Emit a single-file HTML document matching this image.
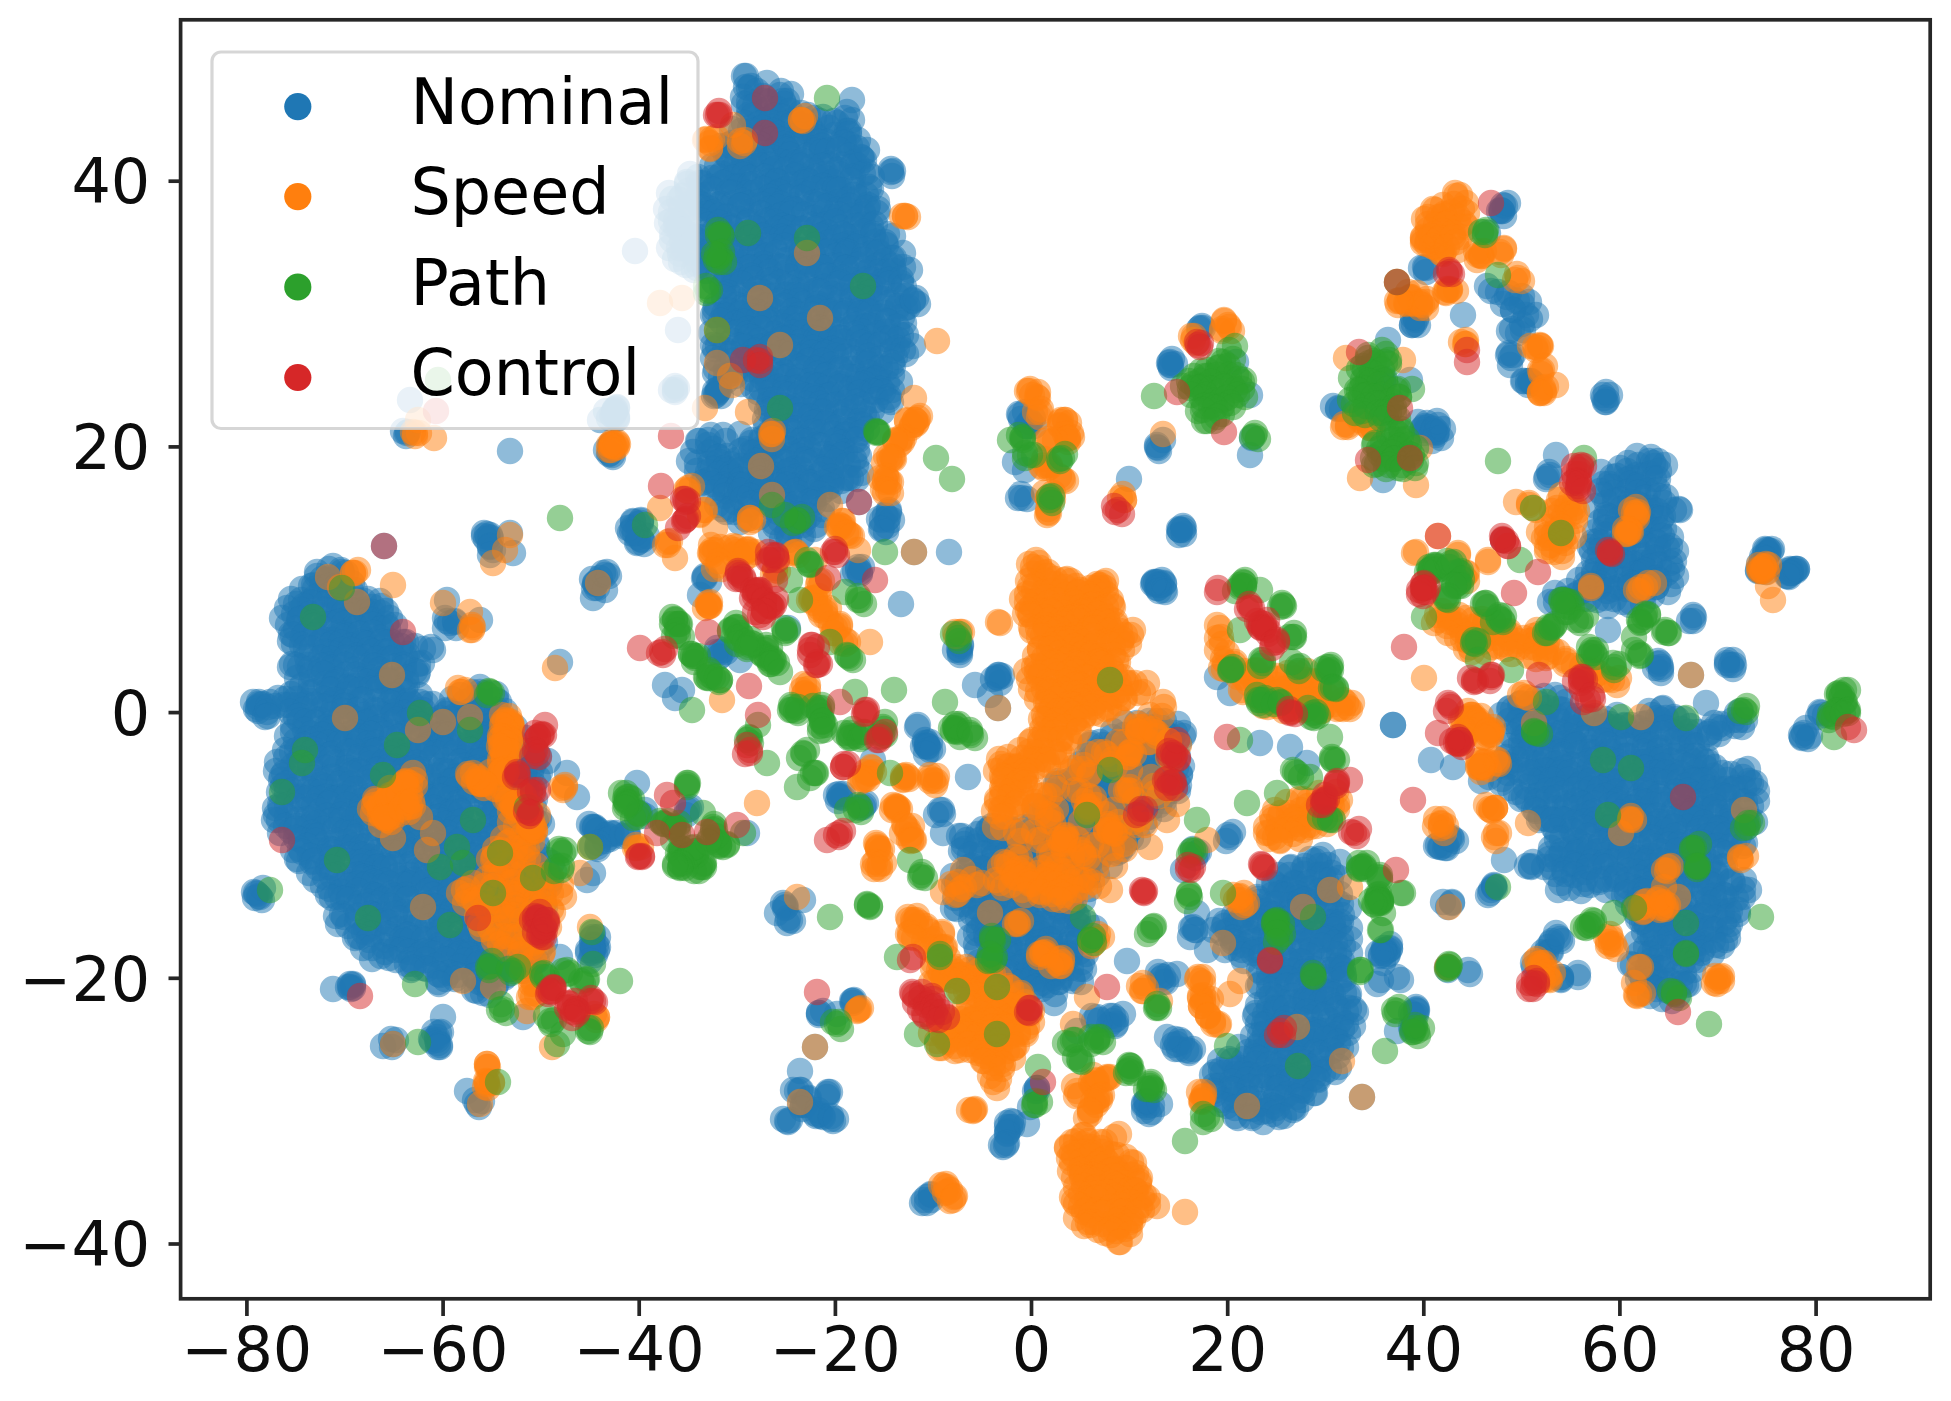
<!DOCTYPE html>
<html><head><meta charset="utf-8"><title>t-SNE scatter</title>
<style>
html,body{margin:0;padding:0;background:#fff;}
body{width:1951px;height:1401px;overflow:hidden;}
svg{display:block;font-family:"DejaVu Sans","Liberation Sans",sans-serif;font-size:62px;}
</style></head><body>
<svg width="1951" height="1401" viewBox="0 0 1951 1401">
<rect width="1951" height="1401" fill="#fff"/>
<clipPath id="cp"><rect x="180" y="20" width="1750" height="1278"/></clipPath>
<g clip-path="url(#cp)" fill-opacity="0.5">
<g fill="#1f77b4">
<circle cx="317" cy="572" r="13.2"/>
<circle cx="329" cy="569" r="13.2"/>
<circle cx="333" cy="566" r="13.2"/>
<circle cx="341" cy="570" r="13.2"/>
<circle cx="317" cy="576" r="13.2"/>
<circle cx="322" cy="579" r="13.2"/>
<circle cx="330" cy="578" r="13.2"/>
<circle cx="342" cy="572" r="13.2"/>
<circle cx="346" cy="573" r="13.2"/>
<circle cx="311" cy="586" r="13.2"/>
<circle cx="314" cy="585" r="13.2"/>
<circle cx="327" cy="580" r="13.2"/>
<circle cx="338" cy="587" r="13.2"/>
<circle cx="341" cy="587" r="13.2"/>
<circle cx="352" cy="583" r="13.2"/>
<circle cx="302" cy="589" r="13.2"/>
<circle cx="315" cy="589" r="13.2"/>
<circle cx="322" cy="588" r="13.2"/>
<circle cx="329" cy="586" r="13.2"/>
<circle cx="337" cy="586" r="13.2"/>
<circle cx="351" cy="591" r="13.2"/>
<circle cx="355" cy="590" r="13.2"/>
<circle cx="291" cy="599" r="13.2"/>
<circle cx="301" cy="600" r="13.2"/>
<circle cx="310" cy="602" r="13.2"/>
<circle cx="316" cy="597" r="13.2"/>
<circle cx="330" cy="595" r="13.2"/>
<circle cx="337" cy="600" r="13.2"/>
<circle cx="340" cy="601" r="13.2"/>
<circle cx="357" cy="600" r="13.2"/>
<circle cx="364" cy="601" r="13.2"/>
<circle cx="368" cy="599" r="13.2"/>
<circle cx="380" cy="601" r="13.2"/>
<circle cx="287" cy="608" r="13.2"/>
<circle cx="296" cy="604" r="13.2"/>
<circle cx="304" cy="606" r="13.2"/>
<circle cx="312" cy="603" r="13.2"/>
<circle cx="325" cy="604" r="13.2"/>
<circle cx="335" cy="610" r="13.2"/>
<circle cx="335" cy="606" r="13.2"/>
<circle cx="351" cy="610" r="13.2"/>
<circle cx="357" cy="604" r="13.2"/>
<circle cx="364" cy="610" r="13.2"/>
<circle cx="373" cy="607" r="13.2"/>
<circle cx="381" cy="606" r="13.2"/>
<circle cx="282" cy="618" r="13.2"/>
<circle cx="294" cy="614" r="13.2"/>
<circle cx="301" cy="610" r="13.2"/>
<circle cx="310" cy="614" r="13.2"/>
<circle cx="319" cy="615" r="13.2"/>
<circle cx="324" cy="610" r="13.2"/>
<circle cx="339" cy="611" r="13.2"/>
<circle cx="344" cy="613" r="13.2"/>
<circle cx="351" cy="616" r="13.2"/>
<circle cx="366" cy="612" r="13.2"/>
<circle cx="372" cy="612" r="13.2"/>
<circle cx="381" cy="613" r="13.2"/>
<circle cx="386" cy="611" r="13.2"/>
<circle cx="288" cy="625" r="13.2"/>
<circle cx="299" cy="620" r="13.2"/>
<circle cx="300" cy="619" r="13.2"/>
<circle cx="313" cy="623" r="13.2"/>
<circle cx="325" cy="624" r="13.2"/>
<circle cx="332" cy="624" r="13.2"/>
<circle cx="339" cy="622" r="13.2"/>
<circle cx="344" cy="624" r="13.2"/>
<circle cx="355" cy="626" r="13.2"/>
<circle cx="368" cy="620" r="13.2"/>
<circle cx="372" cy="620" r="13.2"/>
<circle cx="386" cy="624" r="13.2"/>
<circle cx="390" cy="618" r="13.2"/>
<circle cx="291" cy="634" r="13.2"/>
<circle cx="296" cy="629" r="13.2"/>
<circle cx="305" cy="634" r="13.2"/>
<circle cx="314" cy="626" r="13.2"/>
<circle cx="322" cy="629" r="13.2"/>
<circle cx="339" cy="633" r="13.2"/>
<circle cx="346" cy="634" r="13.2"/>
<circle cx="357" cy="628" r="13.2"/>
<circle cx="359" cy="634" r="13.2"/>
<circle cx="373" cy="625" r="13.2"/>
<circle cx="381" cy="629" r="13.2"/>
<circle cx="388" cy="628" r="13.2"/>
<circle cx="395" cy="625" r="13.2"/>
<circle cx="290" cy="641" r="13.2"/>
<circle cx="293" cy="635" r="13.2"/>
<circle cx="303" cy="637" r="13.2"/>
<circle cx="316" cy="635" r="13.2"/>
<circle cx="324" cy="640" r="13.2"/>
<circle cx="333" cy="640" r="13.2"/>
<circle cx="340" cy="636" r="13.2"/>
<circle cx="347" cy="636" r="13.2"/>
<circle cx="360" cy="634" r="13.2"/>
<circle cx="364" cy="640" r="13.2"/>
<circle cx="373" cy="633" r="13.2"/>
<circle cx="380" cy="638" r="13.2"/>
<circle cx="392" cy="642" r="13.2"/>
<circle cx="406" cy="642" r="13.2"/>
<circle cx="294" cy="644" r="13.2"/>
<circle cx="302" cy="645" r="13.2"/>
<circle cx="306" cy="648" r="13.2"/>
<circle cx="321" cy="642" r="13.2"/>
<circle cx="327" cy="646" r="13.2"/>
<circle cx="332" cy="644" r="13.2"/>
<circle cx="341" cy="643" r="13.2"/>
<circle cx="351" cy="646" r="13.2"/>
<circle cx="363" cy="643" r="13.2"/>
<circle cx="367" cy="644" r="13.2"/>
<circle cx="382" cy="642" r="13.2"/>
<circle cx="387" cy="643" r="13.2"/>
<circle cx="401" cy="646" r="13.2"/>
<circle cx="403" cy="642" r="13.2"/>
<circle cx="415" cy="646" r="13.2"/>
<circle cx="431" cy="647" r="13.2"/>
<circle cx="307" cy="657" r="13.2"/>
<circle cx="312" cy="649" r="13.2"/>
<circle cx="325" cy="652" r="13.2"/>
<circle cx="334" cy="654" r="13.2"/>
<circle cx="342" cy="650" r="13.2"/>
<circle cx="351" cy="650" r="13.2"/>
<circle cx="357" cy="656" r="13.2"/>
<circle cx="369" cy="650" r="13.2"/>
<circle cx="373" cy="652" r="13.2"/>
<circle cx="385" cy="652" r="13.2"/>
<circle cx="390" cy="651" r="13.2"/>
<circle cx="405" cy="657" r="13.2"/>
<circle cx="407" cy="654" r="13.2"/>
<circle cx="423" cy="649" r="13.2"/>
<circle cx="433" cy="650" r="13.2"/>
<circle cx="292" cy="664" r="13.2"/>
<circle cx="296" cy="665" r="13.2"/>
<circle cx="308" cy="665" r="13.2"/>
<circle cx="321" cy="658" r="13.2"/>
<circle cx="329" cy="665" r="13.2"/>
<circle cx="331" cy="659" r="13.2"/>
<circle cx="346" cy="658" r="13.2"/>
<circle cx="357" cy="659" r="13.2"/>
<circle cx="365" cy="658" r="13.2"/>
<circle cx="371" cy="665" r="13.2"/>
<circle cx="377" cy="659" r="13.2"/>
<circle cx="389" cy="659" r="13.2"/>
<circle cx="394" cy="658" r="13.2"/>
<circle cx="404" cy="665" r="13.2"/>
<circle cx="418" cy="664" r="13.2"/>
<circle cx="422" cy="663" r="13.2"/>
<circle cx="290" cy="667" r="13.2"/>
<circle cx="300" cy="667" r="13.2"/>
<circle cx="310" cy="669" r="13.2"/>
<circle cx="322" cy="666" r="13.2"/>
<circle cx="332" cy="668" r="13.2"/>
<circle cx="336" cy="673" r="13.2"/>
<circle cx="346" cy="665" r="13.2"/>
<circle cx="354" cy="670" r="13.2"/>
<circle cx="370" cy="671" r="13.2"/>
<circle cx="375" cy="666" r="13.2"/>
<circle cx="380" cy="670" r="13.2"/>
<circle cx="394" cy="667" r="13.2"/>
<circle cx="404" cy="668" r="13.2"/>
<circle cx="415" cy="671" r="13.2"/>
<circle cx="418" cy="672" r="13.2"/>
<circle cx="297" cy="678" r="13.2"/>
<circle cx="312" cy="674" r="13.2"/>
<circle cx="320" cy="672" r="13.2"/>
<circle cx="324" cy="674" r="13.2"/>
<circle cx="337" cy="680" r="13.2"/>
<circle cx="346" cy="675" r="13.2"/>
<circle cx="356" cy="675" r="13.2"/>
<circle cx="360" cy="680" r="13.2"/>
<circle cx="372" cy="678" r="13.2"/>
<circle cx="381" cy="681" r="13.2"/>
<circle cx="389" cy="679" r="13.2"/>
<circle cx="400" cy="680" r="13.2"/>
<circle cx="406" cy="678" r="13.2"/>
<circle cx="417" cy="675" r="13.2"/>
<circle cx="302" cy="686" r="13.2"/>
<circle cx="311" cy="683" r="13.2"/>
<circle cx="326" cy="684" r="13.2"/>
<circle cx="334" cy="685" r="13.2"/>
<circle cx="335" cy="683" r="13.2"/>
<circle cx="348" cy="687" r="13.2"/>
<circle cx="356" cy="686" r="13.2"/>
<circle cx="367" cy="682" r="13.2"/>
<circle cx="379" cy="680" r="13.2"/>
<circle cx="387" cy="681" r="13.2"/>
<circle cx="389" cy="681" r="13.2"/>
<circle cx="405" cy="688" r="13.2"/>
<circle cx="407" cy="684" r="13.2"/>
<circle cx="480" cy="687" r="13.2"/>
<circle cx="291" cy="694" r="13.2"/>
<circle cx="296" cy="691" r="13.2"/>
<circle cx="310" cy="693" r="13.2"/>
<circle cx="314" cy="692" r="13.2"/>
<circle cx="329" cy="690" r="13.2"/>
<circle cx="332" cy="690" r="13.2"/>
<circle cx="346" cy="695" r="13.2"/>
<circle cx="350" cy="689" r="13.2"/>
<circle cx="360" cy="690" r="13.2"/>
<circle cx="371" cy="689" r="13.2"/>
<circle cx="378" cy="689" r="13.2"/>
<circle cx="393" cy="694" r="13.2"/>
<circle cx="394" cy="696" r="13.2"/>
<circle cx="403" cy="691" r="13.2"/>
<circle cx="420" cy="695" r="13.2"/>
<circle cx="460" cy="695" r="13.2"/>
<circle cx="472" cy="692" r="13.2"/>
<circle cx="480" cy="692" r="13.2"/>
<circle cx="485" cy="693" r="13.2"/>
<circle cx="496" cy="694" r="13.2"/>
<circle cx="270" cy="702" r="13.2"/>
<circle cx="278" cy="698" r="13.2"/>
<circle cx="285" cy="699" r="13.2"/>
<circle cx="296" cy="699" r="13.2"/>
<circle cx="305" cy="704" r="13.2"/>
<circle cx="310" cy="701" r="13.2"/>
<circle cx="324" cy="699" r="13.2"/>
<circle cx="330" cy="704" r="13.2"/>
<circle cx="335" cy="700" r="13.2"/>
<circle cx="345" cy="702" r="13.2"/>
<circle cx="361" cy="700" r="13.2"/>
<circle cx="363" cy="700" r="13.2"/>
<circle cx="376" cy="702" r="13.2"/>
<circle cx="385" cy="701" r="13.2"/>
<circle cx="396" cy="700" r="13.2"/>
<circle cx="402" cy="704" r="13.2"/>
<circle cx="409" cy="701" r="13.2"/>
<circle cx="420" cy="702" r="13.2"/>
<circle cx="426" cy="704" r="13.2"/>
<circle cx="452" cy="699" r="13.2"/>
<circle cx="465" cy="702" r="13.2"/>
<circle cx="473" cy="698" r="13.2"/>
<circle cx="481" cy="702" r="13.2"/>
<circle cx="496" cy="700" r="13.2"/>
<circle cx="499" cy="702" r="13.2"/>
<circle cx="263" cy="704" r="13.2"/>
<circle cx="275" cy="706" r="13.2"/>
<circle cx="284" cy="705" r="13.2"/>
<circle cx="289" cy="705" r="13.2"/>
<circle cx="298" cy="705" r="13.2"/>
<circle cx="304" cy="710" r="13.2"/>
<circle cx="315" cy="705" r="13.2"/>
<circle cx="324" cy="707" r="13.2"/>
<circle cx="334" cy="709" r="13.2"/>
<circle cx="345" cy="706" r="13.2"/>
<circle cx="357" cy="711" r="13.2"/>
<circle cx="358" cy="710" r="13.2"/>
<circle cx="375" cy="710" r="13.2"/>
<circle cx="377" cy="711" r="13.2"/>
<circle cx="390" cy="703" r="13.2"/>
<circle cx="394" cy="712" r="13.2"/>
<circle cx="408" cy="705" r="13.2"/>
<circle cx="412" cy="704" r="13.2"/>
<circle cx="423" cy="710" r="13.2"/>
<circle cx="433" cy="704" r="13.2"/>
<circle cx="447" cy="710" r="13.2"/>
<circle cx="449" cy="711" r="13.2"/>
<circle cx="462" cy="710" r="13.2"/>
<circle cx="472" cy="711" r="13.2"/>
<circle cx="482" cy="711" r="13.2"/>
<circle cx="485" cy="709" r="13.2"/>
<circle cx="497" cy="710" r="13.2"/>
<circle cx="505" cy="711" r="13.2"/>
<circle cx="290" cy="712" r="13.2"/>
<circle cx="296" cy="717" r="13.2"/>
<circle cx="299" cy="716" r="13.2"/>
<circle cx="314" cy="719" r="13.2"/>
<circle cx="320" cy="720" r="13.2"/>
<circle cx="331" cy="715" r="13.2"/>
<circle cx="343" cy="711" r="13.2"/>
<circle cx="350" cy="716" r="13.2"/>
<circle cx="356" cy="719" r="13.2"/>
<circle cx="365" cy="715" r="13.2"/>
<circle cx="376" cy="718" r="13.2"/>
<circle cx="382" cy="715" r="13.2"/>
<circle cx="393" cy="716" r="13.2"/>
<circle cx="405" cy="713" r="13.2"/>
<circle cx="414" cy="714" r="13.2"/>
<circle cx="421" cy="713" r="13.2"/>
<circle cx="430" cy="720" r="13.2"/>
<circle cx="440" cy="718" r="13.2"/>
<circle cx="446" cy="714" r="13.2"/>
<circle cx="455" cy="716" r="13.2"/>
<circle cx="467" cy="718" r="13.2"/>
<circle cx="470" cy="717" r="13.2"/>
<circle cx="487" cy="716" r="13.2"/>
<circle cx="488" cy="714" r="13.2"/>
<circle cx="497" cy="713" r="13.2"/>
<circle cx="293" cy="726" r="13.2"/>
<circle cx="300" cy="721" r="13.2"/>
<circle cx="306" cy="722" r="13.2"/>
<circle cx="315" cy="723" r="13.2"/>
<circle cx="327" cy="727" r="13.2"/>
<circle cx="331" cy="724" r="13.2"/>
<circle cx="340" cy="720" r="13.2"/>
<circle cx="356" cy="724" r="13.2"/>
<circle cx="366" cy="723" r="13.2"/>
<circle cx="367" cy="722" r="13.2"/>
<circle cx="381" cy="727" r="13.2"/>
<circle cx="393" cy="723" r="13.2"/>
<circle cx="397" cy="720" r="13.2"/>
<circle cx="408" cy="721" r="13.2"/>
<circle cx="413" cy="719" r="13.2"/>
<circle cx="421" cy="725" r="13.2"/>
<circle cx="431" cy="727" r="13.2"/>
<circle cx="439" cy="726" r="13.2"/>
<circle cx="449" cy="719" r="13.2"/>
<circle cx="463" cy="721" r="13.2"/>
<circle cx="472" cy="720" r="13.2"/>
<circle cx="475" cy="726" r="13.2"/>
<circle cx="490" cy="726" r="13.2"/>
<circle cx="499" cy="719" r="13.2"/>
<circle cx="507" cy="725" r="13.2"/>
<circle cx="515" cy="727" r="13.2"/>
<circle cx="293" cy="732" r="13.2"/>
<circle cx="305" cy="730" r="13.2"/>
<circle cx="311" cy="734" r="13.2"/>
<circle cx="326" cy="733" r="13.2"/>
<circle cx="331" cy="729" r="13.2"/>
<circle cx="336" cy="735" r="13.2"/>
<circle cx="350" cy="734" r="13.2"/>
<circle cx="356" cy="732" r="13.2"/>
<circle cx="371" cy="734" r="13.2"/>
<circle cx="376" cy="729" r="13.2"/>
<circle cx="384" cy="734" r="13.2"/>
<circle cx="392" cy="733" r="13.2"/>
<circle cx="403" cy="734" r="13.2"/>
<circle cx="414" cy="729" r="13.2"/>
<circle cx="416" cy="729" r="13.2"/>
<circle cx="429" cy="732" r="13.2"/>
<circle cx="441" cy="734" r="13.2"/>
<circle cx="443" cy="734" r="13.2"/>
<circle cx="459" cy="734" r="13.2"/>
<circle cx="466" cy="729" r="13.2"/>
<circle cx="478" cy="734" r="13.2"/>
<circle cx="485" cy="735" r="13.2"/>
<circle cx="491" cy="727" r="13.2"/>
<circle cx="502" cy="734" r="13.2"/>
<circle cx="508" cy="733" r="13.2"/>
<circle cx="287" cy="736" r="13.2"/>
<circle cx="296" cy="741" r="13.2"/>
<circle cx="307" cy="739" r="13.2"/>
<circle cx="316" cy="739" r="13.2"/>
<circle cx="323" cy="735" r="13.2"/>
<circle cx="339" cy="738" r="13.2"/>
<circle cx="340" cy="740" r="13.2"/>
<circle cx="356" cy="736" r="13.2"/>
<circle cx="363" cy="737" r="13.2"/>
<circle cx="371" cy="734" r="13.2"/>
<circle cx="376" cy="743" r="13.2"/>
<circle cx="392" cy="739" r="13.2"/>
<circle cx="399" cy="737" r="13.2"/>
<circle cx="410" cy="738" r="13.2"/>
<circle cx="420" cy="741" r="13.2"/>
<circle cx="428" cy="743" r="13.2"/>
<circle cx="432" cy="735" r="13.2"/>
<circle cx="440" cy="736" r="13.2"/>
<circle cx="448" cy="735" r="13.2"/>
<circle cx="462" cy="742" r="13.2"/>
<circle cx="470" cy="743" r="13.2"/>
<circle cx="483" cy="735" r="13.2"/>
<circle cx="489" cy="738" r="13.2"/>
<circle cx="494" cy="743" r="13.2"/>
<circle cx="504" cy="739" r="13.2"/>
<circle cx="516" cy="743" r="13.2"/>
<circle cx="526" cy="738" r="13.2"/>
<circle cx="297" cy="750" r="13.2"/>
<circle cx="305" cy="745" r="13.2"/>
<circle cx="313" cy="749" r="13.2"/>
<circle cx="318" cy="745" r="13.2"/>
<circle cx="328" cy="743" r="13.2"/>
<circle cx="339" cy="744" r="13.2"/>
<circle cx="346" cy="743" r="13.2"/>
<circle cx="359" cy="742" r="13.2"/>
<circle cx="368" cy="744" r="13.2"/>
<circle cx="371" cy="750" r="13.2"/>
<circle cx="382" cy="750" r="13.2"/>
<circle cx="397" cy="750" r="13.2"/>
<circle cx="399" cy="746" r="13.2"/>
<circle cx="408" cy="750" r="13.2"/>
<circle cx="424" cy="748" r="13.2"/>
<circle cx="429" cy="745" r="13.2"/>
<circle cx="441" cy="746" r="13.2"/>
<circle cx="449" cy="743" r="13.2"/>
<circle cx="454" cy="743" r="13.2"/>
<circle cx="467" cy="747" r="13.2"/>
<circle cx="471" cy="750" r="13.2"/>
<circle cx="481" cy="746" r="13.2"/>
<circle cx="489" cy="744" r="13.2"/>
<circle cx="505" cy="745" r="13.2"/>
<circle cx="508" cy="746" r="13.2"/>
<circle cx="518" cy="750" r="13.2"/>
<circle cx="525" cy="751" r="13.2"/>
<circle cx="534" cy="750" r="13.2"/>
<circle cx="285" cy="750" r="13.2"/>
<circle cx="292" cy="752" r="13.2"/>
<circle cx="303" cy="750" r="13.2"/>
<circle cx="311" cy="753" r="13.2"/>
<circle cx="314" cy="750" r="13.2"/>
<circle cx="329" cy="755" r="13.2"/>
<circle cx="332" cy="754" r="13.2"/>
<circle cx="348" cy="752" r="13.2"/>
<circle cx="354" cy="751" r="13.2"/>
<circle cx="359" cy="757" r="13.2"/>
<circle cx="373" cy="752" r="13.2"/>
<circle cx="376" cy="751" r="13.2"/>
<circle cx="390" cy="754" r="13.2"/>
<circle cx="396" cy="752" r="13.2"/>
<circle cx="408" cy="756" r="13.2"/>
<circle cx="419" cy="755" r="13.2"/>
<circle cx="422" cy="750" r="13.2"/>
<circle cx="436" cy="753" r="13.2"/>
<circle cx="445" cy="750" r="13.2"/>
<circle cx="455" cy="753" r="13.2"/>
<circle cx="464" cy="758" r="13.2"/>
<circle cx="470" cy="750" r="13.2"/>
<circle cx="483" cy="754" r="13.2"/>
<circle cx="491" cy="752" r="13.2"/>
<circle cx="494" cy="757" r="13.2"/>
<circle cx="505" cy="751" r="13.2"/>
<circle cx="514" cy="755" r="13.2"/>
<circle cx="520" cy="754" r="13.2"/>
<circle cx="533" cy="754" r="13.2"/>
<circle cx="539" cy="756" r="13.2"/>
<circle cx="277" cy="762" r="13.2"/>
<circle cx="286" cy="758" r="13.2"/>
<circle cx="299" cy="760" r="13.2"/>
<circle cx="301" cy="759" r="13.2"/>
<circle cx="310" cy="765" r="13.2"/>
<circle cx="317" cy="758" r="13.2"/>
<circle cx="332" cy="759" r="13.2"/>
<circle cx="335" cy="763" r="13.2"/>
<circle cx="349" cy="762" r="13.2"/>
<circle cx="359" cy="759" r="13.2"/>
<circle cx="370" cy="764" r="13.2"/>
<circle cx="371" cy="759" r="13.2"/>
<circle cx="384" cy="762" r="13.2"/>
<circle cx="392" cy="759" r="13.2"/>
<circle cx="402" cy="759" r="13.2"/>
<circle cx="412" cy="765" r="13.2"/>
<circle cx="417" cy="763" r="13.2"/>
<circle cx="432" cy="759" r="13.2"/>
<circle cx="441" cy="766" r="13.2"/>
<circle cx="446" cy="761" r="13.2"/>
<circle cx="460" cy="762" r="13.2"/>
<circle cx="465" cy="766" r="13.2"/>
<circle cx="477" cy="761" r="13.2"/>
<circle cx="481" cy="761" r="13.2"/>
<circle cx="492" cy="766" r="13.2"/>
<circle cx="504" cy="766" r="13.2"/>
<circle cx="513" cy="765" r="13.2"/>
<circle cx="515" cy="762" r="13.2"/>
<circle cx="533" cy="766" r="13.2"/>
<circle cx="535" cy="761" r="13.2"/>
<circle cx="548" cy="761" r="13.2"/>
<circle cx="276" cy="771" r="13.2"/>
<circle cx="284" cy="773" r="13.2"/>
<circle cx="293" cy="766" r="13.2"/>
<circle cx="300" cy="768" r="13.2"/>
<circle cx="310" cy="768" r="13.2"/>
<circle cx="317" cy="774" r="13.2"/>
<circle cx="327" cy="768" r="13.2"/>
<circle cx="335" cy="769" r="13.2"/>
<circle cx="348" cy="768" r="13.2"/>
<circle cx="351" cy="771" r="13.2"/>
<circle cx="359" cy="771" r="13.2"/>
<circle cx="375" cy="770" r="13.2"/>
<circle cx="378" cy="770" r="13.2"/>
<circle cx="389" cy="767" r="13.2"/>
<circle cx="395" cy="767" r="13.2"/>
<circle cx="405" cy="769" r="13.2"/>
<circle cx="414" cy="768" r="13.2"/>
<circle cx="421" cy="770" r="13.2"/>
<circle cx="437" cy="771" r="13.2"/>
<circle cx="444" cy="771" r="13.2"/>
<circle cx="449" cy="772" r="13.2"/>
<circle cx="461" cy="770" r="13.2"/>
<circle cx="471" cy="770" r="13.2"/>
<circle cx="477" cy="768" r="13.2"/>
<circle cx="485" cy="770" r="13.2"/>
<circle cx="496" cy="771" r="13.2"/>
<circle cx="502" cy="769" r="13.2"/>
<circle cx="518" cy="768" r="13.2"/>
<circle cx="525" cy="770" r="13.2"/>
<circle cx="531" cy="774" r="13.2"/>
<circle cx="540" cy="772" r="13.2"/>
<circle cx="281" cy="780" r="13.2"/>
<circle cx="282" cy="776" r="13.2"/>
<circle cx="293" cy="779" r="13.2"/>
<circle cx="305" cy="781" r="13.2"/>
<circle cx="315" cy="778" r="13.2"/>
<circle cx="324" cy="780" r="13.2"/>
<circle cx="333" cy="777" r="13.2"/>
<circle cx="342" cy="780" r="13.2"/>
<circle cx="352" cy="774" r="13.2"/>
<circle cx="361" cy="773" r="13.2"/>
<circle cx="369" cy="778" r="13.2"/>
<circle cx="375" cy="782" r="13.2"/>
<circle cx="385" cy="777" r="13.2"/>
<circle cx="396" cy="781" r="13.2"/>
<circle cx="403" cy="777" r="13.2"/>
<circle cx="411" cy="777" r="13.2"/>
<circle cx="423" cy="776" r="13.2"/>
<circle cx="429" cy="778" r="13.2"/>
<circle cx="437" cy="776" r="13.2"/>
<circle cx="450" cy="781" r="13.2"/>
<circle cx="456" cy="777" r="13.2"/>
<circle cx="463" cy="776" r="13.2"/>
<circle cx="471" cy="778" r="13.2"/>
<circle cx="484" cy="774" r="13.2"/>
<circle cx="496" cy="776" r="13.2"/>
<circle cx="505" cy="781" r="13.2"/>
<circle cx="515" cy="775" r="13.2"/>
<circle cx="519" cy="781" r="13.2"/>
<circle cx="524" cy="774" r="13.2"/>
<circle cx="538" cy="778" r="13.2"/>
<circle cx="283" cy="786" r="13.2"/>
<circle cx="286" cy="784" r="13.2"/>
<circle cx="298" cy="786" r="13.2"/>
<circle cx="309" cy="789" r="13.2"/>
<circle cx="321" cy="785" r="13.2"/>
<circle cx="325" cy="787" r="13.2"/>
<circle cx="339" cy="784" r="13.2"/>
<circle cx="344" cy="788" r="13.2"/>
<circle cx="350" cy="784" r="13.2"/>
<circle cx="366" cy="788" r="13.2"/>
<circle cx="371" cy="782" r="13.2"/>
<circle cx="384" cy="787" r="13.2"/>
<circle cx="392" cy="790" r="13.2"/>
<circle cx="401" cy="785" r="13.2"/>
<circle cx="404" cy="784" r="13.2"/>
<circle cx="416" cy="786" r="13.2"/>
<circle cx="422" cy="783" r="13.2"/>
<circle cx="435" cy="786" r="13.2"/>
<circle cx="442" cy="790" r="13.2"/>
<circle cx="453" cy="781" r="13.2"/>
<circle cx="460" cy="788" r="13.2"/>
<circle cx="468" cy="787" r="13.2"/>
<circle cx="475" cy="784" r="13.2"/>
<circle cx="491" cy="786" r="13.2"/>
<circle cx="499" cy="783" r="13.2"/>
<circle cx="506" cy="786" r="13.2"/>
<circle cx="513" cy="787" r="13.2"/>
<circle cx="524" cy="790" r="13.2"/>
<circle cx="534" cy="785" r="13.2"/>
<circle cx="279" cy="792" r="13.2"/>
<circle cx="287" cy="792" r="13.2"/>
<circle cx="292" cy="791" r="13.2"/>
<circle cx="300" cy="797" r="13.2"/>
<circle cx="313" cy="792" r="13.2"/>
<circle cx="321" cy="792" r="13.2"/>
<circle cx="326" cy="797" r="13.2"/>
<circle cx="340" cy="797" r="13.2"/>
<circle cx="348" cy="794" r="13.2"/>
<circle cx="355" cy="789" r="13.2"/>
<circle cx="370" cy="796" r="13.2"/>
<circle cx="374" cy="797" r="13.2"/>
<circle cx="387" cy="792" r="13.2"/>
<circle cx="394" cy="797" r="13.2"/>
<circle cx="402" cy="797" r="13.2"/>
<circle cx="409" cy="792" r="13.2"/>
<circle cx="422" cy="791" r="13.2"/>
<circle cx="428" cy="797" r="13.2"/>
<circle cx="438" cy="796" r="13.2"/>
<circle cx="445" cy="790" r="13.2"/>
<circle cx="455" cy="790" r="13.2"/>
<circle cx="470" cy="791" r="13.2"/>
<circle cx="475" cy="790" r="13.2"/>
<circle cx="484" cy="792" r="13.2"/>
<circle cx="492" cy="789" r="13.2"/>
<circle cx="498" cy="796" r="13.2"/>
<circle cx="509" cy="791" r="13.2"/>
<circle cx="517" cy="791" r="13.2"/>
<circle cx="526" cy="789" r="13.2"/>
<circle cx="280" cy="805" r="13.2"/>
<circle cx="287" cy="805" r="13.2"/>
<circle cx="299" cy="799" r="13.2"/>
<circle cx="308" cy="798" r="13.2"/>
<circle cx="319" cy="799" r="13.2"/>
<circle cx="330" cy="802" r="13.2"/>
<circle cx="334" cy="799" r="13.2"/>
<circle cx="345" cy="798" r="13.2"/>
<circle cx="356" cy="798" r="13.2"/>
<circle cx="362" cy="801" r="13.2"/>
<circle cx="369" cy="804" r="13.2"/>
<circle cx="379" cy="802" r="13.2"/>
<circle cx="390" cy="799" r="13.2"/>
<circle cx="397" cy="797" r="13.2"/>
<circle cx="404" cy="804" r="13.2"/>
<circle cx="414" cy="803" r="13.2"/>
<circle cx="421" cy="802" r="13.2"/>
<circle cx="433" cy="801" r="13.2"/>
<circle cx="441" cy="797" r="13.2"/>
<circle cx="450" cy="799" r="13.2"/>
<circle cx="458" cy="803" r="13.2"/>
<circle cx="468" cy="800" r="13.2"/>
<circle cx="483" cy="804" r="13.2"/>
<circle cx="491" cy="804" r="13.2"/>
<circle cx="494" cy="799" r="13.2"/>
<circle cx="502" cy="803" r="13.2"/>
<circle cx="516" cy="800" r="13.2"/>
<circle cx="523" cy="803" r="13.2"/>
<circle cx="535" cy="799" r="13.2"/>
<circle cx="275" cy="808" r="13.2"/>
<circle cx="281" cy="807" r="13.2"/>
<circle cx="296" cy="806" r="13.2"/>
<circle cx="307" cy="810" r="13.2"/>
<circle cx="314" cy="807" r="13.2"/>
<circle cx="321" cy="811" r="13.2"/>
<circle cx="329" cy="804" r="13.2"/>
<circle cx="343" cy="811" r="13.2"/>
<circle cx="347" cy="805" r="13.2"/>
<circle cx="361" cy="810" r="13.2"/>
<circle cx="362" cy="807" r="13.2"/>
<circle cx="372" cy="811" r="13.2"/>
<circle cx="382" cy="813" r="13.2"/>
<circle cx="396" cy="805" r="13.2"/>
<circle cx="404" cy="808" r="13.2"/>
<circle cx="414" cy="812" r="13.2"/>
<circle cx="419" cy="805" r="13.2"/>
<circle cx="434" cy="808" r="13.2"/>
<circle cx="442" cy="811" r="13.2"/>
<circle cx="450" cy="812" r="13.2"/>
<circle cx="458" cy="808" r="13.2"/>
<circle cx="461" cy="811" r="13.2"/>
<circle cx="474" cy="809" r="13.2"/>
<circle cx="487" cy="806" r="13.2"/>
<circle cx="495" cy="805" r="13.2"/>
<circle cx="503" cy="812" r="13.2"/>
<circle cx="508" cy="809" r="13.2"/>
<circle cx="524" cy="810" r="13.2"/>
<circle cx="529" cy="807" r="13.2"/>
<circle cx="534" cy="808" r="13.2"/>
<circle cx="276" cy="815" r="13.2"/>
<circle cx="279" cy="820" r="13.2"/>
<circle cx="287" cy="817" r="13.2"/>
<circle cx="298" cy="820" r="13.2"/>
<circle cx="308" cy="819" r="13.2"/>
<circle cx="314" cy="818" r="13.2"/>
<circle cx="327" cy="816" r="13.2"/>
<circle cx="337" cy="820" r="13.2"/>
<circle cx="341" cy="815" r="13.2"/>
<circle cx="352" cy="814" r="13.2"/>
<circle cx="358" cy="815" r="13.2"/>
<circle cx="368" cy="818" r="13.2"/>
<circle cx="380" cy="813" r="13.2"/>
<circle cx="387" cy="816" r="13.2"/>
<circle cx="397" cy="814" r="13.2"/>
<circle cx="403" cy="812" r="13.2"/>
<circle cx="420" cy="819" r="13.2"/>
<circle cx="421" cy="819" r="13.2"/>
<circle cx="438" cy="817" r="13.2"/>
<circle cx="439" cy="817" r="13.2"/>
<circle cx="451" cy="814" r="13.2"/>
<circle cx="461" cy="812" r="13.2"/>
<circle cx="474" cy="818" r="13.2"/>
<circle cx="480" cy="821" r="13.2"/>
<circle cx="489" cy="814" r="13.2"/>
<circle cx="495" cy="813" r="13.2"/>
<circle cx="502" cy="819" r="13.2"/>
<circle cx="518" cy="815" r="13.2"/>
<circle cx="521" cy="818" r="13.2"/>
<circle cx="536" cy="821" r="13.2"/>
<circle cx="539" cy="819" r="13.2"/>
<circle cx="274" cy="820" r="13.2"/>
<circle cx="286" cy="826" r="13.2"/>
<circle cx="297" cy="826" r="13.2"/>
<circle cx="307" cy="828" r="13.2"/>
<circle cx="312" cy="824" r="13.2"/>
<circle cx="318" cy="823" r="13.2"/>
<circle cx="331" cy="821" r="13.2"/>
<circle cx="341" cy="821" r="13.2"/>
<circle cx="348" cy="829" r="13.2"/>
<circle cx="354" cy="820" r="13.2"/>
<circle cx="366" cy="822" r="13.2"/>
<circle cx="378" cy="820" r="13.2"/>
<circle cx="388" cy="828" r="13.2"/>
<circle cx="396" cy="824" r="13.2"/>
<circle cx="401" cy="826" r="13.2"/>
<circle cx="412" cy="824" r="13.2"/>
<circle cx="419" cy="824" r="13.2"/>
<circle cx="431" cy="827" r="13.2"/>
<circle cx="442" cy="821" r="13.2"/>
<circle cx="446" cy="824" r="13.2"/>
<circle cx="457" cy="823" r="13.2"/>
<circle cx="463" cy="821" r="13.2"/>
<circle cx="473" cy="824" r="13.2"/>
<circle cx="488" cy="828" r="13.2"/>
<circle cx="496" cy="829" r="13.2"/>
<circle cx="506" cy="826" r="13.2"/>
<circle cx="513" cy="820" r="13.2"/>
<circle cx="521" cy="825" r="13.2"/>
<circle cx="527" cy="825" r="13.2"/>
<circle cx="542" cy="824" r="13.2"/>
<circle cx="280" cy="833" r="13.2"/>
<circle cx="291" cy="831" r="13.2"/>
<circle cx="296" cy="829" r="13.2"/>
<circle cx="312" cy="833" r="13.2"/>
<circle cx="314" cy="836" r="13.2"/>
<circle cx="324" cy="829" r="13.2"/>
<circle cx="335" cy="830" r="13.2"/>
<circle cx="344" cy="833" r="13.2"/>
<circle cx="351" cy="833" r="13.2"/>
<circle cx="359" cy="832" r="13.2"/>
<circle cx="372" cy="828" r="13.2"/>
<circle cx="379" cy="828" r="13.2"/>
<circle cx="388" cy="836" r="13.2"/>
<circle cx="398" cy="834" r="13.2"/>
<circle cx="409" cy="829" r="13.2"/>
<circle cx="420" cy="834" r="13.2"/>
<circle cx="421" cy="835" r="13.2"/>
<circle cx="433" cy="829" r="13.2"/>
<circle cx="447" cy="833" r="13.2"/>
<circle cx="454" cy="829" r="13.2"/>
<circle cx="463" cy="828" r="13.2"/>
<circle cx="468" cy="831" r="13.2"/>
<circle cx="475" cy="833" r="13.2"/>
<circle cx="485" cy="830" r="13.2"/>
<circle cx="499" cy="832" r="13.2"/>
<circle cx="509" cy="833" r="13.2"/>
<circle cx="518" cy="833" r="13.2"/>
<circle cx="528" cy="836" r="13.2"/>
<circle cx="530" cy="834" r="13.2"/>
<circle cx="296" cy="838" r="13.2"/>
<circle cx="301" cy="840" r="13.2"/>
<circle cx="316" cy="841" r="13.2"/>
<circle cx="318" cy="836" r="13.2"/>
<circle cx="327" cy="843" r="13.2"/>
<circle cx="337" cy="841" r="13.2"/>
<circle cx="347" cy="842" r="13.2"/>
<circle cx="356" cy="837" r="13.2"/>
<circle cx="370" cy="840" r="13.2"/>
<circle cx="377" cy="843" r="13.2"/>
<circle cx="389" cy="836" r="13.2"/>
<circle cx="392" cy="837" r="13.2"/>
<circle cx="403" cy="843" r="13.2"/>
<circle cx="414" cy="836" r="13.2"/>
<circle cx="418" cy="843" r="13.2"/>
<circle cx="431" cy="839" r="13.2"/>
<circle cx="438" cy="837" r="13.2"/>
<circle cx="451" cy="839" r="13.2"/>
<circle cx="460" cy="841" r="13.2"/>
<circle cx="462" cy="839" r="13.2"/>
<circle cx="472" cy="844" r="13.2"/>
<circle cx="484" cy="836" r="13.2"/>
<circle cx="490" cy="839" r="13.2"/>
<circle cx="501" cy="841" r="13.2"/>
<circle cx="509" cy="839" r="13.2"/>
<circle cx="515" cy="841" r="13.2"/>
<circle cx="527" cy="836" r="13.2"/>
<circle cx="537" cy="844" r="13.2"/>
<circle cx="293" cy="850" r="13.2"/>
<circle cx="300" cy="849" r="13.2"/>
<circle cx="307" cy="846" r="13.2"/>
<circle cx="320" cy="851" r="13.2"/>
<circle cx="330" cy="849" r="13.2"/>
<circle cx="333" cy="850" r="13.2"/>
<circle cx="346" cy="848" r="13.2"/>
<circle cx="354" cy="846" r="13.2"/>
<circle cx="362" cy="847" r="13.2"/>
<circle cx="367" cy="846" r="13.2"/>
<circle cx="378" cy="852" r="13.2"/>
<circle cx="389" cy="847" r="13.2"/>
<circle cx="396" cy="845" r="13.2"/>
<circle cx="406" cy="845" r="13.2"/>
<circle cx="412" cy="851" r="13.2"/>
<circle cx="425" cy="847" r="13.2"/>
<circle cx="435" cy="846" r="13.2"/>
<circle cx="440" cy="844" r="13.2"/>
<circle cx="450" cy="846" r="13.2"/>
<circle cx="463" cy="848" r="13.2"/>
<circle cx="474" cy="846" r="13.2"/>
<circle cx="483" cy="849" r="13.2"/>
<circle cx="484" cy="845" r="13.2"/>
<circle cx="498" cy="852" r="13.2"/>
<circle cx="505" cy="850" r="13.2"/>
<circle cx="514" cy="851" r="13.2"/>
<circle cx="520" cy="848" r="13.2"/>
<circle cx="537" cy="846" r="13.2"/>
<circle cx="297" cy="859" r="13.2"/>
<circle cx="302" cy="852" r="13.2"/>
<circle cx="310" cy="856" r="13.2"/>
<circle cx="325" cy="857" r="13.2"/>
<circle cx="334" cy="853" r="13.2"/>
<circle cx="338" cy="858" r="13.2"/>
<circle cx="350" cy="855" r="13.2"/>
<circle cx="359" cy="854" r="13.2"/>
<circle cx="363" cy="855" r="13.2"/>
<circle cx="371" cy="857" r="13.2"/>
<circle cx="383" cy="856" r="13.2"/>
<circle cx="394" cy="853" r="13.2"/>
<circle cx="402" cy="851" r="13.2"/>
<circle cx="415" cy="856" r="13.2"/>
<circle cx="425" cy="852" r="13.2"/>
<circle cx="431" cy="858" r="13.2"/>
<circle cx="437" cy="852" r="13.2"/>
<circle cx="444" cy="852" r="13.2"/>
<circle cx="459" cy="852" r="13.2"/>
<circle cx="468" cy="855" r="13.2"/>
<circle cx="475" cy="856" r="13.2"/>
<circle cx="484" cy="857" r="13.2"/>
<circle cx="493" cy="854" r="13.2"/>
<circle cx="504" cy="853" r="13.2"/>
<circle cx="512" cy="858" r="13.2"/>
<circle cx="522" cy="854" r="13.2"/>
<circle cx="531" cy="860" r="13.2"/>
<circle cx="537" cy="854" r="13.2"/>
<circle cx="547" cy="860" r="13.2"/>
<circle cx="299" cy="861" r="13.2"/>
<circle cx="312" cy="862" r="13.2"/>
<circle cx="314" cy="861" r="13.2"/>
<circle cx="328" cy="867" r="13.2"/>
<circle cx="332" cy="859" r="13.2"/>
<circle cx="347" cy="861" r="13.2"/>
<circle cx="357" cy="863" r="13.2"/>
<circle cx="363" cy="862" r="13.2"/>
<circle cx="374" cy="863" r="13.2"/>
<circle cx="378" cy="867" r="13.2"/>
<circle cx="385" cy="866" r="13.2"/>
<circle cx="394" cy="865" r="13.2"/>
<circle cx="406" cy="867" r="13.2"/>
<circle cx="412" cy="864" r="13.2"/>
<circle cx="424" cy="867" r="13.2"/>
<circle cx="438" cy="865" r="13.2"/>
<circle cx="441" cy="861" r="13.2"/>
<circle cx="450" cy="863" r="13.2"/>
<circle cx="459" cy="861" r="13.2"/>
<circle cx="472" cy="865" r="13.2"/>
<circle cx="477" cy="868" r="13.2"/>
<circle cx="485" cy="864" r="13.2"/>
<circle cx="494" cy="867" r="13.2"/>
<circle cx="509" cy="861" r="13.2"/>
<circle cx="517" cy="866" r="13.2"/>
<circle cx="522" cy="862" r="13.2"/>
<circle cx="533" cy="867" r="13.2"/>
<circle cx="539" cy="865" r="13.2"/>
<circle cx="552" cy="863" r="13.2"/>
<circle cx="309" cy="873" r="13.2"/>
<circle cx="318" cy="868" r="13.2"/>
<circle cx="332" cy="868" r="13.2"/>
<circle cx="338" cy="875" r="13.2"/>
<circle cx="350" cy="875" r="13.2"/>
<circle cx="362" cy="867" r="13.2"/>
<circle cx="364" cy="874" r="13.2"/>
<circle cx="377" cy="867" r="13.2"/>
<circle cx="385" cy="869" r="13.2"/>
<circle cx="393" cy="868" r="13.2"/>
<circle cx="398" cy="876" r="13.2"/>
<circle cx="410" cy="875" r="13.2"/>
<circle cx="417" cy="871" r="13.2"/>
<circle cx="426" cy="871" r="13.2"/>
<circle cx="436" cy="873" r="13.2"/>
<circle cx="444" cy="873" r="13.2"/>
<circle cx="457" cy="868" r="13.2"/>
<circle cx="464" cy="871" r="13.2"/>
<circle cx="478" cy="870" r="13.2"/>
<circle cx="481" cy="875" r="13.2"/>
<circle cx="496" cy="873" r="13.2"/>
<circle cx="499" cy="868" r="13.2"/>
<circle cx="508" cy="867" r="13.2"/>
<circle cx="515" cy="871" r="13.2"/>
<circle cx="528" cy="872" r="13.2"/>
<circle cx="536" cy="867" r="13.2"/>
<circle cx="548" cy="873" r="13.2"/>
<circle cx="315" cy="880" r="13.2"/>
<circle cx="325" cy="877" r="13.2"/>
<circle cx="332" cy="876" r="13.2"/>
<circle cx="347" cy="882" r="13.2"/>
<circle cx="357" cy="875" r="13.2"/>
<circle cx="364" cy="877" r="13.2"/>
<circle cx="372" cy="879" r="13.2"/>
<circle cx="378" cy="883" r="13.2"/>
<circle cx="385" cy="881" r="13.2"/>
<circle cx="401" cy="879" r="13.2"/>
<circle cx="408" cy="883" r="13.2"/>
<circle cx="414" cy="880" r="13.2"/>
<circle cx="427" cy="878" r="13.2"/>
<circle cx="436" cy="878" r="13.2"/>
<circle cx="443" cy="880" r="13.2"/>
<circle cx="454" cy="877" r="13.2"/>
<circle cx="462" cy="879" r="13.2"/>
<circle cx="468" cy="880" r="13.2"/>
<circle cx="477" cy="883" r="13.2"/>
<circle cx="488" cy="881" r="13.2"/>
<circle cx="497" cy="879" r="13.2"/>
<circle cx="503" cy="876" r="13.2"/>
<circle cx="519" cy="879" r="13.2"/>
<circle cx="524" cy="879" r="13.2"/>
<circle cx="536" cy="877" r="13.2"/>
<circle cx="539" cy="882" r="13.2"/>
<circle cx="551" cy="880" r="13.2"/>
<circle cx="323" cy="886" r="13.2"/>
<circle cx="330" cy="889" r="13.2"/>
<circle cx="342" cy="884" r="13.2"/>
<circle cx="350" cy="886" r="13.2"/>
<circle cx="358" cy="884" r="13.2"/>
<circle cx="365" cy="885" r="13.2"/>
<circle cx="374" cy="882" r="13.2"/>
<circle cx="382" cy="887" r="13.2"/>
<circle cx="390" cy="884" r="13.2"/>
<circle cx="404" cy="885" r="13.2"/>
<circle cx="410" cy="884" r="13.2"/>
<circle cx="424" cy="883" r="13.2"/>
<circle cx="431" cy="890" r="13.2"/>
<circle cx="436" cy="886" r="13.2"/>
<circle cx="450" cy="888" r="13.2"/>
<circle cx="455" cy="883" r="13.2"/>
<circle cx="465" cy="886" r="13.2"/>
<circle cx="476" cy="885" r="13.2"/>
<circle cx="483" cy="888" r="13.2"/>
<circle cx="495" cy="885" r="13.2"/>
<circle cx="500" cy="888" r="13.2"/>
<circle cx="514" cy="884" r="13.2"/>
<circle cx="524" cy="889" r="13.2"/>
<circle cx="527" cy="888" r="13.2"/>
<circle cx="536" cy="883" r="13.2"/>
<circle cx="549" cy="886" r="13.2"/>
<circle cx="328" cy="895" r="13.2"/>
<circle cx="337" cy="897" r="13.2"/>
<circle cx="341" cy="892" r="13.2"/>
<circle cx="349" cy="897" r="13.2"/>
<circle cx="358" cy="891" r="13.2"/>
<circle cx="373" cy="895" r="13.2"/>
<circle cx="376" cy="896" r="13.2"/>
<circle cx="391" cy="894" r="13.2"/>
<circle cx="394" cy="896" r="13.2"/>
<circle cx="406" cy="895" r="13.2"/>
<circle cx="420" cy="897" r="13.2"/>
<circle cx="428" cy="891" r="13.2"/>
<circle cx="433" cy="895" r="13.2"/>
<circle cx="439" cy="899" r="13.2"/>
<circle cx="450" cy="892" r="13.2"/>
<circle cx="459" cy="892" r="13.2"/>
<circle cx="473" cy="895" r="13.2"/>
<circle cx="479" cy="894" r="13.2"/>
<circle cx="484" cy="893" r="13.2"/>
<circle cx="500" cy="897" r="13.2"/>
<circle cx="509" cy="892" r="13.2"/>
<circle cx="512" cy="891" r="13.2"/>
<circle cx="524" cy="893" r="13.2"/>
<circle cx="533" cy="895" r="13.2"/>
<circle cx="543" cy="893" r="13.2"/>
<circle cx="332" cy="898" r="13.2"/>
<circle cx="343" cy="899" r="13.2"/>
<circle cx="349" cy="900" r="13.2"/>
<circle cx="361" cy="903" r="13.2"/>
<circle cx="369" cy="902" r="13.2"/>
<circle cx="377" cy="904" r="13.2"/>
<circle cx="383" cy="900" r="13.2"/>
<circle cx="397" cy="899" r="13.2"/>
<circle cx="406" cy="900" r="13.2"/>
<circle cx="408" cy="899" r="13.2"/>
<circle cx="423" cy="906" r="13.2"/>
<circle cx="429" cy="904" r="13.2"/>
<circle cx="436" cy="906" r="13.2"/>
<circle cx="449" cy="899" r="13.2"/>
<circle cx="453" cy="904" r="13.2"/>
<circle cx="461" cy="905" r="13.2"/>
<circle cx="473" cy="900" r="13.2"/>
<circle cx="484" cy="901" r="13.2"/>
<circle cx="493" cy="899" r="13.2"/>
<circle cx="505" cy="901" r="13.2"/>
<circle cx="514" cy="899" r="13.2"/>
<circle cx="522" cy="907" r="13.2"/>
<circle cx="528" cy="898" r="13.2"/>
<circle cx="536" cy="904" r="13.2"/>
<circle cx="544" cy="903" r="13.2"/>
<circle cx="342" cy="914" r="13.2"/>
<circle cx="356" cy="908" r="13.2"/>
<circle cx="366" cy="906" r="13.2"/>
<circle cx="372" cy="914" r="13.2"/>
<circle cx="379" cy="914" r="13.2"/>
<circle cx="390" cy="906" r="13.2"/>
<circle cx="396" cy="910" r="13.2"/>
<circle cx="405" cy="912" r="13.2"/>
<circle cx="413" cy="913" r="13.2"/>
<circle cx="423" cy="906" r="13.2"/>
<circle cx="435" cy="907" r="13.2"/>
<circle cx="443" cy="913" r="13.2"/>
<circle cx="453" cy="910" r="13.2"/>
<circle cx="457" cy="910" r="13.2"/>
<circle cx="466" cy="912" r="13.2"/>
<circle cx="476" cy="911" r="13.2"/>
<circle cx="487" cy="909" r="13.2"/>
<circle cx="498" cy="907" r="13.2"/>
<circle cx="503" cy="914" r="13.2"/>
<circle cx="513" cy="913" r="13.2"/>
<circle cx="527" cy="910" r="13.2"/>
<circle cx="530" cy="907" r="13.2"/>
<circle cx="545" cy="907" r="13.2"/>
<circle cx="336" cy="916" r="13.2"/>
<circle cx="344" cy="917" r="13.2"/>
<circle cx="358" cy="916" r="13.2"/>
<circle cx="370" cy="914" r="13.2"/>
<circle cx="376" cy="916" r="13.2"/>
<circle cx="385" cy="921" r="13.2"/>
<circle cx="395" cy="914" r="13.2"/>
<circle cx="400" cy="919" r="13.2"/>
<circle cx="416" cy="914" r="13.2"/>
<circle cx="422" cy="920" r="13.2"/>
<circle cx="432" cy="917" r="13.2"/>
<circle cx="441" cy="918" r="13.2"/>
<circle cx="451" cy="914" r="13.2"/>
<circle cx="460" cy="917" r="13.2"/>
<circle cx="465" cy="914" r="13.2"/>
<circle cx="472" cy="920" r="13.2"/>
<circle cx="485" cy="915" r="13.2"/>
<circle cx="491" cy="915" r="13.2"/>
<circle cx="499" cy="915" r="13.2"/>
<circle cx="509" cy="922" r="13.2"/>
<circle cx="524" cy="921" r="13.2"/>
<circle cx="528" cy="918" r="13.2"/>
<circle cx="540" cy="922" r="13.2"/>
<circle cx="338" cy="924" r="13.2"/>
<circle cx="348" cy="926" r="13.2"/>
<circle cx="357" cy="922" r="13.2"/>
<circle cx="366" cy="928" r="13.2"/>
<circle cx="369" cy="929" r="13.2"/>
<circle cx="378" cy="923" r="13.2"/>
<circle cx="389" cy="923" r="13.2"/>
<circle cx="398" cy="929" r="13.2"/>
<circle cx="409" cy="928" r="13.2"/>
<circle cx="415" cy="928" r="13.2"/>
<circle cx="428" cy="927" r="13.2"/>
<circle cx="438" cy="929" r="13.2"/>
<circle cx="442" cy="922" r="13.2"/>
<circle cx="453" cy="929" r="13.2"/>
<circle cx="460" cy="927" r="13.2"/>
<circle cx="473" cy="928" r="13.2"/>
<circle cx="475" cy="926" r="13.2"/>
<circle cx="484" cy="922" r="13.2"/>
<circle cx="500" cy="925" r="13.2"/>
<circle cx="507" cy="925" r="13.2"/>
<circle cx="514" cy="923" r="13.2"/>
<circle cx="523" cy="929" r="13.2"/>
<circle cx="534" cy="924" r="13.2"/>
<circle cx="538" cy="924" r="13.2"/>
<circle cx="357" cy="936" r="13.2"/>
<circle cx="364" cy="932" r="13.2"/>
<circle cx="372" cy="934" r="13.2"/>
<circle cx="388" cy="934" r="13.2"/>
<circle cx="392" cy="937" r="13.2"/>
<circle cx="406" cy="935" r="13.2"/>
<circle cx="408" cy="935" r="13.2"/>
<circle cx="420" cy="938" r="13.2"/>
<circle cx="428" cy="935" r="13.2"/>
<circle cx="440" cy="932" r="13.2"/>
<circle cx="448" cy="935" r="13.2"/>
<circle cx="460" cy="934" r="13.2"/>
<circle cx="464" cy="938" r="13.2"/>
<circle cx="471" cy="937" r="13.2"/>
<circle cx="485" cy="934" r="13.2"/>
<circle cx="492" cy="936" r="13.2"/>
<circle cx="505" cy="936" r="13.2"/>
<circle cx="513" cy="929" r="13.2"/>
<circle cx="518" cy="930" r="13.2"/>
<circle cx="533" cy="937" r="13.2"/>
<circle cx="534" cy="934" r="13.2"/>
<circle cx="355" cy="938" r="13.2"/>
<circle cx="360" cy="937" r="13.2"/>
<circle cx="369" cy="940" r="13.2"/>
<circle cx="384" cy="946" r="13.2"/>
<circle cx="386" cy="940" r="13.2"/>
<circle cx="402" cy="939" r="13.2"/>
<circle cx="405" cy="941" r="13.2"/>
<circle cx="412" cy="939" r="13.2"/>
<circle cx="424" cy="940" r="13.2"/>
<circle cx="438" cy="939" r="13.2"/>
<circle cx="440" cy="945" r="13.2"/>
<circle cx="452" cy="944" r="13.2"/>
<circle cx="462" cy="944" r="13.2"/>
<circle cx="468" cy="938" r="13.2"/>
<circle cx="481" cy="941" r="13.2"/>
<circle cx="489" cy="943" r="13.2"/>
<circle cx="499" cy="939" r="13.2"/>
<circle cx="505" cy="945" r="13.2"/>
<circle cx="515" cy="939" r="13.2"/>
<circle cx="525" cy="939" r="13.2"/>
<circle cx="535" cy="937" r="13.2"/>
<circle cx="545" cy="942" r="13.2"/>
<circle cx="363" cy="948" r="13.2"/>
<circle cx="372" cy="948" r="13.2"/>
<circle cx="385" cy="952" r="13.2"/>
<circle cx="395" cy="950" r="13.2"/>
<circle cx="402" cy="950" r="13.2"/>
<circle cx="409" cy="952" r="13.2"/>
<circle cx="423" cy="952" r="13.2"/>
<circle cx="426" cy="951" r="13.2"/>
<circle cx="441" cy="949" r="13.2"/>
<circle cx="451" cy="953" r="13.2"/>
<circle cx="459" cy="952" r="13.2"/>
<circle cx="467" cy="953" r="13.2"/>
<circle cx="471" cy="951" r="13.2"/>
<circle cx="485" cy="950" r="13.2"/>
<circle cx="490" cy="945" r="13.2"/>
<circle cx="502" cy="952" r="13.2"/>
<circle cx="508" cy="947" r="13.2"/>
<circle cx="517" cy="946" r="13.2"/>
<circle cx="530" cy="953" r="13.2"/>
<circle cx="540" cy="948" r="13.2"/>
<circle cx="372" cy="959" r="13.2"/>
<circle cx="381" cy="956" r="13.2"/>
<circle cx="389" cy="958" r="13.2"/>
<circle cx="396" cy="960" r="13.2"/>
<circle cx="411" cy="960" r="13.2"/>
<circle cx="420" cy="955" r="13.2"/>
<circle cx="429" cy="953" r="13.2"/>
<circle cx="434" cy="954" r="13.2"/>
<circle cx="443" cy="959" r="13.2"/>
<circle cx="454" cy="957" r="13.2"/>
<circle cx="460" cy="954" r="13.2"/>
<circle cx="469" cy="955" r="13.2"/>
<circle cx="476" cy="959" r="13.2"/>
<circle cx="488" cy="956" r="13.2"/>
<circle cx="494" cy="959" r="13.2"/>
<circle cx="503" cy="955" r="13.2"/>
<circle cx="516" cy="959" r="13.2"/>
<circle cx="528" cy="959" r="13.2"/>
<circle cx="537" cy="961" r="13.2"/>
<circle cx="407" cy="964" r="13.2"/>
<circle cx="414" cy="964" r="13.2"/>
<circle cx="423" cy="968" r="13.2"/>
<circle cx="426" cy="960" r="13.2"/>
<circle cx="436" cy="966" r="13.2"/>
<circle cx="446" cy="960" r="13.2"/>
<circle cx="459" cy="967" r="13.2"/>
<circle cx="465" cy="961" r="13.2"/>
<circle cx="478" cy="965" r="13.2"/>
<circle cx="480" cy="963" r="13.2"/>
<circle cx="494" cy="968" r="13.2"/>
<circle cx="501" cy="966" r="13.2"/>
<circle cx="508" cy="962" r="13.2"/>
<circle cx="523" cy="964" r="13.2"/>
<circle cx="525" cy="966" r="13.2"/>
<circle cx="534" cy="962" r="13.2"/>
<circle cx="411" cy="970" r="13.2"/>
<circle cx="413" cy="968" r="13.2"/>
<circle cx="427" cy="969" r="13.2"/>
<circle cx="438" cy="974" r="13.2"/>
<circle cx="440" cy="975" r="13.2"/>
<circle cx="449" cy="973" r="13.2"/>
<circle cx="457" cy="975" r="13.2"/>
<circle cx="474" cy="976" r="13.2"/>
<circle cx="475" cy="976" r="13.2"/>
<circle cx="489" cy="975" r="13.2"/>
<circle cx="497" cy="974" r="13.2"/>
<circle cx="507" cy="975" r="13.2"/>
<circle cx="511" cy="969" r="13.2"/>
<circle cx="524" cy="971" r="13.2"/>
<circle cx="438" cy="982" r="13.2"/>
<circle cx="445" cy="979" r="13.2"/>
<circle cx="455" cy="979" r="13.2"/>
<circle cx="462" cy="980" r="13.2"/>
<circle cx="479" cy="982" r="13.2"/>
<circle cx="487" cy="983" r="13.2"/>
<circle cx="496" cy="985" r="13.2"/>
<circle cx="504" cy="978" r="13.2"/>
<circle cx="439" cy="984" r="13.2"/>
<circle cx="474" cy="990" r="13.2"/>
<circle cx="477" cy="991" r="13.2"/>
<circle cx="485" cy="985" r="13.2"/>
<circle cx="495" cy="987" r="13.2"/>
<circle cx="483" cy="993" r="13.2"/>
<circle cx="490" cy="995" r="13.2"/>
<circle cx="490" cy="535" r="13.2"/>
<circle cx="488" cy="537" r="13.2"/>
<circle cx="484" cy="533" r="13.2"/>
<circle cx="486" cy="539" r="13.2"/>
<circle cx="484" cy="536" r="13.2"/>
<circle cx="487" cy="534" r="13.2"/>
<circle cx="491" cy="538" r="13.2"/>
<circle cx="493" cy="550" r="13.2"/>
<circle cx="490" cy="547" r="13.2"/>
<circle cx="490" cy="555" r="13.2"/>
<circle cx="490" cy="546" r="13.2"/>
<circle cx="513" cy="553" r="13.2"/>
<circle cx="510" cy="533" r="13.2"/>
<circle cx="595" cy="583" r="13.2"/>
<circle cx="595" cy="584" r="13.2"/>
<circle cx="600" cy="578" r="13.2"/>
<circle cx="592" cy="579" r="13.2"/>
<circle cx="596" cy="583" r="13.2"/>
<circle cx="594" cy="588" r="13.2"/>
<circle cx="597" cy="588" r="13.2"/>
<circle cx="593" cy="598" r="13.2"/>
<circle cx="447" cy="600" r="13.2"/>
<circle cx="450" cy="623" r="13.2"/>
<circle cx="455" cy="621" r="13.2"/>
<circle cx="455" cy="622" r="13.2"/>
<circle cx="445" cy="628" r="13.2"/>
<circle cx="445" cy="618" r="13.2"/>
<circle cx="447" cy="621" r="13.2"/>
<circle cx="456" cy="628" r="13.2"/>
<circle cx="480" cy="620" r="13.2"/>
<circle cx="560" cy="662" r="13.2"/>
<circle cx="593" cy="827" r="13.2"/>
<circle cx="592" cy="827" r="13.2"/>
<circle cx="598" cy="830" r="13.2"/>
<circle cx="595" cy="827" r="13.2"/>
<circle cx="589" cy="824" r="13.2"/>
<circle cx="595" cy="828" r="13.2"/>
<circle cx="597" cy="831" r="13.2"/>
<circle cx="610" cy="837" r="13.2"/>
<circle cx="616" cy="833" r="13.2"/>
<circle cx="605" cy="841" r="13.2"/>
<circle cx="611" cy="833" r="13.2"/>
<circle cx="612" cy="834" r="13.2"/>
<circle cx="607" cy="835" r="13.2"/>
<circle cx="610" cy="839" r="13.2"/>
<circle cx="627" cy="833" r="13.2"/>
<circle cx="622" cy="836" r="13.2"/>
<circle cx="628" cy="833" r="13.2"/>
<circle cx="628" cy="836" r="13.2"/>
<circle cx="597" cy="847" r="13.2"/>
<circle cx="592" cy="846" r="13.2"/>
<circle cx="598" cy="849" r="13.2"/>
<circle cx="598" cy="843" r="13.2"/>
<circle cx="637" cy="783" r="13.2"/>
<circle cx="640" cy="813" r="13.2"/>
<circle cx="645" cy="816" r="13.2"/>
<circle cx="637" cy="813" r="13.2"/>
<circle cx="645" cy="810" r="13.2"/>
<circle cx="687" cy="810" r="13.2"/>
<circle cx="686" cy="815" r="13.2"/>
<circle cx="691" cy="807" r="13.2"/>
<circle cx="689" cy="809" r="13.2"/>
<circle cx="747" cy="833" r="13.2"/>
<circle cx="260" cy="897" r="13.2"/>
<circle cx="262" cy="900" r="13.2"/>
<circle cx="256" cy="893" r="13.2"/>
<circle cx="257" cy="894" r="13.2"/>
<circle cx="254" cy="892" r="13.2"/>
<circle cx="259" cy="896" r="13.2"/>
<circle cx="255" cy="898" r="13.2"/>
<circle cx="263" cy="888" r="13.2"/>
<circle cx="593" cy="873" r="13.2"/>
<circle cx="587" cy="880" r="13.2"/>
<circle cx="593" cy="937" r="13.2"/>
<circle cx="598" cy="937" r="13.2"/>
<circle cx="592" cy="939" r="13.2"/>
<circle cx="593" cy="933" r="13.2"/>
<circle cx="597" cy="950" r="13.2"/>
<circle cx="596" cy="945" r="13.2"/>
<circle cx="598" cy="947" r="13.2"/>
<circle cx="595" cy="955" r="13.2"/>
<circle cx="783" cy="903" r="13.2"/>
<circle cx="786" cy="907" r="13.2"/>
<circle cx="785" cy="905" r="13.2"/>
<circle cx="785" cy="908" r="13.2"/>
<circle cx="790" cy="920" r="13.2"/>
<circle cx="787" cy="923" r="13.2"/>
<circle cx="788" cy="918" r="13.2"/>
<circle cx="793" cy="921" r="13.2"/>
<circle cx="777" cy="913" r="13.2"/>
<circle cx="803" cy="900" r="13.2"/>
<circle cx="567" cy="773" r="13.2"/>
<circle cx="577" cy="797" r="13.2"/>
<circle cx="384" cy="546" r="13.2"/>
<circle cx="333" cy="989" r="13.2"/>
<circle cx="350" cy="987" r="13.2"/>
<circle cx="353" cy="988" r="13.2"/>
<circle cx="350" cy="984" r="13.2"/>
<circle cx="353" cy="985" r="13.2"/>
<circle cx="353" cy="984" r="13.2"/>
<circle cx="351" cy="989" r="13.2"/>
<circle cx="348" cy="987" r="13.2"/>
<circle cx="443" cy="1017" r="13.2"/>
<circle cx="437" cy="1037" r="13.2"/>
<circle cx="431" cy="1039" r="13.2"/>
<circle cx="439" cy="1033" r="13.2"/>
<circle cx="437" cy="1040" r="13.2"/>
<circle cx="432" cy="1041" r="13.2"/>
<circle cx="441" cy="1032" r="13.2"/>
<circle cx="434" cy="1032" r="13.2"/>
<circle cx="440" cy="1047" r="13.2"/>
<circle cx="438" cy="1043" r="13.2"/>
<circle cx="440" cy="1045" r="13.2"/>
<circle cx="438" cy="1047" r="13.2"/>
<circle cx="393" cy="1044" r="13.2"/>
<circle cx="392" cy="1047" r="13.2"/>
<circle cx="396" cy="1040" r="13.2"/>
<circle cx="391" cy="1039" r="13.2"/>
<circle cx="383" cy="1046" r="13.2"/>
<circle cx="467" cy="1091" r="13.2"/>
<circle cx="477" cy="1104" r="13.2"/>
<circle cx="475" cy="1100" r="13.2"/>
<circle cx="479" cy="1107" r="13.2"/>
<circle cx="482" cy="1101" r="13.2"/>
<circle cx="523" cy="1017" r="13.2"/>
<circle cx="560" cy="957" r="13.2"/>
<circle cx="593" cy="947" r="13.2"/>
<circle cx="588" cy="950" r="13.2"/>
<circle cx="592" cy="953" r="13.2"/>
<circle cx="592" cy="945" r="13.2"/>
<circle cx="588" cy="953" r="13.2"/>
<circle cx="593" cy="947" r="13.2"/>
<circle cx="593" cy="951" r="13.2"/>
<circle cx="590" cy="961" r="13.2"/>
<circle cx="800" cy="1071" r="13.2"/>
<circle cx="797" cy="1091" r="13.2"/>
<circle cx="800" cy="1090" r="13.2"/>
<circle cx="793" cy="1090" r="13.2"/>
<circle cx="801" cy="1090" r="13.2"/>
<circle cx="803" cy="1104" r="13.2"/>
<circle cx="805" cy="1105" r="13.2"/>
<circle cx="803" cy="1105" r="13.2"/>
<circle cx="800" cy="1105" r="13.2"/>
<circle cx="808" cy="1099" r="13.2"/>
<circle cx="802" cy="1109" r="13.2"/>
<circle cx="809" cy="1098" r="13.2"/>
<circle cx="787" cy="1121" r="13.2"/>
<circle cx="788" cy="1122" r="13.2"/>
<circle cx="790" cy="1120" r="13.2"/>
<circle cx="783" cy="1119" r="13.2"/>
<circle cx="820" cy="1114" r="13.2"/>
<circle cx="823" cy="1117" r="13.2"/>
<circle cx="816" cy="1116" r="13.2"/>
<circle cx="822" cy="1116" r="13.2"/>
<circle cx="814" cy="1113" r="13.2"/>
<circle cx="818" cy="1115" r="13.2"/>
<circle cx="818" cy="1110" r="13.2"/>
<circle cx="827" cy="1094" r="13.2"/>
<circle cx="828" cy="1092" r="13.2"/>
<circle cx="830" cy="1092" r="13.2"/>
<circle cx="827" cy="1097" r="13.2"/>
<circle cx="823" cy="1011" r="13.2"/>
<circle cx="819" cy="1013" r="13.2"/>
<circle cx="819" cy="1015" r="13.2"/>
<circle cx="819" cy="1013" r="13.2"/>
<circle cx="815" cy="1047" r="13.2"/>
<circle cx="698" cy="441" r="13.2"/>
<circle cx="708" cy="440" r="13.2"/>
<circle cx="711" cy="435" r="13.2"/>
<circle cx="723" cy="435" r="13.2"/>
<circle cx="699" cy="441" r="13.2"/>
<circle cx="708" cy="445" r="13.2"/>
<circle cx="714" cy="449" r="13.2"/>
<circle cx="726" cy="441" r="13.2"/>
<circle cx="693" cy="452" r="13.2"/>
<circle cx="709" cy="453" r="13.2"/>
<circle cx="718" cy="457" r="13.2"/>
<circle cx="719" cy="457" r="13.2"/>
<circle cx="727" cy="456" r="13.2"/>
<circle cx="689" cy="461" r="13.2"/>
<circle cx="697" cy="463" r="13.2"/>
<circle cx="710" cy="464" r="13.2"/>
<circle cx="719" cy="462" r="13.2"/>
<circle cx="731" cy="464" r="13.2"/>
<circle cx="737" cy="460" r="13.2"/>
<circle cx="697" cy="471" r="13.2"/>
<circle cx="708" cy="472" r="13.2"/>
<circle cx="713" cy="469" r="13.2"/>
<circle cx="725" cy="468" r="13.2"/>
<circle cx="728" cy="470" r="13.2"/>
<circle cx="704" cy="482" r="13.2"/>
<circle cx="709" cy="480" r="13.2"/>
<circle cx="719" cy="474" r="13.2"/>
<circle cx="731" cy="474" r="13.2"/>
<circle cx="732" cy="477" r="13.2"/>
<circle cx="741" cy="477" r="13.2"/>
<circle cx="702" cy="483" r="13.2"/>
<circle cx="713" cy="484" r="13.2"/>
<circle cx="724" cy="485" r="13.2"/>
<circle cx="730" cy="486" r="13.2"/>
<circle cx="712" cy="493" r="13.2"/>
<circle cx="719" cy="488" r="13.2"/>
<circle cx="726" cy="491" r="13.2"/>
<circle cx="737" cy="489" r="13.2"/>
<circle cx="717" cy="505" r="13.2"/>
<circle cx="725" cy="496" r="13.2"/>
<circle cx="735" cy="502" r="13.2"/>
<circle cx="722" cy="509" r="13.2"/>
<circle cx="731" cy="509" r="13.2"/>
<circle cx="726" cy="512" r="13.2"/>
<circle cx="734" cy="512" r="13.2"/>
<circle cx="718" cy="392" r="13.2"/>
<circle cx="714" cy="396" r="13.2"/>
<circle cx="718" cy="389" r="13.2"/>
<circle cx="721" cy="396" r="13.2"/>
<circle cx="885" cy="515" r="13.2"/>
<circle cx="882" cy="520" r="13.2"/>
<circle cx="889" cy="512" r="13.2"/>
<circle cx="879" cy="519" r="13.2"/>
<circle cx="889" cy="510" r="13.2"/>
<circle cx="888" cy="518" r="13.2"/>
<circle cx="887" cy="519" r="13.2"/>
<circle cx="882" cy="528" r="13.2"/>
<circle cx="887" cy="526" r="13.2"/>
<circle cx="886" cy="532" r="13.2"/>
<circle cx="881" cy="529" r="13.2"/>
<circle cx="892" cy="520" r="13.2"/>
<circle cx="858" cy="570" r="13.2"/>
<circle cx="860" cy="574" r="13.2"/>
<circle cx="858" cy="567" r="13.2"/>
<circle cx="855" cy="571" r="13.2"/>
<circle cx="853" cy="574" r="13.2"/>
<circle cx="862" cy="567" r="13.2"/>
<circle cx="860" cy="572" r="13.2"/>
<circle cx="949" cy="552" r="13.2"/>
<circle cx="901" cy="604" r="13.2"/>
<circle cx="638" cy="524" r="13.2"/>
<circle cx="633" cy="527" r="13.2"/>
<circle cx="641" cy="521" r="13.2"/>
<circle cx="633" cy="521" r="13.2"/>
<circle cx="641" cy="523" r="13.2"/>
<circle cx="641" cy="520" r="13.2"/>
<circle cx="633" cy="522" r="13.2"/>
<circle cx="642" cy="540" r="13.2"/>
<circle cx="647" cy="536" r="13.2"/>
<circle cx="637" cy="543" r="13.2"/>
<circle cx="638" cy="542" r="13.2"/>
<circle cx="638" cy="537" r="13.2"/>
<circle cx="644" cy="544" r="13.2"/>
<circle cx="641" cy="539" r="13.2"/>
<circle cx="632" cy="530" r="13.2"/>
<circle cx="628" cy="528" r="13.2"/>
<circle cx="630" cy="533" r="13.2"/>
<circle cx="635" cy="533" r="13.2"/>
<circle cx="612" cy="455" r="13.2"/>
<circle cx="613" cy="457" r="13.2"/>
<circle cx="609" cy="454" r="13.2"/>
<circle cx="610" cy="453" r="13.2"/>
<circle cx="605" cy="575" r="13.2"/>
<circle cx="607" cy="572" r="13.2"/>
<circle cx="603" cy="573" r="13.2"/>
<circle cx="609" cy="576" r="13.2"/>
<circle cx="605" cy="590" r="13.2"/>
<circle cx="705" cy="578" r="13.2"/>
<circle cx="705" cy="576" r="13.2"/>
<circle cx="709" cy="582" r="13.2"/>
<circle cx="704" cy="578" r="13.2"/>
<circle cx="700" cy="595" r="13.2"/>
<circle cx="720" cy="652" r="13.2"/>
<circle cx="724" cy="650" r="13.2"/>
<circle cx="717" cy="648" r="13.2"/>
<circle cx="720" cy="656" r="13.2"/>
<circle cx="716" cy="652" r="13.2"/>
<circle cx="726" cy="652" r="13.2"/>
<circle cx="719" cy="657" r="13.2"/>
<circle cx="740" cy="660" r="13.2"/>
<circle cx="665" cy="685" r="13.2"/>
<circle cx="675" cy="698" r="13.2"/>
<circle cx="682" cy="690" r="13.2"/>
<circle cx="975" cy="685" r="13.2"/>
<circle cx="998" cy="678" r="13.2"/>
<circle cx="1002" cy="676" r="13.2"/>
<circle cx="993" cy="679" r="13.2"/>
<circle cx="1000" cy="683" r="13.2"/>
<circle cx="999" cy="675" r="13.2"/>
<circle cx="998" cy="675" r="13.2"/>
<circle cx="997" cy="677" r="13.2"/>
<circle cx="990" cy="695" r="13.2"/>
<circle cx="918" cy="725" r="13.2"/>
<circle cx="955" cy="650" r="13.2"/>
<circle cx="960" cy="655" r="13.2"/>
<circle cx="960" cy="650" r="13.2"/>
<circle cx="961" cy="646" r="13.2"/>
<circle cx="960" cy="652" r="13.2"/>
<circle cx="959" cy="649" r="13.2"/>
<circle cx="961" cy="644" r="13.2"/>
<circle cx="1030" cy="422" r="13.2"/>
<circle cx="1034" cy="426" r="13.2"/>
<circle cx="1028" cy="426" r="13.2"/>
<circle cx="1027" cy="426" r="13.2"/>
<circle cx="1030" cy="421" r="13.2"/>
<circle cx="1026" cy="426" r="13.2"/>
<circle cx="1033" cy="418" r="13.2"/>
<circle cx="1020" cy="415" r="13.2"/>
<circle cx="1025" cy="412" r="13.2"/>
<circle cx="1019" cy="414" r="13.2"/>
<circle cx="1021" cy="419" r="13.2"/>
<circle cx="1025" cy="470" r="13.2"/>
<circle cx="1022" cy="498" r="13.2"/>
<circle cx="1027" cy="499" r="13.2"/>
<circle cx="1021" cy="494" r="13.2"/>
<circle cx="1018" cy="498" r="13.2"/>
<circle cx="1015" cy="462" r="13.2"/>
<circle cx="788" cy="628" r="13.2"/>
<circle cx="914" cy="552" r="13.2"/>
<circle cx="998" cy="708" r="13.2"/>
<circle cx="859" cy="502" r="13.2"/>
<circle cx="744" cy="76" r="13.2"/>
<circle cx="746" cy="76" r="13.2"/>
<circle cx="746" cy="87" r="13.2"/>
<circle cx="751" cy="86" r="13.2"/>
<circle cx="767" cy="83" r="13.2"/>
<circle cx="749" cy="88" r="13.2"/>
<circle cx="757" cy="91" r="13.2"/>
<circle cx="763" cy="96" r="13.2"/>
<circle cx="780" cy="95" r="13.2"/>
<circle cx="781" cy="91" r="13.2"/>
<circle cx="791" cy="94" r="13.2"/>
<circle cx="743" cy="97" r="13.2"/>
<circle cx="749" cy="102" r="13.2"/>
<circle cx="765" cy="101" r="13.2"/>
<circle cx="769" cy="102" r="13.2"/>
<circle cx="783" cy="101" r="13.2"/>
<circle cx="787" cy="101" r="13.2"/>
<circle cx="744" cy="104" r="13.2"/>
<circle cx="749" cy="108" r="13.2"/>
<circle cx="755" cy="106" r="13.2"/>
<circle cx="768" cy="109" r="13.2"/>
<circle cx="777" cy="109" r="13.2"/>
<circle cx="784" cy="104" r="13.2"/>
<circle cx="790" cy="111" r="13.2"/>
<circle cx="847" cy="112" r="13.2"/>
<circle cx="749" cy="115" r="13.2"/>
<circle cx="753" cy="116" r="13.2"/>
<circle cx="766" cy="120" r="13.2"/>
<circle cx="774" cy="116" r="13.2"/>
<circle cx="782" cy="117" r="13.2"/>
<circle cx="794" cy="120" r="13.2"/>
<circle cx="801" cy="113" r="13.2"/>
<circle cx="808" cy="115" r="13.2"/>
<circle cx="814" cy="118" r="13.2"/>
<circle cx="823" cy="117" r="13.2"/>
<circle cx="845" cy="118" r="13.2"/>
<circle cx="744" cy="123" r="13.2"/>
<circle cx="750" cy="128" r="13.2"/>
<circle cx="759" cy="124" r="13.2"/>
<circle cx="770" cy="122" r="13.2"/>
<circle cx="772" cy="127" r="13.2"/>
<circle cx="785" cy="124" r="13.2"/>
<circle cx="790" cy="126" r="13.2"/>
<circle cx="802" cy="125" r="13.2"/>
<circle cx="810" cy="127" r="13.2"/>
<circle cx="820" cy="121" r="13.2"/>
<circle cx="834" cy="121" r="13.2"/>
<circle cx="837" cy="123" r="13.2"/>
<circle cx="852" cy="120" r="13.2"/>
<circle cx="732" cy="129" r="13.2"/>
<circle cx="741" cy="131" r="13.2"/>
<circle cx="754" cy="131" r="13.2"/>
<circle cx="762" cy="128" r="13.2"/>
<circle cx="773" cy="131" r="13.2"/>
<circle cx="779" cy="134" r="13.2"/>
<circle cx="793" cy="135" r="13.2"/>
<circle cx="803" cy="127" r="13.2"/>
<circle cx="806" cy="131" r="13.2"/>
<circle cx="814" cy="133" r="13.2"/>
<circle cx="829" cy="128" r="13.2"/>
<circle cx="835" cy="135" r="13.2"/>
<circle cx="847" cy="131" r="13.2"/>
<circle cx="849" cy="131" r="13.2"/>
<circle cx="732" cy="143" r="13.2"/>
<circle cx="744" cy="142" r="13.2"/>
<circle cx="746" cy="142" r="13.2"/>
<circle cx="760" cy="139" r="13.2"/>
<circle cx="771" cy="140" r="13.2"/>
<circle cx="773" cy="136" r="13.2"/>
<circle cx="782" cy="140" r="13.2"/>
<circle cx="795" cy="142" r="13.2"/>
<circle cx="799" cy="135" r="13.2"/>
<circle cx="816" cy="137" r="13.2"/>
<circle cx="819" cy="142" r="13.2"/>
<circle cx="827" cy="142" r="13.2"/>
<circle cx="843" cy="140" r="13.2"/>
<circle cx="849" cy="134" r="13.2"/>
<circle cx="858" cy="140" r="13.2"/>
<circle cx="720" cy="146" r="13.2"/>
<circle cx="728" cy="145" r="13.2"/>
<circle cx="733" cy="147" r="13.2"/>
<circle cx="745" cy="144" r="13.2"/>
<circle cx="756" cy="147" r="13.2"/>
<circle cx="761" cy="145" r="13.2"/>
<circle cx="775" cy="150" r="13.2"/>
<circle cx="784" cy="144" r="13.2"/>
<circle cx="786" cy="148" r="13.2"/>
<circle cx="794" cy="150" r="13.2"/>
<circle cx="809" cy="145" r="13.2"/>
<circle cx="816" cy="148" r="13.2"/>
<circle cx="822" cy="146" r="13.2"/>
<circle cx="837" cy="148" r="13.2"/>
<circle cx="844" cy="143" r="13.2"/>
<circle cx="850" cy="145" r="13.2"/>
<circle cx="857" cy="148" r="13.2"/>
<circle cx="726" cy="155" r="13.2"/>
<circle cx="728" cy="156" r="13.2"/>
<circle cx="744" cy="158" r="13.2"/>
<circle cx="750" cy="157" r="13.2"/>
<circle cx="754" cy="154" r="13.2"/>
<circle cx="770" cy="153" r="13.2"/>
<circle cx="773" cy="158" r="13.2"/>
<circle cx="787" cy="150" r="13.2"/>
<circle cx="790" cy="155" r="13.2"/>
<circle cx="807" cy="156" r="13.2"/>
<circle cx="815" cy="151" r="13.2"/>
<circle cx="822" cy="152" r="13.2"/>
<circle cx="828" cy="151" r="13.2"/>
<circle cx="839" cy="150" r="13.2"/>
<circle cx="849" cy="156" r="13.2"/>
<circle cx="861" cy="157" r="13.2"/>
<circle cx="862" cy="158" r="13.2"/>
<circle cx="717" cy="166" r="13.2"/>
<circle cx="729" cy="158" r="13.2"/>
<circle cx="737" cy="163" r="13.2"/>
<circle cx="744" cy="164" r="13.2"/>
<circle cx="754" cy="159" r="13.2"/>
<circle cx="764" cy="159" r="13.2"/>
<circle cx="770" cy="165" r="13.2"/>
<circle cx="781" cy="162" r="13.2"/>
<circle cx="791" cy="162" r="13.2"/>
<circle cx="797" cy="163" r="13.2"/>
<circle cx="803" cy="161" r="13.2"/>
<circle cx="812" cy="167" r="13.2"/>
<circle cx="829" cy="164" r="13.2"/>
<circle cx="831" cy="166" r="13.2"/>
<circle cx="842" cy="165" r="13.2"/>
<circle cx="854" cy="163" r="13.2"/>
<circle cx="864" cy="160" r="13.2"/>
<circle cx="690" cy="174" r="13.2"/>
<circle cx="712" cy="166" r="13.2"/>
<circle cx="722" cy="174" r="13.2"/>
<circle cx="733" cy="169" r="13.2"/>
<circle cx="738" cy="174" r="13.2"/>
<circle cx="745" cy="173" r="13.2"/>
<circle cx="761" cy="166" r="13.2"/>
<circle cx="771" cy="171" r="13.2"/>
<circle cx="775" cy="169" r="13.2"/>
<circle cx="786" cy="170" r="13.2"/>
<circle cx="797" cy="174" r="13.2"/>
<circle cx="801" cy="166" r="13.2"/>
<circle cx="815" cy="171" r="13.2"/>
<circle cx="822" cy="166" r="13.2"/>
<circle cx="826" cy="174" r="13.2"/>
<circle cx="838" cy="170" r="13.2"/>
<circle cx="852" cy="167" r="13.2"/>
<circle cx="858" cy="166" r="13.2"/>
<circle cx="867" cy="172" r="13.2"/>
<circle cx="687" cy="182" r="13.2"/>
<circle cx="698" cy="177" r="13.2"/>
<circle cx="712" cy="178" r="13.2"/>
<circle cx="719" cy="177" r="13.2"/>
<circle cx="726" cy="182" r="13.2"/>
<circle cx="733" cy="178" r="13.2"/>
<circle cx="744" cy="175" r="13.2"/>
<circle cx="750" cy="178" r="13.2"/>
<circle cx="765" cy="177" r="13.2"/>
<circle cx="768" cy="182" r="13.2"/>
<circle cx="777" cy="181" r="13.2"/>
<circle cx="785" cy="179" r="13.2"/>
<circle cx="795" cy="176" r="13.2"/>
<circle cx="807" cy="180" r="13.2"/>
<circle cx="816" cy="177" r="13.2"/>
<circle cx="825" cy="178" r="13.2"/>
<circle cx="833" cy="182" r="13.2"/>
<circle cx="841" cy="175" r="13.2"/>
<circle cx="853" cy="177" r="13.2"/>
<circle cx="863" cy="174" r="13.2"/>
<circle cx="872" cy="177" r="13.2"/>
<circle cx="687" cy="184" r="13.2"/>
<circle cx="699" cy="183" r="13.2"/>
<circle cx="702" cy="183" r="13.2"/>
<circle cx="710" cy="187" r="13.2"/>
<circle cx="723" cy="183" r="13.2"/>
<circle cx="734" cy="187" r="13.2"/>
<circle cx="739" cy="187" r="13.2"/>
<circle cx="750" cy="185" r="13.2"/>
<circle cx="754" cy="184" r="13.2"/>
<circle cx="771" cy="185" r="13.2"/>
<circle cx="777" cy="182" r="13.2"/>
<circle cx="787" cy="189" r="13.2"/>
<circle cx="793" cy="185" r="13.2"/>
<circle cx="803" cy="183" r="13.2"/>
<circle cx="809" cy="182" r="13.2"/>
<circle cx="823" cy="186" r="13.2"/>
<circle cx="834" cy="190" r="13.2"/>
<circle cx="842" cy="190" r="13.2"/>
<circle cx="851" cy="181" r="13.2"/>
<circle cx="854" cy="190" r="13.2"/>
<circle cx="869" cy="187" r="13.2"/>
<circle cx="669" cy="193" r="13.2"/>
<circle cx="682" cy="196" r="13.2"/>
<circle cx="688" cy="191" r="13.2"/>
<circle cx="698" cy="196" r="13.2"/>
<circle cx="706" cy="195" r="13.2"/>
<circle cx="713" cy="190" r="13.2"/>
<circle cx="728" cy="193" r="13.2"/>
<circle cx="732" cy="193" r="13.2"/>
<circle cx="748" cy="193" r="13.2"/>
<circle cx="754" cy="193" r="13.2"/>
<circle cx="763" cy="189" r="13.2"/>
<circle cx="775" cy="194" r="13.2"/>
<circle cx="779" cy="192" r="13.2"/>
<circle cx="787" cy="197" r="13.2"/>
<circle cx="802" cy="192" r="13.2"/>
<circle cx="808" cy="194" r="13.2"/>
<circle cx="814" cy="189" r="13.2"/>
<circle cx="828" cy="190" r="13.2"/>
<circle cx="835" cy="189" r="13.2"/>
<circle cx="839" cy="190" r="13.2"/>
<circle cx="854" cy="195" r="13.2"/>
<circle cx="866" cy="195" r="13.2"/>
<circle cx="871" cy="189" r="13.2"/>
<circle cx="672" cy="199" r="13.2"/>
<circle cx="679" cy="200" r="13.2"/>
<circle cx="690" cy="204" r="13.2"/>
<circle cx="697" cy="202" r="13.2"/>
<circle cx="702" cy="205" r="13.2"/>
<circle cx="717" cy="205" r="13.2"/>
<circle cx="721" cy="204" r="13.2"/>
<circle cx="733" cy="204" r="13.2"/>
<circle cx="743" cy="201" r="13.2"/>
<circle cx="748" cy="204" r="13.2"/>
<circle cx="759" cy="202" r="13.2"/>
<circle cx="770" cy="197" r="13.2"/>
<circle cx="772" cy="201" r="13.2"/>
<circle cx="781" cy="204" r="13.2"/>
<circle cx="790" cy="205" r="13.2"/>
<circle cx="801" cy="198" r="13.2"/>
<circle cx="814" cy="203" r="13.2"/>
<circle cx="820" cy="202" r="13.2"/>
<circle cx="830" cy="205" r="13.2"/>
<circle cx="839" cy="202" r="13.2"/>
<circle cx="848" cy="200" r="13.2"/>
<circle cx="859" cy="198" r="13.2"/>
<circle cx="868" cy="205" r="13.2"/>
<circle cx="877" cy="202" r="13.2"/>
<circle cx="666" cy="209" r="13.2"/>
<circle cx="671" cy="212" r="13.2"/>
<circle cx="681" cy="208" r="13.2"/>
<circle cx="688" cy="209" r="13.2"/>
<circle cx="701" cy="208" r="13.2"/>
<circle cx="710" cy="209" r="13.2"/>
<circle cx="713" cy="213" r="13.2"/>
<circle cx="725" cy="209" r="13.2"/>
<circle cx="740" cy="206" r="13.2"/>
<circle cx="741" cy="206" r="13.2"/>
<circle cx="750" cy="212" r="13.2"/>
<circle cx="763" cy="205" r="13.2"/>
<circle cx="769" cy="209" r="13.2"/>
<circle cx="778" cy="207" r="13.2"/>
<circle cx="793" cy="209" r="13.2"/>
<circle cx="796" cy="210" r="13.2"/>
<circle cx="804" cy="209" r="13.2"/>
<circle cx="818" cy="205" r="13.2"/>
<circle cx="826" cy="207" r="13.2"/>
<circle cx="837" cy="210" r="13.2"/>
<circle cx="847" cy="210" r="13.2"/>
<circle cx="850" cy="206" r="13.2"/>
<circle cx="863" cy="212" r="13.2"/>
<circle cx="867" cy="208" r="13.2"/>
<circle cx="878" cy="209" r="13.2"/>
<circle cx="671" cy="221" r="13.2"/>
<circle cx="676" cy="221" r="13.2"/>
<circle cx="682" cy="221" r="13.2"/>
<circle cx="692" cy="213" r="13.2"/>
<circle cx="706" cy="214" r="13.2"/>
<circle cx="715" cy="212" r="13.2"/>
<circle cx="719" cy="216" r="13.2"/>
<circle cx="727" cy="217" r="13.2"/>
<circle cx="739" cy="219" r="13.2"/>
<circle cx="749" cy="221" r="13.2"/>
<circle cx="761" cy="214" r="13.2"/>
<circle cx="771" cy="220" r="13.2"/>
<circle cx="777" cy="217" r="13.2"/>
<circle cx="782" cy="215" r="13.2"/>
<circle cx="791" cy="214" r="13.2"/>
<circle cx="804" cy="215" r="13.2"/>
<circle cx="814" cy="218" r="13.2"/>
<circle cx="824" cy="213" r="13.2"/>
<circle cx="833" cy="217" r="13.2"/>
<circle cx="840" cy="215" r="13.2"/>
<circle cx="850" cy="216" r="13.2"/>
<circle cx="859" cy="218" r="13.2"/>
<circle cx="863" cy="215" r="13.2"/>
<circle cx="877" cy="213" r="13.2"/>
<circle cx="667" cy="223" r="13.2"/>
<circle cx="676" cy="227" r="13.2"/>
<circle cx="679" cy="225" r="13.2"/>
<circle cx="686" cy="229" r="13.2"/>
<circle cx="701" cy="221" r="13.2"/>
<circle cx="709" cy="225" r="13.2"/>
<circle cx="719" cy="223" r="13.2"/>
<circle cx="730" cy="226" r="13.2"/>
<circle cx="732" cy="228" r="13.2"/>
<circle cx="748" cy="223" r="13.2"/>
<circle cx="755" cy="228" r="13.2"/>
<circle cx="766" cy="221" r="13.2"/>
<circle cx="775" cy="222" r="13.2"/>
<circle cx="783" cy="226" r="13.2"/>
<circle cx="789" cy="228" r="13.2"/>
<circle cx="801" cy="229" r="13.2"/>
<circle cx="812" cy="225" r="13.2"/>
<circle cx="819" cy="226" r="13.2"/>
<circle cx="825" cy="225" r="13.2"/>
<circle cx="835" cy="222" r="13.2"/>
<circle cx="841" cy="228" r="13.2"/>
<circle cx="856" cy="226" r="13.2"/>
<circle cx="863" cy="225" r="13.2"/>
<circle cx="871" cy="226" r="13.2"/>
<circle cx="875" cy="224" r="13.2"/>
<circle cx="672" cy="233" r="13.2"/>
<circle cx="679" cy="229" r="13.2"/>
<circle cx="682" cy="230" r="13.2"/>
<circle cx="691" cy="235" r="13.2"/>
<circle cx="702" cy="237" r="13.2"/>
<circle cx="715" cy="230" r="13.2"/>
<circle cx="724" cy="231" r="13.2"/>
<circle cx="731" cy="229" r="13.2"/>
<circle cx="743" cy="235" r="13.2"/>
<circle cx="750" cy="234" r="13.2"/>
<circle cx="757" cy="229" r="13.2"/>
<circle cx="765" cy="235" r="13.2"/>
<circle cx="777" cy="229" r="13.2"/>
<circle cx="783" cy="232" r="13.2"/>
<circle cx="790" cy="228" r="13.2"/>
<circle cx="803" cy="229" r="13.2"/>
<circle cx="816" cy="229" r="13.2"/>
<circle cx="823" cy="235" r="13.2"/>
<circle cx="828" cy="233" r="13.2"/>
<circle cx="843" cy="234" r="13.2"/>
<circle cx="847" cy="237" r="13.2"/>
<circle cx="855" cy="237" r="13.2"/>
<circle cx="864" cy="232" r="13.2"/>
<circle cx="873" cy="234" r="13.2"/>
<circle cx="887" cy="234" r="13.2"/>
<circle cx="672" cy="240" r="13.2"/>
<circle cx="682" cy="241" r="13.2"/>
<circle cx="694" cy="238" r="13.2"/>
<circle cx="697" cy="237" r="13.2"/>
<circle cx="705" cy="243" r="13.2"/>
<circle cx="721" cy="237" r="13.2"/>
<circle cx="725" cy="244" r="13.2"/>
<circle cx="739" cy="245" r="13.2"/>
<circle cx="749" cy="238" r="13.2"/>
<circle cx="750" cy="238" r="13.2"/>
<circle cx="763" cy="236" r="13.2"/>
<circle cx="769" cy="240" r="13.2"/>
<circle cx="782" cy="237" r="13.2"/>
<circle cx="786" cy="239" r="13.2"/>
<circle cx="795" cy="237" r="13.2"/>
<circle cx="804" cy="243" r="13.2"/>
<circle cx="820" cy="236" r="13.2"/>
<circle cx="828" cy="243" r="13.2"/>
<circle cx="836" cy="238" r="13.2"/>
<circle cx="846" cy="236" r="13.2"/>
<circle cx="848" cy="244" r="13.2"/>
<circle cx="859" cy="244" r="13.2"/>
<circle cx="873" cy="236" r="13.2"/>
<circle cx="876" cy="242" r="13.2"/>
<circle cx="885" cy="242" r="13.2"/>
<circle cx="669" cy="248" r="13.2"/>
<circle cx="679" cy="248" r="13.2"/>
<circle cx="684" cy="248" r="13.2"/>
<circle cx="692" cy="244" r="13.2"/>
<circle cx="704" cy="251" r="13.2"/>
<circle cx="715" cy="245" r="13.2"/>
<circle cx="722" cy="249" r="13.2"/>
<circle cx="732" cy="248" r="13.2"/>
<circle cx="740" cy="250" r="13.2"/>
<circle cx="752" cy="248" r="13.2"/>
<circle cx="761" cy="250" r="13.2"/>
<circle cx="764" cy="246" r="13.2"/>
<circle cx="774" cy="247" r="13.2"/>
<circle cx="785" cy="246" r="13.2"/>
<circle cx="798" cy="250" r="13.2"/>
<circle cx="802" cy="250" r="13.2"/>
<circle cx="816" cy="245" r="13.2"/>
<circle cx="822" cy="252" r="13.2"/>
<circle cx="829" cy="251" r="13.2"/>
<circle cx="842" cy="246" r="13.2"/>
<circle cx="845" cy="251" r="13.2"/>
<circle cx="856" cy="247" r="13.2"/>
<circle cx="866" cy="250" r="13.2"/>
<circle cx="879" cy="252" r="13.2"/>
<circle cx="886" cy="245" r="13.2"/>
<circle cx="675" cy="259" r="13.2"/>
<circle cx="680" cy="254" r="13.2"/>
<circle cx="692" cy="253" r="13.2"/>
<circle cx="704" cy="257" r="13.2"/>
<circle cx="709" cy="252" r="13.2"/>
<circle cx="716" cy="255" r="13.2"/>
<circle cx="731" cy="253" r="13.2"/>
<circle cx="736" cy="252" r="13.2"/>
<circle cx="749" cy="258" r="13.2"/>
<circle cx="756" cy="258" r="13.2"/>
<circle cx="760" cy="254" r="13.2"/>
<circle cx="767" cy="256" r="13.2"/>
<circle cx="777" cy="253" r="13.2"/>
<circle cx="787" cy="260" r="13.2"/>
<circle cx="801" cy="254" r="13.2"/>
<circle cx="812" cy="253" r="13.2"/>
<circle cx="813" cy="255" r="13.2"/>
<circle cx="828" cy="252" r="13.2"/>
<circle cx="837" cy="256" r="13.2"/>
<circle cx="846" cy="254" r="13.2"/>
<circle cx="848" cy="252" r="13.2"/>
<circle cx="864" cy="256" r="13.2"/>
<circle cx="873" cy="253" r="13.2"/>
<circle cx="878" cy="253" r="13.2"/>
<circle cx="892" cy="258" r="13.2"/>
<circle cx="894" cy="258" r="13.2"/>
<circle cx="681" cy="262" r="13.2"/>
<circle cx="686" cy="265" r="13.2"/>
<circle cx="699" cy="265" r="13.2"/>
<circle cx="704" cy="266" r="13.2"/>
<circle cx="713" cy="259" r="13.2"/>
<circle cx="722" cy="263" r="13.2"/>
<circle cx="730" cy="263" r="13.2"/>
<circle cx="737" cy="262" r="13.2"/>
<circle cx="751" cy="267" r="13.2"/>
<circle cx="758" cy="267" r="13.2"/>
<circle cx="764" cy="264" r="13.2"/>
<circle cx="778" cy="266" r="13.2"/>
<circle cx="784" cy="261" r="13.2"/>
<circle cx="798" cy="265" r="13.2"/>
<circle cx="804" cy="262" r="13.2"/>
<circle cx="809" cy="264" r="13.2"/>
<circle cx="820" cy="267" r="13.2"/>
<circle cx="831" cy="266" r="13.2"/>
<circle cx="840" cy="266" r="13.2"/>
<circle cx="845" cy="268" r="13.2"/>
<circle cx="858" cy="265" r="13.2"/>
<circle cx="863" cy="260" r="13.2"/>
<circle cx="877" cy="266" r="13.2"/>
<circle cx="885" cy="261" r="13.2"/>
<circle cx="893" cy="266" r="13.2"/>
<circle cx="903" cy="267" r="13.2"/>
<circle cx="694" cy="270" r="13.2"/>
<circle cx="697" cy="268" r="13.2"/>
<circle cx="706" cy="271" r="13.2"/>
<circle cx="719" cy="275" r="13.2"/>
<circle cx="727" cy="276" r="13.2"/>
<circle cx="735" cy="273" r="13.2"/>
<circle cx="740" cy="271" r="13.2"/>
<circle cx="749" cy="268" r="13.2"/>
<circle cx="765" cy="268" r="13.2"/>
<circle cx="770" cy="272" r="13.2"/>
<circle cx="781" cy="267" r="13.2"/>
<circle cx="786" cy="273" r="13.2"/>
<circle cx="798" cy="268" r="13.2"/>
<circle cx="807" cy="270" r="13.2"/>
<circle cx="821" cy="267" r="13.2"/>
<circle cx="823" cy="268" r="13.2"/>
<circle cx="835" cy="276" r="13.2"/>
<circle cx="846" cy="268" r="13.2"/>
<circle cx="853" cy="270" r="13.2"/>
<circle cx="866" cy="273" r="13.2"/>
<circle cx="871" cy="269" r="13.2"/>
<circle cx="879" cy="272" r="13.2"/>
<circle cx="887" cy="272" r="13.2"/>
<circle cx="894" cy="271" r="13.2"/>
<circle cx="714" cy="282" r="13.2"/>
<circle cx="726" cy="279" r="13.2"/>
<circle cx="734" cy="275" r="13.2"/>
<circle cx="743" cy="281" r="13.2"/>
<circle cx="751" cy="276" r="13.2"/>
<circle cx="754" cy="279" r="13.2"/>
<circle cx="768" cy="281" r="13.2"/>
<circle cx="773" cy="280" r="13.2"/>
<circle cx="789" cy="277" r="13.2"/>
<circle cx="797" cy="283" r="13.2"/>
<circle cx="805" cy="279" r="13.2"/>
<circle cx="811" cy="279" r="13.2"/>
<circle cx="818" cy="275" r="13.2"/>
<circle cx="828" cy="276" r="13.2"/>
<circle cx="843" cy="278" r="13.2"/>
<circle cx="851" cy="280" r="13.2"/>
<circle cx="861" cy="283" r="13.2"/>
<circle cx="868" cy="279" r="13.2"/>
<circle cx="873" cy="280" r="13.2"/>
<circle cx="882" cy="282" r="13.2"/>
<circle cx="889" cy="280" r="13.2"/>
<circle cx="901" cy="279" r="13.2"/>
<circle cx="722" cy="286" r="13.2"/>
<circle cx="723" cy="286" r="13.2"/>
<circle cx="732" cy="288" r="13.2"/>
<circle cx="742" cy="284" r="13.2"/>
<circle cx="755" cy="291" r="13.2"/>
<circle cx="758" cy="289" r="13.2"/>
<circle cx="772" cy="287" r="13.2"/>
<circle cx="780" cy="283" r="13.2"/>
<circle cx="788" cy="287" r="13.2"/>
<circle cx="797" cy="291" r="13.2"/>
<circle cx="806" cy="290" r="13.2"/>
<circle cx="819" cy="290" r="13.2"/>
<circle cx="825" cy="287" r="13.2"/>
<circle cx="838" cy="284" r="13.2"/>
<circle cx="841" cy="283" r="13.2"/>
<circle cx="852" cy="287" r="13.2"/>
<circle cx="866" cy="291" r="13.2"/>
<circle cx="870" cy="287" r="13.2"/>
<circle cx="876" cy="289" r="13.2"/>
<circle cx="889" cy="284" r="13.2"/>
<circle cx="901" cy="283" r="13.2"/>
<circle cx="904" cy="287" r="13.2"/>
<circle cx="724" cy="295" r="13.2"/>
<circle cx="728" cy="293" r="13.2"/>
<circle cx="736" cy="299" r="13.2"/>
<circle cx="751" cy="295" r="13.2"/>
<circle cx="762" cy="299" r="13.2"/>
<circle cx="764" cy="293" r="13.2"/>
<circle cx="773" cy="296" r="13.2"/>
<circle cx="786" cy="295" r="13.2"/>
<circle cx="796" cy="295" r="13.2"/>
<circle cx="801" cy="296" r="13.2"/>
<circle cx="816" cy="291" r="13.2"/>
<circle cx="821" cy="292" r="13.2"/>
<circle cx="832" cy="294" r="13.2"/>
<circle cx="842" cy="296" r="13.2"/>
<circle cx="852" cy="296" r="13.2"/>
<circle cx="858" cy="299" r="13.2"/>
<circle cx="869" cy="293" r="13.2"/>
<circle cx="871" cy="299" r="13.2"/>
<circle cx="880" cy="299" r="13.2"/>
<circle cx="897" cy="296" r="13.2"/>
<circle cx="906" cy="296" r="13.2"/>
<circle cx="716" cy="305" r="13.2"/>
<circle cx="724" cy="298" r="13.2"/>
<circle cx="737" cy="305" r="13.2"/>
<circle cx="743" cy="307" r="13.2"/>
<circle cx="755" cy="301" r="13.2"/>
<circle cx="765" cy="306" r="13.2"/>
<circle cx="768" cy="306" r="13.2"/>
<circle cx="780" cy="301" r="13.2"/>
<circle cx="788" cy="303" r="13.2"/>
<circle cx="799" cy="301" r="13.2"/>
<circle cx="804" cy="304" r="13.2"/>
<circle cx="818" cy="304" r="13.2"/>
<circle cx="825" cy="306" r="13.2"/>
<circle cx="830" cy="299" r="13.2"/>
<circle cx="839" cy="303" r="13.2"/>
<circle cx="853" cy="300" r="13.2"/>
<circle cx="862" cy="298" r="13.2"/>
<circle cx="866" cy="307" r="13.2"/>
<circle cx="883" cy="299" r="13.2"/>
<circle cx="890" cy="303" r="13.2"/>
<circle cx="898" cy="306" r="13.2"/>
<circle cx="908" cy="307" r="13.2"/>
<circle cx="715" cy="309" r="13.2"/>
<circle cx="724" cy="314" r="13.2"/>
<circle cx="730" cy="311" r="13.2"/>
<circle cx="740" cy="313" r="13.2"/>
<circle cx="747" cy="308" r="13.2"/>
<circle cx="757" cy="312" r="13.2"/>
<circle cx="764" cy="315" r="13.2"/>
<circle cx="776" cy="312" r="13.2"/>
<circle cx="784" cy="306" r="13.2"/>
<circle cx="793" cy="311" r="13.2"/>
<circle cx="799" cy="315" r="13.2"/>
<circle cx="813" cy="310" r="13.2"/>
<circle cx="817" cy="308" r="13.2"/>
<circle cx="829" cy="312" r="13.2"/>
<circle cx="836" cy="310" r="13.2"/>
<circle cx="846" cy="311" r="13.2"/>
<circle cx="859" cy="311" r="13.2"/>
<circle cx="868" cy="312" r="13.2"/>
<circle cx="871" cy="312" r="13.2"/>
<circle cx="884" cy="313" r="13.2"/>
<circle cx="897" cy="309" r="13.2"/>
<circle cx="905" cy="308" r="13.2"/>
<circle cx="713" cy="315" r="13.2"/>
<circle cx="715" cy="315" r="13.2"/>
<circle cx="726" cy="316" r="13.2"/>
<circle cx="737" cy="322" r="13.2"/>
<circle cx="741" cy="314" r="13.2"/>
<circle cx="750" cy="316" r="13.2"/>
<circle cx="759" cy="318" r="13.2"/>
<circle cx="770" cy="320" r="13.2"/>
<circle cx="785" cy="322" r="13.2"/>
<circle cx="789" cy="319" r="13.2"/>
<circle cx="795" cy="319" r="13.2"/>
<circle cx="811" cy="322" r="13.2"/>
<circle cx="813" cy="315" r="13.2"/>
<circle cx="829" cy="320" r="13.2"/>
<circle cx="837" cy="314" r="13.2"/>
<circle cx="845" cy="314" r="13.2"/>
<circle cx="855" cy="321" r="13.2"/>
<circle cx="860" cy="314" r="13.2"/>
<circle cx="873" cy="323" r="13.2"/>
<circle cx="881" cy="317" r="13.2"/>
<circle cx="887" cy="321" r="13.2"/>
<circle cx="902" cy="317" r="13.2"/>
<circle cx="904" cy="323" r="13.2"/>
<circle cx="721" cy="321" r="13.2"/>
<circle cx="735" cy="324" r="13.2"/>
<circle cx="744" cy="322" r="13.2"/>
<circle cx="748" cy="329" r="13.2"/>
<circle cx="760" cy="328" r="13.2"/>
<circle cx="767" cy="322" r="13.2"/>
<circle cx="779" cy="328" r="13.2"/>
<circle cx="785" cy="327" r="13.2"/>
<circle cx="797" cy="326" r="13.2"/>
<circle cx="803" cy="326" r="13.2"/>
<circle cx="814" cy="328" r="13.2"/>
<circle cx="820" cy="328" r="13.2"/>
<circle cx="829" cy="328" r="13.2"/>
<circle cx="838" cy="330" r="13.2"/>
<circle cx="852" cy="328" r="13.2"/>
<circle cx="856" cy="325" r="13.2"/>
<circle cx="865" cy="327" r="13.2"/>
<circle cx="871" cy="326" r="13.2"/>
<circle cx="888" cy="322" r="13.2"/>
<circle cx="897" cy="327" r="13.2"/>
<circle cx="711" cy="333" r="13.2"/>
<circle cx="718" cy="334" r="13.2"/>
<circle cx="729" cy="332" r="13.2"/>
<circle cx="737" cy="333" r="13.2"/>
<circle cx="747" cy="334" r="13.2"/>
<circle cx="755" cy="338" r="13.2"/>
<circle cx="761" cy="329" r="13.2"/>
<circle cx="775" cy="334" r="13.2"/>
<circle cx="782" cy="337" r="13.2"/>
<circle cx="793" cy="333" r="13.2"/>
<circle cx="803" cy="333" r="13.2"/>
<circle cx="810" cy="337" r="13.2"/>
<circle cx="815" cy="333" r="13.2"/>
<circle cx="824" cy="332" r="13.2"/>
<circle cx="834" cy="337" r="13.2"/>
<circle cx="840" cy="338" r="13.2"/>
<circle cx="855" cy="334" r="13.2"/>
<circle cx="863" cy="332" r="13.2"/>
<circle cx="873" cy="337" r="13.2"/>
<circle cx="878" cy="334" r="13.2"/>
<circle cx="886" cy="332" r="13.2"/>
<circle cx="901" cy="335" r="13.2"/>
<circle cx="906" cy="335" r="13.2"/>
<circle cx="713" cy="345" r="13.2"/>
<circle cx="718" cy="346" r="13.2"/>
<circle cx="732" cy="341" r="13.2"/>
<circle cx="744" cy="345" r="13.2"/>
<circle cx="750" cy="337" r="13.2"/>
<circle cx="759" cy="341" r="13.2"/>
<circle cx="768" cy="345" r="13.2"/>
<circle cx="773" cy="345" r="13.2"/>
<circle cx="783" cy="339" r="13.2"/>
<circle cx="790" cy="338" r="13.2"/>
<circle cx="801" cy="342" r="13.2"/>
<circle cx="816" cy="339" r="13.2"/>
<circle cx="819" cy="340" r="13.2"/>
<circle cx="831" cy="340" r="13.2"/>
<circle cx="841" cy="338" r="13.2"/>
<circle cx="844" cy="342" r="13.2"/>
<circle cx="859" cy="338" r="13.2"/>
<circle cx="862" cy="343" r="13.2"/>
<circle cx="871" cy="345" r="13.2"/>
<circle cx="886" cy="339" r="13.2"/>
<circle cx="892" cy="338" r="13.2"/>
<circle cx="898" cy="340" r="13.2"/>
<circle cx="715" cy="349" r="13.2"/>
<circle cx="725" cy="350" r="13.2"/>
<circle cx="738" cy="346" r="13.2"/>
<circle cx="744" cy="347" r="13.2"/>
<circle cx="755" cy="351" r="13.2"/>
<circle cx="760" cy="347" r="13.2"/>
<circle cx="770" cy="348" r="13.2"/>
<circle cx="784" cy="353" r="13.2"/>
<circle cx="792" cy="348" r="13.2"/>
<circle cx="798" cy="347" r="13.2"/>
<circle cx="807" cy="353" r="13.2"/>
<circle cx="813" cy="348" r="13.2"/>
<circle cx="823" cy="352" r="13.2"/>
<circle cx="833" cy="349" r="13.2"/>
<circle cx="839" cy="351" r="13.2"/>
<circle cx="853" cy="352" r="13.2"/>
<circle cx="863" cy="352" r="13.2"/>
<circle cx="868" cy="347" r="13.2"/>
<circle cx="880" cy="345" r="13.2"/>
<circle cx="892" cy="351" r="13.2"/>
<circle cx="897" cy="348" r="13.2"/>
<circle cx="903" cy="350" r="13.2"/>
<circle cx="713" cy="358" r="13.2"/>
<circle cx="718" cy="360" r="13.2"/>
<circle cx="731" cy="354" r="13.2"/>
<circle cx="743" cy="358" r="13.2"/>
<circle cx="751" cy="359" r="13.2"/>
<circle cx="759" cy="361" r="13.2"/>
<circle cx="763" cy="356" r="13.2"/>
<circle cx="773" cy="358" r="13.2"/>
<circle cx="782" cy="353" r="13.2"/>
<circle cx="791" cy="354" r="13.2"/>
<circle cx="803" cy="357" r="13.2"/>
<circle cx="812" cy="353" r="13.2"/>
<circle cx="821" cy="355" r="13.2"/>
<circle cx="826" cy="353" r="13.2"/>
<circle cx="836" cy="356" r="13.2"/>
<circle cx="845" cy="357" r="13.2"/>
<circle cx="854" cy="359" r="13.2"/>
<circle cx="869" cy="356" r="13.2"/>
<circle cx="871" cy="361" r="13.2"/>
<circle cx="880" cy="359" r="13.2"/>
<circle cx="895" cy="357" r="13.2"/>
<circle cx="906" cy="354" r="13.2"/>
<circle cx="716" cy="369" r="13.2"/>
<circle cx="726" cy="369" r="13.2"/>
<circle cx="733" cy="361" r="13.2"/>
<circle cx="748" cy="361" r="13.2"/>
<circle cx="756" cy="366" r="13.2"/>
<circle cx="761" cy="368" r="13.2"/>
<circle cx="771" cy="369" r="13.2"/>
<circle cx="781" cy="369" r="13.2"/>
<circle cx="793" cy="364" r="13.2"/>
<circle cx="800" cy="367" r="13.2"/>
<circle cx="809" cy="361" r="13.2"/>
<circle cx="818" cy="367" r="13.2"/>
<circle cx="823" cy="361" r="13.2"/>
<circle cx="831" cy="365" r="13.2"/>
<circle cx="840" cy="368" r="13.2"/>
<circle cx="852" cy="369" r="13.2"/>
<circle cx="864" cy="364" r="13.2"/>
<circle cx="868" cy="364" r="13.2"/>
<circle cx="880" cy="368" r="13.2"/>
<circle cx="892" cy="363" r="13.2"/>
<circle cx="893" cy="366" r="13.2"/>
<circle cx="715" cy="373" r="13.2"/>
<circle cx="726" cy="376" r="13.2"/>
<circle cx="733" cy="373" r="13.2"/>
<circle cx="736" cy="370" r="13.2"/>
<circle cx="750" cy="369" r="13.2"/>
<circle cx="759" cy="371" r="13.2"/>
<circle cx="766" cy="376" r="13.2"/>
<circle cx="779" cy="375" r="13.2"/>
<circle cx="785" cy="373" r="13.2"/>
<circle cx="798" cy="377" r="13.2"/>
<circle cx="804" cy="369" r="13.2"/>
<circle cx="816" cy="369" r="13.2"/>
<circle cx="818" cy="374" r="13.2"/>
<circle cx="827" cy="375" r="13.2"/>
<circle cx="841" cy="370" r="13.2"/>
<circle cx="852" cy="377" r="13.2"/>
<circle cx="858" cy="377" r="13.2"/>
<circle cx="869" cy="373" r="13.2"/>
<circle cx="878" cy="377" r="13.2"/>
<circle cx="886" cy="369" r="13.2"/>
<circle cx="892" cy="375" r="13.2"/>
<circle cx="721" cy="377" r="13.2"/>
<circle cx="726" cy="381" r="13.2"/>
<circle cx="735" cy="376" r="13.2"/>
<circle cx="741" cy="384" r="13.2"/>
<circle cx="753" cy="379" r="13.2"/>
<circle cx="762" cy="377" r="13.2"/>
<circle cx="768" cy="384" r="13.2"/>
<circle cx="783" cy="378" r="13.2"/>
<circle cx="788" cy="377" r="13.2"/>
<circle cx="797" cy="381" r="13.2"/>
<circle cx="810" cy="381" r="13.2"/>
<circle cx="820" cy="385" r="13.2"/>
<circle cx="826" cy="376" r="13.2"/>
<circle cx="831" cy="382" r="13.2"/>
<circle cx="840" cy="384" r="13.2"/>
<circle cx="848" cy="377" r="13.2"/>
<circle cx="866" cy="380" r="13.2"/>
<circle cx="871" cy="381" r="13.2"/>
<circle cx="876" cy="379" r="13.2"/>
<circle cx="887" cy="383" r="13.2"/>
<circle cx="900" cy="382" r="13.2"/>
<circle cx="753" cy="387" r="13.2"/>
<circle cx="762" cy="389" r="13.2"/>
<circle cx="771" cy="392" r="13.2"/>
<circle cx="779" cy="387" r="13.2"/>
<circle cx="785" cy="389" r="13.2"/>
<circle cx="797" cy="388" r="13.2"/>
<circle cx="807" cy="386" r="13.2"/>
<circle cx="812" cy="385" r="13.2"/>
<circle cx="818" cy="386" r="13.2"/>
<circle cx="826" cy="389" r="13.2"/>
<circle cx="840" cy="387" r="13.2"/>
<circle cx="851" cy="389" r="13.2"/>
<circle cx="859" cy="385" r="13.2"/>
<circle cx="864" cy="384" r="13.2"/>
<circle cx="872" cy="391" r="13.2"/>
<circle cx="881" cy="389" r="13.2"/>
<circle cx="892" cy="390" r="13.2"/>
<circle cx="758" cy="392" r="13.2"/>
<circle cx="770" cy="400" r="13.2"/>
<circle cx="783" cy="394" r="13.2"/>
<circle cx="789" cy="395" r="13.2"/>
<circle cx="800" cy="394" r="13.2"/>
<circle cx="806" cy="396" r="13.2"/>
<circle cx="814" cy="396" r="13.2"/>
<circle cx="828" cy="396" r="13.2"/>
<circle cx="831" cy="395" r="13.2"/>
<circle cx="844" cy="394" r="13.2"/>
<circle cx="851" cy="397" r="13.2"/>
<circle cx="860" cy="393" r="13.2"/>
<circle cx="874" cy="392" r="13.2"/>
<circle cx="883" cy="392" r="13.2"/>
<circle cx="889" cy="397" r="13.2"/>
<circle cx="761" cy="402" r="13.2"/>
<circle cx="769" cy="404" r="13.2"/>
<circle cx="775" cy="400" r="13.2"/>
<circle cx="783" cy="406" r="13.2"/>
<circle cx="794" cy="407" r="13.2"/>
<circle cx="806" cy="404" r="13.2"/>
<circle cx="816" cy="399" r="13.2"/>
<circle cx="820" cy="404" r="13.2"/>
<circle cx="826" cy="407" r="13.2"/>
<circle cx="836" cy="405" r="13.2"/>
<circle cx="846" cy="403" r="13.2"/>
<circle cx="857" cy="402" r="13.2"/>
<circle cx="863" cy="405" r="13.2"/>
<circle cx="876" cy="400" r="13.2"/>
<circle cx="888" cy="400" r="13.2"/>
<circle cx="891" cy="402" r="13.2"/>
<circle cx="767" cy="410" r="13.2"/>
<circle cx="771" cy="411" r="13.2"/>
<circle cx="784" cy="411" r="13.2"/>
<circle cx="791" cy="409" r="13.2"/>
<circle cx="799" cy="410" r="13.2"/>
<circle cx="811" cy="411" r="13.2"/>
<circle cx="821" cy="412" r="13.2"/>
<circle cx="824" cy="412" r="13.2"/>
<circle cx="838" cy="413" r="13.2"/>
<circle cx="846" cy="412" r="13.2"/>
<circle cx="854" cy="408" r="13.2"/>
<circle cx="864" cy="413" r="13.2"/>
<circle cx="872" cy="410" r="13.2"/>
<circle cx="882" cy="412" r="13.2"/>
<circle cx="765" cy="419" r="13.2"/>
<circle cx="777" cy="417" r="13.2"/>
<circle cx="786" cy="421" r="13.2"/>
<circle cx="798" cy="416" r="13.2"/>
<circle cx="801" cy="416" r="13.2"/>
<circle cx="810" cy="417" r="13.2"/>
<circle cx="817" cy="422" r="13.2"/>
<circle cx="828" cy="422" r="13.2"/>
<circle cx="842" cy="422" r="13.2"/>
<circle cx="844" cy="420" r="13.2"/>
<circle cx="860" cy="421" r="13.2"/>
<circle cx="867" cy="419" r="13.2"/>
<circle cx="766" cy="426" r="13.2"/>
<circle cx="775" cy="424" r="13.2"/>
<circle cx="777" cy="428" r="13.2"/>
<circle cx="787" cy="427" r="13.2"/>
<circle cx="796" cy="429" r="13.2"/>
<circle cx="810" cy="429" r="13.2"/>
<circle cx="813" cy="423" r="13.2"/>
<circle cx="826" cy="424" r="13.2"/>
<circle cx="836" cy="428" r="13.2"/>
<circle cx="847" cy="430" r="13.2"/>
<circle cx="854" cy="430" r="13.2"/>
<circle cx="862" cy="425" r="13.2"/>
<circle cx="867" cy="429" r="13.2"/>
<circle cx="762" cy="440" r="13.2"/>
<circle cx="769" cy="433" r="13.2"/>
<circle cx="775" cy="431" r="13.2"/>
<circle cx="784" cy="437" r="13.2"/>
<circle cx="792" cy="432" r="13.2"/>
<circle cx="803" cy="439" r="13.2"/>
<circle cx="813" cy="432" r="13.2"/>
<circle cx="820" cy="433" r="13.2"/>
<circle cx="833" cy="434" r="13.2"/>
<circle cx="838" cy="439" r="13.2"/>
<circle cx="846" cy="435" r="13.2"/>
<circle cx="861" cy="433" r="13.2"/>
<circle cx="766" cy="447" r="13.2"/>
<circle cx="772" cy="443" r="13.2"/>
<circle cx="777" cy="443" r="13.2"/>
<circle cx="793" cy="441" r="13.2"/>
<circle cx="801" cy="441" r="13.2"/>
<circle cx="809" cy="441" r="13.2"/>
<circle cx="817" cy="445" r="13.2"/>
<circle cx="821" cy="446" r="13.2"/>
<circle cx="835" cy="441" r="13.2"/>
<circle cx="842" cy="443" r="13.2"/>
<circle cx="855" cy="440" r="13.2"/>
<circle cx="858" cy="440" r="13.2"/>
<circle cx="765" cy="451" r="13.2"/>
<circle cx="773" cy="446" r="13.2"/>
<circle cx="788" cy="449" r="13.2"/>
<circle cx="792" cy="455" r="13.2"/>
<circle cx="802" cy="451" r="13.2"/>
<circle cx="809" cy="450" r="13.2"/>
<circle cx="824" cy="454" r="13.2"/>
<circle cx="833" cy="454" r="13.2"/>
<circle cx="837" cy="447" r="13.2"/>
<circle cx="845" cy="452" r="13.2"/>
<circle cx="857" cy="450" r="13.2"/>
<circle cx="766" cy="455" r="13.2"/>
<circle cx="771" cy="461" r="13.2"/>
<circle cx="779" cy="456" r="13.2"/>
<circle cx="785" cy="459" r="13.2"/>
<circle cx="799" cy="456" r="13.2"/>
<circle cx="805" cy="460" r="13.2"/>
<circle cx="814" cy="461" r="13.2"/>
<circle cx="829" cy="458" r="13.2"/>
<circle cx="831" cy="459" r="13.2"/>
<circle cx="842" cy="455" r="13.2"/>
<circle cx="854" cy="459" r="13.2"/>
<circle cx="859" cy="456" r="13.2"/>
<circle cx="760" cy="464" r="13.2"/>
<circle cx="763" cy="468" r="13.2"/>
<circle cx="773" cy="469" r="13.2"/>
<circle cx="786" cy="463" r="13.2"/>
<circle cx="794" cy="469" r="13.2"/>
<circle cx="801" cy="470" r="13.2"/>
<circle cx="808" cy="463" r="13.2"/>
<circle cx="822" cy="468" r="13.2"/>
<circle cx="831" cy="470" r="13.2"/>
<circle cx="836" cy="462" r="13.2"/>
<circle cx="848" cy="465" r="13.2"/>
<circle cx="856" cy="465" r="13.2"/>
<circle cx="760" cy="473" r="13.2"/>
<circle cx="774" cy="475" r="13.2"/>
<circle cx="784" cy="473" r="13.2"/>
<circle cx="789" cy="471" r="13.2"/>
<circle cx="796" cy="477" r="13.2"/>
<circle cx="805" cy="478" r="13.2"/>
<circle cx="819" cy="475" r="13.2"/>
<circle cx="824" cy="470" r="13.2"/>
<circle cx="831" cy="477" r="13.2"/>
<circle cx="848" cy="478" r="13.2"/>
<circle cx="851" cy="478" r="13.2"/>
<circle cx="861" cy="473" r="13.2"/>
<circle cx="770" cy="478" r="13.2"/>
<circle cx="776" cy="483" r="13.2"/>
<circle cx="788" cy="480" r="13.2"/>
<circle cx="795" cy="486" r="13.2"/>
<circle cx="807" cy="482" r="13.2"/>
<circle cx="811" cy="483" r="13.2"/>
<circle cx="823" cy="483" r="13.2"/>
<circle cx="832" cy="481" r="13.2"/>
<circle cx="841" cy="481" r="13.2"/>
<circle cx="846" cy="478" r="13.2"/>
<circle cx="857" cy="479" r="13.2"/>
<circle cx="762" cy="491" r="13.2"/>
<circle cx="774" cy="494" r="13.2"/>
<circle cx="779" cy="486" r="13.2"/>
<circle cx="787" cy="485" r="13.2"/>
<circle cx="796" cy="491" r="13.2"/>
<circle cx="811" cy="486" r="13.2"/>
<circle cx="814" cy="493" r="13.2"/>
<circle cx="826" cy="489" r="13.2"/>
<circle cx="831" cy="486" r="13.2"/>
<circle cx="841" cy="491" r="13.2"/>
<circle cx="768" cy="498" r="13.2"/>
<circle cx="772" cy="493" r="13.2"/>
<circle cx="785" cy="501" r="13.2"/>
<circle cx="796" cy="497" r="13.2"/>
<circle cx="801" cy="494" r="13.2"/>
<circle cx="813" cy="500" r="13.2"/>
<circle cx="820" cy="494" r="13.2"/>
<circle cx="828" cy="499" r="13.2"/>
<circle cx="771" cy="507" r="13.2"/>
<circle cx="784" cy="505" r="13.2"/>
<circle cx="793" cy="508" r="13.2"/>
<circle cx="797" cy="504" r="13.2"/>
<circle cx="809" cy="502" r="13.2"/>
<circle cx="814" cy="503" r="13.2"/>
<circle cx="822" cy="509" r="13.2"/>
<circle cx="778" cy="512" r="13.2"/>
<circle cx="784" cy="511" r="13.2"/>
<circle cx="797" cy="514" r="13.2"/>
<circle cx="801" cy="515" r="13.2"/>
<circle cx="809" cy="516" r="13.2"/>
<circle cx="822" cy="515" r="13.2"/>
<circle cx="774" cy="522" r="13.2"/>
<circle cx="780" cy="520" r="13.2"/>
<circle cx="787" cy="518" r="13.2"/>
<circle cx="800" cy="519" r="13.2"/>
<circle cx="804" cy="520" r="13.2"/>
<circle cx="816" cy="525" r="13.2"/>
<circle cx="775" cy="526" r="13.2"/>
<circle cx="788" cy="532" r="13.2"/>
<circle cx="792" cy="529" r="13.2"/>
<circle cx="803" cy="525" r="13.2"/>
<circle cx="814" cy="529" r="13.2"/>
<circle cx="771" cy="533" r="13.2"/>
<circle cx="782" cy="539" r="13.2"/>
<circle cx="787" cy="534" r="13.2"/>
<circle cx="801" cy="537" r="13.2"/>
<circle cx="803" cy="535" r="13.2"/>
<circle cx="789" cy="540" r="13.2"/>
<circle cx="893" cy="171" r="13.2"/>
<circle cx="891" cy="172" r="13.2"/>
<circle cx="892" cy="176" r="13.2"/>
<circle cx="891" cy="169" r="13.2"/>
<circle cx="852" cy="100" r="13.2"/>
<circle cx="867" cy="150" r="13.2"/>
<circle cx="913" cy="301" r="13.2"/>
<circle cx="918" cy="304" r="13.2"/>
<circle cx="913" cy="300" r="13.2"/>
<circle cx="916" cy="298" r="13.2"/>
<circle cx="910" cy="270" r="13.2"/>
<circle cx="893" cy="236" r="13.2"/>
<circle cx="903" cy="253" r="13.2"/>
<circle cx="913" cy="346" r="13.2"/>
<circle cx="510" cy="451" r="13.2"/>
<circle cx="635" cy="251" r="13.2"/>
<circle cx="678" cy="330" r="13.2"/>
<circle cx="675" cy="386" r="13.2"/>
<circle cx="612" cy="415" r="13.2"/>
<circle cx="614" cy="411" r="13.2"/>
<circle cx="615" cy="410" r="13.2"/>
<circle cx="617" cy="419" r="13.2"/>
<circle cx="606" cy="411" r="13.2"/>
<circle cx="617" cy="418" r="13.2"/>
<circle cx="609" cy="418" r="13.2"/>
<circle cx="600" cy="420" r="13.2"/>
<circle cx="610" cy="446" r="13.2"/>
<circle cx="611" cy="444" r="13.2"/>
<circle cx="612" cy="445" r="13.2"/>
<circle cx="606" cy="450" r="13.2"/>
<circle cx="717" cy="393" r="13.2"/>
<circle cx="719" cy="390" r="13.2"/>
<circle cx="716" cy="395" r="13.2"/>
<circle cx="715" cy="391" r="13.2"/>
<circle cx="406" cy="436" r="13.2"/>
<circle cx="407" cy="433" r="13.2"/>
<circle cx="408" cy="432" r="13.2"/>
<circle cx="403" cy="431" r="13.2"/>
<circle cx="410" cy="400" r="13.2"/>
<circle cx="615" cy="412" r="13.2"/>
<circle cx="617" cy="416" r="13.2"/>
<circle cx="614" cy="413" r="13.2"/>
<circle cx="613" cy="416" r="13.2"/>
<circle cx="617" cy="407" r="13.2"/>
<circle cx="617" cy="408" r="13.2"/>
<circle cx="615" cy="409" r="13.2"/>
<circle cx="675" cy="390" r="13.2"/>
<circle cx="675" cy="392" r="13.2"/>
<circle cx="677" cy="388" r="13.2"/>
<circle cx="671" cy="390" r="13.2"/>
<circle cx="740" cy="434" r="13.2"/>
<circle cx="752" cy="440" r="13.2"/>
<circle cx="761" cy="439" r="13.2"/>
<circle cx="745" cy="449" r="13.2"/>
<circle cx="751" cy="443" r="13.2"/>
<circle cx="761" cy="449" r="13.2"/>
<circle cx="741" cy="451" r="13.2"/>
<circle cx="751" cy="453" r="13.2"/>
<circle cx="754" cy="453" r="13.2"/>
<circle cx="763" cy="457" r="13.2"/>
<circle cx="741" cy="466" r="13.2"/>
<circle cx="756" cy="461" r="13.2"/>
<circle cx="741" cy="470" r="13.2"/>
<circle cx="752" cy="466" r="13.2"/>
<circle cx="761" cy="472" r="13.2"/>
<circle cx="741" cy="480" r="13.2"/>
<circle cx="754" cy="481" r="13.2"/>
<circle cx="760" cy="479" r="13.2"/>
<circle cx="740" cy="485" r="13.2"/>
<circle cx="745" cy="485" r="13.2"/>
<circle cx="761" cy="489" r="13.2"/>
<circle cx="762" cy="483" r="13.2"/>
<circle cx="741" cy="491" r="13.2"/>
<circle cx="757" cy="489" r="13.2"/>
<circle cx="762" cy="491" r="13.2"/>
<circle cx="743" cy="499" r="13.2"/>
<circle cx="750" cy="496" r="13.2"/>
<circle cx="761" cy="502" r="13.2"/>
<circle cx="747" cy="510" r="13.2"/>
<circle cx="751" cy="504" r="13.2"/>
<circle cx="763" cy="504" r="13.2"/>
<circle cx="746" cy="519" r="13.2"/>
<circle cx="759" cy="517" r="13.2"/>
<circle cx="740" cy="522" r="13.2"/>
<circle cx="1487" cy="286" r="13.2"/>
<circle cx="1491" cy="291" r="13.2"/>
<circle cx="1498" cy="292" r="13.2"/>
<circle cx="1509" cy="293" r="13.2"/>
<circle cx="1507" cy="297" r="13.2"/>
<circle cx="1517" cy="301" r="13.2"/>
<circle cx="1522" cy="296" r="13.2"/>
<circle cx="1503" cy="304" r="13.2"/>
<circle cx="1513" cy="310" r="13.2"/>
<circle cx="1522" cy="304" r="13.2"/>
<circle cx="1529" cy="302" r="13.2"/>
<circle cx="1513" cy="310" r="13.2"/>
<circle cx="1526" cy="315" r="13.2"/>
<circle cx="1536" cy="315" r="13.2"/>
<circle cx="1522" cy="324" r="13.2"/>
<circle cx="1530" cy="319" r="13.2"/>
<circle cx="1509" cy="331" r="13.2"/>
<circle cx="1512" cy="329" r="13.2"/>
<circle cx="1523" cy="330" r="13.2"/>
<circle cx="1518" cy="333" r="13.2"/>
<circle cx="1170" cy="362" r="13.2"/>
<circle cx="1172" cy="359" r="13.2"/>
<circle cx="1171" cy="368" r="13.2"/>
<circle cx="1175" cy="364" r="13.2"/>
<circle cx="1171" cy="365" r="13.2"/>
<circle cx="1170" cy="365" r="13.2"/>
<circle cx="1169" cy="363" r="13.2"/>
<circle cx="1200" cy="328" r="13.2"/>
<circle cx="1203" cy="328" r="13.2"/>
<circle cx="1202" cy="326" r="13.2"/>
<circle cx="1199" cy="329" r="13.2"/>
<circle cx="1236" cy="362" r="13.2"/>
<circle cx="1250" cy="395" r="13.2"/>
<circle cx="1158" cy="448" r="13.2"/>
<circle cx="1157" cy="447" r="13.2"/>
<circle cx="1157" cy="445" r="13.2"/>
<circle cx="1159" cy="451" r="13.2"/>
<circle cx="1250" cy="455" r="13.2"/>
<circle cx="1252" cy="438" r="13.2"/>
<circle cx="1163" cy="440" r="13.2"/>
<circle cx="1388" cy="340" r="13.2"/>
<circle cx="1383" cy="380" r="13.2"/>
<circle cx="1380" cy="381" r="13.2"/>
<circle cx="1383" cy="381" r="13.2"/>
<circle cx="1385" cy="379" r="13.2"/>
<circle cx="1410" cy="380" r="13.2"/>
<circle cx="1338" cy="408" r="13.2"/>
<circle cx="1333" cy="406" r="13.2"/>
<circle cx="1338" cy="409" r="13.2"/>
<circle cx="1342" cy="409" r="13.2"/>
<circle cx="1423" cy="428" r="13.2"/>
<circle cx="1425" cy="426" r="13.2"/>
<circle cx="1427" cy="423" r="13.2"/>
<circle cx="1428" cy="427" r="13.2"/>
<circle cx="1422" cy="430" r="13.2"/>
<circle cx="1424" cy="433" r="13.2"/>
<circle cx="1418" cy="422" r="13.2"/>
<circle cx="1436" cy="435" r="13.2"/>
<circle cx="1437" cy="432" r="13.2"/>
<circle cx="1432" cy="441" r="13.2"/>
<circle cx="1436" cy="433" r="13.2"/>
<circle cx="1434" cy="432" r="13.2"/>
<circle cx="1433" cy="431" r="13.2"/>
<circle cx="1441" cy="438" r="13.2"/>
<circle cx="1438" cy="425" r="13.2"/>
<circle cx="1437" cy="421" r="13.2"/>
<circle cx="1443" cy="429" r="13.2"/>
<circle cx="1434" cy="429" r="13.2"/>
<circle cx="1383" cy="480" r="13.2"/>
<circle cx="1426" cy="268" r="13.2"/>
<circle cx="1426" cy="272" r="13.2"/>
<circle cx="1425" cy="267" r="13.2"/>
<circle cx="1421" cy="268" r="13.2"/>
<circle cx="1416" cy="320" r="13.2"/>
<circle cx="1412" cy="325" r="13.2"/>
<circle cx="1412" cy="325" r="13.2"/>
<circle cx="1414" cy="324" r="13.2"/>
<circle cx="1418" cy="325" r="13.2"/>
<circle cx="1416" cy="318" r="13.2"/>
<circle cx="1413" cy="317" r="13.2"/>
<circle cx="1463" cy="315" r="13.2"/>
<circle cx="1513" cy="355" r="13.2"/>
<circle cx="1509" cy="353" r="13.2"/>
<circle cx="1511" cy="358" r="13.2"/>
<circle cx="1508" cy="355" r="13.2"/>
<circle cx="1528" cy="385" r="13.2"/>
<circle cx="1528" cy="381" r="13.2"/>
<circle cx="1530" cy="381" r="13.2"/>
<circle cx="1531" cy="381" r="13.2"/>
<circle cx="1533" cy="383" r="13.2"/>
<circle cx="1523" cy="381" r="13.2"/>
<circle cx="1524" cy="381" r="13.2"/>
<circle cx="1510" cy="365" r="13.2"/>
<circle cx="1129" cy="479" r="13.2"/>
<circle cx="1180" cy="530" r="13.2"/>
<circle cx="1179" cy="535" r="13.2"/>
<circle cx="1179" cy="529" r="13.2"/>
<circle cx="1183" cy="526" r="13.2"/>
<circle cx="1556" cy="455" r="13.2"/>
<circle cx="1550" cy="475" r="13.2"/>
<circle cx="1546" cy="479" r="13.2"/>
<circle cx="1549" cy="472" r="13.2"/>
<circle cx="1547" cy="477" r="13.2"/>
<circle cx="1158" cy="585" r="13.2"/>
<circle cx="1164" cy="584" r="13.2"/>
<circle cx="1161" cy="585" r="13.2"/>
<circle cx="1154" cy="583" r="13.2"/>
<circle cx="1156" cy="582" r="13.2"/>
<circle cx="1162" cy="580" r="13.2"/>
<circle cx="1157" cy="588" r="13.2"/>
<circle cx="1503" cy="540" r="13.2"/>
<circle cx="1501" cy="210" r="13.2"/>
<circle cx="1503" cy="205" r="13.2"/>
<circle cx="1499" cy="211" r="13.2"/>
<circle cx="1504" cy="216" r="13.2"/>
<circle cx="1505" cy="206" r="13.2"/>
<circle cx="1502" cy="211" r="13.2"/>
<circle cx="1502" cy="211" r="13.2"/>
<circle cx="1508" cy="203" r="13.2"/>
<circle cx="1488" cy="233" r="13.2"/>
<circle cx="1604" cy="398" r="13.2"/>
<circle cx="1603" cy="395" r="13.2"/>
<circle cx="1606" cy="402" r="13.2"/>
<circle cx="1607" cy="400" r="13.2"/>
<circle cx="1610" cy="395" r="13.2"/>
<circle cx="1605" cy="402" r="13.2"/>
<circle cx="1606" cy="392" r="13.2"/>
<circle cx="1768" cy="550" r="13.2"/>
<circle cx="1768" cy="553" r="13.2"/>
<circle cx="1765" cy="549" r="13.2"/>
<circle cx="1772" cy="549" r="13.2"/>
<circle cx="1761" cy="570" r="13.2"/>
<circle cx="1762" cy="571" r="13.2"/>
<circle cx="1765" cy="569" r="13.2"/>
<circle cx="1766" cy="572" r="13.2"/>
<circle cx="1760" cy="571" r="13.2"/>
<circle cx="1759" cy="564" r="13.2"/>
<circle cx="1761" cy="564" r="13.2"/>
<circle cx="1791" cy="573" r="13.2"/>
<circle cx="1789" cy="577" r="13.2"/>
<circle cx="1797" cy="569" r="13.2"/>
<circle cx="1787" cy="571" r="13.2"/>
<circle cx="1790" cy="569" r="13.2"/>
<circle cx="1795" cy="569" r="13.2"/>
<circle cx="1791" cy="570" r="13.2"/>
<circle cx="1628" cy="463" r="13.2"/>
<circle cx="1637" cy="456" r="13.2"/>
<circle cx="1649" cy="461" r="13.2"/>
<circle cx="1651" cy="457" r="13.2"/>
<circle cx="1658" cy="461" r="13.2"/>
<circle cx="1620" cy="468" r="13.2"/>
<circle cx="1627" cy="471" r="13.2"/>
<circle cx="1638" cy="465" r="13.2"/>
<circle cx="1653" cy="463" r="13.2"/>
<circle cx="1655" cy="466" r="13.2"/>
<circle cx="1665" cy="465" r="13.2"/>
<circle cx="1601" cy="472" r="13.2"/>
<circle cx="1612" cy="477" r="13.2"/>
<circle cx="1617" cy="476" r="13.2"/>
<circle cx="1631" cy="478" r="13.2"/>
<circle cx="1637" cy="475" r="13.2"/>
<circle cx="1643" cy="476" r="13.2"/>
<circle cx="1650" cy="474" r="13.2"/>
<circle cx="1659" cy="471" r="13.2"/>
<circle cx="1603" cy="484" r="13.2"/>
<circle cx="1609" cy="484" r="13.2"/>
<circle cx="1626" cy="480" r="13.2"/>
<circle cx="1630" cy="484" r="13.2"/>
<circle cx="1638" cy="485" r="13.2"/>
<circle cx="1654" cy="479" r="13.2"/>
<circle cx="1658" cy="479" r="13.2"/>
<circle cx="1600" cy="491" r="13.2"/>
<circle cx="1611" cy="487" r="13.2"/>
<circle cx="1614" cy="493" r="13.2"/>
<circle cx="1628" cy="492" r="13.2"/>
<circle cx="1638" cy="487" r="13.2"/>
<circle cx="1648" cy="491" r="13.2"/>
<circle cx="1658" cy="490" r="13.2"/>
<circle cx="1603" cy="495" r="13.2"/>
<circle cx="1615" cy="501" r="13.2"/>
<circle cx="1621" cy="500" r="13.2"/>
<circle cx="1630" cy="502" r="13.2"/>
<circle cx="1638" cy="493" r="13.2"/>
<circle cx="1645" cy="498" r="13.2"/>
<circle cx="1659" cy="496" r="13.2"/>
<circle cx="1666" cy="497" r="13.2"/>
<circle cx="1596" cy="506" r="13.2"/>
<circle cx="1607" cy="503" r="13.2"/>
<circle cx="1622" cy="509" r="13.2"/>
<circle cx="1626" cy="508" r="13.2"/>
<circle cx="1637" cy="504" r="13.2"/>
<circle cx="1641" cy="506" r="13.2"/>
<circle cx="1651" cy="508" r="13.2"/>
<circle cx="1664" cy="503" r="13.2"/>
<circle cx="1674" cy="510" r="13.2"/>
<circle cx="1680" cy="510" r="13.2"/>
<circle cx="1606" cy="515" r="13.2"/>
<circle cx="1610" cy="517" r="13.2"/>
<circle cx="1625" cy="517" r="13.2"/>
<circle cx="1634" cy="514" r="13.2"/>
<circle cx="1642" cy="510" r="13.2"/>
<circle cx="1650" cy="512" r="13.2"/>
<circle cx="1657" cy="511" r="13.2"/>
<circle cx="1663" cy="516" r="13.2"/>
<circle cx="1679" cy="509" r="13.2"/>
<circle cx="1600" cy="522" r="13.2"/>
<circle cx="1606" cy="518" r="13.2"/>
<circle cx="1618" cy="520" r="13.2"/>
<circle cx="1627" cy="522" r="13.2"/>
<circle cx="1632" cy="517" r="13.2"/>
<circle cx="1641" cy="524" r="13.2"/>
<circle cx="1655" cy="518" r="13.2"/>
<circle cx="1661" cy="519" r="13.2"/>
<circle cx="1605" cy="528" r="13.2"/>
<circle cx="1613" cy="530" r="13.2"/>
<circle cx="1624" cy="531" r="13.2"/>
<circle cx="1630" cy="526" r="13.2"/>
<circle cx="1643" cy="525" r="13.2"/>
<circle cx="1647" cy="526" r="13.2"/>
<circle cx="1659" cy="530" r="13.2"/>
<circle cx="1664" cy="529" r="13.2"/>
<circle cx="1595" cy="532" r="13.2"/>
<circle cx="1598" cy="541" r="13.2"/>
<circle cx="1606" cy="535" r="13.2"/>
<circle cx="1622" cy="540" r="13.2"/>
<circle cx="1626" cy="538" r="13.2"/>
<circle cx="1638" cy="535" r="13.2"/>
<circle cx="1640" cy="535" r="13.2"/>
<circle cx="1655" cy="541" r="13.2"/>
<circle cx="1662" cy="536" r="13.2"/>
<circle cx="1671" cy="537" r="13.2"/>
<circle cx="1590" cy="547" r="13.2"/>
<circle cx="1593" cy="542" r="13.2"/>
<circle cx="1602" cy="543" r="13.2"/>
<circle cx="1615" cy="547" r="13.2"/>
<circle cx="1626" cy="541" r="13.2"/>
<circle cx="1628" cy="543" r="13.2"/>
<circle cx="1644" cy="544" r="13.2"/>
<circle cx="1651" cy="547" r="13.2"/>
<circle cx="1658" cy="543" r="13.2"/>
<circle cx="1670" cy="546" r="13.2"/>
<circle cx="1592" cy="551" r="13.2"/>
<circle cx="1600" cy="551" r="13.2"/>
<circle cx="1612" cy="550" r="13.2"/>
<circle cx="1615" cy="550" r="13.2"/>
<circle cx="1624" cy="555" r="13.2"/>
<circle cx="1637" cy="550" r="13.2"/>
<circle cx="1644" cy="556" r="13.2"/>
<circle cx="1658" cy="550" r="13.2"/>
<circle cx="1667" cy="548" r="13.2"/>
<circle cx="1676" cy="551" r="13.2"/>
<circle cx="1594" cy="560" r="13.2"/>
<circle cx="1608" cy="562" r="13.2"/>
<circle cx="1616" cy="556" r="13.2"/>
<circle cx="1625" cy="563" r="13.2"/>
<circle cx="1627" cy="557" r="13.2"/>
<circle cx="1642" cy="563" r="13.2"/>
<circle cx="1650" cy="563" r="13.2"/>
<circle cx="1654" cy="558" r="13.2"/>
<circle cx="1670" cy="563" r="13.2"/>
<circle cx="1674" cy="561" r="13.2"/>
<circle cx="1594" cy="571" r="13.2"/>
<circle cx="1598" cy="564" r="13.2"/>
<circle cx="1605" cy="571" r="13.2"/>
<circle cx="1620" cy="570" r="13.2"/>
<circle cx="1630" cy="567" r="13.2"/>
<circle cx="1633" cy="564" r="13.2"/>
<circle cx="1644" cy="570" r="13.2"/>
<circle cx="1650" cy="567" r="13.2"/>
<circle cx="1659" cy="565" r="13.2"/>
<circle cx="1672" cy="569" r="13.2"/>
<circle cx="1579" cy="580" r="13.2"/>
<circle cx="1588" cy="573" r="13.2"/>
<circle cx="1594" cy="575" r="13.2"/>
<circle cx="1604" cy="574" r="13.2"/>
<circle cx="1610" cy="571" r="13.2"/>
<circle cx="1626" cy="580" r="13.2"/>
<circle cx="1635" cy="574" r="13.2"/>
<circle cx="1642" cy="573" r="13.2"/>
<circle cx="1646" cy="571" r="13.2"/>
<circle cx="1657" cy="578" r="13.2"/>
<circle cx="1667" cy="573" r="13.2"/>
<circle cx="1676" cy="576" r="13.2"/>
<circle cx="1586" cy="584" r="13.2"/>
<circle cx="1591" cy="584" r="13.2"/>
<circle cx="1601" cy="584" r="13.2"/>
<circle cx="1607" cy="581" r="13.2"/>
<circle cx="1619" cy="587" r="13.2"/>
<circle cx="1630" cy="583" r="13.2"/>
<circle cx="1634" cy="584" r="13.2"/>
<circle cx="1641" cy="583" r="13.2"/>
<circle cx="1656" cy="587" r="13.2"/>
<circle cx="1659" cy="581" r="13.2"/>
<circle cx="1671" cy="584" r="13.2"/>
<circle cx="1555" cy="593" r="13.2"/>
<circle cx="1568" cy="591" r="13.2"/>
<circle cx="1579" cy="593" r="13.2"/>
<circle cx="1585" cy="590" r="13.2"/>
<circle cx="1599" cy="587" r="13.2"/>
<circle cx="1607" cy="591" r="13.2"/>
<circle cx="1613" cy="589" r="13.2"/>
<circle cx="1626" cy="589" r="13.2"/>
<circle cx="1630" cy="587" r="13.2"/>
<circle cx="1644" cy="594" r="13.2"/>
<circle cx="1645" cy="588" r="13.2"/>
<circle cx="1656" cy="587" r="13.2"/>
<circle cx="1550" cy="602" r="13.2"/>
<circle cx="1556" cy="602" r="13.2"/>
<circle cx="1564" cy="599" r="13.2"/>
<circle cx="1574" cy="596" r="13.2"/>
<circle cx="1583" cy="599" r="13.2"/>
<circle cx="1589" cy="599" r="13.2"/>
<circle cx="1597" cy="600" r="13.2"/>
<circle cx="1605" cy="598" r="13.2"/>
<circle cx="1614" cy="599" r="13.2"/>
<circle cx="1623" cy="602" r="13.2"/>
<circle cx="1631" cy="602" r="13.2"/>
<circle cx="1643" cy="603" r="13.2"/>
<circle cx="1652" cy="596" r="13.2"/>
<circle cx="1608" cy="606" r="13.2"/>
<circle cx="1630" cy="605" r="13.2"/>
<circle cx="1521" cy="703" r="13.2"/>
<circle cx="1536" cy="699" r="13.2"/>
<circle cx="1544" cy="696" r="13.2"/>
<circle cx="1555" cy="695" r="13.2"/>
<circle cx="1560" cy="698" r="13.2"/>
<circle cx="1509" cy="709" r="13.2"/>
<circle cx="1510" cy="708" r="13.2"/>
<circle cx="1520" cy="704" r="13.2"/>
<circle cx="1530" cy="704" r="13.2"/>
<circle cx="1539" cy="704" r="13.2"/>
<circle cx="1548" cy="708" r="13.2"/>
<circle cx="1559" cy="709" r="13.2"/>
<circle cx="1566" cy="702" r="13.2"/>
<circle cx="1649" cy="711" r="13.2"/>
<circle cx="1662" cy="709" r="13.2"/>
<circle cx="1663" cy="708" r="13.2"/>
<circle cx="1501" cy="715" r="13.2"/>
<circle cx="1513" cy="710" r="13.2"/>
<circle cx="1520" cy="718" r="13.2"/>
<circle cx="1528" cy="712" r="13.2"/>
<circle cx="1539" cy="714" r="13.2"/>
<circle cx="1543" cy="717" r="13.2"/>
<circle cx="1557" cy="717" r="13.2"/>
<circle cx="1563" cy="710" r="13.2"/>
<circle cx="1568" cy="715" r="13.2"/>
<circle cx="1577" cy="716" r="13.2"/>
<circle cx="1587" cy="717" r="13.2"/>
<circle cx="1595" cy="716" r="13.2"/>
<circle cx="1606" cy="719" r="13.2"/>
<circle cx="1617" cy="715" r="13.2"/>
<circle cx="1652" cy="715" r="13.2"/>
<circle cx="1658" cy="718" r="13.2"/>
<circle cx="1674" cy="717" r="13.2"/>
<circle cx="1737" cy="713" r="13.2"/>
<circle cx="1741" cy="711" r="13.2"/>
<circle cx="1509" cy="721" r="13.2"/>
<circle cx="1517" cy="723" r="13.2"/>
<circle cx="1523" cy="726" r="13.2"/>
<circle cx="1533" cy="724" r="13.2"/>
<circle cx="1545" cy="722" r="13.2"/>
<circle cx="1546" cy="718" r="13.2"/>
<circle cx="1561" cy="722" r="13.2"/>
<circle cx="1571" cy="727" r="13.2"/>
<circle cx="1575" cy="720" r="13.2"/>
<circle cx="1586" cy="718" r="13.2"/>
<circle cx="1591" cy="718" r="13.2"/>
<circle cx="1602" cy="722" r="13.2"/>
<circle cx="1610" cy="724" r="13.2"/>
<circle cx="1624" cy="725" r="13.2"/>
<circle cx="1631" cy="725" r="13.2"/>
<circle cx="1642" cy="724" r="13.2"/>
<circle cx="1647" cy="723" r="13.2"/>
<circle cx="1661" cy="720" r="13.2"/>
<circle cx="1666" cy="718" r="13.2"/>
<circle cx="1677" cy="719" r="13.2"/>
<circle cx="1684" cy="719" r="13.2"/>
<circle cx="1690" cy="726" r="13.2"/>
<circle cx="1714" cy="723" r="13.2"/>
<circle cx="1721" cy="724" r="13.2"/>
<circle cx="1733" cy="720" r="13.2"/>
<circle cx="1739" cy="720" r="13.2"/>
<circle cx="1745" cy="720" r="13.2"/>
<circle cx="1519" cy="731" r="13.2"/>
<circle cx="1525" cy="726" r="13.2"/>
<circle cx="1537" cy="727" r="13.2"/>
<circle cx="1541" cy="734" r="13.2"/>
<circle cx="1556" cy="734" r="13.2"/>
<circle cx="1562" cy="733" r="13.2"/>
<circle cx="1576" cy="731" r="13.2"/>
<circle cx="1577" cy="728" r="13.2"/>
<circle cx="1589" cy="730" r="13.2"/>
<circle cx="1600" cy="727" r="13.2"/>
<circle cx="1606" cy="726" r="13.2"/>
<circle cx="1616" cy="727" r="13.2"/>
<circle cx="1624" cy="726" r="13.2"/>
<circle cx="1638" cy="728" r="13.2"/>
<circle cx="1644" cy="731" r="13.2"/>
<circle cx="1649" cy="731" r="13.2"/>
<circle cx="1665" cy="728" r="13.2"/>
<circle cx="1673" cy="732" r="13.2"/>
<circle cx="1681" cy="729" r="13.2"/>
<circle cx="1689" cy="732" r="13.2"/>
<circle cx="1698" cy="732" r="13.2"/>
<circle cx="1710" cy="732" r="13.2"/>
<circle cx="1716" cy="727" r="13.2"/>
<circle cx="1722" cy="728" r="13.2"/>
<circle cx="1735" cy="726" r="13.2"/>
<circle cx="1742" cy="727" r="13.2"/>
<circle cx="1511" cy="735" r="13.2"/>
<circle cx="1524" cy="737" r="13.2"/>
<circle cx="1528" cy="735" r="13.2"/>
<circle cx="1543" cy="737" r="13.2"/>
<circle cx="1552" cy="739" r="13.2"/>
<circle cx="1554" cy="736" r="13.2"/>
<circle cx="1569" cy="736" r="13.2"/>
<circle cx="1574" cy="742" r="13.2"/>
<circle cx="1584" cy="739" r="13.2"/>
<circle cx="1594" cy="742" r="13.2"/>
<circle cx="1601" cy="734" r="13.2"/>
<circle cx="1614" cy="740" r="13.2"/>
<circle cx="1625" cy="734" r="13.2"/>
<circle cx="1628" cy="738" r="13.2"/>
<circle cx="1638" cy="735" r="13.2"/>
<circle cx="1646" cy="734" r="13.2"/>
<circle cx="1657" cy="735" r="13.2"/>
<circle cx="1663" cy="734" r="13.2"/>
<circle cx="1678" cy="739" r="13.2"/>
<circle cx="1683" cy="741" r="13.2"/>
<circle cx="1690" cy="737" r="13.2"/>
<circle cx="1707" cy="734" r="13.2"/>
<circle cx="1709" cy="738" r="13.2"/>
<circle cx="1719" cy="734" r="13.2"/>
<circle cx="1509" cy="746" r="13.2"/>
<circle cx="1521" cy="743" r="13.2"/>
<circle cx="1524" cy="746" r="13.2"/>
<circle cx="1532" cy="745" r="13.2"/>
<circle cx="1542" cy="743" r="13.2"/>
<circle cx="1553" cy="749" r="13.2"/>
<circle cx="1564" cy="744" r="13.2"/>
<circle cx="1574" cy="746" r="13.2"/>
<circle cx="1577" cy="745" r="13.2"/>
<circle cx="1592" cy="748" r="13.2"/>
<circle cx="1604" cy="741" r="13.2"/>
<circle cx="1608" cy="745" r="13.2"/>
<circle cx="1617" cy="749" r="13.2"/>
<circle cx="1626" cy="746" r="13.2"/>
<circle cx="1638" cy="749" r="13.2"/>
<circle cx="1645" cy="746" r="13.2"/>
<circle cx="1650" cy="745" r="13.2"/>
<circle cx="1660" cy="748" r="13.2"/>
<circle cx="1673" cy="742" r="13.2"/>
<circle cx="1681" cy="749" r="13.2"/>
<circle cx="1692" cy="745" r="13.2"/>
<circle cx="1697" cy="746" r="13.2"/>
<circle cx="1506" cy="757" r="13.2"/>
<circle cx="1513" cy="751" r="13.2"/>
<circle cx="1525" cy="755" r="13.2"/>
<circle cx="1531" cy="749" r="13.2"/>
<circle cx="1539" cy="755" r="13.2"/>
<circle cx="1547" cy="753" r="13.2"/>
<circle cx="1561" cy="752" r="13.2"/>
<circle cx="1564" cy="755" r="13.2"/>
<circle cx="1579" cy="754" r="13.2"/>
<circle cx="1590" cy="752" r="13.2"/>
<circle cx="1595" cy="753" r="13.2"/>
<circle cx="1607" cy="752" r="13.2"/>
<circle cx="1611" cy="752" r="13.2"/>
<circle cx="1625" cy="756" r="13.2"/>
<circle cx="1628" cy="756" r="13.2"/>
<circle cx="1644" cy="752" r="13.2"/>
<circle cx="1651" cy="755" r="13.2"/>
<circle cx="1659" cy="751" r="13.2"/>
<circle cx="1662" cy="757" r="13.2"/>
<circle cx="1674" cy="756" r="13.2"/>
<circle cx="1688" cy="757" r="13.2"/>
<circle cx="1696" cy="756" r="13.2"/>
<circle cx="1706" cy="757" r="13.2"/>
<circle cx="1500" cy="763" r="13.2"/>
<circle cx="1506" cy="764" r="13.2"/>
<circle cx="1517" cy="760" r="13.2"/>
<circle cx="1531" cy="763" r="13.2"/>
<circle cx="1538" cy="764" r="13.2"/>
<circle cx="1545" cy="760" r="13.2"/>
<circle cx="1555" cy="764" r="13.2"/>
<circle cx="1560" cy="763" r="13.2"/>
<circle cx="1572" cy="765" r="13.2"/>
<circle cx="1583" cy="765" r="13.2"/>
<circle cx="1590" cy="761" r="13.2"/>
<circle cx="1597" cy="759" r="13.2"/>
<circle cx="1607" cy="759" r="13.2"/>
<circle cx="1618" cy="762" r="13.2"/>
<circle cx="1628" cy="764" r="13.2"/>
<circle cx="1640" cy="762" r="13.2"/>
<circle cx="1645" cy="762" r="13.2"/>
<circle cx="1653" cy="760" r="13.2"/>
<circle cx="1661" cy="760" r="13.2"/>
<circle cx="1671" cy="761" r="13.2"/>
<circle cx="1681" cy="763" r="13.2"/>
<circle cx="1694" cy="762" r="13.2"/>
<circle cx="1703" cy="760" r="13.2"/>
<circle cx="1708" cy="762" r="13.2"/>
<circle cx="1496" cy="767" r="13.2"/>
<circle cx="1507" cy="767" r="13.2"/>
<circle cx="1510" cy="766" r="13.2"/>
<circle cx="1521" cy="770" r="13.2"/>
<circle cx="1534" cy="772" r="13.2"/>
<circle cx="1545" cy="770" r="13.2"/>
<circle cx="1546" cy="771" r="13.2"/>
<circle cx="1558" cy="770" r="13.2"/>
<circle cx="1565" cy="768" r="13.2"/>
<circle cx="1575" cy="771" r="13.2"/>
<circle cx="1590" cy="768" r="13.2"/>
<circle cx="1595" cy="770" r="13.2"/>
<circle cx="1606" cy="768" r="13.2"/>
<circle cx="1611" cy="770" r="13.2"/>
<circle cx="1620" cy="769" r="13.2"/>
<circle cx="1632" cy="770" r="13.2"/>
<circle cx="1644" cy="768" r="13.2"/>
<circle cx="1646" cy="768" r="13.2"/>
<circle cx="1661" cy="772" r="13.2"/>
<circle cx="1663" cy="766" r="13.2"/>
<circle cx="1673" cy="772" r="13.2"/>
<circle cx="1687" cy="766" r="13.2"/>
<circle cx="1696" cy="772" r="13.2"/>
<circle cx="1706" cy="768" r="13.2"/>
<circle cx="1715" cy="767" r="13.2"/>
<circle cx="1742" cy="771" r="13.2"/>
<circle cx="1748" cy="769" r="13.2"/>
<circle cx="1481" cy="781" r="13.2"/>
<circle cx="1489" cy="777" r="13.2"/>
<circle cx="1502" cy="779" r="13.2"/>
<circle cx="1508" cy="773" r="13.2"/>
<circle cx="1520" cy="773" r="13.2"/>
<circle cx="1530" cy="773" r="13.2"/>
<circle cx="1540" cy="780" r="13.2"/>
<circle cx="1545" cy="780" r="13.2"/>
<circle cx="1557" cy="778" r="13.2"/>
<circle cx="1561" cy="773" r="13.2"/>
<circle cx="1569" cy="773" r="13.2"/>
<circle cx="1583" cy="779" r="13.2"/>
<circle cx="1594" cy="776" r="13.2"/>
<circle cx="1598" cy="780" r="13.2"/>
<circle cx="1611" cy="781" r="13.2"/>
<circle cx="1613" cy="781" r="13.2"/>
<circle cx="1626" cy="780" r="13.2"/>
<circle cx="1633" cy="777" r="13.2"/>
<circle cx="1647" cy="779" r="13.2"/>
<circle cx="1655" cy="773" r="13.2"/>
<circle cx="1666" cy="773" r="13.2"/>
<circle cx="1674" cy="777" r="13.2"/>
<circle cx="1681" cy="774" r="13.2"/>
<circle cx="1692" cy="779" r="13.2"/>
<circle cx="1696" cy="781" r="13.2"/>
<circle cx="1707" cy="780" r="13.2"/>
<circle cx="1714" cy="776" r="13.2"/>
<circle cx="1723" cy="773" r="13.2"/>
<circle cx="1731" cy="774" r="13.2"/>
<circle cx="1743" cy="777" r="13.2"/>
<circle cx="1749" cy="781" r="13.2"/>
<circle cx="1501" cy="783" r="13.2"/>
<circle cx="1510" cy="788" r="13.2"/>
<circle cx="1526" cy="787" r="13.2"/>
<circle cx="1532" cy="781" r="13.2"/>
<circle cx="1541" cy="788" r="13.2"/>
<circle cx="1552" cy="780" r="13.2"/>
<circle cx="1563" cy="789" r="13.2"/>
<circle cx="1569" cy="780" r="13.2"/>
<circle cx="1579" cy="786" r="13.2"/>
<circle cx="1581" cy="784" r="13.2"/>
<circle cx="1590" cy="781" r="13.2"/>
<circle cx="1605" cy="787" r="13.2"/>
<circle cx="1611" cy="782" r="13.2"/>
<circle cx="1620" cy="782" r="13.2"/>
<circle cx="1631" cy="783" r="13.2"/>
<circle cx="1644" cy="780" r="13.2"/>
<circle cx="1646" cy="786" r="13.2"/>
<circle cx="1657" cy="781" r="13.2"/>
<circle cx="1666" cy="783" r="13.2"/>
<circle cx="1679" cy="782" r="13.2"/>
<circle cx="1686" cy="786" r="13.2"/>
<circle cx="1693" cy="781" r="13.2"/>
<circle cx="1703" cy="781" r="13.2"/>
<circle cx="1709" cy="788" r="13.2"/>
<circle cx="1718" cy="789" r="13.2"/>
<circle cx="1727" cy="780" r="13.2"/>
<circle cx="1735" cy="788" r="13.2"/>
<circle cx="1751" cy="783" r="13.2"/>
<circle cx="1755" cy="783" r="13.2"/>
<circle cx="1516" cy="792" r="13.2"/>
<circle cx="1524" cy="796" r="13.2"/>
<circle cx="1537" cy="796" r="13.2"/>
<circle cx="1547" cy="791" r="13.2"/>
<circle cx="1556" cy="790" r="13.2"/>
<circle cx="1563" cy="794" r="13.2"/>
<circle cx="1575" cy="790" r="13.2"/>
<circle cx="1584" cy="793" r="13.2"/>
<circle cx="1591" cy="789" r="13.2"/>
<circle cx="1600" cy="789" r="13.2"/>
<circle cx="1610" cy="795" r="13.2"/>
<circle cx="1616" cy="792" r="13.2"/>
<circle cx="1627" cy="793" r="13.2"/>
<circle cx="1640" cy="796" r="13.2"/>
<circle cx="1646" cy="791" r="13.2"/>
<circle cx="1649" cy="794" r="13.2"/>
<circle cx="1660" cy="794" r="13.2"/>
<circle cx="1673" cy="796" r="13.2"/>
<circle cx="1676" cy="792" r="13.2"/>
<circle cx="1688" cy="791" r="13.2"/>
<circle cx="1696" cy="795" r="13.2"/>
<circle cx="1707" cy="793" r="13.2"/>
<circle cx="1713" cy="793" r="13.2"/>
<circle cx="1727" cy="789" r="13.2"/>
<circle cx="1733" cy="790" r="13.2"/>
<circle cx="1744" cy="789" r="13.2"/>
<circle cx="1757" cy="791" r="13.2"/>
<circle cx="1521" cy="799" r="13.2"/>
<circle cx="1528" cy="800" r="13.2"/>
<circle cx="1537" cy="802" r="13.2"/>
<circle cx="1548" cy="799" r="13.2"/>
<circle cx="1556" cy="798" r="13.2"/>
<circle cx="1565" cy="804" r="13.2"/>
<circle cx="1576" cy="801" r="13.2"/>
<circle cx="1584" cy="804" r="13.2"/>
<circle cx="1596" cy="797" r="13.2"/>
<circle cx="1605" cy="796" r="13.2"/>
<circle cx="1617" cy="802" r="13.2"/>
<circle cx="1619" cy="800" r="13.2"/>
<circle cx="1635" cy="803" r="13.2"/>
<circle cx="1642" cy="801" r="13.2"/>
<circle cx="1646" cy="802" r="13.2"/>
<circle cx="1659" cy="797" r="13.2"/>
<circle cx="1663" cy="800" r="13.2"/>
<circle cx="1680" cy="799" r="13.2"/>
<circle cx="1686" cy="797" r="13.2"/>
<circle cx="1697" cy="804" r="13.2"/>
<circle cx="1701" cy="802" r="13.2"/>
<circle cx="1714" cy="800" r="13.2"/>
<circle cx="1724" cy="796" r="13.2"/>
<circle cx="1728" cy="797" r="13.2"/>
<circle cx="1742" cy="802" r="13.2"/>
<circle cx="1745" cy="802" r="13.2"/>
<circle cx="1757" cy="801" r="13.2"/>
<circle cx="1534" cy="809" r="13.2"/>
<circle cx="1545" cy="806" r="13.2"/>
<circle cx="1556" cy="809" r="13.2"/>
<circle cx="1567" cy="807" r="13.2"/>
<circle cx="1575" cy="809" r="13.2"/>
<circle cx="1582" cy="804" r="13.2"/>
<circle cx="1589" cy="807" r="13.2"/>
<circle cx="1595" cy="804" r="13.2"/>
<circle cx="1611" cy="805" r="13.2"/>
<circle cx="1618" cy="806" r="13.2"/>
<circle cx="1627" cy="807" r="13.2"/>
<circle cx="1633" cy="808" r="13.2"/>
<circle cx="1642" cy="812" r="13.2"/>
<circle cx="1653" cy="805" r="13.2"/>
<circle cx="1665" cy="805" r="13.2"/>
<circle cx="1674" cy="811" r="13.2"/>
<circle cx="1684" cy="808" r="13.2"/>
<circle cx="1692" cy="811" r="13.2"/>
<circle cx="1701" cy="809" r="13.2"/>
<circle cx="1711" cy="810" r="13.2"/>
<circle cx="1715" cy="807" r="13.2"/>
<circle cx="1728" cy="812" r="13.2"/>
<circle cx="1733" cy="812" r="13.2"/>
<circle cx="1746" cy="810" r="13.2"/>
<circle cx="1751" cy="806" r="13.2"/>
<circle cx="1536" cy="811" r="13.2"/>
<circle cx="1541" cy="818" r="13.2"/>
<circle cx="1553" cy="820" r="13.2"/>
<circle cx="1562" cy="819" r="13.2"/>
<circle cx="1565" cy="820" r="13.2"/>
<circle cx="1581" cy="817" r="13.2"/>
<circle cx="1589" cy="814" r="13.2"/>
<circle cx="1594" cy="812" r="13.2"/>
<circle cx="1604" cy="820" r="13.2"/>
<circle cx="1615" cy="815" r="13.2"/>
<circle cx="1620" cy="813" r="13.2"/>
<circle cx="1630" cy="814" r="13.2"/>
<circle cx="1640" cy="816" r="13.2"/>
<circle cx="1648" cy="817" r="13.2"/>
<circle cx="1657" cy="816" r="13.2"/>
<circle cx="1667" cy="819" r="13.2"/>
<circle cx="1679" cy="817" r="13.2"/>
<circle cx="1687" cy="814" r="13.2"/>
<circle cx="1691" cy="814" r="13.2"/>
<circle cx="1700" cy="818" r="13.2"/>
<circle cx="1716" cy="817" r="13.2"/>
<circle cx="1718" cy="813" r="13.2"/>
<circle cx="1732" cy="816" r="13.2"/>
<circle cx="1736" cy="820" r="13.2"/>
<circle cx="1750" cy="820" r="13.2"/>
<circle cx="1539" cy="820" r="13.2"/>
<circle cx="1547" cy="819" r="13.2"/>
<circle cx="1553" cy="820" r="13.2"/>
<circle cx="1563" cy="820" r="13.2"/>
<circle cx="1574" cy="823" r="13.2"/>
<circle cx="1584" cy="822" r="13.2"/>
<circle cx="1595" cy="820" r="13.2"/>
<circle cx="1596" cy="824" r="13.2"/>
<circle cx="1608" cy="827" r="13.2"/>
<circle cx="1613" cy="821" r="13.2"/>
<circle cx="1624" cy="823" r="13.2"/>
<circle cx="1638" cy="825" r="13.2"/>
<circle cx="1642" cy="823" r="13.2"/>
<circle cx="1656" cy="824" r="13.2"/>
<circle cx="1659" cy="822" r="13.2"/>
<circle cx="1667" cy="823" r="13.2"/>
<circle cx="1678" cy="822" r="13.2"/>
<circle cx="1688" cy="827" r="13.2"/>
<circle cx="1695" cy="820" r="13.2"/>
<circle cx="1704" cy="823" r="13.2"/>
<circle cx="1716" cy="828" r="13.2"/>
<circle cx="1727" cy="822" r="13.2"/>
<circle cx="1731" cy="824" r="13.2"/>
<circle cx="1746" cy="821" r="13.2"/>
<circle cx="1755" cy="822" r="13.2"/>
<circle cx="1554" cy="828" r="13.2"/>
<circle cx="1556" cy="831" r="13.2"/>
<circle cx="1572" cy="830" r="13.2"/>
<circle cx="1574" cy="832" r="13.2"/>
<circle cx="1584" cy="828" r="13.2"/>
<circle cx="1598" cy="831" r="13.2"/>
<circle cx="1607" cy="828" r="13.2"/>
<circle cx="1611" cy="828" r="13.2"/>
<circle cx="1625" cy="831" r="13.2"/>
<circle cx="1632" cy="827" r="13.2"/>
<circle cx="1639" cy="830" r="13.2"/>
<circle cx="1651" cy="829" r="13.2"/>
<circle cx="1662" cy="830" r="13.2"/>
<circle cx="1667" cy="831" r="13.2"/>
<circle cx="1674" cy="827" r="13.2"/>
<circle cx="1681" cy="835" r="13.2"/>
<circle cx="1698" cy="832" r="13.2"/>
<circle cx="1700" cy="829" r="13.2"/>
<circle cx="1710" cy="827" r="13.2"/>
<circle cx="1719" cy="829" r="13.2"/>
<circle cx="1728" cy="834" r="13.2"/>
<circle cx="1739" cy="836" r="13.2"/>
<circle cx="1746" cy="828" r="13.2"/>
<circle cx="1557" cy="839" r="13.2"/>
<circle cx="1562" cy="839" r="13.2"/>
<circle cx="1576" cy="841" r="13.2"/>
<circle cx="1580" cy="843" r="13.2"/>
<circle cx="1588" cy="836" r="13.2"/>
<circle cx="1601" cy="842" r="13.2"/>
<circle cx="1611" cy="838" r="13.2"/>
<circle cx="1619" cy="837" r="13.2"/>
<circle cx="1624" cy="843" r="13.2"/>
<circle cx="1638" cy="843" r="13.2"/>
<circle cx="1645" cy="841" r="13.2"/>
<circle cx="1652" cy="838" r="13.2"/>
<circle cx="1666" cy="841" r="13.2"/>
<circle cx="1675" cy="836" r="13.2"/>
<circle cx="1680" cy="843" r="13.2"/>
<circle cx="1693" cy="842" r="13.2"/>
<circle cx="1702" cy="837" r="13.2"/>
<circle cx="1709" cy="836" r="13.2"/>
<circle cx="1716" cy="835" r="13.2"/>
<circle cx="1725" cy="836" r="13.2"/>
<circle cx="1734" cy="841" r="13.2"/>
<circle cx="1745" cy="843" r="13.2"/>
<circle cx="1551" cy="848" r="13.2"/>
<circle cx="1562" cy="851" r="13.2"/>
<circle cx="1571" cy="849" r="13.2"/>
<circle cx="1579" cy="850" r="13.2"/>
<circle cx="1589" cy="847" r="13.2"/>
<circle cx="1599" cy="851" r="13.2"/>
<circle cx="1601" cy="844" r="13.2"/>
<circle cx="1614" cy="847" r="13.2"/>
<circle cx="1621" cy="847" r="13.2"/>
<circle cx="1628" cy="846" r="13.2"/>
<circle cx="1641" cy="849" r="13.2"/>
<circle cx="1651" cy="843" r="13.2"/>
<circle cx="1655" cy="847" r="13.2"/>
<circle cx="1669" cy="845" r="13.2"/>
<circle cx="1678" cy="845" r="13.2"/>
<circle cx="1683" cy="850" r="13.2"/>
<circle cx="1691" cy="850" r="13.2"/>
<circle cx="1703" cy="843" r="13.2"/>
<circle cx="1712" cy="847" r="13.2"/>
<circle cx="1717" cy="846" r="13.2"/>
<circle cx="1730" cy="847" r="13.2"/>
<circle cx="1743" cy="846" r="13.2"/>
<circle cx="1550" cy="854" r="13.2"/>
<circle cx="1561" cy="855" r="13.2"/>
<circle cx="1574" cy="856" r="13.2"/>
<circle cx="1577" cy="853" r="13.2"/>
<circle cx="1588" cy="854" r="13.2"/>
<circle cx="1597" cy="852" r="13.2"/>
<circle cx="1606" cy="855" r="13.2"/>
<circle cx="1621" cy="852" r="13.2"/>
<circle cx="1630" cy="856" r="13.2"/>
<circle cx="1639" cy="858" r="13.2"/>
<circle cx="1647" cy="859" r="13.2"/>
<circle cx="1651" cy="856" r="13.2"/>
<circle cx="1661" cy="852" r="13.2"/>
<circle cx="1669" cy="856" r="13.2"/>
<circle cx="1677" cy="851" r="13.2"/>
<circle cx="1692" cy="858" r="13.2"/>
<circle cx="1694" cy="852" r="13.2"/>
<circle cx="1703" cy="855" r="13.2"/>
<circle cx="1721" cy="852" r="13.2"/>
<circle cx="1726" cy="854" r="13.2"/>
<circle cx="1544" cy="867" r="13.2"/>
<circle cx="1549" cy="859" r="13.2"/>
<circle cx="1557" cy="859" r="13.2"/>
<circle cx="1571" cy="864" r="13.2"/>
<circle cx="1575" cy="864" r="13.2"/>
<circle cx="1589" cy="867" r="13.2"/>
<circle cx="1592" cy="862" r="13.2"/>
<circle cx="1605" cy="862" r="13.2"/>
<circle cx="1613" cy="862" r="13.2"/>
<circle cx="1621" cy="863" r="13.2"/>
<circle cx="1630" cy="861" r="13.2"/>
<circle cx="1639" cy="865" r="13.2"/>
<circle cx="1646" cy="862" r="13.2"/>
<circle cx="1655" cy="866" r="13.2"/>
<circle cx="1662" cy="861" r="13.2"/>
<circle cx="1680" cy="864" r="13.2"/>
<circle cx="1682" cy="865" r="13.2"/>
<circle cx="1694" cy="859" r="13.2"/>
<circle cx="1699" cy="858" r="13.2"/>
<circle cx="1710" cy="862" r="13.2"/>
<circle cx="1725" cy="866" r="13.2"/>
<circle cx="1552" cy="867" r="13.2"/>
<circle cx="1564" cy="870" r="13.2"/>
<circle cx="1576" cy="866" r="13.2"/>
<circle cx="1585" cy="872" r="13.2"/>
<circle cx="1589" cy="867" r="13.2"/>
<circle cx="1601" cy="866" r="13.2"/>
<circle cx="1606" cy="867" r="13.2"/>
<circle cx="1616" cy="875" r="13.2"/>
<circle cx="1629" cy="871" r="13.2"/>
<circle cx="1637" cy="872" r="13.2"/>
<circle cx="1647" cy="873" r="13.2"/>
<circle cx="1658" cy="874" r="13.2"/>
<circle cx="1661" cy="874" r="13.2"/>
<circle cx="1669" cy="867" r="13.2"/>
<circle cx="1682" cy="866" r="13.2"/>
<circle cx="1693" cy="875" r="13.2"/>
<circle cx="1701" cy="868" r="13.2"/>
<circle cx="1708" cy="866" r="13.2"/>
<circle cx="1716" cy="873" r="13.2"/>
<circle cx="1723" cy="867" r="13.2"/>
<circle cx="1555" cy="874" r="13.2"/>
<circle cx="1565" cy="874" r="13.2"/>
<circle cx="1574" cy="875" r="13.2"/>
<circle cx="1585" cy="879" r="13.2"/>
<circle cx="1599" cy="880" r="13.2"/>
<circle cx="1607" cy="879" r="13.2"/>
<circle cx="1615" cy="879" r="13.2"/>
<circle cx="1617" cy="877" r="13.2"/>
<circle cx="1628" cy="880" r="13.2"/>
<circle cx="1639" cy="878" r="13.2"/>
<circle cx="1646" cy="882" r="13.2"/>
<circle cx="1656" cy="875" r="13.2"/>
<circle cx="1666" cy="877" r="13.2"/>
<circle cx="1673" cy="880" r="13.2"/>
<circle cx="1684" cy="874" r="13.2"/>
<circle cx="1698" cy="875" r="13.2"/>
<circle cx="1706" cy="883" r="13.2"/>
<circle cx="1712" cy="881" r="13.2"/>
<circle cx="1716" cy="875" r="13.2"/>
<circle cx="1732" cy="880" r="13.2"/>
<circle cx="1561" cy="883" r="13.2"/>
<circle cx="1569" cy="888" r="13.2"/>
<circle cx="1583" cy="884" r="13.2"/>
<circle cx="1590" cy="885" r="13.2"/>
<circle cx="1599" cy="882" r="13.2"/>
<circle cx="1606" cy="890" r="13.2"/>
<circle cx="1616" cy="888" r="13.2"/>
<circle cx="1627" cy="886" r="13.2"/>
<circle cx="1636" cy="888" r="13.2"/>
<circle cx="1645" cy="889" r="13.2"/>
<circle cx="1652" cy="884" r="13.2"/>
<circle cx="1662" cy="889" r="13.2"/>
<circle cx="1671" cy="882" r="13.2"/>
<circle cx="1680" cy="890" r="13.2"/>
<circle cx="1686" cy="887" r="13.2"/>
<circle cx="1696" cy="886" r="13.2"/>
<circle cx="1710" cy="884" r="13.2"/>
<circle cx="1713" cy="886" r="13.2"/>
<circle cx="1730" cy="882" r="13.2"/>
<circle cx="1733" cy="883" r="13.2"/>
<circle cx="1743" cy="889" r="13.2"/>
<circle cx="1581" cy="891" r="13.2"/>
<circle cx="1624" cy="895" r="13.2"/>
<circle cx="1627" cy="893" r="13.2"/>
<circle cx="1640" cy="891" r="13.2"/>
<circle cx="1646" cy="892" r="13.2"/>
<circle cx="1657" cy="898" r="13.2"/>
<circle cx="1665" cy="897" r="13.2"/>
<circle cx="1672" cy="893" r="13.2"/>
<circle cx="1682" cy="890" r="13.2"/>
<circle cx="1692" cy="896" r="13.2"/>
<circle cx="1704" cy="892" r="13.2"/>
<circle cx="1714" cy="896" r="13.2"/>
<circle cx="1724" cy="895" r="13.2"/>
<circle cx="1726" cy="896" r="13.2"/>
<circle cx="1743" cy="897" r="13.2"/>
<circle cx="1749" cy="890" r="13.2"/>
<circle cx="1628" cy="904" r="13.2"/>
<circle cx="1639" cy="900" r="13.2"/>
<circle cx="1643" cy="904" r="13.2"/>
<circle cx="1656" cy="904" r="13.2"/>
<circle cx="1660" cy="905" r="13.2"/>
<circle cx="1674" cy="902" r="13.2"/>
<circle cx="1679" cy="904" r="13.2"/>
<circle cx="1685" cy="904" r="13.2"/>
<circle cx="1698" cy="904" r="13.2"/>
<circle cx="1708" cy="900" r="13.2"/>
<circle cx="1715" cy="902" r="13.2"/>
<circle cx="1722" cy="899" r="13.2"/>
<circle cx="1736" cy="899" r="13.2"/>
<circle cx="1634" cy="906" r="13.2"/>
<circle cx="1636" cy="913" r="13.2"/>
<circle cx="1647" cy="910" r="13.2"/>
<circle cx="1662" cy="907" r="13.2"/>
<circle cx="1667" cy="905" r="13.2"/>
<circle cx="1679" cy="913" r="13.2"/>
<circle cx="1684" cy="912" r="13.2"/>
<circle cx="1691" cy="912" r="13.2"/>
<circle cx="1706" cy="911" r="13.2"/>
<circle cx="1708" cy="908" r="13.2"/>
<circle cx="1722" cy="912" r="13.2"/>
<circle cx="1730" cy="911" r="13.2"/>
<circle cx="1738" cy="910" r="13.2"/>
<circle cx="1638" cy="919" r="13.2"/>
<circle cx="1642" cy="922" r="13.2"/>
<circle cx="1657" cy="916" r="13.2"/>
<circle cx="1660" cy="920" r="13.2"/>
<circle cx="1670" cy="920" r="13.2"/>
<circle cx="1678" cy="920" r="13.2"/>
<circle cx="1688" cy="918" r="13.2"/>
<circle cx="1697" cy="918" r="13.2"/>
<circle cx="1703" cy="916" r="13.2"/>
<circle cx="1715" cy="918" r="13.2"/>
<circle cx="1728" cy="917" r="13.2"/>
<circle cx="1738" cy="914" r="13.2"/>
<circle cx="1644" cy="921" r="13.2"/>
<circle cx="1647" cy="925" r="13.2"/>
<circle cx="1657" cy="923" r="13.2"/>
<circle cx="1664" cy="923" r="13.2"/>
<circle cx="1672" cy="923" r="13.2"/>
<circle cx="1681" cy="928" r="13.2"/>
<circle cx="1695" cy="925" r="13.2"/>
<circle cx="1701" cy="927" r="13.2"/>
<circle cx="1710" cy="928" r="13.2"/>
<circle cx="1724" cy="923" r="13.2"/>
<circle cx="1730" cy="924" r="13.2"/>
<circle cx="1644" cy="932" r="13.2"/>
<circle cx="1650" cy="934" r="13.2"/>
<circle cx="1666" cy="933" r="13.2"/>
<circle cx="1670" cy="933" r="13.2"/>
<circle cx="1678" cy="929" r="13.2"/>
<circle cx="1688" cy="932" r="13.2"/>
<circle cx="1701" cy="932" r="13.2"/>
<circle cx="1711" cy="929" r="13.2"/>
<circle cx="1715" cy="930" r="13.2"/>
<circle cx="1728" cy="930" r="13.2"/>
<circle cx="1636" cy="943" r="13.2"/>
<circle cx="1653" cy="938" r="13.2"/>
<circle cx="1656" cy="936" r="13.2"/>
<circle cx="1670" cy="938" r="13.2"/>
<circle cx="1673" cy="944" r="13.2"/>
<circle cx="1686" cy="940" r="13.2"/>
<circle cx="1692" cy="945" r="13.2"/>
<circle cx="1701" cy="943" r="13.2"/>
<circle cx="1713" cy="940" r="13.2"/>
<circle cx="1725" cy="940" r="13.2"/>
<circle cx="1728" cy="938" r="13.2"/>
<circle cx="1646" cy="947" r="13.2"/>
<circle cx="1655" cy="949" r="13.2"/>
<circle cx="1662" cy="948" r="13.2"/>
<circle cx="1674" cy="947" r="13.2"/>
<circle cx="1683" cy="949" r="13.2"/>
<circle cx="1693" cy="945" r="13.2"/>
<circle cx="1696" cy="944" r="13.2"/>
<circle cx="1703" cy="949" r="13.2"/>
<circle cx="1716" cy="945" r="13.2"/>
<circle cx="1722" cy="946" r="13.2"/>
<circle cx="1639" cy="954" r="13.2"/>
<circle cx="1650" cy="954" r="13.2"/>
<circle cx="1658" cy="958" r="13.2"/>
<circle cx="1666" cy="960" r="13.2"/>
<circle cx="1679" cy="953" r="13.2"/>
<circle cx="1682" cy="952" r="13.2"/>
<circle cx="1693" cy="952" r="13.2"/>
<circle cx="1701" cy="953" r="13.2"/>
<circle cx="1712" cy="954" r="13.2"/>
<circle cx="1630" cy="964" r="13.2"/>
<circle cx="1633" cy="965" r="13.2"/>
<circle cx="1648" cy="967" r="13.2"/>
<circle cx="1651" cy="961" r="13.2"/>
<circle cx="1658" cy="968" r="13.2"/>
<circle cx="1669" cy="963" r="13.2"/>
<circle cx="1683" cy="962" r="13.2"/>
<circle cx="1691" cy="960" r="13.2"/>
<circle cx="1697" cy="960" r="13.2"/>
<circle cx="1640" cy="973" r="13.2"/>
<circle cx="1651" cy="974" r="13.2"/>
<circle cx="1655" cy="976" r="13.2"/>
<circle cx="1662" cy="969" r="13.2"/>
<circle cx="1677" cy="973" r="13.2"/>
<circle cx="1684" cy="973" r="13.2"/>
<circle cx="1693" cy="970" r="13.2"/>
<circle cx="1638" cy="979" r="13.2"/>
<circle cx="1643" cy="979" r="13.2"/>
<circle cx="1649" cy="981" r="13.2"/>
<circle cx="1665" cy="984" r="13.2"/>
<circle cx="1670" cy="981" r="13.2"/>
<circle cx="1684" cy="983" r="13.2"/>
<circle cx="1689" cy="984" r="13.2"/>
<circle cx="1650" cy="986" r="13.2"/>
<circle cx="1656" cy="989" r="13.2"/>
<circle cx="1666" cy="990" r="13.2"/>
<circle cx="1680" cy="984" r="13.2"/>
<circle cx="1686" cy="985" r="13.2"/>
<circle cx="1640" cy="993" r="13.2"/>
<circle cx="1650" cy="996" r="13.2"/>
<circle cx="1662" cy="999" r="13.2"/>
<circle cx="1674" cy="993" r="13.2"/>
<circle cx="1678" cy="995" r="13.2"/>
<circle cx="1672" cy="1001" r="13.2"/>
<circle cx="1393" cy="725" r="13.2"/>
<circle cx="1431" cy="760" r="13.2"/>
<circle cx="1453" cy="767" r="13.2"/>
<circle cx="1694" cy="617" r="13.2"/>
<circle cx="1693" cy="615" r="13.2"/>
<circle cx="1689" cy="621" r="13.2"/>
<circle cx="1693" cy="621" r="13.2"/>
<circle cx="1731" cy="665" r="13.2"/>
<circle cx="1733" cy="660" r="13.2"/>
<circle cx="1727" cy="663" r="13.2"/>
<circle cx="1727" cy="660" r="13.2"/>
<circle cx="1734" cy="665" r="13.2"/>
<circle cx="1727" cy="665" r="13.2"/>
<circle cx="1733" cy="669" r="13.2"/>
<circle cx="1661" cy="667" r="13.2"/>
<circle cx="1660" cy="663" r="13.2"/>
<circle cx="1655" cy="668" r="13.2"/>
<circle cx="1661" cy="673" r="13.2"/>
<circle cx="1658" cy="661" r="13.2"/>
<circle cx="1661" cy="669" r="13.2"/>
<circle cx="1658" cy="664" r="13.2"/>
<circle cx="1668" cy="592" r="13.2"/>
<circle cx="1608" cy="630" r="13.2"/>
<circle cx="1768" cy="553" r="13.2"/>
<circle cx="1764" cy="557" r="13.2"/>
<circle cx="1769" cy="551" r="13.2"/>
<circle cx="1766" cy="550" r="13.2"/>
<circle cx="1762" cy="557" r="13.2"/>
<circle cx="1771" cy="551" r="13.2"/>
<circle cx="1766" cy="559" r="13.2"/>
<circle cx="1791" cy="573" r="13.2"/>
<circle cx="1788" cy="576" r="13.2"/>
<circle cx="1796" cy="571" r="13.2"/>
<circle cx="1794" cy="571" r="13.2"/>
<circle cx="1797" cy="569" r="13.2"/>
<circle cx="1787" cy="576" r="13.2"/>
<circle cx="1789" cy="573" r="13.2"/>
<circle cx="1761" cy="570" r="13.2"/>
<circle cx="1765" cy="567" r="13.2"/>
<circle cx="1758" cy="571" r="13.2"/>
<circle cx="1758" cy="570" r="13.2"/>
<circle cx="1804" cy="733" r="13.2"/>
<circle cx="1801" cy="735" r="13.2"/>
<circle cx="1806" cy="728" r="13.2"/>
<circle cx="1808" cy="739" r="13.2"/>
<circle cx="1802" cy="737" r="13.2"/>
<circle cx="1802" cy="738" r="13.2"/>
<circle cx="1810" cy="736" r="13.2"/>
<circle cx="1821" cy="713" r="13.2"/>
<circle cx="1820" cy="712" r="13.2"/>
<circle cx="1818" cy="717" r="13.2"/>
<circle cx="1825" cy="715" r="13.2"/>
<circle cx="1441" cy="847" r="13.2"/>
<circle cx="1446" cy="845" r="13.2"/>
<circle cx="1436" cy="846" r="13.2"/>
<circle cx="1447" cy="848" r="13.2"/>
<circle cx="1445" cy="848" r="13.2"/>
<circle cx="1440" cy="847" r="13.2"/>
<circle cx="1438" cy="845" r="13.2"/>
<circle cx="1451" cy="837" r="13.2"/>
<circle cx="1456" cy="841" r="13.2"/>
<circle cx="1452" cy="839" r="13.2"/>
<circle cx="1449" cy="838" r="13.2"/>
<circle cx="1448" cy="907" r="13.2"/>
<circle cx="1452" cy="902" r="13.2"/>
<circle cx="1452" cy="903" r="13.2"/>
<circle cx="1443" cy="902" r="13.2"/>
<circle cx="1491" cy="890" r="13.2"/>
<circle cx="1490" cy="893" r="13.2"/>
<circle cx="1488" cy="895" r="13.2"/>
<circle cx="1494" cy="886" r="13.2"/>
<circle cx="1494" cy="887" r="13.2"/>
<circle cx="1494" cy="885" r="13.2"/>
<circle cx="1495" cy="888" r="13.2"/>
<circle cx="1504" cy="860" r="13.2"/>
<circle cx="1531" cy="867" r="13.2"/>
<circle cx="1533" cy="862" r="13.2"/>
<circle cx="1531" cy="866" r="13.2"/>
<circle cx="1527" cy="866" r="13.2"/>
<circle cx="1558" cy="890" r="13.2"/>
<circle cx="1384" cy="950" r="13.2"/>
<circle cx="1390" cy="944" r="13.2"/>
<circle cx="1390" cy="948" r="13.2"/>
<circle cx="1388" cy="954" r="13.2"/>
<circle cx="1385" cy="951" r="13.2"/>
<circle cx="1390" cy="949" r="13.2"/>
<circle cx="1388" cy="950" r="13.2"/>
<circle cx="1383" cy="963" r="13.2"/>
<circle cx="1468" cy="970" r="13.2"/>
<circle cx="1448" cy="970" r="13.2"/>
<circle cx="1401" cy="980" r="13.2"/>
<circle cx="1381" cy="980" r="13.2"/>
<circle cx="1548" cy="947" r="13.2"/>
<circle cx="1546" cy="953" r="13.2"/>
<circle cx="1543" cy="952" r="13.2"/>
<circle cx="1551" cy="943" r="13.2"/>
<circle cx="1552" cy="941" r="13.2"/>
<circle cx="1550" cy="952" r="13.2"/>
<circle cx="1551" cy="952" r="13.2"/>
<circle cx="1558" cy="937" r="13.2"/>
<circle cx="1560" cy="939" r="13.2"/>
<circle cx="1562" cy="941" r="13.2"/>
<circle cx="1556" cy="933" r="13.2"/>
<circle cx="1578" cy="973" r="13.2"/>
<circle cx="1534" cy="967" r="13.2"/>
<circle cx="1533" cy="963" r="13.2"/>
<circle cx="1538" cy="966" r="13.2"/>
<circle cx="1539" cy="963" r="13.2"/>
<circle cx="1706" cy="703" r="13.2"/>
<circle cx="1744" cy="880" r="13.2"/>
<circle cx="1691" cy="675" r="13.2"/>
<circle cx="1149" cy="721" r="13.2"/>
<circle cx="1157" cy="721" r="13.2"/>
<circle cx="1164" cy="721" r="13.2"/>
<circle cx="1125" cy="723" r="13.2"/>
<circle cx="1137" cy="723" r="13.2"/>
<circle cx="1147" cy="728" r="13.2"/>
<circle cx="1155" cy="727" r="13.2"/>
<circle cx="1162" cy="728" r="13.2"/>
<circle cx="1178" cy="724" r="13.2"/>
<circle cx="1113" cy="731" r="13.2"/>
<circle cx="1124" cy="735" r="13.2"/>
<circle cx="1135" cy="736" r="13.2"/>
<circle cx="1142" cy="729" r="13.2"/>
<circle cx="1151" cy="736" r="13.2"/>
<circle cx="1158" cy="737" r="13.2"/>
<circle cx="1165" cy="733" r="13.2"/>
<circle cx="1175" cy="733" r="13.2"/>
<circle cx="1184" cy="733" r="13.2"/>
<circle cx="1091" cy="743" r="13.2"/>
<circle cx="1100" cy="742" r="13.2"/>
<circle cx="1112" cy="737" r="13.2"/>
<circle cx="1120" cy="743" r="13.2"/>
<circle cx="1132" cy="738" r="13.2"/>
<circle cx="1136" cy="740" r="13.2"/>
<circle cx="1143" cy="736" r="13.2"/>
<circle cx="1156" cy="742" r="13.2"/>
<circle cx="1163" cy="737" r="13.2"/>
<circle cx="1172" cy="737" r="13.2"/>
<circle cx="1183" cy="736" r="13.2"/>
<circle cx="1090" cy="745" r="13.2"/>
<circle cx="1099" cy="751" r="13.2"/>
<circle cx="1103" cy="745" r="13.2"/>
<circle cx="1115" cy="744" r="13.2"/>
<circle cx="1124" cy="748" r="13.2"/>
<circle cx="1135" cy="745" r="13.2"/>
<circle cx="1144" cy="744" r="13.2"/>
<circle cx="1151" cy="747" r="13.2"/>
<circle cx="1158" cy="748" r="13.2"/>
<circle cx="1167" cy="750" r="13.2"/>
<circle cx="1179" cy="743" r="13.2"/>
<circle cx="1086" cy="756" r="13.2"/>
<circle cx="1092" cy="758" r="13.2"/>
<circle cx="1105" cy="755" r="13.2"/>
<circle cx="1112" cy="753" r="13.2"/>
<circle cx="1123" cy="752" r="13.2"/>
<circle cx="1129" cy="755" r="13.2"/>
<circle cx="1133" cy="752" r="13.2"/>
<circle cx="1145" cy="753" r="13.2"/>
<circle cx="1155" cy="760" r="13.2"/>
<circle cx="1166" cy="759" r="13.2"/>
<circle cx="1173" cy="753" r="13.2"/>
<circle cx="1178" cy="756" r="13.2"/>
<circle cx="1080" cy="764" r="13.2"/>
<circle cx="1083" cy="768" r="13.2"/>
<circle cx="1095" cy="761" r="13.2"/>
<circle cx="1107" cy="763" r="13.2"/>
<circle cx="1112" cy="760" r="13.2"/>
<circle cx="1127" cy="766" r="13.2"/>
<circle cx="1137" cy="765" r="13.2"/>
<circle cx="1141" cy="767" r="13.2"/>
<circle cx="1147" cy="763" r="13.2"/>
<circle cx="1163" cy="764" r="13.2"/>
<circle cx="1171" cy="766" r="13.2"/>
<circle cx="1176" cy="768" r="13.2"/>
<circle cx="1182" cy="766" r="13.2"/>
<circle cx="1078" cy="776" r="13.2"/>
<circle cx="1083" cy="775" r="13.2"/>
<circle cx="1091" cy="775" r="13.2"/>
<circle cx="1101" cy="770" r="13.2"/>
<circle cx="1108" cy="775" r="13.2"/>
<circle cx="1122" cy="775" r="13.2"/>
<circle cx="1132" cy="769" r="13.2"/>
<circle cx="1133" cy="773" r="13.2"/>
<circle cx="1147" cy="770" r="13.2"/>
<circle cx="1153" cy="773" r="13.2"/>
<circle cx="1166" cy="768" r="13.2"/>
<circle cx="1171" cy="770" r="13.2"/>
<circle cx="1180" cy="774" r="13.2"/>
<circle cx="1058" cy="781" r="13.2"/>
<circle cx="1069" cy="781" r="13.2"/>
<circle cx="1074" cy="778" r="13.2"/>
<circle cx="1086" cy="778" r="13.2"/>
<circle cx="1097" cy="782" r="13.2"/>
<circle cx="1106" cy="776" r="13.2"/>
<circle cx="1114" cy="780" r="13.2"/>
<circle cx="1119" cy="780" r="13.2"/>
<circle cx="1133" cy="780" r="13.2"/>
<circle cx="1143" cy="781" r="13.2"/>
<circle cx="1147" cy="777" r="13.2"/>
<circle cx="1157" cy="780" r="13.2"/>
<circle cx="1172" cy="778" r="13.2"/>
<circle cx="1180" cy="775" r="13.2"/>
<circle cx="1056" cy="784" r="13.2"/>
<circle cx="1061" cy="783" r="13.2"/>
<circle cx="1077" cy="791" r="13.2"/>
<circle cx="1086" cy="790" r="13.2"/>
<circle cx="1092" cy="783" r="13.2"/>
<circle cx="1105" cy="787" r="13.2"/>
<circle cx="1111" cy="789" r="13.2"/>
<circle cx="1117" cy="791" r="13.2"/>
<circle cx="1129" cy="788" r="13.2"/>
<circle cx="1136" cy="787" r="13.2"/>
<circle cx="1150" cy="784" r="13.2"/>
<circle cx="1152" cy="789" r="13.2"/>
<circle cx="1166" cy="787" r="13.2"/>
<circle cx="1175" cy="787" r="13.2"/>
<circle cx="1179" cy="785" r="13.2"/>
<circle cx="1055" cy="792" r="13.2"/>
<circle cx="1062" cy="797" r="13.2"/>
<circle cx="1065" cy="792" r="13.2"/>
<circle cx="1078" cy="792" r="13.2"/>
<circle cx="1084" cy="796" r="13.2"/>
<circle cx="1093" cy="796" r="13.2"/>
<circle cx="1110" cy="790" r="13.2"/>
<circle cx="1112" cy="791" r="13.2"/>
<circle cx="1123" cy="797" r="13.2"/>
<circle cx="1135" cy="793" r="13.2"/>
<circle cx="1140" cy="795" r="13.2"/>
<circle cx="1151" cy="791" r="13.2"/>
<circle cx="1163" cy="797" r="13.2"/>
<circle cx="1171" cy="791" r="13.2"/>
<circle cx="1178" cy="791" r="13.2"/>
<circle cx="1050" cy="807" r="13.2"/>
<circle cx="1054" cy="805" r="13.2"/>
<circle cx="1067" cy="799" r="13.2"/>
<circle cx="1078" cy="806" r="13.2"/>
<circle cx="1079" cy="800" r="13.2"/>
<circle cx="1094" cy="801" r="13.2"/>
<circle cx="1098" cy="798" r="13.2"/>
<circle cx="1114" cy="806" r="13.2"/>
<circle cx="1119" cy="805" r="13.2"/>
<circle cx="1130" cy="807" r="13.2"/>
<circle cx="1135" cy="802" r="13.2"/>
<circle cx="1147" cy="806" r="13.2"/>
<circle cx="1159" cy="805" r="13.2"/>
<circle cx="1164" cy="801" r="13.2"/>
<circle cx="1037" cy="806" r="13.2"/>
<circle cx="1045" cy="808" r="13.2"/>
<circle cx="1055" cy="806" r="13.2"/>
<circle cx="1059" cy="806" r="13.2"/>
<circle cx="1071" cy="806" r="13.2"/>
<circle cx="1075" cy="811" r="13.2"/>
<circle cx="1084" cy="806" r="13.2"/>
<circle cx="1100" cy="813" r="13.2"/>
<circle cx="1105" cy="813" r="13.2"/>
<circle cx="1115" cy="814" r="13.2"/>
<circle cx="1120" cy="806" r="13.2"/>
<circle cx="1134" cy="808" r="13.2"/>
<circle cx="1142" cy="812" r="13.2"/>
<circle cx="1151" cy="808" r="13.2"/>
<circle cx="1164" cy="809" r="13.2"/>
<circle cx="1035" cy="816" r="13.2"/>
<circle cx="1051" cy="818" r="13.2"/>
<circle cx="1060" cy="814" r="13.2"/>
<circle cx="1062" cy="822" r="13.2"/>
<circle cx="1070" cy="819" r="13.2"/>
<circle cx="1080" cy="815" r="13.2"/>
<circle cx="1092" cy="821" r="13.2"/>
<circle cx="1102" cy="814" r="13.2"/>
<circle cx="1107" cy="822" r="13.2"/>
<circle cx="1122" cy="818" r="13.2"/>
<circle cx="1126" cy="816" r="13.2"/>
<circle cx="1133" cy="816" r="13.2"/>
<circle cx="1149" cy="817" r="13.2"/>
<circle cx="983" cy="829" r="13.2"/>
<circle cx="992" cy="826" r="13.2"/>
<circle cx="1011" cy="829" r="13.2"/>
<circle cx="1023" cy="827" r="13.2"/>
<circle cx="1029" cy="827" r="13.2"/>
<circle cx="1044" cy="825" r="13.2"/>
<circle cx="1050" cy="828" r="13.2"/>
<circle cx="1064" cy="821" r="13.2"/>
<circle cx="1068" cy="826" r="13.2"/>
<circle cx="1077" cy="824" r="13.2"/>
<circle cx="1088" cy="829" r="13.2"/>
<circle cx="1099" cy="825" r="13.2"/>
<circle cx="1109" cy="830" r="13.2"/>
<circle cx="1111" cy="823" r="13.2"/>
<circle cx="1128" cy="822" r="13.2"/>
<circle cx="1130" cy="830" r="13.2"/>
<circle cx="1144" cy="823" r="13.2"/>
<circle cx="959" cy="836" r="13.2"/>
<circle cx="962" cy="836" r="13.2"/>
<circle cx="978" cy="834" r="13.2"/>
<circle cx="988" cy="830" r="13.2"/>
<circle cx="989" cy="830" r="13.2"/>
<circle cx="999" cy="836" r="13.2"/>
<circle cx="1012" cy="830" r="13.2"/>
<circle cx="1023" cy="836" r="13.2"/>
<circle cx="1030" cy="832" r="13.2"/>
<circle cx="1037" cy="838" r="13.2"/>
<circle cx="1048" cy="830" r="13.2"/>
<circle cx="1055" cy="834" r="13.2"/>
<circle cx="1067" cy="834" r="13.2"/>
<circle cx="1071" cy="835" r="13.2"/>
<circle cx="1083" cy="835" r="13.2"/>
<circle cx="1096" cy="837" r="13.2"/>
<circle cx="1099" cy="836" r="13.2"/>
<circle cx="1107" cy="832" r="13.2"/>
<circle cx="1115" cy="836" r="13.2"/>
<circle cx="1125" cy="837" r="13.2"/>
<circle cx="1138" cy="837" r="13.2"/>
<circle cx="964" cy="844" r="13.2"/>
<circle cx="967" cy="840" r="13.2"/>
<circle cx="980" cy="840" r="13.2"/>
<circle cx="990" cy="837" r="13.2"/>
<circle cx="1000" cy="843" r="13.2"/>
<circle cx="1004" cy="838" r="13.2"/>
<circle cx="1012" cy="838" r="13.2"/>
<circle cx="1024" cy="838" r="13.2"/>
<circle cx="1029" cy="840" r="13.2"/>
<circle cx="1038" cy="837" r="13.2"/>
<circle cx="1054" cy="842" r="13.2"/>
<circle cx="1058" cy="840" r="13.2"/>
<circle cx="1069" cy="841" r="13.2"/>
<circle cx="1080" cy="838" r="13.2"/>
<circle cx="1088" cy="843" r="13.2"/>
<circle cx="1100" cy="844" r="13.2"/>
<circle cx="1108" cy="842" r="13.2"/>
<circle cx="1110" cy="845" r="13.2"/>
<circle cx="1125" cy="842" r="13.2"/>
<circle cx="1131" cy="838" r="13.2"/>
<circle cx="961" cy="851" r="13.2"/>
<circle cx="964" cy="849" r="13.2"/>
<circle cx="976" cy="847" r="13.2"/>
<circle cx="985" cy="854" r="13.2"/>
<circle cx="994" cy="850" r="13.2"/>
<circle cx="1002" cy="847" r="13.2"/>
<circle cx="1014" cy="846" r="13.2"/>
<circle cx="1020" cy="850" r="13.2"/>
<circle cx="1033" cy="846" r="13.2"/>
<circle cx="1042" cy="851" r="13.2"/>
<circle cx="1043" cy="848" r="13.2"/>
<circle cx="1053" cy="853" r="13.2"/>
<circle cx="1066" cy="853" r="13.2"/>
<circle cx="1070" cy="849" r="13.2"/>
<circle cx="1086" cy="846" r="13.2"/>
<circle cx="1091" cy="850" r="13.2"/>
<circle cx="1104" cy="847" r="13.2"/>
<circle cx="1108" cy="845" r="13.2"/>
<circle cx="1120" cy="851" r="13.2"/>
<circle cx="1124" cy="846" r="13.2"/>
<circle cx="970" cy="855" r="13.2"/>
<circle cx="982" cy="854" r="13.2"/>
<circle cx="993" cy="859" r="13.2"/>
<circle cx="995" cy="856" r="13.2"/>
<circle cx="1007" cy="854" r="13.2"/>
<circle cx="1019" cy="854" r="13.2"/>
<circle cx="1026" cy="857" r="13.2"/>
<circle cx="1037" cy="853" r="13.2"/>
<circle cx="1039" cy="858" r="13.2"/>
<circle cx="1049" cy="855" r="13.2"/>
<circle cx="1059" cy="859" r="13.2"/>
<circle cx="1070" cy="854" r="13.2"/>
<circle cx="1080" cy="854" r="13.2"/>
<circle cx="1083" cy="855" r="13.2"/>
<circle cx="1095" cy="857" r="13.2"/>
<circle cx="1103" cy="854" r="13.2"/>
<circle cx="1117" cy="853" r="13.2"/>
<circle cx="969" cy="867" r="13.2"/>
<circle cx="972" cy="866" r="13.2"/>
<circle cx="983" cy="869" r="13.2"/>
<circle cx="991" cy="866" r="13.2"/>
<circle cx="1002" cy="865" r="13.2"/>
<circle cx="1012" cy="864" r="13.2"/>
<circle cx="1023" cy="866" r="13.2"/>
<circle cx="1027" cy="862" r="13.2"/>
<circle cx="1039" cy="865" r="13.2"/>
<circle cx="1044" cy="864" r="13.2"/>
<circle cx="1060" cy="864" r="13.2"/>
<circle cx="1063" cy="866" r="13.2"/>
<circle cx="1070" cy="864" r="13.2"/>
<circle cx="1087" cy="861" r="13.2"/>
<circle cx="1089" cy="863" r="13.2"/>
<circle cx="1098" cy="861" r="13.2"/>
<circle cx="1110" cy="866" r="13.2"/>
<circle cx="953" cy="876" r="13.2"/>
<circle cx="963" cy="873" r="13.2"/>
<circle cx="974" cy="875" r="13.2"/>
<circle cx="982" cy="869" r="13.2"/>
<circle cx="992" cy="872" r="13.2"/>
<circle cx="995" cy="875" r="13.2"/>
<circle cx="1004" cy="874" r="13.2"/>
<circle cx="1011" cy="874" r="13.2"/>
<circle cx="1027" cy="875" r="13.2"/>
<circle cx="1034" cy="875" r="13.2"/>
<circle cx="1040" cy="872" r="13.2"/>
<circle cx="1052" cy="871" r="13.2"/>
<circle cx="1064" cy="876" r="13.2"/>
<circle cx="1070" cy="868" r="13.2"/>
<circle cx="1077" cy="875" r="13.2"/>
<circle cx="1088" cy="875" r="13.2"/>
<circle cx="1097" cy="875" r="13.2"/>
<circle cx="957" cy="884" r="13.2"/>
<circle cx="966" cy="877" r="13.2"/>
<circle cx="972" cy="881" r="13.2"/>
<circle cx="980" cy="883" r="13.2"/>
<circle cx="995" cy="878" r="13.2"/>
<circle cx="1006" cy="885" r="13.2"/>
<circle cx="1010" cy="877" r="13.2"/>
<circle cx="1020" cy="878" r="13.2"/>
<circle cx="1032" cy="877" r="13.2"/>
<circle cx="1038" cy="880" r="13.2"/>
<circle cx="1050" cy="879" r="13.2"/>
<circle cx="1053" cy="876" r="13.2"/>
<circle cx="1064" cy="879" r="13.2"/>
<circle cx="1073" cy="882" r="13.2"/>
<circle cx="1082" cy="881" r="13.2"/>
<circle cx="1088" cy="876" r="13.2"/>
<circle cx="954" cy="886" r="13.2"/>
<circle cx="959" cy="885" r="13.2"/>
<circle cx="971" cy="886" r="13.2"/>
<circle cx="977" cy="890" r="13.2"/>
<circle cx="992" cy="885" r="13.2"/>
<circle cx="1002" cy="887" r="13.2"/>
<circle cx="1006" cy="890" r="13.2"/>
<circle cx="1019" cy="891" r="13.2"/>
<circle cx="1028" cy="889" r="13.2"/>
<circle cx="1035" cy="884" r="13.2"/>
<circle cx="1043" cy="884" r="13.2"/>
<circle cx="1055" cy="886" r="13.2"/>
<circle cx="1062" cy="884" r="13.2"/>
<circle cx="1072" cy="885" r="13.2"/>
<circle cx="1075" cy="886" r="13.2"/>
<circle cx="1089" cy="889" r="13.2"/>
<circle cx="955" cy="898" r="13.2"/>
<circle cx="962" cy="896" r="13.2"/>
<circle cx="973" cy="897" r="13.2"/>
<circle cx="982" cy="896" r="13.2"/>
<circle cx="994" cy="900" r="13.2"/>
<circle cx="999" cy="896" r="13.2"/>
<circle cx="1012" cy="892" r="13.2"/>
<circle cx="1017" cy="893" r="13.2"/>
<circle cx="1028" cy="892" r="13.2"/>
<circle cx="1035" cy="895" r="13.2"/>
<circle cx="1050" cy="900" r="13.2"/>
<circle cx="1060" cy="892" r="13.2"/>
<circle cx="1061" cy="897" r="13.2"/>
<circle cx="1074" cy="893" r="13.2"/>
<circle cx="1083" cy="900" r="13.2"/>
<circle cx="953" cy="908" r="13.2"/>
<circle cx="963" cy="904" r="13.2"/>
<circle cx="973" cy="906" r="13.2"/>
<circle cx="978" cy="900" r="13.2"/>
<circle cx="992" cy="901" r="13.2"/>
<circle cx="995" cy="902" r="13.2"/>
<circle cx="1008" cy="903" r="13.2"/>
<circle cx="1015" cy="901" r="13.2"/>
<circle cx="1027" cy="906" r="13.2"/>
<circle cx="1035" cy="907" r="13.2"/>
<circle cx="1038" cy="907" r="13.2"/>
<circle cx="1054" cy="904" r="13.2"/>
<circle cx="1059" cy="908" r="13.2"/>
<circle cx="1072" cy="908" r="13.2"/>
<circle cx="1074" cy="906" r="13.2"/>
<circle cx="957" cy="909" r="13.2"/>
<circle cx="972" cy="913" r="13.2"/>
<circle cx="981" cy="911" r="13.2"/>
<circle cx="994" cy="913" r="13.2"/>
<circle cx="1000" cy="912" r="13.2"/>
<circle cx="1015" cy="914" r="13.2"/>
<circle cx="1020" cy="907" r="13.2"/>
<circle cx="1025" cy="909" r="13.2"/>
<circle cx="1034" cy="913" r="13.2"/>
<circle cx="1048" cy="907" r="13.2"/>
<circle cx="1060" cy="911" r="13.2"/>
<circle cx="1069" cy="909" r="13.2"/>
<circle cx="1076" cy="915" r="13.2"/>
<circle cx="971" cy="920" r="13.2"/>
<circle cx="978" cy="918" r="13.2"/>
<circle cx="988" cy="923" r="13.2"/>
<circle cx="998" cy="923" r="13.2"/>
<circle cx="1007" cy="918" r="13.2"/>
<circle cx="1012" cy="919" r="13.2"/>
<circle cx="1026" cy="915" r="13.2"/>
<circle cx="1032" cy="921" r="13.2"/>
<circle cx="1041" cy="924" r="13.2"/>
<circle cx="1052" cy="922" r="13.2"/>
<circle cx="1058" cy="922" r="13.2"/>
<circle cx="1068" cy="916" r="13.2"/>
<circle cx="1078" cy="917" r="13.2"/>
<circle cx="1087" cy="923" r="13.2"/>
<circle cx="979" cy="930" r="13.2"/>
<circle cx="984" cy="924" r="13.2"/>
<circle cx="994" cy="923" r="13.2"/>
<circle cx="999" cy="928" r="13.2"/>
<circle cx="1010" cy="931" r="13.2"/>
<circle cx="1021" cy="929" r="13.2"/>
<circle cx="1032" cy="927" r="13.2"/>
<circle cx="1037" cy="928" r="13.2"/>
<circle cx="1043" cy="924" r="13.2"/>
<circle cx="1052" cy="930" r="13.2"/>
<circle cx="1066" cy="924" r="13.2"/>
<circle cx="1077" cy="924" r="13.2"/>
<circle cx="1080" cy="926" r="13.2"/>
<circle cx="1095" cy="928" r="13.2"/>
<circle cx="970" cy="937" r="13.2"/>
<circle cx="976" cy="933" r="13.2"/>
<circle cx="986" cy="935" r="13.2"/>
<circle cx="1000" cy="938" r="13.2"/>
<circle cx="1005" cy="931" r="13.2"/>
<circle cx="1012" cy="934" r="13.2"/>
<circle cx="1021" cy="933" r="13.2"/>
<circle cx="1036" cy="935" r="13.2"/>
<circle cx="1041" cy="934" r="13.2"/>
<circle cx="1055" cy="939" r="13.2"/>
<circle cx="1062" cy="931" r="13.2"/>
<circle cx="1072" cy="938" r="13.2"/>
<circle cx="1078" cy="932" r="13.2"/>
<circle cx="1089" cy="938" r="13.2"/>
<circle cx="976" cy="945" r="13.2"/>
<circle cx="987" cy="939" r="13.2"/>
<circle cx="991" cy="939" r="13.2"/>
<circle cx="1003" cy="939" r="13.2"/>
<circle cx="1009" cy="946" r="13.2"/>
<circle cx="1019" cy="942" r="13.2"/>
<circle cx="1027" cy="945" r="13.2"/>
<circle cx="1038" cy="943" r="13.2"/>
<circle cx="1050" cy="940" r="13.2"/>
<circle cx="1052" cy="946" r="13.2"/>
<circle cx="1068" cy="945" r="13.2"/>
<circle cx="1077" cy="943" r="13.2"/>
<circle cx="1079" cy="940" r="13.2"/>
<circle cx="1094" cy="939" r="13.2"/>
<circle cx="977" cy="951" r="13.2"/>
<circle cx="992" cy="950" r="13.2"/>
<circle cx="996" cy="952" r="13.2"/>
<circle cx="1010" cy="947" r="13.2"/>
<circle cx="1018" cy="954" r="13.2"/>
<circle cx="1028" cy="948" r="13.2"/>
<circle cx="1037" cy="949" r="13.2"/>
<circle cx="1041" cy="949" r="13.2"/>
<circle cx="1054" cy="952" r="13.2"/>
<circle cx="1057" cy="949" r="13.2"/>
<circle cx="1070" cy="954" r="13.2"/>
<circle cx="1079" cy="952" r="13.2"/>
<circle cx="1086" cy="954" r="13.2"/>
<circle cx="979" cy="962" r="13.2"/>
<circle cx="988" cy="959" r="13.2"/>
<circle cx="997" cy="961" r="13.2"/>
<circle cx="1003" cy="959" r="13.2"/>
<circle cx="1009" cy="955" r="13.2"/>
<circle cx="1020" cy="956" r="13.2"/>
<circle cx="1025" cy="962" r="13.2"/>
<circle cx="1035" cy="963" r="13.2"/>
<circle cx="1047" cy="956" r="13.2"/>
<circle cx="1055" cy="955" r="13.2"/>
<circle cx="1065" cy="957" r="13.2"/>
<circle cx="1070" cy="956" r="13.2"/>
<circle cx="1082" cy="962" r="13.2"/>
<circle cx="977" cy="970" r="13.2"/>
<circle cx="993" cy="965" r="13.2"/>
<circle cx="998" cy="962" r="13.2"/>
<circle cx="1007" cy="965" r="13.2"/>
<circle cx="1018" cy="968" r="13.2"/>
<circle cx="1026" cy="971" r="13.2"/>
<circle cx="1029" cy="965" r="13.2"/>
<circle cx="1044" cy="970" r="13.2"/>
<circle cx="1050" cy="969" r="13.2"/>
<circle cx="1063" cy="966" r="13.2"/>
<circle cx="1071" cy="968" r="13.2"/>
<circle cx="1080" cy="969" r="13.2"/>
<circle cx="1084" cy="969" r="13.2"/>
<circle cx="979" cy="975" r="13.2"/>
<circle cx="985" cy="971" r="13.2"/>
<circle cx="996" cy="973" r="13.2"/>
<circle cx="1006" cy="973" r="13.2"/>
<circle cx="1010" cy="973" r="13.2"/>
<circle cx="1024" cy="976" r="13.2"/>
<circle cx="1030" cy="970" r="13.2"/>
<circle cx="1035" cy="972" r="13.2"/>
<circle cx="1049" cy="973" r="13.2"/>
<circle cx="1055" cy="973" r="13.2"/>
<circle cx="1061" cy="977" r="13.2"/>
<circle cx="1072" cy="978" r="13.2"/>
<circle cx="975" cy="983" r="13.2"/>
<circle cx="987" cy="984" r="13.2"/>
<circle cx="998" cy="981" r="13.2"/>
<circle cx="1011" cy="981" r="13.2"/>
<circle cx="1017" cy="983" r="13.2"/>
<circle cx="1023" cy="982" r="13.2"/>
<circle cx="1042" cy="983" r="13.2"/>
<circle cx="1053" cy="978" r="13.2"/>
<circle cx="1058" cy="982" r="13.2"/>
<circle cx="1073" cy="981" r="13.2"/>
<circle cx="1081" cy="982" r="13.2"/>
<circle cx="1180" cy="530" r="13.2"/>
<circle cx="1184" cy="534" r="13.2"/>
<circle cx="1183" cy="530" r="13.2"/>
<circle cx="1184" cy="528" r="13.2"/>
<circle cx="1158" cy="588" r="13.2"/>
<circle cx="1159" cy="585" r="13.2"/>
<circle cx="1164" cy="590" r="13.2"/>
<circle cx="1164" cy="583" r="13.2"/>
<circle cx="1158" cy="582" r="13.2"/>
<circle cx="1165" cy="592" r="13.2"/>
<circle cx="1154" cy="582" r="13.2"/>
<circle cx="1159" cy="591" r="13.2"/>
<circle cx="1153" cy="584" r="13.2"/>
<circle cx="917" cy="727" r="13.2"/>
<circle cx="927" cy="743" r="13.2"/>
<circle cx="930" cy="742" r="13.2"/>
<circle cx="925" cy="740" r="13.2"/>
<circle cx="925" cy="743" r="13.2"/>
<circle cx="923" cy="746" r="13.2"/>
<circle cx="927" cy="746" r="13.2"/>
<circle cx="928" cy="747" r="13.2"/>
<circle cx="930" cy="750" r="13.2"/>
<circle cx="926" cy="754" r="13.2"/>
<circle cx="933" cy="749" r="13.2"/>
<circle cx="927" cy="746" r="13.2"/>
<circle cx="968" cy="777" r="13.2"/>
<circle cx="940" cy="810" r="13.2"/>
<circle cx="943" cy="814" r="13.2"/>
<circle cx="942" cy="810" r="13.2"/>
<circle cx="936" cy="815" r="13.2"/>
<circle cx="943" cy="833" r="13.2"/>
<circle cx="1217" cy="677" r="13.2"/>
<circle cx="1230" cy="693" r="13.2"/>
<circle cx="1260" cy="743" r="13.2"/>
<circle cx="1290" cy="747" r="13.2"/>
<circle cx="1307" cy="763" r="13.2"/>
<circle cx="1393" cy="725" r="13.2"/>
<circle cx="1230" cy="837" r="13.2"/>
<circle cx="1233" cy="832" r="13.2"/>
<circle cx="1226" cy="841" r="13.2"/>
<circle cx="1228" cy="835" r="13.2"/>
<circle cx="1197" cy="853" r="13.2"/>
<circle cx="1193" cy="849" r="13.2"/>
<circle cx="1195" cy="858" r="13.2"/>
<circle cx="1199" cy="852" r="13.2"/>
<circle cx="1183" cy="870" r="13.2"/>
<circle cx="840" cy="797" r="13.2"/>
<circle cx="838" cy="801" r="13.2"/>
<circle cx="836" cy="795" r="13.2"/>
<circle cx="843" cy="798" r="13.2"/>
<circle cx="843" cy="794" r="13.2"/>
<circle cx="840" cy="796" r="13.2"/>
<circle cx="839" cy="794" r="13.2"/>
<circle cx="863" cy="807" r="13.2"/>
<circle cx="866" cy="803" r="13.2"/>
<circle cx="864" cy="805" r="13.2"/>
<circle cx="860" cy="808" r="13.2"/>
<circle cx="873" cy="760" r="13.2"/>
<circle cx="1310" cy="859" r="13.2"/>
<circle cx="1319" cy="859" r="13.2"/>
<circle cx="1323" cy="855" r="13.2"/>
<circle cx="1291" cy="867" r="13.2"/>
<circle cx="1305" cy="866" r="13.2"/>
<circle cx="1315" cy="861" r="13.2"/>
<circle cx="1320" cy="866" r="13.2"/>
<circle cx="1328" cy="865" r="13.2"/>
<circle cx="1340" cy="862" r="13.2"/>
<circle cx="1279" cy="875" r="13.2"/>
<circle cx="1290" cy="868" r="13.2"/>
<circle cx="1303" cy="870" r="13.2"/>
<circle cx="1304" cy="874" r="13.2"/>
<circle cx="1319" cy="875" r="13.2"/>
<circle cx="1323" cy="875" r="13.2"/>
<circle cx="1332" cy="873" r="13.2"/>
<circle cx="1269" cy="883" r="13.2"/>
<circle cx="1274" cy="883" r="13.2"/>
<circle cx="1289" cy="875" r="13.2"/>
<circle cx="1294" cy="883" r="13.2"/>
<circle cx="1302" cy="884" r="13.2"/>
<circle cx="1309" cy="883" r="13.2"/>
<circle cx="1326" cy="881" r="13.2"/>
<circle cx="1331" cy="880" r="13.2"/>
<circle cx="1339" cy="878" r="13.2"/>
<circle cx="1275" cy="885" r="13.2"/>
<circle cx="1281" cy="888" r="13.2"/>
<circle cx="1287" cy="890" r="13.2"/>
<circle cx="1295" cy="884" r="13.2"/>
<circle cx="1310" cy="889" r="13.2"/>
<circle cx="1319" cy="891" r="13.2"/>
<circle cx="1328" cy="890" r="13.2"/>
<circle cx="1332" cy="891" r="13.2"/>
<circle cx="1257" cy="897" r="13.2"/>
<circle cx="1272" cy="895" r="13.2"/>
<circle cx="1279" cy="894" r="13.2"/>
<circle cx="1285" cy="895" r="13.2"/>
<circle cx="1298" cy="894" r="13.2"/>
<circle cx="1299" cy="898" r="13.2"/>
<circle cx="1316" cy="899" r="13.2"/>
<circle cx="1320" cy="892" r="13.2"/>
<circle cx="1327" cy="893" r="13.2"/>
<circle cx="1340" cy="894" r="13.2"/>
<circle cx="1258" cy="899" r="13.2"/>
<circle cx="1259" cy="902" r="13.2"/>
<circle cx="1273" cy="904" r="13.2"/>
<circle cx="1277" cy="904" r="13.2"/>
<circle cx="1292" cy="905" r="13.2"/>
<circle cx="1300" cy="902" r="13.2"/>
<circle cx="1304" cy="900" r="13.2"/>
<circle cx="1314" cy="903" r="13.2"/>
<circle cx="1327" cy="903" r="13.2"/>
<circle cx="1337" cy="902" r="13.2"/>
<circle cx="1341" cy="904" r="13.2"/>
<circle cx="1234" cy="915" r="13.2"/>
<circle cx="1244" cy="915" r="13.2"/>
<circle cx="1252" cy="907" r="13.2"/>
<circle cx="1257" cy="907" r="13.2"/>
<circle cx="1266" cy="911" r="13.2"/>
<circle cx="1276" cy="914" r="13.2"/>
<circle cx="1290" cy="913" r="13.2"/>
<circle cx="1295" cy="914" r="13.2"/>
<circle cx="1300" cy="907" r="13.2"/>
<circle cx="1316" cy="911" r="13.2"/>
<circle cx="1325" cy="912" r="13.2"/>
<circle cx="1331" cy="910" r="13.2"/>
<circle cx="1342" cy="915" r="13.2"/>
<circle cx="1349" cy="908" r="13.2"/>
<circle cx="1219" cy="921" r="13.2"/>
<circle cx="1225" cy="923" r="13.2"/>
<circle cx="1236" cy="918" r="13.2"/>
<circle cx="1241" cy="920" r="13.2"/>
<circle cx="1255" cy="920" r="13.2"/>
<circle cx="1260" cy="918" r="13.2"/>
<circle cx="1272" cy="914" r="13.2"/>
<circle cx="1277" cy="919" r="13.2"/>
<circle cx="1286" cy="920" r="13.2"/>
<circle cx="1297" cy="921" r="13.2"/>
<circle cx="1306" cy="917" r="13.2"/>
<circle cx="1316" cy="921" r="13.2"/>
<circle cx="1327" cy="922" r="13.2"/>
<circle cx="1333" cy="922" r="13.2"/>
<circle cx="1341" cy="922" r="13.2"/>
<circle cx="1224" cy="926" r="13.2"/>
<circle cx="1228" cy="931" r="13.2"/>
<circle cx="1238" cy="923" r="13.2"/>
<circle cx="1246" cy="922" r="13.2"/>
<circle cx="1259" cy="922" r="13.2"/>
<circle cx="1270" cy="924" r="13.2"/>
<circle cx="1275" cy="929" r="13.2"/>
<circle cx="1282" cy="929" r="13.2"/>
<circle cx="1299" cy="929" r="13.2"/>
<circle cx="1302" cy="923" r="13.2"/>
<circle cx="1316" cy="923" r="13.2"/>
<circle cx="1320" cy="927" r="13.2"/>
<circle cx="1333" cy="927" r="13.2"/>
<circle cx="1339" cy="925" r="13.2"/>
<circle cx="1350" cy="928" r="13.2"/>
<circle cx="1222" cy="933" r="13.2"/>
<circle cx="1231" cy="938" r="13.2"/>
<circle cx="1234" cy="938" r="13.2"/>
<circle cx="1249" cy="937" r="13.2"/>
<circle cx="1252" cy="934" r="13.2"/>
<circle cx="1265" cy="936" r="13.2"/>
<circle cx="1276" cy="934" r="13.2"/>
<circle cx="1283" cy="930" r="13.2"/>
<circle cx="1293" cy="932" r="13.2"/>
<circle cx="1301" cy="930" r="13.2"/>
<circle cx="1307" cy="934" r="13.2"/>
<circle cx="1317" cy="934" r="13.2"/>
<circle cx="1330" cy="937" r="13.2"/>
<circle cx="1334" cy="930" r="13.2"/>
<circle cx="1341" cy="937" r="13.2"/>
<circle cx="1233" cy="942" r="13.2"/>
<circle cx="1243" cy="945" r="13.2"/>
<circle cx="1251" cy="942" r="13.2"/>
<circle cx="1257" cy="941" r="13.2"/>
<circle cx="1271" cy="938" r="13.2"/>
<circle cx="1273" cy="941" r="13.2"/>
<circle cx="1283" cy="943" r="13.2"/>
<circle cx="1299" cy="944" r="13.2"/>
<circle cx="1304" cy="942" r="13.2"/>
<circle cx="1311" cy="942" r="13.2"/>
<circle cx="1323" cy="940" r="13.2"/>
<circle cx="1328" cy="939" r="13.2"/>
<circle cx="1335" cy="943" r="13.2"/>
<circle cx="1350" cy="939" r="13.2"/>
<circle cx="1225" cy="950" r="13.2"/>
<circle cx="1233" cy="948" r="13.2"/>
<circle cx="1242" cy="950" r="13.2"/>
<circle cx="1255" cy="950" r="13.2"/>
<circle cx="1261" cy="951" r="13.2"/>
<circle cx="1271" cy="954" r="13.2"/>
<circle cx="1280" cy="947" r="13.2"/>
<circle cx="1289" cy="948" r="13.2"/>
<circle cx="1302" cy="952" r="13.2"/>
<circle cx="1312" cy="950" r="13.2"/>
<circle cx="1319" cy="951" r="13.2"/>
<circle cx="1322" cy="946" r="13.2"/>
<circle cx="1339" cy="954" r="13.2"/>
<circle cx="1343" cy="946" r="13.2"/>
<circle cx="1350" cy="953" r="13.2"/>
<circle cx="1241" cy="955" r="13.2"/>
<circle cx="1253" cy="953" r="13.2"/>
<circle cx="1261" cy="957" r="13.2"/>
<circle cx="1270" cy="953" r="13.2"/>
<circle cx="1272" cy="962" r="13.2"/>
<circle cx="1285" cy="958" r="13.2"/>
<circle cx="1290" cy="961" r="13.2"/>
<circle cx="1302" cy="961" r="13.2"/>
<circle cx="1309" cy="956" r="13.2"/>
<circle cx="1325" cy="961" r="13.2"/>
<circle cx="1334" cy="954" r="13.2"/>
<circle cx="1342" cy="961" r="13.2"/>
<circle cx="1244" cy="961" r="13.2"/>
<circle cx="1259" cy="970" r="13.2"/>
<circle cx="1272" cy="966" r="13.2"/>
<circle cx="1277" cy="968" r="13.2"/>
<circle cx="1291" cy="964" r="13.2"/>
<circle cx="1301" cy="962" r="13.2"/>
<circle cx="1306" cy="969" r="13.2"/>
<circle cx="1314" cy="969" r="13.2"/>
<circle cx="1329" cy="970" r="13.2"/>
<circle cx="1338" cy="966" r="13.2"/>
<circle cx="1341" cy="968" r="13.2"/>
<circle cx="1261" cy="972" r="13.2"/>
<circle cx="1269" cy="970" r="13.2"/>
<circle cx="1281" cy="974" r="13.2"/>
<circle cx="1283" cy="970" r="13.2"/>
<circle cx="1292" cy="971" r="13.2"/>
<circle cx="1305" cy="972" r="13.2"/>
<circle cx="1311" cy="972" r="13.2"/>
<circle cx="1323" cy="977" r="13.2"/>
<circle cx="1333" cy="970" r="13.2"/>
<circle cx="1343" cy="969" r="13.2"/>
<circle cx="1344" cy="975" r="13.2"/>
<circle cx="1260" cy="984" r="13.2"/>
<circle cx="1269" cy="981" r="13.2"/>
<circle cx="1281" cy="981" r="13.2"/>
<circle cx="1288" cy="979" r="13.2"/>
<circle cx="1299" cy="981" r="13.2"/>
<circle cx="1312" cy="983" r="13.2"/>
<circle cx="1313" cy="983" r="13.2"/>
<circle cx="1327" cy="980" r="13.2"/>
<circle cx="1339" cy="983" r="13.2"/>
<circle cx="1344" cy="979" r="13.2"/>
<circle cx="1258" cy="986" r="13.2"/>
<circle cx="1269" cy="990" r="13.2"/>
<circle cx="1276" cy="986" r="13.2"/>
<circle cx="1287" cy="986" r="13.2"/>
<circle cx="1297" cy="986" r="13.2"/>
<circle cx="1306" cy="989" r="13.2"/>
<circle cx="1314" cy="992" r="13.2"/>
<circle cx="1321" cy="990" r="13.2"/>
<circle cx="1331" cy="992" r="13.2"/>
<circle cx="1344" cy="993" r="13.2"/>
<circle cx="1267" cy="999" r="13.2"/>
<circle cx="1272" cy="995" r="13.2"/>
<circle cx="1278" cy="998" r="13.2"/>
<circle cx="1293" cy="996" r="13.2"/>
<circle cx="1302" cy="1001" r="13.2"/>
<circle cx="1306" cy="999" r="13.2"/>
<circle cx="1314" cy="1001" r="13.2"/>
<circle cx="1326" cy="993" r="13.2"/>
<circle cx="1333" cy="995" r="13.2"/>
<circle cx="1348" cy="996" r="13.2"/>
<circle cx="1349" cy="994" r="13.2"/>
<circle cx="1258" cy="1005" r="13.2"/>
<circle cx="1269" cy="1008" r="13.2"/>
<circle cx="1276" cy="1007" r="13.2"/>
<circle cx="1284" cy="1003" r="13.2"/>
<circle cx="1292" cy="1003" r="13.2"/>
<circle cx="1305" cy="1002" r="13.2"/>
<circle cx="1311" cy="1001" r="13.2"/>
<circle cx="1321" cy="1003" r="13.2"/>
<circle cx="1328" cy="1000" r="13.2"/>
<circle cx="1336" cy="1006" r="13.2"/>
<circle cx="1349" cy="1008" r="13.2"/>
<circle cx="1354" cy="1009" r="13.2"/>
<circle cx="1256" cy="1013" r="13.2"/>
<circle cx="1265" cy="1015" r="13.2"/>
<circle cx="1275" cy="1013" r="13.2"/>
<circle cx="1277" cy="1009" r="13.2"/>
<circle cx="1286" cy="1008" r="13.2"/>
<circle cx="1296" cy="1011" r="13.2"/>
<circle cx="1307" cy="1012" r="13.2"/>
<circle cx="1317" cy="1014" r="13.2"/>
<circle cx="1325" cy="1015" r="13.2"/>
<circle cx="1338" cy="1009" r="13.2"/>
<circle cx="1346" cy="1012" r="13.2"/>
<circle cx="1356" cy="1012" r="13.2"/>
<circle cx="1255" cy="1016" r="13.2"/>
<circle cx="1267" cy="1023" r="13.2"/>
<circle cx="1278" cy="1023" r="13.2"/>
<circle cx="1286" cy="1019" r="13.2"/>
<circle cx="1291" cy="1023" r="13.2"/>
<circle cx="1302" cy="1021" r="13.2"/>
<circle cx="1310" cy="1018" r="13.2"/>
<circle cx="1324" cy="1017" r="13.2"/>
<circle cx="1330" cy="1021" r="13.2"/>
<circle cx="1341" cy="1020" r="13.2"/>
<circle cx="1346" cy="1024" r="13.2"/>
<circle cx="1258" cy="1024" r="13.2"/>
<circle cx="1264" cy="1025" r="13.2"/>
<circle cx="1275" cy="1031" r="13.2"/>
<circle cx="1283" cy="1024" r="13.2"/>
<circle cx="1287" cy="1025" r="13.2"/>
<circle cx="1303" cy="1031" r="13.2"/>
<circle cx="1311" cy="1030" r="13.2"/>
<circle cx="1318" cy="1030" r="13.2"/>
<circle cx="1326" cy="1031" r="13.2"/>
<circle cx="1337" cy="1027" r="13.2"/>
<circle cx="1342" cy="1029" r="13.2"/>
<circle cx="1353" cy="1026" r="13.2"/>
<circle cx="1253" cy="1036" r="13.2"/>
<circle cx="1260" cy="1035" r="13.2"/>
<circle cx="1265" cy="1034" r="13.2"/>
<circle cx="1273" cy="1040" r="13.2"/>
<circle cx="1288" cy="1035" r="13.2"/>
<circle cx="1297" cy="1040" r="13.2"/>
<circle cx="1299" cy="1037" r="13.2"/>
<circle cx="1312" cy="1035" r="13.2"/>
<circle cx="1318" cy="1033" r="13.2"/>
<circle cx="1332" cy="1038" r="13.2"/>
<circle cx="1335" cy="1035" r="13.2"/>
<circle cx="1348" cy="1033" r="13.2"/>
<circle cx="1257" cy="1047" r="13.2"/>
<circle cx="1261" cy="1042" r="13.2"/>
<circle cx="1271" cy="1042" r="13.2"/>
<circle cx="1278" cy="1041" r="13.2"/>
<circle cx="1293" cy="1041" r="13.2"/>
<circle cx="1302" cy="1046" r="13.2"/>
<circle cx="1312" cy="1044" r="13.2"/>
<circle cx="1315" cy="1042" r="13.2"/>
<circle cx="1326" cy="1039" r="13.2"/>
<circle cx="1338" cy="1042" r="13.2"/>
<circle cx="1346" cy="1047" r="13.2"/>
<circle cx="1239" cy="1047" r="13.2"/>
<circle cx="1248" cy="1052" r="13.2"/>
<circle cx="1256" cy="1053" r="13.2"/>
<circle cx="1265" cy="1049" r="13.2"/>
<circle cx="1276" cy="1052" r="13.2"/>
<circle cx="1287" cy="1047" r="13.2"/>
<circle cx="1293" cy="1053" r="13.2"/>
<circle cx="1301" cy="1050" r="13.2"/>
<circle cx="1316" cy="1052" r="13.2"/>
<circle cx="1321" cy="1054" r="13.2"/>
<circle cx="1332" cy="1051" r="13.2"/>
<circle cx="1341" cy="1048" r="13.2"/>
<circle cx="1220" cy="1061" r="13.2"/>
<circle cx="1229" cy="1059" r="13.2"/>
<circle cx="1232" cy="1061" r="13.2"/>
<circle cx="1244" cy="1059" r="13.2"/>
<circle cx="1256" cy="1057" r="13.2"/>
<circle cx="1259" cy="1059" r="13.2"/>
<circle cx="1269" cy="1060" r="13.2"/>
<circle cx="1282" cy="1061" r="13.2"/>
<circle cx="1290" cy="1055" r="13.2"/>
<circle cx="1300" cy="1059" r="13.2"/>
<circle cx="1305" cy="1063" r="13.2"/>
<circle cx="1320" cy="1061" r="13.2"/>
<circle cx="1322" cy="1059" r="13.2"/>
<circle cx="1338" cy="1056" r="13.2"/>
<circle cx="1221" cy="1070" r="13.2"/>
<circle cx="1235" cy="1069" r="13.2"/>
<circle cx="1239" cy="1068" r="13.2"/>
<circle cx="1246" cy="1070" r="13.2"/>
<circle cx="1256" cy="1064" r="13.2"/>
<circle cx="1269" cy="1065" r="13.2"/>
<circle cx="1277" cy="1066" r="13.2"/>
<circle cx="1285" cy="1063" r="13.2"/>
<circle cx="1293" cy="1067" r="13.2"/>
<circle cx="1303" cy="1068" r="13.2"/>
<circle cx="1310" cy="1067" r="13.2"/>
<circle cx="1319" cy="1069" r="13.2"/>
<circle cx="1329" cy="1069" r="13.2"/>
<circle cx="1339" cy="1067" r="13.2"/>
<circle cx="1212" cy="1075" r="13.2"/>
<circle cx="1215" cy="1072" r="13.2"/>
<circle cx="1223" cy="1073" r="13.2"/>
<circle cx="1237" cy="1074" r="13.2"/>
<circle cx="1243" cy="1074" r="13.2"/>
<circle cx="1250" cy="1075" r="13.2"/>
<circle cx="1261" cy="1075" r="13.2"/>
<circle cx="1271" cy="1077" r="13.2"/>
<circle cx="1280" cy="1071" r="13.2"/>
<circle cx="1289" cy="1076" r="13.2"/>
<circle cx="1296" cy="1076" r="13.2"/>
<circle cx="1306" cy="1078" r="13.2"/>
<circle cx="1317" cy="1079" r="13.2"/>
<circle cx="1323" cy="1073" r="13.2"/>
<circle cx="1335" cy="1072" r="13.2"/>
<circle cx="1214" cy="1086" r="13.2"/>
<circle cx="1219" cy="1086" r="13.2"/>
<circle cx="1232" cy="1082" r="13.2"/>
<circle cx="1238" cy="1087" r="13.2"/>
<circle cx="1247" cy="1080" r="13.2"/>
<circle cx="1261" cy="1079" r="13.2"/>
<circle cx="1269" cy="1078" r="13.2"/>
<circle cx="1277" cy="1078" r="13.2"/>
<circle cx="1287" cy="1082" r="13.2"/>
<circle cx="1292" cy="1080" r="13.2"/>
<circle cx="1300" cy="1087" r="13.2"/>
<circle cx="1313" cy="1078" r="13.2"/>
<circle cx="1318" cy="1080" r="13.2"/>
<circle cx="1214" cy="1091" r="13.2"/>
<circle cx="1231" cy="1089" r="13.2"/>
<circle cx="1234" cy="1090" r="13.2"/>
<circle cx="1246" cy="1093" r="13.2"/>
<circle cx="1250" cy="1087" r="13.2"/>
<circle cx="1262" cy="1087" r="13.2"/>
<circle cx="1274" cy="1089" r="13.2"/>
<circle cx="1279" cy="1088" r="13.2"/>
<circle cx="1288" cy="1094" r="13.2"/>
<circle cx="1301" cy="1090" r="13.2"/>
<circle cx="1304" cy="1091" r="13.2"/>
<circle cx="1314" cy="1093" r="13.2"/>
<circle cx="1215" cy="1094" r="13.2"/>
<circle cx="1222" cy="1100" r="13.2"/>
<circle cx="1234" cy="1100" r="13.2"/>
<circle cx="1236" cy="1096" r="13.2"/>
<circle cx="1249" cy="1099" r="13.2"/>
<circle cx="1255" cy="1099" r="13.2"/>
<circle cx="1272" cy="1102" r="13.2"/>
<circle cx="1276" cy="1097" r="13.2"/>
<circle cx="1283" cy="1098" r="13.2"/>
<circle cx="1297" cy="1097" r="13.2"/>
<circle cx="1302" cy="1100" r="13.2"/>
<circle cx="1315" cy="1093" r="13.2"/>
<circle cx="1220" cy="1104" r="13.2"/>
<circle cx="1227" cy="1106" r="13.2"/>
<circle cx="1235" cy="1108" r="13.2"/>
<circle cx="1247" cy="1108" r="13.2"/>
<circle cx="1253" cy="1109" r="13.2"/>
<circle cx="1259" cy="1104" r="13.2"/>
<circle cx="1273" cy="1106" r="13.2"/>
<circle cx="1277" cy="1108" r="13.2"/>
<circle cx="1293" cy="1107" r="13.2"/>
<circle cx="1296" cy="1108" r="13.2"/>
<circle cx="1235" cy="1116" r="13.2"/>
<circle cx="1238" cy="1118" r="13.2"/>
<circle cx="1251" cy="1116" r="13.2"/>
<circle cx="1261" cy="1112" r="13.2"/>
<circle cx="1267" cy="1111" r="13.2"/>
<circle cx="1273" cy="1114" r="13.2"/>
<circle cx="1284" cy="1116" r="13.2"/>
<circle cx="1293" cy="1110" r="13.2"/>
<circle cx="1252" cy="1118" r="13.2"/>
<circle cx="1263" cy="1122" r="13.2"/>
<circle cx="1279" cy="1117" r="13.2"/>
<circle cx="1041" cy="967" r="13.2"/>
<circle cx="1048" cy="966" r="13.2"/>
<circle cx="1058" cy="969" r="13.2"/>
<circle cx="1032" cy="979" r="13.2"/>
<circle cx="1041" cy="979" r="13.2"/>
<circle cx="1052" cy="975" r="13.2"/>
<circle cx="1057" cy="973" r="13.2"/>
<circle cx="1036" cy="987" r="13.2"/>
<circle cx="1048" cy="985" r="13.2"/>
<circle cx="1059" cy="982" r="13.2"/>
<circle cx="1032" cy="989" r="13.2"/>
<circle cx="1042" cy="989" r="13.2"/>
<circle cx="1055" cy="994" r="13.2"/>
<circle cx="1054" cy="1003" r="13.2"/>
<circle cx="1177" cy="1044" r="13.2"/>
<circle cx="1175" cy="1049" r="13.2"/>
<circle cx="1179" cy="1049" r="13.2"/>
<circle cx="1182" cy="1042" r="13.2"/>
<circle cx="1173" cy="1045" r="13.2"/>
<circle cx="1180" cy="1040" r="13.2"/>
<circle cx="1175" cy="1039" r="13.2"/>
<circle cx="1190" cy="1051" r="13.2"/>
<circle cx="1193" cy="1049" r="13.2"/>
<circle cx="1189" cy="1053" r="13.2"/>
<circle cx="1186" cy="1050" r="13.2"/>
<circle cx="1167" cy="1037" r="13.2"/>
<circle cx="1383" cy="951" r="13.2"/>
<circle cx="1381" cy="955" r="13.2"/>
<circle cx="1378" cy="953" r="13.2"/>
<circle cx="1384" cy="948" r="13.2"/>
<circle cx="1387" cy="956" r="13.2"/>
<circle cx="1381" cy="956" r="13.2"/>
<circle cx="1384" cy="953" r="13.2"/>
<circle cx="1397" cy="977" r="13.2"/>
<circle cx="1377" cy="984" r="13.2"/>
<circle cx="1417" cy="1011" r="13.2"/>
<circle cx="1416" cy="1007" r="13.2"/>
<circle cx="1411" cy="1013" r="13.2"/>
<circle cx="1416" cy="1010" r="13.2"/>
<circle cx="1416" cy="1015" r="13.2"/>
<circle cx="1413" cy="1015" r="13.2"/>
<circle cx="1417" cy="1009" r="13.2"/>
<circle cx="1413" cy="1027" r="13.2"/>
<circle cx="1412" cy="1030" r="13.2"/>
<circle cx="1414" cy="1026" r="13.2"/>
<circle cx="1411" cy="1027" r="13.2"/>
<circle cx="1397" cy="1031" r="13.2"/>
<circle cx="1470" cy="974" r="13.2"/>
<circle cx="853" cy="1001" r="13.2"/>
<circle cx="854" cy="1000" r="13.2"/>
<circle cx="852" cy="1001" r="13.2"/>
<circle cx="853" cy="1003" r="13.2"/>
<circle cx="837" cy="1014" r="13.2"/>
<circle cx="833" cy="1121" r="13.2"/>
<circle cx="831" cy="1119" r="13.2"/>
<circle cx="831" cy="1116" r="13.2"/>
<circle cx="836" cy="1119" r="13.2"/>
<circle cx="1113" cy="1021" r="13.2"/>
<circle cx="1109" cy="1025" r="13.2"/>
<circle cx="1110" cy="1016" r="13.2"/>
<circle cx="1115" cy="1026" r="13.2"/>
<circle cx="1113" cy="1016" r="13.2"/>
<circle cx="1116" cy="1019" r="13.2"/>
<circle cx="1116" cy="1024" r="13.2"/>
<circle cx="1097" cy="1017" r="13.2"/>
<circle cx="1092" cy="1016" r="13.2"/>
<circle cx="1100" cy="1020" r="13.2"/>
<circle cx="1094" cy="1021" r="13.2"/>
<circle cx="1123" cy="1014" r="13.2"/>
<circle cx="1077" cy="1031" r="13.2"/>
<circle cx="1037" cy="1091" r="13.2"/>
<circle cx="1035" cy="1091" r="13.2"/>
<circle cx="1037" cy="1088" r="13.2"/>
<circle cx="1037" cy="1088" r="13.2"/>
<circle cx="1030" cy="1107" r="13.2"/>
<circle cx="1010" cy="1127" r="13.2"/>
<circle cx="1007" cy="1134" r="13.2"/>
<circle cx="1008" cy="1131" r="13.2"/>
<circle cx="1007" cy="1127" r="13.2"/>
<circle cx="1011" cy="1121" r="13.2"/>
<circle cx="1012" cy="1127" r="13.2"/>
<circle cx="1013" cy="1122" r="13.2"/>
<circle cx="1007" cy="1123" r="13.2"/>
<circle cx="1007" cy="1133" r="13.2"/>
<circle cx="1003" cy="1147" r="13.2"/>
<circle cx="1006" cy="1145" r="13.2"/>
<circle cx="1001" cy="1145" r="13.2"/>
<circle cx="1007" cy="1143" r="13.2"/>
<circle cx="1027" cy="1124" r="13.2"/>
<circle cx="1147" cy="1107" r="13.2"/>
<circle cx="1149" cy="1114" r="13.2"/>
<circle cx="1144" cy="1111" r="13.2"/>
<circle cx="1144" cy="1105" r="13.2"/>
<circle cx="1144" cy="1103" r="13.2"/>
<circle cx="1146" cy="1101" r="13.2"/>
<circle cx="1152" cy="1112" r="13.2"/>
<circle cx="1152" cy="1105" r="13.2"/>
<circle cx="1147" cy="1101" r="13.2"/>
<circle cx="1160" cy="1104" r="13.2"/>
<circle cx="927" cy="1197" r="13.2"/>
<circle cx="922" cy="1203" r="13.2"/>
<circle cx="924" cy="1200" r="13.2"/>
<circle cx="931" cy="1195" r="13.2"/>
<circle cx="931" cy="1200" r="13.2"/>
<circle cx="931" cy="1194" r="13.2"/>
<circle cx="927" cy="1203" r="13.2"/>
<circle cx="1163" cy="977" r="13.2"/>
<circle cx="1168" cy="975" r="13.2"/>
<circle cx="1158" cy="972" r="13.2"/>
<circle cx="1160" cy="976" r="13.2"/>
<circle cx="1166" cy="982" r="13.2"/>
<circle cx="1161" cy="979" r="13.2"/>
<circle cx="1163" cy="982" r="13.2"/>
<circle cx="1177" cy="974" r="13.2"/>
<circle cx="1127" cy="961" r="13.2"/>
<circle cx="1362" cy="1097" r="13.2"/>
<circle cx="1447" cy="967" r="13.2"/>
<circle cx="1197" cy="913" r="13.2"/>
<circle cx="1190" cy="937" r="13.2"/>
<circle cx="1207" cy="950" r="13.2"/>
<circle cx="1193" cy="927" r="13.2"/>
<circle cx="1191" cy="928" r="13.2"/>
<circle cx="1195" cy="930" r="13.2"/>
<circle cx="1196" cy="930" r="13.2"/>
<circle cx="1213" cy="930" r="13.2"/>
<circle cx="1561" cy="977" r="13.2"/>
<circle cx="1561" cy="979" r="13.2"/>
<circle cx="1561" cy="977" r="13.2"/>
<circle cx="1561" cy="980" r="13.2"/>
<circle cx="1578" cy="977" r="13.2"/>
<circle cx="258" cy="707" r="13.2"/>
<circle cx="259" cy="702" r="13.2"/>
<circle cx="260" cy="705" r="13.2"/>
<circle cx="256" cy="709" r="13.2"/>
<circle cx="253" cy="702" r="13.2"/>
<circle cx="258" cy="711" r="13.2"/>
<circle cx="259" cy="704" r="13.2"/>
<circle cx="267" cy="712" r="13.2"/>
<circle cx="265" cy="717" r="13.2"/>
<circle cx="268" cy="707" r="13.2"/>
<circle cx="268" cy="716" r="13.2"/>
</g>
<g fill="#ff7f0e">
<circle cx="507" cy="726" r="13.2"/>
<circle cx="512" cy="726" r="13.2"/>
<circle cx="512" cy="729" r="13.2"/>
<circle cx="501" cy="746" r="13.2"/>
<circle cx="508" cy="737" r="13.2"/>
<circle cx="515" cy="747" r="13.2"/>
<circle cx="504" cy="758" r="13.2"/>
<circle cx="500" cy="763" r="13.2"/>
<circle cx="480" cy="779" r="13.2"/>
<circle cx="490" cy="772" r="13.2"/>
<circle cx="501" cy="778" r="13.2"/>
<circle cx="474" cy="782" r="13.2"/>
<circle cx="481" cy="784" r="13.2"/>
<circle cx="495" cy="789" r="13.2"/>
<circle cx="500" cy="786" r="13.2"/>
<circle cx="496" cy="789" r="13.2"/>
<circle cx="507" cy="796" r="13.2"/>
<circle cx="520" cy="792" r="13.2"/>
<circle cx="524" cy="796" r="13.2"/>
<circle cx="505" cy="799" r="13.2"/>
<circle cx="516" cy="802" r="13.2"/>
<circle cx="524" cy="806" r="13.2"/>
<circle cx="530" cy="806" r="13.2"/>
<circle cx="514" cy="808" r="13.2"/>
<circle cx="527" cy="807" r="13.2"/>
<circle cx="538" cy="815" r="13.2"/>
<circle cx="510" cy="822" r="13.2"/>
<circle cx="519" cy="816" r="13.2"/>
<circle cx="528" cy="818" r="13.2"/>
<circle cx="516" cy="826" r="13.2"/>
<circle cx="529" cy="827" r="13.2"/>
<circle cx="533" cy="832" r="13.2"/>
<circle cx="503" cy="838" r="13.2"/>
<circle cx="510" cy="841" r="13.2"/>
<circle cx="522" cy="836" r="13.2"/>
<circle cx="528" cy="833" r="13.2"/>
<circle cx="495" cy="849" r="13.2"/>
<circle cx="507" cy="843" r="13.2"/>
<circle cx="515" cy="848" r="13.2"/>
<circle cx="523" cy="847" r="13.2"/>
<circle cx="532" cy="842" r="13.2"/>
<circle cx="494" cy="857" r="13.2"/>
<circle cx="501" cy="850" r="13.2"/>
<circle cx="515" cy="856" r="13.2"/>
<circle cx="523" cy="859" r="13.2"/>
<circle cx="527" cy="849" r="13.2"/>
<circle cx="489" cy="859" r="13.2"/>
<circle cx="493" cy="859" r="13.2"/>
<circle cx="505" cy="865" r="13.2"/>
<circle cx="512" cy="863" r="13.2"/>
<circle cx="528" cy="858" r="13.2"/>
<circle cx="536" cy="865" r="13.2"/>
<circle cx="495" cy="871" r="13.2"/>
<circle cx="497" cy="874" r="13.2"/>
<circle cx="511" cy="873" r="13.2"/>
<circle cx="522" cy="873" r="13.2"/>
<circle cx="531" cy="876" r="13.2"/>
<circle cx="546" cy="875" r="13.2"/>
<circle cx="473" cy="883" r="13.2"/>
<circle cx="487" cy="878" r="13.2"/>
<circle cx="501" cy="876" r="13.2"/>
<circle cx="511" cy="882" r="13.2"/>
<circle cx="513" cy="882" r="13.2"/>
<circle cx="527" cy="884" r="13.2"/>
<circle cx="538" cy="879" r="13.2"/>
<circle cx="551" cy="876" r="13.2"/>
<circle cx="464" cy="890" r="13.2"/>
<circle cx="468" cy="888" r="13.2"/>
<circle cx="484" cy="886" r="13.2"/>
<circle cx="493" cy="886" r="13.2"/>
<circle cx="500" cy="893" r="13.2"/>
<circle cx="516" cy="894" r="13.2"/>
<circle cx="521" cy="889" r="13.2"/>
<circle cx="535" cy="891" r="13.2"/>
<circle cx="541" cy="892" r="13.2"/>
<circle cx="551" cy="893" r="13.2"/>
<circle cx="561" cy="885" r="13.2"/>
<circle cx="459" cy="893" r="13.2"/>
<circle cx="468" cy="896" r="13.2"/>
<circle cx="474" cy="900" r="13.2"/>
<circle cx="482" cy="897" r="13.2"/>
<circle cx="493" cy="901" r="13.2"/>
<circle cx="511" cy="893" r="13.2"/>
<circle cx="516" cy="897" r="13.2"/>
<circle cx="529" cy="899" r="13.2"/>
<circle cx="535" cy="902" r="13.2"/>
<circle cx="544" cy="894" r="13.2"/>
<circle cx="560" cy="893" r="13.2"/>
<circle cx="564" cy="897" r="13.2"/>
<circle cx="465" cy="903" r="13.2"/>
<circle cx="476" cy="903" r="13.2"/>
<circle cx="486" cy="907" r="13.2"/>
<circle cx="496" cy="909" r="13.2"/>
<circle cx="503" cy="906" r="13.2"/>
<circle cx="515" cy="905" r="13.2"/>
<circle cx="518" cy="910" r="13.2"/>
<circle cx="535" cy="908" r="13.2"/>
<circle cx="544" cy="903" r="13.2"/>
<circle cx="551" cy="909" r="13.2"/>
<circle cx="477" cy="917" r="13.2"/>
<circle cx="488" cy="911" r="13.2"/>
<circle cx="501" cy="913" r="13.2"/>
<circle cx="511" cy="919" r="13.2"/>
<circle cx="513" cy="915" r="13.2"/>
<circle cx="531" cy="913" r="13.2"/>
<circle cx="537" cy="913" r="13.2"/>
<circle cx="542" cy="912" r="13.2"/>
<circle cx="553" cy="912" r="13.2"/>
<circle cx="480" cy="924" r="13.2"/>
<circle cx="490" cy="928" r="13.2"/>
<circle cx="499" cy="928" r="13.2"/>
<circle cx="507" cy="918" r="13.2"/>
<circle cx="522" cy="920" r="13.2"/>
<circle cx="532" cy="919" r="13.2"/>
<circle cx="545" cy="925" r="13.2"/>
<circle cx="482" cy="929" r="13.2"/>
<circle cx="493" cy="935" r="13.2"/>
<circle cx="503" cy="936" r="13.2"/>
<circle cx="514" cy="936" r="13.2"/>
<circle cx="527" cy="930" r="13.2"/>
<circle cx="541" cy="931" r="13.2"/>
<circle cx="549" cy="927" r="13.2"/>
<circle cx="494" cy="941" r="13.2"/>
<circle cx="500" cy="944" r="13.2"/>
<circle cx="509" cy="937" r="13.2"/>
<circle cx="518" cy="937" r="13.2"/>
<circle cx="533" cy="943" r="13.2"/>
<circle cx="538" cy="941" r="13.2"/>
<circle cx="506" cy="949" r="13.2"/>
<circle cx="521" cy="950" r="13.2"/>
<circle cx="523" cy="945" r="13.2"/>
<circle cx="532" cy="947" r="13.2"/>
<circle cx="543" cy="951" r="13.2"/>
<circle cx="520" cy="954" r="13.2"/>
<circle cx="534" cy="960" r="13.2"/>
<circle cx="542" cy="954" r="13.2"/>
<circle cx="522" cy="971" r="13.2"/>
<circle cx="523" cy="966" r="13.2"/>
<circle cx="530" cy="977" r="13.2"/>
<circle cx="531" cy="984" r="13.2"/>
<circle cx="534" cy="984" r="13.2"/>
<circle cx="400" cy="788" r="13.2"/>
<circle cx="406" cy="781" r="13.2"/>
<circle cx="390" cy="788" r="13.2"/>
<circle cx="400" cy="795" r="13.2"/>
<circle cx="410" cy="794" r="13.2"/>
<circle cx="374" cy="805" r="13.2"/>
<circle cx="391" cy="799" r="13.2"/>
<circle cx="398" cy="802" r="13.2"/>
<circle cx="405" cy="797" r="13.2"/>
<circle cx="370" cy="809" r="13.2"/>
<circle cx="380" cy="814" r="13.2"/>
<circle cx="388" cy="815" r="13.2"/>
<circle cx="399" cy="814" r="13.2"/>
<circle cx="382" cy="817" r="13.2"/>
<circle cx="328" cy="577" r="13.2"/>
<circle cx="353" cy="573" r="13.2"/>
<circle cx="355" cy="573" r="13.2"/>
<circle cx="358" cy="570" r="13.2"/>
<circle cx="353" cy="573" r="13.2"/>
<circle cx="357" cy="602" r="13.2"/>
<circle cx="340" cy="587" r="13.2"/>
<circle cx="393" cy="585" r="13.2"/>
<circle cx="443" cy="603" r="13.2"/>
<circle cx="470" cy="612" r="13.2"/>
<circle cx="473" cy="627" r="13.2"/>
<circle cx="472" cy="630" r="13.2"/>
<circle cx="470" cy="630" r="13.2"/>
<circle cx="472" cy="625" r="13.2"/>
<circle cx="510" cy="535" r="13.2"/>
<circle cx="505" cy="550" r="13.2"/>
<circle cx="493" cy="563" r="13.2"/>
<circle cx="598" cy="583" r="13.2"/>
<circle cx="555" cy="668" r="13.2"/>
<circle cx="392" cy="675" r="13.2"/>
<circle cx="345" cy="718" r="13.2"/>
<circle cx="460" cy="692" r="13.2"/>
<circle cx="461" cy="692" r="13.2"/>
<circle cx="458" cy="688" r="13.2"/>
<circle cx="465" cy="690" r="13.2"/>
<circle cx="470" cy="717" r="13.2"/>
<circle cx="443" cy="722" r="13.2"/>
<circle cx="418" cy="730" r="13.2"/>
<circle cx="565" cy="787" r="13.2"/>
<circle cx="561" cy="788" r="13.2"/>
<circle cx="565" cy="785" r="13.2"/>
<circle cx="563" cy="790" r="13.2"/>
<circle cx="423" cy="907" r="13.2"/>
<circle cx="590" cy="927" r="13.2"/>
<circle cx="580" cy="873" r="13.2"/>
<circle cx="590" cy="847" r="13.2"/>
<circle cx="637" cy="848" r="13.2"/>
<circle cx="635" cy="848" r="13.2"/>
<circle cx="641" cy="847" r="13.2"/>
<circle cx="636" cy="845" r="13.2"/>
<circle cx="757" cy="803" r="13.2"/>
<circle cx="797" cy="897" r="13.2"/>
<circle cx="463" cy="981" r="13.2"/>
<circle cx="413" cy="773" r="13.2"/>
<circle cx="420" cy="817" r="13.2"/>
<circle cx="393" cy="838" r="13.2"/>
<circle cx="433" cy="833" r="13.2"/>
<circle cx="427" cy="850" r="13.2"/>
<circle cx="393" cy="1044" r="13.2"/>
<circle cx="488" cy="1067" r="13.2"/>
<circle cx="487" cy="1064" r="13.2"/>
<circle cx="487" cy="1067" r="13.2"/>
<circle cx="487" cy="1064" r="13.2"/>
<circle cx="487" cy="1084" r="13.2"/>
<circle cx="487" cy="1082" r="13.2"/>
<circle cx="492" cy="1083" r="13.2"/>
<circle cx="486" cy="1081" r="13.2"/>
<circle cx="492" cy="1082" r="13.2"/>
<circle cx="488" cy="1088" r="13.2"/>
<circle cx="485" cy="1087" r="13.2"/>
<circle cx="480" cy="1104" r="13.2"/>
<circle cx="552" cy="1047" r="13.2"/>
<circle cx="800" cy="1102" r="13.2"/>
<circle cx="815" cy="1047" r="13.2"/>
<circle cx="533" cy="997" r="13.2"/>
<circle cx="531" cy="993" r="13.2"/>
<circle cx="529" cy="997" r="13.2"/>
<circle cx="537" cy="994" r="13.2"/>
<circle cx="527" cy="1011" r="13.2"/>
<circle cx="597" cy="1017" r="13.2"/>
<circle cx="596" cy="1020" r="13.2"/>
<circle cx="594" cy="1014" r="13.2"/>
<circle cx="597" cy="1017" r="13.2"/>
<circle cx="493" cy="987" r="13.2"/>
<circle cx="612" cy="445" r="13.2"/>
<circle cx="613" cy="444" r="13.2"/>
<circle cx="618" cy="444" r="13.2"/>
<circle cx="611" cy="444" r="13.2"/>
<circle cx="609" cy="450" r="13.2"/>
<circle cx="614" cy="446" r="13.2"/>
<circle cx="612" cy="442" r="13.2"/>
<circle cx="772" cy="434" r="13.2"/>
<circle cx="771" cy="434" r="13.2"/>
<circle cx="772" cy="439" r="13.2"/>
<circle cx="773" cy="431" r="13.2"/>
<circle cx="748" cy="412" r="13.2"/>
<circle cx="761" cy="466" r="13.2"/>
<circle cx="732" cy="385" r="13.2"/>
<circle cx="914" cy="398" r="13.2"/>
<circle cx="705" cy="408" r="13.2"/>
<circle cx="912" cy="425" r="13.2"/>
<circle cx="907" cy="421" r="13.2"/>
<circle cx="911" cy="428" r="13.2"/>
<circle cx="917" cy="422" r="13.2"/>
<circle cx="916" cy="424" r="13.2"/>
<circle cx="913" cy="425" r="13.2"/>
<circle cx="907" cy="420" r="13.2"/>
<circle cx="900" cy="440" r="13.2"/>
<circle cx="902" cy="442" r="13.2"/>
<circle cx="899" cy="445" r="13.2"/>
<circle cx="904" cy="438" r="13.2"/>
<circle cx="895" cy="441" r="13.2"/>
<circle cx="902" cy="437" r="13.2"/>
<circle cx="895" cy="440" r="13.2"/>
<circle cx="890" cy="460" r="13.2"/>
<circle cx="884" cy="463" r="13.2"/>
<circle cx="892" cy="457" r="13.2"/>
<circle cx="889" cy="457" r="13.2"/>
<circle cx="886" cy="456" r="13.2"/>
<circle cx="894" cy="459" r="13.2"/>
<circle cx="893" cy="458" r="13.2"/>
<circle cx="885" cy="480" r="13.2"/>
<circle cx="889" cy="481" r="13.2"/>
<circle cx="887" cy="479" r="13.2"/>
<circle cx="886" cy="476" r="13.2"/>
<circle cx="891" cy="482" r="13.2"/>
<circle cx="885" cy="482" r="13.2"/>
<circle cx="880" cy="478" r="13.2"/>
<circle cx="888" cy="490" r="13.2"/>
<circle cx="885" cy="493" r="13.2"/>
<circle cx="883" cy="489" r="13.2"/>
<circle cx="891" cy="493" r="13.2"/>
<circle cx="918" cy="418" r="13.2"/>
<circle cx="920" cy="416" r="13.2"/>
<circle cx="915" cy="420" r="13.2"/>
<circle cx="915" cy="420" r="13.2"/>
<circle cx="688" cy="488" r="13.2"/>
<circle cx="686" cy="490" r="13.2"/>
<circle cx="688" cy="491" r="13.2"/>
<circle cx="692" cy="486" r="13.2"/>
<circle cx="700" cy="515" r="13.2"/>
<circle cx="705" cy="510" r="13.2"/>
<circle cx="704" cy="510" r="13.2"/>
<circle cx="700" cy="514" r="13.2"/>
<circle cx="660" cy="508" r="13.2"/>
<circle cx="668" cy="542" r="13.2"/>
<circle cx="670" cy="541" r="13.2"/>
<circle cx="665" cy="545" r="13.2"/>
<circle cx="668" cy="545" r="13.2"/>
<circle cx="675" cy="558" r="13.2"/>
<circle cx="772" cy="495" r="13.2"/>
<circle cx="750" cy="522" r="13.2"/>
<circle cx="750" cy="518" r="13.2"/>
<circle cx="753" cy="520" r="13.2"/>
<circle cx="750" cy="518" r="13.2"/>
<circle cx="715" cy="528" r="13.2"/>
<circle cx="830" cy="505" r="13.2"/>
<circle cx="840" cy="525" r="13.2"/>
<circle cx="837" cy="527" r="13.2"/>
<circle cx="843" cy="527" r="13.2"/>
<circle cx="839" cy="528" r="13.2"/>
<circle cx="842" cy="521" r="13.2"/>
<circle cx="840" cy="526" r="13.2"/>
<circle cx="843" cy="521" r="13.2"/>
<circle cx="850" cy="535" r="13.2"/>
<circle cx="848" cy="533" r="13.2"/>
<circle cx="846" cy="533" r="13.2"/>
<circle cx="852" cy="536" r="13.2"/>
<circle cx="858" cy="550" r="13.2"/>
<circle cx="715" cy="550" r="13.2"/>
<circle cx="711" cy="553" r="13.2"/>
<circle cx="710" cy="553" r="13.2"/>
<circle cx="711" cy="545" r="13.2"/>
<circle cx="712" cy="550" r="13.2"/>
<circle cx="712" cy="555" r="13.2"/>
<circle cx="720" cy="547" r="13.2"/>
<circle cx="735" cy="550" r="13.2"/>
<circle cx="738" cy="552" r="13.2"/>
<circle cx="736" cy="547" r="13.2"/>
<circle cx="740" cy="555" r="13.2"/>
<circle cx="729" cy="548" r="13.2"/>
<circle cx="733" cy="546" r="13.2"/>
<circle cx="734" cy="555" r="13.2"/>
<circle cx="750" cy="555" r="13.2"/>
<circle cx="744" cy="559" r="13.2"/>
<circle cx="748" cy="549" r="13.2"/>
<circle cx="755" cy="552" r="13.2"/>
<circle cx="747" cy="550" r="13.2"/>
<circle cx="748" cy="550" r="13.2"/>
<circle cx="746" cy="552" r="13.2"/>
<circle cx="795" cy="552" r="13.2"/>
<circle cx="796" cy="552" r="13.2"/>
<circle cx="793" cy="553" r="13.2"/>
<circle cx="798" cy="555" r="13.2"/>
<circle cx="815" cy="560" r="13.2"/>
<circle cx="775" cy="570" r="13.2"/>
<circle cx="773" cy="574" r="13.2"/>
<circle cx="778" cy="571" r="13.2"/>
<circle cx="775" cy="568" r="13.2"/>
<circle cx="718" cy="565" r="13.2"/>
<circle cx="714" cy="569" r="13.2"/>
<circle cx="719" cy="561" r="13.2"/>
<circle cx="722" cy="569" r="13.2"/>
<circle cx="815" cy="598" r="13.2"/>
<circle cx="809" cy="600" r="13.2"/>
<circle cx="812" cy="598" r="13.2"/>
<circle cx="819" cy="596" r="13.2"/>
<circle cx="815" cy="599" r="13.2"/>
<circle cx="811" cy="599" r="13.2"/>
<circle cx="814" cy="603" r="13.2"/>
<circle cx="825" cy="612" r="13.2"/>
<circle cx="821" cy="615" r="13.2"/>
<circle cx="819" cy="610" r="13.2"/>
<circle cx="820" cy="608" r="13.2"/>
<circle cx="825" cy="609" r="13.2"/>
<circle cx="829" cy="608" r="13.2"/>
<circle cx="826" cy="617" r="13.2"/>
<circle cx="835" cy="628" r="13.2"/>
<circle cx="831" cy="624" r="13.2"/>
<circle cx="838" cy="627" r="13.2"/>
<circle cx="840" cy="626" r="13.2"/>
<circle cx="834" cy="633" r="13.2"/>
<circle cx="833" cy="633" r="13.2"/>
<circle cx="840" cy="624" r="13.2"/>
<circle cx="845" cy="640" r="13.2"/>
<circle cx="845" cy="644" r="13.2"/>
<circle cx="841" cy="643" r="13.2"/>
<circle cx="848" cy="642" r="13.2"/>
<circle cx="818" cy="585" r="13.2"/>
<circle cx="819" cy="581" r="13.2"/>
<circle cx="822" cy="581" r="13.2"/>
<circle cx="820" cy="587" r="13.2"/>
<circle cx="870" cy="642" r="13.2"/>
<circle cx="710" cy="602" r="13.2"/>
<circle cx="708" cy="605" r="13.2"/>
<circle cx="709" cy="606" r="13.2"/>
<circle cx="705" cy="608" r="13.2"/>
<circle cx="709" cy="606" r="13.2"/>
<circle cx="710" cy="606" r="13.2"/>
<circle cx="708" cy="603" r="13.2"/>
<circle cx="914" cy="552" r="13.2"/>
<circle cx="998" cy="622" r="13.2"/>
<circle cx="960" cy="632" r="13.2"/>
<circle cx="955" cy="632" r="13.2"/>
<circle cx="956" cy="636" r="13.2"/>
<circle cx="962" cy="632" r="13.2"/>
<circle cx="802" cy="690" r="13.2"/>
<circle cx="808" cy="695" r="13.2"/>
<circle cx="808" cy="685" r="13.2"/>
<circle cx="805" cy="693" r="13.2"/>
<circle cx="804" cy="684" r="13.2"/>
<circle cx="808" cy="689" r="13.2"/>
<circle cx="804" cy="694" r="13.2"/>
<circle cx="722" cy="700" r="13.2"/>
<circle cx="998" cy="708" r="13.2"/>
<circle cx="1032" cy="395" r="13.2"/>
<circle cx="1030" cy="389" r="13.2"/>
<circle cx="1038" cy="392" r="13.2"/>
<circle cx="1027" cy="391" r="13.2"/>
<circle cx="1038" cy="398" r="13.2"/>
<circle cx="1029" cy="391" r="13.2"/>
<circle cx="1037" cy="397" r="13.2"/>
<circle cx="1040" cy="412" r="13.2"/>
<circle cx="1041" cy="409" r="13.2"/>
<circle cx="1039" cy="417" r="13.2"/>
<circle cx="1035" cy="412" r="13.2"/>
<circle cx="1065" cy="420" r="13.2"/>
<circle cx="1060" cy="426" r="13.2"/>
<circle cx="1060" cy="425" r="13.2"/>
<circle cx="1069" cy="423" r="13.2"/>
<circle cx="1060" cy="422" r="13.2"/>
<circle cx="1065" cy="420" r="13.2"/>
<circle cx="1061" cy="420" r="13.2"/>
<circle cx="1068" cy="438" r="13.2"/>
<circle cx="1071" cy="433" r="13.2"/>
<circle cx="1072" cy="437" r="13.2"/>
<circle cx="1065" cy="434" r="13.2"/>
<circle cx="1067" cy="439" r="13.2"/>
<circle cx="1068" cy="442" r="13.2"/>
<circle cx="1068" cy="438" r="13.2"/>
<circle cx="1050" cy="442" r="13.2"/>
<circle cx="1055" cy="440" r="13.2"/>
<circle cx="1045" cy="441" r="13.2"/>
<circle cx="1048" cy="439" r="13.2"/>
<circle cx="1045" cy="465" r="13.2"/>
<circle cx="1044" cy="459" r="13.2"/>
<circle cx="1050" cy="465" r="13.2"/>
<circle cx="1050" cy="467" r="13.2"/>
<circle cx="1048" cy="468" r="13.2"/>
<circle cx="1043" cy="468" r="13.2"/>
<circle cx="1041" cy="466" r="13.2"/>
<circle cx="1062" cy="478" r="13.2"/>
<circle cx="1063" cy="480" r="13.2"/>
<circle cx="1059" cy="476" r="13.2"/>
<circle cx="1066" cy="481" r="13.2"/>
<circle cx="1048" cy="498" r="13.2"/>
<circle cx="1053" cy="493" r="13.2"/>
<circle cx="1044" cy="493" r="13.2"/>
<circle cx="1050" cy="500" r="13.2"/>
<circle cx="1049" cy="501" r="13.2"/>
<circle cx="1048" cy="498" r="13.2"/>
<circle cx="1053" cy="499" r="13.2"/>
<circle cx="1048" cy="512" r="13.2"/>
<circle cx="1049" cy="513" r="13.2"/>
<circle cx="1047" cy="515" r="13.2"/>
<circle cx="1048" cy="509" r="13.2"/>
<circle cx="710" cy="143" r="13.2"/>
<circle cx="710" cy="148" r="13.2"/>
<circle cx="705" cy="140" r="13.2"/>
<circle cx="710" cy="149" r="13.2"/>
<circle cx="716" cy="137" r="13.2"/>
<circle cx="712" cy="139" r="13.2"/>
<circle cx="706" cy="139" r="13.2"/>
<circle cx="740" cy="141" r="13.2"/>
<circle cx="740" cy="146" r="13.2"/>
<circle cx="745" cy="140" r="13.2"/>
<circle cx="744" cy="143" r="13.2"/>
<circle cx="733" cy="125" r="13.2"/>
<circle cx="805" cy="116" r="13.2"/>
<circle cx="801" cy="120" r="13.2"/>
<circle cx="803" cy="121" r="13.2"/>
<circle cx="801" cy="120" r="13.2"/>
<circle cx="905" cy="216" r="13.2"/>
<circle cx="905" cy="216" r="13.2"/>
<circle cx="902" cy="216" r="13.2"/>
<circle cx="908" cy="217" r="13.2"/>
<circle cx="937" cy="341" r="13.2"/>
<circle cx="807" cy="253" r="13.2"/>
<circle cx="760" cy="298" r="13.2"/>
<circle cx="820" cy="318" r="13.2"/>
<circle cx="780" cy="345" r="13.2"/>
<circle cx="717" cy="363" r="13.2"/>
<circle cx="730" cy="376" r="13.2"/>
<circle cx="660" cy="303" r="13.2"/>
<circle cx="682" cy="298" r="13.2"/>
<circle cx="612" cy="446" r="13.2"/>
<circle cx="617" cy="447" r="13.2"/>
<circle cx="617" cy="442" r="13.2"/>
<circle cx="615" cy="448" r="13.2"/>
<circle cx="616" cy="444" r="13.2"/>
<circle cx="611" cy="450" r="13.2"/>
<circle cx="609" cy="445" r="13.2"/>
<circle cx="717" cy="330" r="13.2"/>
<circle cx="415" cy="436" r="13.2"/>
<circle cx="415" cy="433" r="13.2"/>
<circle cx="413" cy="432" r="13.2"/>
<circle cx="419" cy="433" r="13.2"/>
<circle cx="434" cy="438" r="13.2"/>
<circle cx="418" cy="420" r="13.2"/>
<circle cx="1228" cy="325" r="13.2"/>
<circle cx="1222" cy="331" r="13.2"/>
<circle cx="1229" cy="327" r="13.2"/>
<circle cx="1224" cy="321" r="13.2"/>
<circle cx="1232" cy="331" r="13.2"/>
<circle cx="1222" cy="329" r="13.2"/>
<circle cx="1224" cy="320" r="13.2"/>
<circle cx="1193" cy="340" r="13.2"/>
<circle cx="1194" cy="336" r="13.2"/>
<circle cx="1196" cy="343" r="13.2"/>
<circle cx="1191" cy="336" r="13.2"/>
<circle cx="1163" cy="434" r="13.2"/>
<circle cx="1346" cy="358" r="13.2"/>
<circle cx="1403" cy="360" r="13.2"/>
<circle cx="1348" cy="425" r="13.2"/>
<circle cx="1348" cy="427" r="13.2"/>
<circle cx="1343" cy="427" r="13.2"/>
<circle cx="1344" cy="424" r="13.2"/>
<circle cx="1360" cy="420" r="13.2"/>
<circle cx="1357" cy="416" r="13.2"/>
<circle cx="1361" cy="418" r="13.2"/>
<circle cx="1365" cy="424" r="13.2"/>
<circle cx="1370" cy="428" r="13.2"/>
<circle cx="1373" cy="428" r="13.2"/>
<circle cx="1372" cy="426" r="13.2"/>
<circle cx="1370" cy="428" r="13.2"/>
<circle cx="1360" cy="478" r="13.2"/>
<circle cx="1416" cy="485" r="13.2"/>
<circle cx="1420" cy="448" r="13.2"/>
<circle cx="1438" cy="248" r="13.2"/>
<circle cx="1437" cy="247" r="13.2"/>
<circle cx="1443" cy="254" r="13.2"/>
<circle cx="1441" cy="253" r="13.2"/>
<circle cx="1435" cy="242" r="13.2"/>
<circle cx="1434" cy="247" r="13.2"/>
<circle cx="1442" cy="251" r="13.2"/>
<circle cx="1444" cy="251" r="13.2"/>
<circle cx="1435" cy="241" r="13.2"/>
<circle cx="1423" cy="240" r="13.2"/>
<circle cx="1423" cy="238" r="13.2"/>
<circle cx="1427" cy="244" r="13.2"/>
<circle cx="1423" cy="243" r="13.2"/>
<circle cx="1478" cy="255" r="13.2"/>
<circle cx="1481" cy="255" r="13.2"/>
<circle cx="1477" cy="260" r="13.2"/>
<circle cx="1482" cy="256" r="13.2"/>
<circle cx="1484" cy="251" r="13.2"/>
<circle cx="1481" cy="256" r="13.2"/>
<circle cx="1476" cy="251" r="13.2"/>
<circle cx="1410" cy="298" r="13.2"/>
<circle cx="1412" cy="303" r="13.2"/>
<circle cx="1406" cy="303" r="13.2"/>
<circle cx="1417" cy="293" r="13.2"/>
<circle cx="1411" cy="297" r="13.2"/>
<circle cx="1408" cy="292" r="13.2"/>
<circle cx="1407" cy="304" r="13.2"/>
<circle cx="1415" cy="304" r="13.2"/>
<circle cx="1410" cy="297" r="13.2"/>
<circle cx="1426" cy="302" r="13.2"/>
<circle cx="1420" cy="302" r="13.2"/>
<circle cx="1426" cy="308" r="13.2"/>
<circle cx="1420" cy="304" r="13.2"/>
<circle cx="1420" cy="308" r="13.2"/>
<circle cx="1422" cy="305" r="13.2"/>
<circle cx="1427" cy="299" r="13.2"/>
<circle cx="1450" cy="290" r="13.2"/>
<circle cx="1450" cy="289" r="13.2"/>
<circle cx="1447" cy="289" r="13.2"/>
<circle cx="1445" cy="292" r="13.2"/>
<circle cx="1456" cy="291" r="13.2"/>
<circle cx="1449" cy="290" r="13.2"/>
<circle cx="1446" cy="293" r="13.2"/>
<circle cx="1398" cy="305" r="13.2"/>
<circle cx="1400" cy="301" r="13.2"/>
<circle cx="1397" cy="301" r="13.2"/>
<circle cx="1400" cy="300" r="13.2"/>
<circle cx="1500" cy="252" r="13.2"/>
<circle cx="1504" cy="248" r="13.2"/>
<circle cx="1504" cy="249" r="13.2"/>
<circle cx="1501" cy="255" r="13.2"/>
<circle cx="1518" cy="278" r="13.2"/>
<circle cx="1522" cy="281" r="13.2"/>
<circle cx="1515" cy="280" r="13.2"/>
<circle cx="1517" cy="274" r="13.2"/>
<circle cx="1466" cy="340" r="13.2"/>
<circle cx="1465" cy="344" r="13.2"/>
<circle cx="1461" cy="342" r="13.2"/>
<circle cx="1466" cy="344" r="13.2"/>
<circle cx="1536" cy="350" r="13.2"/>
<circle cx="1535" cy="347" r="13.2"/>
<circle cx="1540" cy="345" r="13.2"/>
<circle cx="1538" cy="348" r="13.2"/>
<circle cx="1530" cy="346" r="13.2"/>
<circle cx="1540" cy="346" r="13.2"/>
<circle cx="1541" cy="346" r="13.2"/>
<circle cx="1540" cy="370" r="13.2"/>
<circle cx="1545" cy="366" r="13.2"/>
<circle cx="1542" cy="370" r="13.2"/>
<circle cx="1541" cy="374" r="13.2"/>
<circle cx="1543" cy="388" r="13.2"/>
<circle cx="1540" cy="393" r="13.2"/>
<circle cx="1544" cy="391" r="13.2"/>
<circle cx="1540" cy="393" r="13.2"/>
<circle cx="1546" cy="387" r="13.2"/>
<circle cx="1540" cy="392" r="13.2"/>
<circle cx="1544" cy="393" r="13.2"/>
<circle cx="1556" cy="385" r="13.2"/>
<circle cx="1120" cy="498" r="13.2"/>
<circle cx="1124" cy="500" r="13.2"/>
<circle cx="1123" cy="494" r="13.2"/>
<circle cx="1124" cy="500" r="13.2"/>
<circle cx="1516" cy="502" r="13.2"/>
<circle cx="1533" cy="508" r="13.2"/>
<circle cx="1529" cy="503" r="13.2"/>
<circle cx="1529" cy="505" r="13.2"/>
<circle cx="1536" cy="510" r="13.2"/>
<circle cx="1438" cy="536" r="13.2"/>
<circle cx="1416" cy="552" r="13.2"/>
<circle cx="1458" cy="555" r="13.2"/>
<circle cx="1488" cy="562" r="13.2"/>
<circle cx="1100" cy="585" r="13.2"/>
<circle cx="1103" cy="583" r="13.2"/>
<circle cx="1106" cy="581" r="13.2"/>
<circle cx="1097" cy="584" r="13.2"/>
<circle cx="1098" cy="588" r="13.2"/>
<circle cx="1105" cy="588" r="13.2"/>
<circle cx="1098" cy="586" r="13.2"/>
<circle cx="1397" cy="282" r="13.2"/>
<circle cx="1455" cy="193" r="13.2"/>
<circle cx="1460" cy="195" r="13.2"/>
<circle cx="1456" cy="196" r="13.2"/>
<circle cx="1433" cy="209" r="13.2"/>
<circle cx="1443" cy="205" r="13.2"/>
<circle cx="1454" cy="204" r="13.2"/>
<circle cx="1466" cy="203" r="13.2"/>
<circle cx="1428" cy="217" r="13.2"/>
<circle cx="1435" cy="210" r="13.2"/>
<circle cx="1444" cy="214" r="13.2"/>
<circle cx="1452" cy="212" r="13.2"/>
<circle cx="1462" cy="209" r="13.2"/>
<circle cx="1467" cy="213" r="13.2"/>
<circle cx="1424" cy="219" r="13.2"/>
<circle cx="1428" cy="224" r="13.2"/>
<circle cx="1439" cy="217" r="13.2"/>
<circle cx="1444" cy="216" r="13.2"/>
<circle cx="1458" cy="217" r="13.2"/>
<circle cx="1464" cy="223" r="13.2"/>
<circle cx="1428" cy="230" r="13.2"/>
<circle cx="1436" cy="225" r="13.2"/>
<circle cx="1445" cy="224" r="13.2"/>
<circle cx="1448" cy="223" r="13.2"/>
<circle cx="1460" cy="227" r="13.2"/>
<circle cx="1467" cy="227" r="13.2"/>
<circle cx="1423" cy="237" r="13.2"/>
<circle cx="1431" cy="236" r="13.2"/>
<circle cx="1435" cy="234" r="13.2"/>
<circle cx="1443" cy="231" r="13.2"/>
<circle cx="1453" cy="233" r="13.2"/>
<circle cx="1460" cy="237" r="13.2"/>
<circle cx="1428" cy="240" r="13.2"/>
<circle cx="1438" cy="240" r="13.2"/>
<circle cx="1440" cy="238" r="13.2"/>
<circle cx="1453" cy="237" r="13.2"/>
<circle cx="1456" cy="242" r="13.2"/>
<circle cx="1432" cy="246" r="13.2"/>
<circle cx="1447" cy="247" r="13.2"/>
<circle cx="1458" cy="250" r="13.2"/>
<circle cx="1634" cy="513" r="13.2"/>
<circle cx="1638" cy="512" r="13.2"/>
<circle cx="1637" cy="514" r="13.2"/>
<circle cx="1636" cy="507" r="13.2"/>
<circle cx="1631" cy="510" r="13.2"/>
<circle cx="1637" cy="518" r="13.2"/>
<circle cx="1636" cy="516" r="13.2"/>
<circle cx="1628" cy="533" r="13.2"/>
<circle cx="1629" cy="529" r="13.2"/>
<circle cx="1625" cy="534" r="13.2"/>
<circle cx="1631" cy="532" r="13.2"/>
<circle cx="1630" cy="531" r="13.2"/>
<circle cx="1625" cy="529" r="13.2"/>
<circle cx="1627" cy="534" r="13.2"/>
<circle cx="1764" cy="566" r="13.2"/>
<circle cx="1760" cy="571" r="13.2"/>
<circle cx="1759" cy="569" r="13.2"/>
<circle cx="1763" cy="571" r="13.2"/>
<circle cx="1768" cy="586" r="13.2"/>
<circle cx="1591" cy="586" r="13.2"/>
<circle cx="1648" cy="583" r="13.2"/>
<circle cx="1561" cy="495" r="13.2"/>
<circle cx="1571" cy="499" r="13.2"/>
<circle cx="1559" cy="500" r="13.2"/>
<circle cx="1567" cy="507" r="13.2"/>
<circle cx="1574" cy="504" r="13.2"/>
<circle cx="1552" cy="511" r="13.2"/>
<circle cx="1557" cy="508" r="13.2"/>
<circle cx="1561" cy="512" r="13.2"/>
<circle cx="1574" cy="508" r="13.2"/>
<circle cx="1577" cy="511" r="13.2"/>
<circle cx="1554" cy="518" r="13.2"/>
<circle cx="1564" cy="517" r="13.2"/>
<circle cx="1570" cy="514" r="13.2"/>
<circle cx="1575" cy="516" r="13.2"/>
<circle cx="1547" cy="527" r="13.2"/>
<circle cx="1558" cy="524" r="13.2"/>
<circle cx="1562" cy="527" r="13.2"/>
<circle cx="1575" cy="521" r="13.2"/>
<circle cx="1539" cy="532" r="13.2"/>
<circle cx="1547" cy="535" r="13.2"/>
<circle cx="1554" cy="533" r="13.2"/>
<circle cx="1559" cy="530" r="13.2"/>
<circle cx="1567" cy="534" r="13.2"/>
<circle cx="1544" cy="538" r="13.2"/>
<circle cx="1550" cy="538" r="13.2"/>
<circle cx="1557" cy="536" r="13.2"/>
<circle cx="1563" cy="538" r="13.2"/>
<circle cx="1574" cy="536" r="13.2"/>
<circle cx="1547" cy="547" r="13.2"/>
<circle cx="1551" cy="545" r="13.2"/>
<circle cx="1560" cy="541" r="13.2"/>
<circle cx="1565" cy="543" r="13.2"/>
<circle cx="1547" cy="551" r="13.2"/>
<circle cx="1554" cy="552" r="13.2"/>
<circle cx="1562" cy="551" r="13.2"/>
<circle cx="1562" cy="557" r="13.2"/>
<circle cx="1442" cy="611" r="13.2"/>
<circle cx="1437" cy="615" r="13.2"/>
<circle cx="1448" cy="617" r="13.2"/>
<circle cx="1449" cy="616" r="13.2"/>
<circle cx="1459" cy="615" r="13.2"/>
<circle cx="1434" cy="623" r="13.2"/>
<circle cx="1439" cy="620" r="13.2"/>
<circle cx="1450" cy="622" r="13.2"/>
<circle cx="1456" cy="620" r="13.2"/>
<circle cx="1466" cy="618" r="13.2"/>
<circle cx="1473" cy="620" r="13.2"/>
<circle cx="1482" cy="619" r="13.2"/>
<circle cx="1485" cy="622" r="13.2"/>
<circle cx="1447" cy="626" r="13.2"/>
<circle cx="1457" cy="625" r="13.2"/>
<circle cx="1462" cy="631" r="13.2"/>
<circle cx="1473" cy="627" r="13.2"/>
<circle cx="1479" cy="625" r="13.2"/>
<circle cx="1485" cy="625" r="13.2"/>
<circle cx="1495" cy="628" r="13.2"/>
<circle cx="1497" cy="632" r="13.2"/>
<circle cx="1509" cy="631" r="13.2"/>
<circle cx="1537" cy="630" r="13.2"/>
<circle cx="1448" cy="633" r="13.2"/>
<circle cx="1457" cy="638" r="13.2"/>
<circle cx="1468" cy="635" r="13.2"/>
<circle cx="1475" cy="638" r="13.2"/>
<circle cx="1483" cy="636" r="13.2"/>
<circle cx="1491" cy="632" r="13.2"/>
<circle cx="1498" cy="633" r="13.2"/>
<circle cx="1505" cy="631" r="13.2"/>
<circle cx="1511" cy="635" r="13.2"/>
<circle cx="1524" cy="638" r="13.2"/>
<circle cx="1533" cy="636" r="13.2"/>
<circle cx="1539" cy="634" r="13.2"/>
<circle cx="1463" cy="639" r="13.2"/>
<circle cx="1468" cy="641" r="13.2"/>
<circle cx="1473" cy="642" r="13.2"/>
<circle cx="1482" cy="642" r="13.2"/>
<circle cx="1495" cy="638" r="13.2"/>
<circle cx="1504" cy="644" r="13.2"/>
<circle cx="1508" cy="638" r="13.2"/>
<circle cx="1518" cy="641" r="13.2"/>
<circle cx="1529" cy="641" r="13.2"/>
<circle cx="1534" cy="640" r="13.2"/>
<circle cx="1538" cy="641" r="13.2"/>
<circle cx="1547" cy="642" r="13.2"/>
<circle cx="1466" cy="649" r="13.2"/>
<circle cx="1470" cy="647" r="13.2"/>
<circle cx="1485" cy="652" r="13.2"/>
<circle cx="1492" cy="647" r="13.2"/>
<circle cx="1498" cy="646" r="13.2"/>
<circle cx="1506" cy="649" r="13.2"/>
<circle cx="1514" cy="645" r="13.2"/>
<circle cx="1519" cy="647" r="13.2"/>
<circle cx="1529" cy="647" r="13.2"/>
<circle cx="1536" cy="648" r="13.2"/>
<circle cx="1546" cy="647" r="13.2"/>
<circle cx="1552" cy="649" r="13.2"/>
<circle cx="1472" cy="652" r="13.2"/>
<circle cx="1512" cy="654" r="13.2"/>
<circle cx="1529" cy="656" r="13.2"/>
<circle cx="1536" cy="659" r="13.2"/>
<circle cx="1545" cy="653" r="13.2"/>
<circle cx="1549" cy="656" r="13.2"/>
<circle cx="1558" cy="652" r="13.2"/>
<circle cx="1566" cy="659" r="13.2"/>
<circle cx="1546" cy="658" r="13.2"/>
<circle cx="1565" cy="664" r="13.2"/>
<circle cx="1566" cy="661" r="13.2"/>
<circle cx="1574" cy="666" r="13.2"/>
<circle cx="1582" cy="667" r="13.2"/>
<circle cx="1590" cy="670" r="13.2"/>
<circle cx="1593" cy="669" r="13.2"/>
<circle cx="1585" cy="673" r="13.2"/>
<circle cx="1594" cy="676" r="13.2"/>
<circle cx="1599" cy="673" r="13.2"/>
<circle cx="1608" cy="679" r="13.2"/>
<circle cx="1619" cy="678" r="13.2"/>
<circle cx="1602" cy="680" r="13.2"/>
<circle cx="1612" cy="680" r="13.2"/>
<circle cx="1617" cy="685" r="13.2"/>
<circle cx="1414" cy="553" r="13.2"/>
<circle cx="1458" cy="553" r="13.2"/>
<circle cx="1488" cy="560" r="13.2"/>
<circle cx="1464" cy="577" r="13.2"/>
<circle cx="1466" cy="573" r="13.2"/>
<circle cx="1467" cy="581" r="13.2"/>
<circle cx="1467" cy="573" r="13.2"/>
<circle cx="1424" cy="678" r="13.2"/>
<circle cx="1348" cy="707" r="13.2"/>
<circle cx="1352" cy="703" r="13.2"/>
<circle cx="1343" cy="709" r="13.2"/>
<circle cx="1350" cy="709" r="13.2"/>
<circle cx="1468" cy="717" r="13.2"/>
<circle cx="1468" cy="711" r="13.2"/>
<circle cx="1461" cy="719" r="13.2"/>
<circle cx="1471" cy="715" r="13.2"/>
<circle cx="1471" cy="715" r="13.2"/>
<circle cx="1467" cy="719" r="13.2"/>
<circle cx="1470" cy="719" r="13.2"/>
<circle cx="1463" cy="719" r="13.2"/>
<circle cx="1472" cy="720" r="13.2"/>
<circle cx="1464" cy="733" r="13.2"/>
<circle cx="1466" cy="734" r="13.2"/>
<circle cx="1461" cy="739" r="13.2"/>
<circle cx="1470" cy="730" r="13.2"/>
<circle cx="1466" cy="736" r="13.2"/>
<circle cx="1464" cy="731" r="13.2"/>
<circle cx="1463" cy="729" r="13.2"/>
<circle cx="1488" cy="730" r="13.2"/>
<circle cx="1491" cy="730" r="13.2"/>
<circle cx="1493" cy="727" r="13.2"/>
<circle cx="1492" cy="731" r="13.2"/>
<circle cx="1484" cy="767" r="13.2"/>
<circle cx="1485" cy="762" r="13.2"/>
<circle cx="1479" cy="767" r="13.2"/>
<circle cx="1480" cy="768" r="13.2"/>
<circle cx="1481" cy="772" r="13.2"/>
<circle cx="1486" cy="761" r="13.2"/>
<circle cx="1489" cy="769" r="13.2"/>
<circle cx="1498" cy="760" r="13.2"/>
<circle cx="1495" cy="759" r="13.2"/>
<circle cx="1499" cy="764" r="13.2"/>
<circle cx="1497" cy="763" r="13.2"/>
<circle cx="1524" cy="693" r="13.2"/>
<circle cx="1529" cy="698" r="13.2"/>
<circle cx="1526" cy="697" r="13.2"/>
<circle cx="1520" cy="695" r="13.2"/>
<circle cx="1534" cy="723" r="13.2"/>
<circle cx="1594" cy="713" r="13.2"/>
<circle cx="1641" cy="717" r="13.2"/>
<circle cx="1691" cy="675" r="13.2"/>
<circle cx="1491" cy="810" r="13.2"/>
<circle cx="1495" cy="808" r="13.2"/>
<circle cx="1495" cy="808" r="13.2"/>
<circle cx="1495" cy="808" r="13.2"/>
<circle cx="1492" cy="811" r="13.2"/>
<circle cx="1486" cy="805" r="13.2"/>
<circle cx="1489" cy="809" r="13.2"/>
<circle cx="1494" cy="837" r="13.2"/>
<circle cx="1496" cy="841" r="13.2"/>
<circle cx="1499" cy="833" r="13.2"/>
<circle cx="1496" cy="833" r="13.2"/>
<circle cx="1528" cy="823" r="13.2"/>
<circle cx="1441" cy="823" r="13.2"/>
<circle cx="1436" cy="819" r="13.2"/>
<circle cx="1446" cy="826" r="13.2"/>
<circle cx="1441" cy="824" r="13.2"/>
<circle cx="1443" cy="819" r="13.2"/>
<circle cx="1441" cy="828" r="13.2"/>
<circle cx="1435" cy="826" r="13.2"/>
<circle cx="1444" cy="833" r="13.2"/>
<circle cx="1634" cy="820" r="13.2"/>
<circle cx="1630" cy="820" r="13.2"/>
<circle cx="1631" cy="816" r="13.2"/>
<circle cx="1630" cy="819" r="13.2"/>
<circle cx="1621" cy="833" r="13.2"/>
<circle cx="1744" cy="810" r="13.2"/>
<circle cx="1741" cy="860" r="13.2"/>
<circle cx="1746" cy="856" r="13.2"/>
<circle cx="1740" cy="858" r="13.2"/>
<circle cx="1740" cy="857" r="13.2"/>
<circle cx="1668" cy="867" r="13.2"/>
<circle cx="1667" cy="871" r="13.2"/>
<circle cx="1664" cy="870" r="13.2"/>
<circle cx="1671" cy="866" r="13.2"/>
<circle cx="1664" cy="887" r="13.2"/>
<circle cx="1641" cy="907" r="13.2"/>
<circle cx="1643" cy="907" r="13.2"/>
<circle cx="1647" cy="901" r="13.2"/>
<circle cx="1644" cy="911" r="13.2"/>
<circle cx="1643" cy="912" r="13.2"/>
<circle cx="1636" cy="908" r="13.2"/>
<circle cx="1644" cy="902" r="13.2"/>
<circle cx="1661" cy="903" r="13.2"/>
<circle cx="1661" cy="908" r="13.2"/>
<circle cx="1663" cy="902" r="13.2"/>
<circle cx="1665" cy="909" r="13.2"/>
<circle cx="1657" cy="900" r="13.2"/>
<circle cx="1666" cy="907" r="13.2"/>
<circle cx="1660" cy="910" r="13.2"/>
<circle cx="1668" cy="905" r="13.2"/>
<circle cx="1659" cy="898" r="13.2"/>
<circle cx="1678" cy="897" r="13.2"/>
<circle cx="1611" cy="938" r="13.2"/>
<circle cx="1606" cy="937" r="13.2"/>
<circle cx="1610" cy="934" r="13.2"/>
<circle cx="1608" cy="942" r="13.2"/>
<circle cx="1641" cy="967" r="13.2"/>
<circle cx="1718" cy="978" r="13.2"/>
<circle cx="1720" cy="977" r="13.2"/>
<circle cx="1714" cy="983" r="13.2"/>
<circle cx="1722" cy="981" r="13.2"/>
<circle cx="1634" cy="983" r="13.2"/>
<circle cx="1449" cy="907" r="13.2"/>
<circle cx="1448" cy="967" r="13.2"/>
<circle cx="1541" cy="963" r="13.2"/>
<circle cx="1543" cy="966" r="13.2"/>
<circle cx="1538" cy="964" r="13.2"/>
<circle cx="1535" cy="961" r="13.2"/>
<circle cx="1537" cy="959" r="13.2"/>
<circle cx="1544" cy="963" r="13.2"/>
<circle cx="1539" cy="967" r="13.2"/>
<circle cx="1548" cy="977" r="13.2"/>
<circle cx="1549" cy="979" r="13.2"/>
<circle cx="1553" cy="973" r="13.2"/>
<circle cx="1547" cy="972" r="13.2"/>
<circle cx="1550" cy="980" r="13.2"/>
<circle cx="1542" cy="975" r="13.2"/>
<circle cx="1543" cy="980" r="13.2"/>
<circle cx="1764" cy="567" r="13.2"/>
<circle cx="1766" cy="564" r="13.2"/>
<circle cx="1767" cy="572" r="13.2"/>
<circle cx="1769" cy="565" r="13.2"/>
<circle cx="1759" cy="565" r="13.2"/>
<circle cx="1761" cy="569" r="13.2"/>
<circle cx="1762" cy="571" r="13.2"/>
<circle cx="1773" cy="600" r="13.2"/>
<circle cx="1591" cy="588" r="13.2"/>
<circle cx="1641" cy="587" r="13.2"/>
<circle cx="1639" cy="591" r="13.2"/>
<circle cx="1645" cy="587" r="13.2"/>
<circle cx="1636" cy="590" r="13.2"/>
<circle cx="1654" cy="583" r="13.2"/>
<circle cx="1029" cy="564" r="13.2"/>
<circle cx="1036" cy="560" r="13.2"/>
<circle cx="1039" cy="563" r="13.2"/>
<circle cx="1033" cy="567" r="13.2"/>
<circle cx="1040" cy="568" r="13.2"/>
<circle cx="1048" cy="572" r="13.2"/>
<circle cx="1033" cy="574" r="13.2"/>
<circle cx="1044" cy="573" r="13.2"/>
<circle cx="1048" cy="576" r="13.2"/>
<circle cx="1055" cy="579" r="13.2"/>
<circle cx="1067" cy="579" r="13.2"/>
<circle cx="1028" cy="581" r="13.2"/>
<circle cx="1036" cy="585" r="13.2"/>
<circle cx="1046" cy="581" r="13.2"/>
<circle cx="1055" cy="584" r="13.2"/>
<circle cx="1065" cy="580" r="13.2"/>
<circle cx="1071" cy="581" r="13.2"/>
<circle cx="1076" cy="586" r="13.2"/>
<circle cx="1030" cy="587" r="13.2"/>
<circle cx="1034" cy="590" r="13.2"/>
<circle cx="1043" cy="593" r="13.2"/>
<circle cx="1052" cy="591" r="13.2"/>
<circle cx="1061" cy="592" r="13.2"/>
<circle cx="1065" cy="587" r="13.2"/>
<circle cx="1078" cy="592" r="13.2"/>
<circle cx="1080" cy="590" r="13.2"/>
<circle cx="1090" cy="588" r="13.2"/>
<circle cx="1095" cy="592" r="13.2"/>
<circle cx="1022" cy="599" r="13.2"/>
<circle cx="1027" cy="594" r="13.2"/>
<circle cx="1036" cy="601" r="13.2"/>
<circle cx="1047" cy="597" r="13.2"/>
<circle cx="1056" cy="600" r="13.2"/>
<circle cx="1066" cy="595" r="13.2"/>
<circle cx="1074" cy="601" r="13.2"/>
<circle cx="1078" cy="593" r="13.2"/>
<circle cx="1088" cy="594" r="13.2"/>
<circle cx="1091" cy="597" r="13.2"/>
<circle cx="1106" cy="594" r="13.2"/>
<circle cx="1111" cy="600" r="13.2"/>
<circle cx="1027" cy="602" r="13.2"/>
<circle cx="1032" cy="606" r="13.2"/>
<circle cx="1042" cy="607" r="13.2"/>
<circle cx="1049" cy="603" r="13.2"/>
<circle cx="1060" cy="606" r="13.2"/>
<circle cx="1067" cy="608" r="13.2"/>
<circle cx="1076" cy="603" r="13.2"/>
<circle cx="1081" cy="607" r="13.2"/>
<circle cx="1091" cy="605" r="13.2"/>
<circle cx="1094" cy="604" r="13.2"/>
<circle cx="1106" cy="607" r="13.2"/>
<circle cx="1112" cy="605" r="13.2"/>
<circle cx="1025" cy="614" r="13.2"/>
<circle cx="1028" cy="610" r="13.2"/>
<circle cx="1042" cy="611" r="13.2"/>
<circle cx="1050" cy="610" r="13.2"/>
<circle cx="1052" cy="612" r="13.2"/>
<circle cx="1064" cy="613" r="13.2"/>
<circle cx="1073" cy="615" r="13.2"/>
<circle cx="1082" cy="612" r="13.2"/>
<circle cx="1085" cy="611" r="13.2"/>
<circle cx="1091" cy="610" r="13.2"/>
<circle cx="1101" cy="610" r="13.2"/>
<circle cx="1113" cy="607" r="13.2"/>
<circle cx="1030" cy="614" r="13.2"/>
<circle cx="1031" cy="616" r="13.2"/>
<circle cx="1045" cy="617" r="13.2"/>
<circle cx="1050" cy="620" r="13.2"/>
<circle cx="1062" cy="620" r="13.2"/>
<circle cx="1069" cy="618" r="13.2"/>
<circle cx="1074" cy="617" r="13.2"/>
<circle cx="1079" cy="617" r="13.2"/>
<circle cx="1086" cy="617" r="13.2"/>
<circle cx="1098" cy="614" r="13.2"/>
<circle cx="1107" cy="617" r="13.2"/>
<circle cx="1115" cy="621" r="13.2"/>
<circle cx="1031" cy="627" r="13.2"/>
<circle cx="1038" cy="628" r="13.2"/>
<circle cx="1045" cy="625" r="13.2"/>
<circle cx="1054" cy="627" r="13.2"/>
<circle cx="1063" cy="624" r="13.2"/>
<circle cx="1069" cy="628" r="13.2"/>
<circle cx="1078" cy="621" r="13.2"/>
<circle cx="1090" cy="628" r="13.2"/>
<circle cx="1096" cy="623" r="13.2"/>
<circle cx="1104" cy="621" r="13.2"/>
<circle cx="1108" cy="623" r="13.2"/>
<circle cx="1116" cy="625" r="13.2"/>
<circle cx="1032" cy="631" r="13.2"/>
<circle cx="1046" cy="629" r="13.2"/>
<circle cx="1054" cy="633" r="13.2"/>
<circle cx="1059" cy="629" r="13.2"/>
<circle cx="1066" cy="635" r="13.2"/>
<circle cx="1076" cy="635" r="13.2"/>
<circle cx="1085" cy="635" r="13.2"/>
<circle cx="1089" cy="630" r="13.2"/>
<circle cx="1095" cy="628" r="13.2"/>
<circle cx="1108" cy="631" r="13.2"/>
<circle cx="1112" cy="630" r="13.2"/>
<circle cx="1120" cy="631" r="13.2"/>
<circle cx="1131" cy="635" r="13.2"/>
<circle cx="1039" cy="636" r="13.2"/>
<circle cx="1043" cy="636" r="13.2"/>
<circle cx="1057" cy="639" r="13.2"/>
<circle cx="1065" cy="639" r="13.2"/>
<circle cx="1071" cy="638" r="13.2"/>
<circle cx="1077" cy="638" r="13.2"/>
<circle cx="1084" cy="642" r="13.2"/>
<circle cx="1094" cy="636" r="13.2"/>
<circle cx="1105" cy="642" r="13.2"/>
<circle cx="1108" cy="641" r="13.2"/>
<circle cx="1122" cy="639" r="13.2"/>
<circle cx="1125" cy="635" r="13.2"/>
<circle cx="1040" cy="649" r="13.2"/>
<circle cx="1051" cy="645" r="13.2"/>
<circle cx="1060" cy="643" r="13.2"/>
<circle cx="1068" cy="642" r="13.2"/>
<circle cx="1075" cy="646" r="13.2"/>
<circle cx="1081" cy="649" r="13.2"/>
<circle cx="1094" cy="646" r="13.2"/>
<circle cx="1096" cy="643" r="13.2"/>
<circle cx="1109" cy="644" r="13.2"/>
<circle cx="1113" cy="645" r="13.2"/>
<circle cx="1121" cy="642" r="13.2"/>
<circle cx="1129" cy="644" r="13.2"/>
<circle cx="1040" cy="649" r="13.2"/>
<circle cx="1049" cy="649" r="13.2"/>
<circle cx="1053" cy="648" r="13.2"/>
<circle cx="1060" cy="653" r="13.2"/>
<circle cx="1072" cy="655" r="13.2"/>
<circle cx="1081" cy="655" r="13.2"/>
<circle cx="1084" cy="653" r="13.2"/>
<circle cx="1092" cy="654" r="13.2"/>
<circle cx="1100" cy="656" r="13.2"/>
<circle cx="1113" cy="655" r="13.2"/>
<circle cx="1122" cy="650" r="13.2"/>
<circle cx="1035" cy="656" r="13.2"/>
<circle cx="1044" cy="658" r="13.2"/>
<circle cx="1054" cy="662" r="13.2"/>
<circle cx="1061" cy="660" r="13.2"/>
<circle cx="1069" cy="658" r="13.2"/>
<circle cx="1075" cy="663" r="13.2"/>
<circle cx="1079" cy="661" r="13.2"/>
<circle cx="1091" cy="656" r="13.2"/>
<circle cx="1101" cy="661" r="13.2"/>
<circle cx="1104" cy="663" r="13.2"/>
<circle cx="1116" cy="661" r="13.2"/>
<circle cx="1034" cy="667" r="13.2"/>
<circle cx="1037" cy="666" r="13.2"/>
<circle cx="1048" cy="663" r="13.2"/>
<circle cx="1055" cy="663" r="13.2"/>
<circle cx="1061" cy="666" r="13.2"/>
<circle cx="1074" cy="669" r="13.2"/>
<circle cx="1079" cy="664" r="13.2"/>
<circle cx="1086" cy="664" r="13.2"/>
<circle cx="1098" cy="662" r="13.2"/>
<circle cx="1102" cy="664" r="13.2"/>
<circle cx="1111" cy="667" r="13.2"/>
<circle cx="1118" cy="662" r="13.2"/>
<circle cx="1026" cy="671" r="13.2"/>
<circle cx="1037" cy="673" r="13.2"/>
<circle cx="1041" cy="673" r="13.2"/>
<circle cx="1052" cy="671" r="13.2"/>
<circle cx="1058" cy="675" r="13.2"/>
<circle cx="1068" cy="673" r="13.2"/>
<circle cx="1076" cy="672" r="13.2"/>
<circle cx="1086" cy="677" r="13.2"/>
<circle cx="1093" cy="675" r="13.2"/>
<circle cx="1095" cy="672" r="13.2"/>
<circle cx="1105" cy="676" r="13.2"/>
<circle cx="1115" cy="674" r="13.2"/>
<circle cx="1123" cy="677" r="13.2"/>
<circle cx="1029" cy="679" r="13.2"/>
<circle cx="1039" cy="677" r="13.2"/>
<circle cx="1048" cy="682" r="13.2"/>
<circle cx="1053" cy="683" r="13.2"/>
<circle cx="1065" cy="682" r="13.2"/>
<circle cx="1070" cy="680" r="13.2"/>
<circle cx="1079" cy="684" r="13.2"/>
<circle cx="1087" cy="678" r="13.2"/>
<circle cx="1097" cy="681" r="13.2"/>
<circle cx="1102" cy="681" r="13.2"/>
<circle cx="1110" cy="679" r="13.2"/>
<circle cx="1119" cy="683" r="13.2"/>
<circle cx="1129" cy="683" r="13.2"/>
<circle cx="1031" cy="689" r="13.2"/>
<circle cx="1044" cy="689" r="13.2"/>
<circle cx="1049" cy="690" r="13.2"/>
<circle cx="1061" cy="688" r="13.2"/>
<circle cx="1064" cy="690" r="13.2"/>
<circle cx="1074" cy="685" r="13.2"/>
<circle cx="1081" cy="686" r="13.2"/>
<circle cx="1090" cy="690" r="13.2"/>
<circle cx="1096" cy="687" r="13.2"/>
<circle cx="1103" cy="684" r="13.2"/>
<circle cx="1114" cy="686" r="13.2"/>
<circle cx="1121" cy="690" r="13.2"/>
<circle cx="1126" cy="683" r="13.2"/>
<circle cx="1135" cy="683" r="13.2"/>
<circle cx="1038" cy="691" r="13.2"/>
<circle cx="1048" cy="692" r="13.2"/>
<circle cx="1052" cy="692" r="13.2"/>
<circle cx="1063" cy="694" r="13.2"/>
<circle cx="1072" cy="693" r="13.2"/>
<circle cx="1078" cy="693" r="13.2"/>
<circle cx="1082" cy="697" r="13.2"/>
<circle cx="1093" cy="696" r="13.2"/>
<circle cx="1104" cy="697" r="13.2"/>
<circle cx="1112" cy="697" r="13.2"/>
<circle cx="1117" cy="695" r="13.2"/>
<circle cx="1124" cy="698" r="13.2"/>
<circle cx="1138" cy="693" r="13.2"/>
<circle cx="1143" cy="692" r="13.2"/>
<circle cx="1037" cy="699" r="13.2"/>
<circle cx="1046" cy="702" r="13.2"/>
<circle cx="1048" cy="704" r="13.2"/>
<circle cx="1056" cy="699" r="13.2"/>
<circle cx="1069" cy="704" r="13.2"/>
<circle cx="1071" cy="704" r="13.2"/>
<circle cx="1082" cy="701" r="13.2"/>
<circle cx="1086" cy="704" r="13.2"/>
<circle cx="1095" cy="703" r="13.2"/>
<circle cx="1106" cy="699" r="13.2"/>
<circle cx="1118" cy="703" r="13.2"/>
<circle cx="1125" cy="698" r="13.2"/>
<circle cx="1050" cy="711" r="13.2"/>
<circle cx="1052" cy="707" r="13.2"/>
<circle cx="1065" cy="710" r="13.2"/>
<circle cx="1074" cy="705" r="13.2"/>
<circle cx="1077" cy="709" r="13.2"/>
<circle cx="1086" cy="706" r="13.2"/>
<circle cx="1093" cy="707" r="13.2"/>
<circle cx="1106" cy="709" r="13.2"/>
<circle cx="1109" cy="708" r="13.2"/>
<circle cx="1044" cy="715" r="13.2"/>
<circle cx="1048" cy="718" r="13.2"/>
<circle cx="1059" cy="711" r="13.2"/>
<circle cx="1068" cy="711" r="13.2"/>
<circle cx="1073" cy="714" r="13.2"/>
<circle cx="1085" cy="715" r="13.2"/>
<circle cx="1093" cy="713" r="13.2"/>
<circle cx="1101" cy="714" r="13.2"/>
<circle cx="1041" cy="719" r="13.2"/>
<circle cx="1045" cy="720" r="13.2"/>
<circle cx="1055" cy="721" r="13.2"/>
<circle cx="1058" cy="720" r="13.2"/>
<circle cx="1074" cy="722" r="13.2"/>
<circle cx="1077" cy="719" r="13.2"/>
<circle cx="1083" cy="718" r="13.2"/>
<circle cx="1042" cy="729" r="13.2"/>
<circle cx="1051" cy="730" r="13.2"/>
<circle cx="1055" cy="726" r="13.2"/>
<circle cx="1065" cy="727" r="13.2"/>
<circle cx="1078" cy="731" r="13.2"/>
<circle cx="1040" cy="739" r="13.2"/>
<circle cx="1045" cy="733" r="13.2"/>
<circle cx="1055" cy="733" r="13.2"/>
<circle cx="1060" cy="739" r="13.2"/>
<circle cx="1069" cy="738" r="13.2"/>
<circle cx="1079" cy="731" r="13.2"/>
<circle cx="1030" cy="742" r="13.2"/>
<circle cx="1032" cy="740" r="13.2"/>
<circle cx="1040" cy="743" r="13.2"/>
<circle cx="1047" cy="740" r="13.2"/>
<circle cx="1061" cy="739" r="13.2"/>
<circle cx="1069" cy="741" r="13.2"/>
<circle cx="1020" cy="750" r="13.2"/>
<circle cx="1029" cy="752" r="13.2"/>
<circle cx="1036" cy="753" r="13.2"/>
<circle cx="1043" cy="751" r="13.2"/>
<circle cx="1054" cy="752" r="13.2"/>
<circle cx="1059" cy="752" r="13.2"/>
<circle cx="999" cy="759" r="13.2"/>
<circle cx="1008" cy="757" r="13.2"/>
<circle cx="1022" cy="758" r="13.2"/>
<circle cx="1030" cy="759" r="13.2"/>
<circle cx="1036" cy="760" r="13.2"/>
<circle cx="1044" cy="759" r="13.2"/>
<circle cx="1047" cy="760" r="13.2"/>
<circle cx="1062" cy="755" r="13.2"/>
<circle cx="1001" cy="764" r="13.2"/>
<circle cx="1009" cy="766" r="13.2"/>
<circle cx="1015" cy="767" r="13.2"/>
<circle cx="1019" cy="766" r="13.2"/>
<circle cx="1030" cy="761" r="13.2"/>
<circle cx="1038" cy="766" r="13.2"/>
<circle cx="1048" cy="765" r="13.2"/>
<circle cx="1056" cy="762" r="13.2"/>
<circle cx="996" cy="771" r="13.2"/>
<circle cx="1003" cy="767" r="13.2"/>
<circle cx="1014" cy="770" r="13.2"/>
<circle cx="1018" cy="768" r="13.2"/>
<circle cx="1025" cy="771" r="13.2"/>
<circle cx="1032" cy="771" r="13.2"/>
<circle cx="1002" cy="776" r="13.2"/>
<circle cx="1005" cy="777" r="13.2"/>
<circle cx="1014" cy="776" r="13.2"/>
<circle cx="1024" cy="780" r="13.2"/>
<circle cx="1026" cy="776" r="13.2"/>
<circle cx="1003" cy="780" r="13.2"/>
<circle cx="1014" cy="786" r="13.2"/>
<circle cx="1019" cy="782" r="13.2"/>
<circle cx="1025" cy="783" r="13.2"/>
<circle cx="1002" cy="788" r="13.2"/>
<circle cx="1003" cy="791" r="13.2"/>
<circle cx="1011" cy="791" r="13.2"/>
<circle cx="1021" cy="793" r="13.2"/>
<circle cx="1030" cy="789" r="13.2"/>
<circle cx="997" cy="799" r="13.2"/>
<circle cx="1002" cy="797" r="13.2"/>
<circle cx="1009" cy="797" r="13.2"/>
<circle cx="1018" cy="802" r="13.2"/>
<circle cx="997" cy="802" r="13.2"/>
<circle cx="1003" cy="808" r="13.2"/>
<circle cx="1016" cy="804" r="13.2"/>
<circle cx="994" cy="811" r="13.2"/>
<circle cx="1001" cy="809" r="13.2"/>
<circle cx="1011" cy="811" r="13.2"/>
<circle cx="1016" cy="809" r="13.2"/>
<circle cx="1000" cy="817" r="13.2"/>
<circle cx="1005" cy="816" r="13.2"/>
<circle cx="995" cy="827" r="13.2"/>
<circle cx="1003" cy="828" r="13.2"/>
<circle cx="1140" cy="819" r="13.2"/>
<circle cx="1177" cy="804" r="13.2"/>
<circle cx="1099" cy="886" r="13.2"/>
<circle cx="1052" cy="855" r="13.2"/>
<circle cx="1048" cy="821" r="13.2"/>
<circle cx="1048" cy="814" r="13.2"/>
<circle cx="1145" cy="825" r="13.2"/>
<circle cx="1069" cy="901" r="13.2"/>
<circle cx="1097" cy="845" r="13.2"/>
<circle cx="1064" cy="851" r="13.2"/>
<circle cx="1049" cy="874" r="13.2"/>
<circle cx="1096" cy="868" r="13.2"/>
<circle cx="1020" cy="841" r="13.2"/>
<circle cx="1072" cy="862" r="13.2"/>
<circle cx="1155" cy="793" r="13.2"/>
<circle cx="1040" cy="895" r="13.2"/>
<circle cx="1129" cy="753" r="13.2"/>
<circle cx="1020" cy="858" r="13.2"/>
<circle cx="1043" cy="839" r="13.2"/>
<circle cx="1115" cy="866" r="13.2"/>
<circle cx="1073" cy="768" r="13.2"/>
<circle cx="1047" cy="880" r="13.2"/>
<circle cx="1168" cy="748" r="13.2"/>
<circle cx="1082" cy="769" r="13.2"/>
<circle cx="1082" cy="880" r="13.2"/>
<circle cx="1035" cy="802" r="13.2"/>
<circle cx="963" cy="870" r="13.2"/>
<circle cx="1125" cy="849" r="13.2"/>
<circle cx="1004" cy="862" r="13.2"/>
<circle cx="1168" cy="757" r="13.2"/>
<circle cx="1056" cy="809" r="13.2"/>
<circle cx="1150" cy="742" r="13.2"/>
<circle cx="1070" cy="772" r="13.2"/>
<circle cx="1090" cy="773" r="13.2"/>
<circle cx="1038" cy="840" r="13.2"/>
<circle cx="1050" cy="796" r="13.2"/>
<circle cx="1112" cy="848" r="13.2"/>
<circle cx="1148" cy="742" r="13.2"/>
<circle cx="1115" cy="767" r="13.2"/>
<circle cx="1151" cy="777" r="13.2"/>
<circle cx="1105" cy="814" r="13.2"/>
<circle cx="1089" cy="754" r="13.2"/>
<circle cx="1118" cy="742" r="13.2"/>
<circle cx="1159" cy="796" r="13.2"/>
<circle cx="1164" cy="707" r="13.2"/>
<circle cx="1169" cy="741" r="13.2"/>
<circle cx="1133" cy="822" r="13.2"/>
<circle cx="1050" cy="876" r="13.2"/>
<circle cx="1077" cy="839" r="13.2"/>
<circle cx="1044" cy="795" r="13.2"/>
<circle cx="1107" cy="754" r="13.2"/>
<circle cx="1089" cy="796" r="13.2"/>
<circle cx="1009" cy="865" r="13.2"/>
<circle cx="1016" cy="857" r="13.2"/>
<circle cx="1016" cy="833" r="13.2"/>
<circle cx="1053" cy="823" r="13.2"/>
<circle cx="1080" cy="791" r="13.2"/>
<circle cx="1072" cy="855" r="13.2"/>
<circle cx="1124" cy="844" r="13.2"/>
<circle cx="1034" cy="807" r="13.2"/>
<circle cx="1075" cy="790" r="13.2"/>
<circle cx="1067" cy="872" r="13.2"/>
<circle cx="1118" cy="822" r="13.2"/>
<circle cx="1065" cy="838" r="13.2"/>
<circle cx="1104" cy="752" r="13.2"/>
<circle cx="1169" cy="789" r="13.2"/>
<circle cx="1086" cy="880" r="13.2"/>
<circle cx="1054" cy="784" r="13.2"/>
<circle cx="1040" cy="813" r="13.2"/>
<circle cx="1113" cy="810" r="13.2"/>
<circle cx="1017" cy="878" r="13.2"/>
<circle cx="1124" cy="742" r="13.2"/>
<circle cx="1154" cy="786" r="13.2"/>
<circle cx="1081" cy="822" r="13.2"/>
<circle cx="1111" cy="764" r="13.2"/>
<circle cx="1162" cy="716" r="13.2"/>
<circle cx="1035" cy="806" r="13.2"/>
<circle cx="1098" cy="752" r="13.2"/>
<circle cx="1051" cy="816" r="13.2"/>
<circle cx="1084" cy="765" r="13.2"/>
<circle cx="1034" cy="832" r="13.2"/>
<circle cx="1120" cy="828" r="13.2"/>
<circle cx="1049" cy="853" r="13.2"/>
<circle cx="1091" cy="845" r="13.2"/>
<circle cx="1128" cy="757" r="13.2"/>
<circle cx="1113" cy="759" r="13.2"/>
<circle cx="1167" cy="779" r="13.2"/>
<circle cx="1089" cy="775" r="13.2"/>
<circle cx="1062" cy="871" r="13.2"/>
<circle cx="1092" cy="882" r="13.2"/>
<circle cx="1150" cy="715" r="13.2"/>
<circle cx="1007" cy="863" r="13.2"/>
<circle cx="1110" cy="831" r="13.2"/>
<circle cx="996" cy="880" r="13.2"/>
<circle cx="1040" cy="796" r="13.2"/>
<circle cx="1172" cy="760" r="13.2"/>
<circle cx="1169" cy="741" r="13.2"/>
<circle cx="1121" cy="790" r="13.2"/>
<circle cx="1094" cy="798" r="13.2"/>
<circle cx="1023" cy="831" r="13.2"/>
<circle cx="982" cy="883" r="13.2"/>
<circle cx="1179" cy="745" r="13.2"/>
<circle cx="1163" cy="702" r="13.2"/>
<circle cx="1111" cy="854" r="13.2"/>
<circle cx="1137" cy="825" r="13.2"/>
<circle cx="1000" cy="867" r="13.2"/>
<circle cx="1130" cy="770" r="13.2"/>
<circle cx="1119" cy="718" r="13.2"/>
<circle cx="1135" cy="800" r="13.2"/>
<circle cx="1057" cy="789" r="13.2"/>
<circle cx="1018" cy="869" r="13.2"/>
<circle cx="1023" cy="868" r="13.2"/>
<circle cx="1042" cy="868" r="13.2"/>
<circle cx="1050" cy="865" r="13.2"/>
<circle cx="1057" cy="866" r="13.2"/>
<circle cx="1012" cy="873" r="13.2"/>
<circle cx="1023" cy="873" r="13.2"/>
<circle cx="1026" cy="875" r="13.2"/>
<circle cx="1038" cy="873" r="13.2"/>
<circle cx="1047" cy="875" r="13.2"/>
<circle cx="1056" cy="876" r="13.2"/>
<circle cx="1066" cy="876" r="13.2"/>
<circle cx="958" cy="882" r="13.2"/>
<circle cx="972" cy="879" r="13.2"/>
<circle cx="1000" cy="883" r="13.2"/>
<circle cx="1014" cy="877" r="13.2"/>
<circle cx="1020" cy="878" r="13.2"/>
<circle cx="1029" cy="881" r="13.2"/>
<circle cx="1032" cy="884" r="13.2"/>
<circle cx="1044" cy="880" r="13.2"/>
<circle cx="1049" cy="883" r="13.2"/>
<circle cx="1057" cy="885" r="13.2"/>
<circle cx="1070" cy="882" r="13.2"/>
<circle cx="1077" cy="878" r="13.2"/>
<circle cx="951" cy="884" r="13.2"/>
<circle cx="961" cy="889" r="13.2"/>
<circle cx="964" cy="887" r="13.2"/>
<circle cx="977" cy="885" r="13.2"/>
<circle cx="1003" cy="888" r="13.2"/>
<circle cx="1011" cy="885" r="13.2"/>
<circle cx="1022" cy="890" r="13.2"/>
<circle cx="1030" cy="884" r="13.2"/>
<circle cx="1039" cy="891" r="13.2"/>
<circle cx="1049" cy="884" r="13.2"/>
<circle cx="1056" cy="884" r="13.2"/>
<circle cx="1064" cy="888" r="13.2"/>
<circle cx="1067" cy="887" r="13.2"/>
<circle cx="1076" cy="890" r="13.2"/>
<circle cx="1085" cy="887" r="13.2"/>
<circle cx="943" cy="892" r="13.2"/>
<circle cx="956" cy="895" r="13.2"/>
<circle cx="958" cy="894" r="13.2"/>
<circle cx="1026" cy="895" r="13.2"/>
<circle cx="1041" cy="892" r="13.2"/>
<circle cx="1052" cy="894" r="13.2"/>
<circle cx="1059" cy="892" r="13.2"/>
<circle cx="1064" cy="895" r="13.2"/>
<circle cx="1075" cy="898" r="13.2"/>
<circle cx="1053" cy="899" r="13.2"/>
<circle cx="1060" cy="900" r="13.2"/>
<circle cx="920" cy="923" r="13.2"/>
<circle cx="926" cy="926" r="13.2"/>
<circle cx="927" cy="929" r="13.2"/>
<circle cx="930" cy="932" r="13.2"/>
<circle cx="942" cy="932" r="13.2"/>
<circle cx="924" cy="941" r="13.2"/>
<circle cx="934" cy="939" r="13.2"/>
<circle cx="942" cy="934" r="13.2"/>
<circle cx="926" cy="947" r="13.2"/>
<circle cx="931" cy="941" r="13.2"/>
<circle cx="941" cy="947" r="13.2"/>
<circle cx="945" cy="947" r="13.2"/>
<circle cx="931" cy="950" r="13.2"/>
<circle cx="936" cy="954" r="13.2"/>
<circle cx="944" cy="948" r="13.2"/>
<circle cx="933" cy="962" r="13.2"/>
<circle cx="940" cy="962" r="13.2"/>
<circle cx="948" cy="958" r="13.2"/>
<circle cx="933" cy="968" r="13.2"/>
<circle cx="945" cy="965" r="13.2"/>
<circle cx="952" cy="968" r="13.2"/>
<circle cx="939" cy="970" r="13.2"/>
<circle cx="949" cy="975" r="13.2"/>
<circle cx="956" cy="972" r="13.2"/>
<circle cx="961" cy="975" r="13.2"/>
<circle cx="969" cy="970" r="13.2"/>
<circle cx="936" cy="981" r="13.2"/>
<circle cx="943" cy="977" r="13.2"/>
<circle cx="954" cy="981" r="13.2"/>
<circle cx="958" cy="977" r="13.2"/>
<circle cx="968" cy="978" r="13.2"/>
<circle cx="974" cy="979" r="13.2"/>
<circle cx="931" cy="983" r="13.2"/>
<circle cx="968" cy="983" r="13.2"/>
<circle cx="1217" cy="625" r="13.2"/>
<circle cx="1220" cy="628" r="13.2"/>
<circle cx="1217" cy="638" r="13.2"/>
<circle cx="1221" cy="637" r="13.2"/>
<circle cx="1222" cy="644" r="13.2"/>
<circle cx="1217" cy="650" r="13.2"/>
<circle cx="1227" cy="653" r="13.2"/>
<circle cx="1223" cy="659" r="13.2"/>
<circle cx="1225" cy="662" r="13.2"/>
<circle cx="1221" cy="668" r="13.2"/>
<circle cx="1234" cy="664" r="13.2"/>
<circle cx="1235" cy="662" r="13.2"/>
<circle cx="1256" cy="670" r="13.2"/>
<circle cx="1224" cy="669" r="13.2"/>
<circle cx="1233" cy="670" r="13.2"/>
<circle cx="1244" cy="671" r="13.2"/>
<circle cx="1250" cy="675" r="13.2"/>
<circle cx="1255" cy="671" r="13.2"/>
<circle cx="1265" cy="671" r="13.2"/>
<circle cx="1288" cy="673" r="13.2"/>
<circle cx="1297" cy="673" r="13.2"/>
<circle cx="1307" cy="671" r="13.2"/>
<circle cx="1238" cy="677" r="13.2"/>
<circle cx="1244" cy="678" r="13.2"/>
<circle cx="1256" cy="683" r="13.2"/>
<circle cx="1262" cy="682" r="13.2"/>
<circle cx="1275" cy="679" r="13.2"/>
<circle cx="1277" cy="676" r="13.2"/>
<circle cx="1285" cy="677" r="13.2"/>
<circle cx="1296" cy="678" r="13.2"/>
<circle cx="1305" cy="680" r="13.2"/>
<circle cx="1312" cy="681" r="13.2"/>
<circle cx="1319" cy="681" r="13.2"/>
<circle cx="1241" cy="690" r="13.2"/>
<circle cx="1248" cy="683" r="13.2"/>
<circle cx="1260" cy="684" r="13.2"/>
<circle cx="1266" cy="687" r="13.2"/>
<circle cx="1276" cy="685" r="13.2"/>
<circle cx="1280" cy="689" r="13.2"/>
<circle cx="1293" cy="689" r="13.2"/>
<circle cx="1303" cy="689" r="13.2"/>
<circle cx="1307" cy="683" r="13.2"/>
<circle cx="1319" cy="685" r="13.2"/>
<circle cx="1243" cy="692" r="13.2"/>
<circle cx="1256" cy="696" r="13.2"/>
<circle cx="1264" cy="692" r="13.2"/>
<circle cx="1274" cy="694" r="13.2"/>
<circle cx="1280" cy="692" r="13.2"/>
<circle cx="1286" cy="689" r="13.2"/>
<circle cx="1297" cy="695" r="13.2"/>
<circle cx="1302" cy="691" r="13.2"/>
<circle cx="1309" cy="690" r="13.2"/>
<circle cx="1320" cy="694" r="13.2"/>
<circle cx="1328" cy="696" r="13.2"/>
<circle cx="1335" cy="693" r="13.2"/>
<circle cx="1260" cy="697" r="13.2"/>
<circle cx="1267" cy="702" r="13.2"/>
<circle cx="1272" cy="701" r="13.2"/>
<circle cx="1283" cy="701" r="13.2"/>
<circle cx="1290" cy="701" r="13.2"/>
<circle cx="1296" cy="697" r="13.2"/>
<circle cx="1304" cy="700" r="13.2"/>
<circle cx="1319" cy="704" r="13.2"/>
<circle cx="1321" cy="699" r="13.2"/>
<circle cx="1334" cy="704" r="13.2"/>
<circle cx="1343" cy="700" r="13.2"/>
<circle cx="1346" cy="703" r="13.2"/>
<circle cx="1263" cy="706" r="13.2"/>
<circle cx="1268" cy="707" r="13.2"/>
<circle cx="1277" cy="706" r="13.2"/>
<circle cx="1284" cy="711" r="13.2"/>
<circle cx="1297" cy="709" r="13.2"/>
<circle cx="1304" cy="710" r="13.2"/>
<circle cx="1311" cy="706" r="13.2"/>
<circle cx="1321" cy="711" r="13.2"/>
<circle cx="1324" cy="707" r="13.2"/>
<circle cx="1337" cy="709" r="13.2"/>
<circle cx="1340" cy="708" r="13.2"/>
<circle cx="1292" cy="711" r="13.2"/>
<circle cx="1321" cy="711" r="13.2"/>
<circle cx="1336" cy="792" r="13.2"/>
<circle cx="1319" cy="793" r="13.2"/>
<circle cx="1325" cy="798" r="13.2"/>
<circle cx="1330" cy="797" r="13.2"/>
<circle cx="1340" cy="800" r="13.2"/>
<circle cx="1287" cy="802" r="13.2"/>
<circle cx="1299" cy="799" r="13.2"/>
<circle cx="1303" cy="799" r="13.2"/>
<circle cx="1309" cy="801" r="13.2"/>
<circle cx="1320" cy="803" r="13.2"/>
<circle cx="1331" cy="801" r="13.2"/>
<circle cx="1337" cy="804" r="13.2"/>
<circle cx="1275" cy="810" r="13.2"/>
<circle cx="1281" cy="813" r="13.2"/>
<circle cx="1289" cy="813" r="13.2"/>
<circle cx="1301" cy="810" r="13.2"/>
<circle cx="1308" cy="806" r="13.2"/>
<circle cx="1317" cy="806" r="13.2"/>
<circle cx="1320" cy="813" r="13.2"/>
<circle cx="1332" cy="806" r="13.2"/>
<circle cx="1337" cy="809" r="13.2"/>
<circle cx="1272" cy="817" r="13.2"/>
<circle cx="1279" cy="818" r="13.2"/>
<circle cx="1291" cy="817" r="13.2"/>
<circle cx="1296" cy="818" r="13.2"/>
<circle cx="1306" cy="819" r="13.2"/>
<circle cx="1311" cy="813" r="13.2"/>
<circle cx="1319" cy="814" r="13.2"/>
<circle cx="1324" cy="814" r="13.2"/>
<circle cx="1332" cy="817" r="13.2"/>
<circle cx="1266" cy="827" r="13.2"/>
<circle cx="1273" cy="820" r="13.2"/>
<circle cx="1286" cy="827" r="13.2"/>
<circle cx="1294" cy="820" r="13.2"/>
<circle cx="1297" cy="824" r="13.2"/>
<circle cx="1309" cy="825" r="13.2"/>
<circle cx="1316" cy="826" r="13.2"/>
<circle cx="1327" cy="824" r="13.2"/>
<circle cx="1266" cy="833" r="13.2"/>
<circle cx="1269" cy="833" r="13.2"/>
<circle cx="1278" cy="830" r="13.2"/>
<circle cx="1287" cy="830" r="13.2"/>
<circle cx="1298" cy="828" r="13.2"/>
<circle cx="1303" cy="830" r="13.2"/>
<circle cx="1310" cy="827" r="13.2"/>
<circle cx="1269" cy="839" r="13.2"/>
<circle cx="1275" cy="837" r="13.2"/>
<circle cx="1280" cy="840" r="13.2"/>
<circle cx="1293" cy="834" r="13.2"/>
<circle cx="1300" cy="839" r="13.2"/>
<circle cx="1280" cy="841" r="13.2"/>
<circle cx="1000" cy="623" r="13.2"/>
<circle cx="1133" cy="630" r="13.2"/>
<circle cx="1147" cy="683" r="13.2"/>
<circle cx="1150" cy="847" r="13.2"/>
<circle cx="1167" cy="820" r="13.2"/>
<circle cx="1110" cy="890" r="13.2"/>
<circle cx="1207" cy="840" r="13.2"/>
<circle cx="1240" cy="900" r="13.2"/>
<circle cx="1244" cy="893" r="13.2"/>
<circle cx="1245" cy="905" r="13.2"/>
<circle cx="1240" cy="896" r="13.2"/>
<circle cx="1241" cy="907" r="13.2"/>
<circle cx="1236" cy="900" r="13.2"/>
<circle cx="1247" cy="903" r="13.2"/>
<circle cx="1233" cy="895" r="13.2"/>
<circle cx="1239" cy="897" r="13.2"/>
<circle cx="1223" cy="943" r="13.2"/>
<circle cx="1303" cy="907" r="13.2"/>
<circle cx="1330" cy="890" r="13.2"/>
<circle cx="1350" cy="887" r="13.2"/>
<circle cx="1203" cy="977" r="13.2"/>
<circle cx="1143" cy="983" r="13.2"/>
<circle cx="933" cy="780" r="13.2"/>
<circle cx="930" cy="781" r="13.2"/>
<circle cx="936" cy="781" r="13.2"/>
<circle cx="937" cy="776" r="13.2"/>
<circle cx="930" cy="775" r="13.2"/>
<circle cx="935" cy="785" r="13.2"/>
<circle cx="930" cy="778" r="13.2"/>
<circle cx="903" cy="780" r="13.2"/>
<circle cx="903" cy="776" r="13.2"/>
<circle cx="908" cy="777" r="13.2"/>
<circle cx="906" cy="775" r="13.2"/>
<circle cx="909" cy="779" r="13.2"/>
<circle cx="903" cy="779" r="13.2"/>
<circle cx="904" cy="777" r="13.2"/>
<circle cx="870" cy="773" r="13.2"/>
<circle cx="870" cy="774" r="13.2"/>
<circle cx="865" cy="772" r="13.2"/>
<circle cx="874" cy="772" r="13.2"/>
<circle cx="871" cy="767" r="13.2"/>
<circle cx="872" cy="768" r="13.2"/>
<circle cx="868" cy="779" r="13.2"/>
<circle cx="897" cy="810" r="13.2"/>
<circle cx="896" cy="807" r="13.2"/>
<circle cx="900" cy="809" r="13.2"/>
<circle cx="896" cy="806" r="13.2"/>
<circle cx="893" cy="805" r="13.2"/>
<circle cx="897" cy="809" r="13.2"/>
<circle cx="897" cy="808" r="13.2"/>
<circle cx="898" cy="807" r="13.2"/>
<circle cx="892" cy="810" r="13.2"/>
<circle cx="907" cy="830" r="13.2"/>
<circle cx="904" cy="824" r="13.2"/>
<circle cx="908" cy="829" r="13.2"/>
<circle cx="905" cy="826" r="13.2"/>
<circle cx="911" cy="835" r="13.2"/>
<circle cx="902" cy="833" r="13.2"/>
<circle cx="912" cy="826" r="13.2"/>
<circle cx="878" cy="847" r="13.2"/>
<circle cx="882" cy="849" r="13.2"/>
<circle cx="878" cy="848" r="13.2"/>
<circle cx="877" cy="845" r="13.2"/>
<circle cx="880" cy="851" r="13.2"/>
<circle cx="876" cy="843" r="13.2"/>
<circle cx="878" cy="849" r="13.2"/>
<circle cx="878" cy="867" r="13.2"/>
<circle cx="875" cy="862" r="13.2"/>
<circle cx="873" cy="864" r="13.2"/>
<circle cx="880" cy="869" r="13.2"/>
<circle cx="884" cy="863" r="13.2"/>
<circle cx="874" cy="869" r="13.2"/>
<circle cx="880" cy="864" r="13.2"/>
<circle cx="913" cy="840" r="13.2"/>
<circle cx="909" cy="840" r="13.2"/>
<circle cx="914" cy="840" r="13.2"/>
<circle cx="911" cy="841" r="13.2"/>
<circle cx="913" cy="920" r="13.2"/>
<circle cx="914" cy="922" r="13.2"/>
<circle cx="909" cy="920" r="13.2"/>
<circle cx="917" cy="916" r="13.2"/>
<circle cx="916" cy="926" r="13.2"/>
<circle cx="908" cy="917" r="13.2"/>
<circle cx="916" cy="920" r="13.2"/>
<circle cx="910" cy="933" r="13.2"/>
<circle cx="910" cy="937" r="13.2"/>
<circle cx="908" cy="934" r="13.2"/>
<circle cx="914" cy="938" r="13.2"/>
<circle cx="1043" cy="953" r="13.2"/>
<circle cx="1042" cy="953" r="13.2"/>
<circle cx="1039" cy="954" r="13.2"/>
<circle cx="1046" cy="949" r="13.2"/>
<circle cx="1046" cy="955" r="13.2"/>
<circle cx="1045" cy="952" r="13.2"/>
<circle cx="1039" cy="957" r="13.2"/>
<circle cx="1057" cy="963" r="13.2"/>
<circle cx="1060" cy="966" r="13.2"/>
<circle cx="1059" cy="959" r="13.2"/>
<circle cx="1061" cy="966" r="13.2"/>
<circle cx="1062" cy="958" r="13.2"/>
<circle cx="1062" cy="962" r="13.2"/>
<circle cx="1051" cy="966" r="13.2"/>
<circle cx="1097" cy="940" r="13.2"/>
<circle cx="1098" cy="934" r="13.2"/>
<circle cx="1094" cy="940" r="13.2"/>
<circle cx="1102" cy="937" r="13.2"/>
<circle cx="1091" cy="946" r="13.2"/>
<circle cx="1093" cy="944" r="13.2"/>
<circle cx="1091" cy="940" r="13.2"/>
<circle cx="1017" cy="923" r="13.2"/>
<circle cx="1018" cy="924" r="13.2"/>
<circle cx="1021" cy="921" r="13.2"/>
<circle cx="1015" cy="924" r="13.2"/>
<circle cx="990" cy="913" r="13.2"/>
<circle cx="863" cy="780" r="13.2"/>
<circle cx="860" cy="782" r="13.2"/>
<circle cx="865" cy="779" r="13.2"/>
<circle cx="861" cy="778" r="13.2"/>
<circle cx="1083" cy="1135" r="13.2"/>
<circle cx="1119" cy="1134" r="13.2"/>
<circle cx="1076" cy="1141" r="13.2"/>
<circle cx="1084" cy="1135" r="13.2"/>
<circle cx="1088" cy="1141" r="13.2"/>
<circle cx="1100" cy="1142" r="13.2"/>
<circle cx="1114" cy="1137" r="13.2"/>
<circle cx="1067" cy="1147" r="13.2"/>
<circle cx="1072" cy="1142" r="13.2"/>
<circle cx="1082" cy="1144" r="13.2"/>
<circle cx="1090" cy="1147" r="13.2"/>
<circle cx="1101" cy="1148" r="13.2"/>
<circle cx="1105" cy="1142" r="13.2"/>
<circle cx="1067" cy="1148" r="13.2"/>
<circle cx="1072" cy="1153" r="13.2"/>
<circle cx="1080" cy="1152" r="13.2"/>
<circle cx="1085" cy="1152" r="13.2"/>
<circle cx="1092" cy="1153" r="13.2"/>
<circle cx="1102" cy="1152" r="13.2"/>
<circle cx="1111" cy="1154" r="13.2"/>
<circle cx="1069" cy="1158" r="13.2"/>
<circle cx="1074" cy="1156" r="13.2"/>
<circle cx="1082" cy="1161" r="13.2"/>
<circle cx="1091" cy="1156" r="13.2"/>
<circle cx="1101" cy="1161" r="13.2"/>
<circle cx="1105" cy="1159" r="13.2"/>
<circle cx="1117" cy="1155" r="13.2"/>
<circle cx="1126" cy="1157" r="13.2"/>
<circle cx="1131" cy="1162" r="13.2"/>
<circle cx="1072" cy="1163" r="13.2"/>
<circle cx="1082" cy="1169" r="13.2"/>
<circle cx="1085" cy="1168" r="13.2"/>
<circle cx="1098" cy="1164" r="13.2"/>
<circle cx="1102" cy="1167" r="13.2"/>
<circle cx="1108" cy="1163" r="13.2"/>
<circle cx="1116" cy="1169" r="13.2"/>
<circle cx="1126" cy="1168" r="13.2"/>
<circle cx="1134" cy="1163" r="13.2"/>
<circle cx="1070" cy="1171" r="13.2"/>
<circle cx="1080" cy="1170" r="13.2"/>
<circle cx="1082" cy="1174" r="13.2"/>
<circle cx="1092" cy="1175" r="13.2"/>
<circle cx="1097" cy="1174" r="13.2"/>
<circle cx="1110" cy="1171" r="13.2"/>
<circle cx="1113" cy="1170" r="13.2"/>
<circle cx="1121" cy="1175" r="13.2"/>
<circle cx="1132" cy="1175" r="13.2"/>
<circle cx="1136" cy="1173" r="13.2"/>
<circle cx="1074" cy="1178" r="13.2"/>
<circle cx="1082" cy="1177" r="13.2"/>
<circle cx="1087" cy="1178" r="13.2"/>
<circle cx="1093" cy="1180" r="13.2"/>
<circle cx="1100" cy="1177" r="13.2"/>
<circle cx="1114" cy="1176" r="13.2"/>
<circle cx="1122" cy="1183" r="13.2"/>
<circle cx="1125" cy="1183" r="13.2"/>
<circle cx="1139" cy="1181" r="13.2"/>
<circle cx="1140" cy="1178" r="13.2"/>
<circle cx="1076" cy="1187" r="13.2"/>
<circle cx="1084" cy="1186" r="13.2"/>
<circle cx="1094" cy="1188" r="13.2"/>
<circle cx="1097" cy="1187" r="13.2"/>
<circle cx="1112" cy="1183" r="13.2"/>
<circle cx="1116" cy="1185" r="13.2"/>
<circle cx="1120" cy="1187" r="13.2"/>
<circle cx="1135" cy="1190" r="13.2"/>
<circle cx="1139" cy="1184" r="13.2"/>
<circle cx="1072" cy="1197" r="13.2"/>
<circle cx="1081" cy="1194" r="13.2"/>
<circle cx="1091" cy="1193" r="13.2"/>
<circle cx="1098" cy="1193" r="13.2"/>
<circle cx="1107" cy="1192" r="13.2"/>
<circle cx="1115" cy="1196" r="13.2"/>
<circle cx="1118" cy="1191" r="13.2"/>
<circle cx="1130" cy="1190" r="13.2"/>
<circle cx="1136" cy="1191" r="13.2"/>
<circle cx="1144" cy="1195" r="13.2"/>
<circle cx="1074" cy="1201" r="13.2"/>
<circle cx="1087" cy="1199" r="13.2"/>
<circle cx="1089" cy="1201" r="13.2"/>
<circle cx="1096" cy="1198" r="13.2"/>
<circle cx="1104" cy="1197" r="13.2"/>
<circle cx="1118" cy="1198" r="13.2"/>
<circle cx="1127" cy="1199" r="13.2"/>
<circle cx="1130" cy="1202" r="13.2"/>
<circle cx="1142" cy="1197" r="13.2"/>
<circle cx="1148" cy="1198" r="13.2"/>
<circle cx="1076" cy="1204" r="13.2"/>
<circle cx="1081" cy="1206" r="13.2"/>
<circle cx="1087" cy="1210" r="13.2"/>
<circle cx="1097" cy="1210" r="13.2"/>
<circle cx="1106" cy="1211" r="13.2"/>
<circle cx="1111" cy="1207" r="13.2"/>
<circle cx="1121" cy="1205" r="13.2"/>
<circle cx="1124" cy="1211" r="13.2"/>
<circle cx="1140" cy="1206" r="13.2"/>
<circle cx="1142" cy="1210" r="13.2"/>
<circle cx="1148" cy="1205" r="13.2"/>
<circle cx="1157" cy="1206" r="13.2"/>
<circle cx="1076" cy="1218" r="13.2"/>
<circle cx="1084" cy="1212" r="13.2"/>
<circle cx="1091" cy="1215" r="13.2"/>
<circle cx="1102" cy="1213" r="13.2"/>
<circle cx="1104" cy="1213" r="13.2"/>
<circle cx="1117" cy="1211" r="13.2"/>
<circle cx="1122" cy="1212" r="13.2"/>
<circle cx="1131" cy="1218" r="13.2"/>
<circle cx="1136" cy="1213" r="13.2"/>
<circle cx="1088" cy="1222" r="13.2"/>
<circle cx="1093" cy="1222" r="13.2"/>
<circle cx="1102" cy="1224" r="13.2"/>
<circle cx="1115" cy="1221" r="13.2"/>
<circle cx="1120" cy="1219" r="13.2"/>
<circle cx="1130" cy="1222" r="13.2"/>
<circle cx="1133" cy="1220" r="13.2"/>
<circle cx="1084" cy="1226" r="13.2"/>
<circle cx="1090" cy="1225" r="13.2"/>
<circle cx="1098" cy="1230" r="13.2"/>
<circle cx="1111" cy="1229" r="13.2"/>
<circle cx="1119" cy="1226" r="13.2"/>
<circle cx="1125" cy="1229" r="13.2"/>
<circle cx="1130" cy="1226" r="13.2"/>
<circle cx="1105" cy="1233" r="13.2"/>
<circle cx="1111" cy="1235" r="13.2"/>
<circle cx="1116" cy="1231" r="13.2"/>
<circle cx="1130" cy="1234" r="13.2"/>
<circle cx="1119" cy="1242" r="13.2"/>
<circle cx="1120" cy="1242" r="13.2"/>
<circle cx="957" cy="967" r="13.2"/>
<circle cx="966" cy="967" r="13.2"/>
<circle cx="979" cy="971" r="13.2"/>
<circle cx="941" cy="974" r="13.2"/>
<circle cx="945" cy="976" r="13.2"/>
<circle cx="957" cy="976" r="13.2"/>
<circle cx="963" cy="975" r="13.2"/>
<circle cx="971" cy="978" r="13.2"/>
<circle cx="980" cy="977" r="13.2"/>
<circle cx="990" cy="974" r="13.2"/>
<circle cx="993" cy="974" r="13.2"/>
<circle cx="944" cy="979" r="13.2"/>
<circle cx="951" cy="980" r="13.2"/>
<circle cx="961" cy="979" r="13.2"/>
<circle cx="971" cy="981" r="13.2"/>
<circle cx="976" cy="985" r="13.2"/>
<circle cx="985" cy="983" r="13.2"/>
<circle cx="988" cy="985" r="13.2"/>
<circle cx="1000" cy="978" r="13.2"/>
<circle cx="1008" cy="986" r="13.2"/>
<circle cx="959" cy="990" r="13.2"/>
<circle cx="966" cy="991" r="13.2"/>
<circle cx="968" cy="988" r="13.2"/>
<circle cx="982" cy="988" r="13.2"/>
<circle cx="988" cy="987" r="13.2"/>
<circle cx="998" cy="991" r="13.2"/>
<circle cx="1001" cy="987" r="13.2"/>
<circle cx="1011" cy="988" r="13.2"/>
<circle cx="961" cy="992" r="13.2"/>
<circle cx="977" cy="995" r="13.2"/>
<circle cx="986" cy="999" r="13.2"/>
<circle cx="989" cy="998" r="13.2"/>
<circle cx="997" cy="999" r="13.2"/>
<circle cx="1009" cy="999" r="13.2"/>
<circle cx="1020" cy="995" r="13.2"/>
<circle cx="1021" cy="993" r="13.2"/>
<circle cx="969" cy="1003" r="13.2"/>
<circle cx="983" cy="1005" r="13.2"/>
<circle cx="987" cy="1001" r="13.2"/>
<circle cx="1000" cy="1004" r="13.2"/>
<circle cx="1004" cy="1004" r="13.2"/>
<circle cx="1008" cy="1005" r="13.2"/>
<circle cx="1020" cy="1005" r="13.2"/>
<circle cx="1025" cy="1002" r="13.2"/>
<circle cx="965" cy="1006" r="13.2"/>
<circle cx="977" cy="1011" r="13.2"/>
<circle cx="986" cy="1008" r="13.2"/>
<circle cx="991" cy="1013" r="13.2"/>
<circle cx="1002" cy="1010" r="13.2"/>
<circle cx="1004" cy="1008" r="13.2"/>
<circle cx="1012" cy="1006" r="13.2"/>
<circle cx="1023" cy="1006" r="13.2"/>
<circle cx="1032" cy="1011" r="13.2"/>
<circle cx="940" cy="1019" r="13.2"/>
<circle cx="948" cy="1018" r="13.2"/>
<circle cx="960" cy="1019" r="13.2"/>
<circle cx="967" cy="1017" r="13.2"/>
<circle cx="973" cy="1019" r="13.2"/>
<circle cx="982" cy="1014" r="13.2"/>
<circle cx="988" cy="1020" r="13.2"/>
<circle cx="998" cy="1013" r="13.2"/>
<circle cx="1005" cy="1019" r="13.2"/>
<circle cx="1011" cy="1016" r="13.2"/>
<circle cx="1017" cy="1020" r="13.2"/>
<circle cx="1030" cy="1014" r="13.2"/>
<circle cx="939" cy="1023" r="13.2"/>
<circle cx="947" cy="1020" r="13.2"/>
<circle cx="955" cy="1023" r="13.2"/>
<circle cx="961" cy="1023" r="13.2"/>
<circle cx="970" cy="1020" r="13.2"/>
<circle cx="976" cy="1024" r="13.2"/>
<circle cx="981" cy="1023" r="13.2"/>
<circle cx="994" cy="1020" r="13.2"/>
<circle cx="1003" cy="1025" r="13.2"/>
<circle cx="1004" cy="1027" r="13.2"/>
<circle cx="1013" cy="1020" r="13.2"/>
<circle cx="1027" cy="1027" r="13.2"/>
<circle cx="1032" cy="1022" r="13.2"/>
<circle cx="931" cy="1033" r="13.2"/>
<circle cx="941" cy="1032" r="13.2"/>
<circle cx="949" cy="1029" r="13.2"/>
<circle cx="960" cy="1027" r="13.2"/>
<circle cx="963" cy="1034" r="13.2"/>
<circle cx="968" cy="1032" r="13.2"/>
<circle cx="980" cy="1033" r="13.2"/>
<circle cx="992" cy="1027" r="13.2"/>
<circle cx="993" cy="1033" r="13.2"/>
<circle cx="1005" cy="1026" r="13.2"/>
<circle cx="1009" cy="1027" r="13.2"/>
<circle cx="1018" cy="1032" r="13.2"/>
<circle cx="1025" cy="1032" r="13.2"/>
<circle cx="937" cy="1041" r="13.2"/>
<circle cx="944" cy="1037" r="13.2"/>
<circle cx="949" cy="1040" r="13.2"/>
<circle cx="958" cy="1036" r="13.2"/>
<circle cx="968" cy="1034" r="13.2"/>
<circle cx="978" cy="1036" r="13.2"/>
<circle cx="987" cy="1040" r="13.2"/>
<circle cx="989" cy="1033" r="13.2"/>
<circle cx="1001" cy="1040" r="13.2"/>
<circle cx="1011" cy="1036" r="13.2"/>
<circle cx="1018" cy="1034" r="13.2"/>
<circle cx="1026" cy="1034" r="13.2"/>
<circle cx="939" cy="1048" r="13.2"/>
<circle cx="948" cy="1042" r="13.2"/>
<circle cx="955" cy="1046" r="13.2"/>
<circle cx="966" cy="1044" r="13.2"/>
<circle cx="969" cy="1044" r="13.2"/>
<circle cx="982" cy="1047" r="13.2"/>
<circle cx="985" cy="1043" r="13.2"/>
<circle cx="992" cy="1048" r="13.2"/>
<circle cx="1000" cy="1047" r="13.2"/>
<circle cx="1013" cy="1048" r="13.2"/>
<circle cx="1017" cy="1045" r="13.2"/>
<circle cx="942" cy="1048" r="13.2"/>
<circle cx="955" cy="1051" r="13.2"/>
<circle cx="960" cy="1050" r="13.2"/>
<circle cx="970" cy="1050" r="13.2"/>
<circle cx="978" cy="1053" r="13.2"/>
<circle cx="981" cy="1051" r="13.2"/>
<circle cx="995" cy="1055" r="13.2"/>
<circle cx="998" cy="1047" r="13.2"/>
<circle cx="1007" cy="1051" r="13.2"/>
<circle cx="1014" cy="1048" r="13.2"/>
<circle cx="983" cy="1061" r="13.2"/>
<circle cx="986" cy="1056" r="13.2"/>
<circle cx="993" cy="1055" r="13.2"/>
<circle cx="1001" cy="1061" r="13.2"/>
<circle cx="1013" cy="1058" r="13.2"/>
<circle cx="984" cy="1061" r="13.2"/>
<circle cx="993" cy="1063" r="13.2"/>
<circle cx="1003" cy="1064" r="13.2"/>
<circle cx="990" cy="1076" r="13.2"/>
<circle cx="993" cy="1068" r="13.2"/>
<circle cx="1002" cy="1069" r="13.2"/>
<circle cx="993" cy="1082" r="13.2"/>
<circle cx="999" cy="1079" r="13.2"/>
<circle cx="997" cy="1088" r="13.2"/>
<circle cx="1185" cy="1212" r="13.2"/>
<circle cx="1097" cy="1081" r="13.2"/>
<circle cx="1091" cy="1083" r="13.2"/>
<circle cx="1093" cy="1084" r="13.2"/>
<circle cx="1097" cy="1084" r="13.2"/>
<circle cx="1096" cy="1080" r="13.2"/>
<circle cx="1093" cy="1075" r="13.2"/>
<circle cx="1093" cy="1086" r="13.2"/>
<circle cx="1110" cy="1077" r="13.2"/>
<circle cx="1105" cy="1079" r="13.2"/>
<circle cx="1108" cy="1078" r="13.2"/>
<circle cx="1107" cy="1077" r="13.2"/>
<circle cx="1077" cy="1091" r="13.2"/>
<circle cx="1076" cy="1096" r="13.2"/>
<circle cx="1080" cy="1095" r="13.2"/>
<circle cx="1074" cy="1086" r="13.2"/>
<circle cx="1097" cy="1101" r="13.2"/>
<circle cx="1096" cy="1105" r="13.2"/>
<circle cx="1100" cy="1100" r="13.2"/>
<circle cx="1097" cy="1098" r="13.2"/>
<circle cx="1100" cy="1096" r="13.2"/>
<circle cx="1093" cy="1102" r="13.2"/>
<circle cx="1102" cy="1095" r="13.2"/>
<circle cx="1090" cy="1114" r="13.2"/>
<circle cx="1086" cy="1118" r="13.2"/>
<circle cx="1090" cy="1110" r="13.2"/>
<circle cx="1090" cy="1111" r="13.2"/>
<circle cx="857" cy="1011" r="13.2"/>
<circle cx="859" cy="1009" r="13.2"/>
<circle cx="861" cy="1008" r="13.2"/>
<circle cx="858" cy="1010" r="13.2"/>
<circle cx="973" cy="1111" r="13.2"/>
<circle cx="974" cy="1110" r="13.2"/>
<circle cx="975" cy="1109" r="13.2"/>
<circle cx="969" cy="1110" r="13.2"/>
<circle cx="947" cy="1187" r="13.2"/>
<circle cx="941" cy="1185" r="13.2"/>
<circle cx="950" cy="1190" r="13.2"/>
<circle cx="944" cy="1186" r="13.2"/>
<circle cx="946" cy="1184" r="13.2"/>
<circle cx="948" cy="1192" r="13.2"/>
<circle cx="945" cy="1193" r="13.2"/>
<circle cx="950" cy="1201" r="13.2"/>
<circle cx="953" cy="1200" r="13.2"/>
<circle cx="955" cy="1196" r="13.2"/>
<circle cx="954" cy="1197" r="13.2"/>
<circle cx="1207" cy="1001" r="13.2"/>
<circle cx="1203" cy="1000" r="13.2"/>
<circle cx="1200" cy="998" r="13.2"/>
<circle cx="1200" cy="996" r="13.2"/>
<circle cx="1211" cy="999" r="13.2"/>
<circle cx="1203" cy="1003" r="13.2"/>
<circle cx="1203" cy="995" r="13.2"/>
<circle cx="1201" cy="1006" r="13.2"/>
<circle cx="1201" cy="1006" r="13.2"/>
<circle cx="1213" cy="1021" r="13.2"/>
<circle cx="1218" cy="1025" r="13.2"/>
<circle cx="1208" cy="1016" r="13.2"/>
<circle cx="1213" cy="1024" r="13.2"/>
<circle cx="1208" cy="1015" r="13.2"/>
<circle cx="1208" cy="1016" r="13.2"/>
<circle cx="1219" cy="1024" r="13.2"/>
<circle cx="1200" cy="981" r="13.2"/>
<circle cx="1203" cy="983" r="13.2"/>
<circle cx="1198" cy="977" r="13.2"/>
<circle cx="1197" cy="979" r="13.2"/>
<circle cx="1230" cy="994" r="13.2"/>
<circle cx="1203" cy="1097" r="13.2"/>
<circle cx="1199" cy="1092" r="13.2"/>
<circle cx="1201" cy="1101" r="13.2"/>
<circle cx="1204" cy="1096" r="13.2"/>
<circle cx="1202" cy="1100" r="13.2"/>
<circle cx="1204" cy="1092" r="13.2"/>
<circle cx="1202" cy="1102" r="13.2"/>
<circle cx="1247" cy="1106" r="13.2"/>
<circle cx="1240" cy="981" r="13.2"/>
<circle cx="1342" cy="1061" r="13.2"/>
<circle cx="1362" cy="1097" r="13.2"/>
<circle cx="1297" cy="1027" r="13.2"/>
<circle cx="1143" cy="991" r="13.2"/>
<circle cx="1142" cy="991" r="13.2"/>
<circle cx="1139" cy="986" r="13.2"/>
<circle cx="1146" cy="988" r="13.2"/>
<circle cx="1160" cy="1001" r="13.2"/>
<circle cx="1073" cy="1024" r="13.2"/>
<circle cx="1087" cy="997" r="13.2"/>
<circle cx="1447" cy="967" r="13.2"/>
<circle cx="1639" cy="967" r="13.2"/>
<circle cx="1639" cy="994" r="13.2"/>
<circle cx="1643" cy="993" r="13.2"/>
<circle cx="1636" cy="995" r="13.2"/>
<circle cx="1637" cy="996" r="13.2"/>
<circle cx="1718" cy="981" r="13.2"/>
<circle cx="1715" cy="976" r="13.2"/>
<circle cx="1722" cy="976" r="13.2"/>
<circle cx="1717" cy="984" r="13.2"/>
<circle cx="1611" cy="944" r="13.2"/>
<circle cx="1614" cy="944" r="13.2"/>
<circle cx="1616" cy="949" r="13.2"/>
<circle cx="1608" cy="946" r="13.2"/>
<circle cx="505" cy="720" r="13.2"/>
<circle cx="503" cy="722" r="13.2"/>
<circle cx="511" cy="725" r="13.2"/>
<circle cx="509" cy="716" r="13.2"/>
<circle cx="511" cy="724" r="13.2"/>
<circle cx="502" cy="715" r="13.2"/>
<circle cx="511" cy="722" r="13.2"/>
<circle cx="508" cy="721" r="13.2"/>
<circle cx="502" cy="725" r="13.2"/>
<circle cx="505" cy="737" r="13.2"/>
<circle cx="510" cy="740" r="13.2"/>
<circle cx="510" cy="739" r="13.2"/>
<circle cx="512" cy="741" r="13.2"/>
<circle cx="502" cy="737" r="13.2"/>
<circle cx="506" cy="731" r="13.2"/>
<circle cx="500" cy="736" r="13.2"/>
<circle cx="500" cy="739" r="13.2"/>
<circle cx="506" cy="743" r="13.2"/>
<circle cx="503" cy="753" r="13.2"/>
<circle cx="504" cy="756" r="13.2"/>
<circle cx="507" cy="753" r="13.2"/>
<circle cx="508" cy="759" r="13.2"/>
<circle cx="506" cy="750" r="13.2"/>
<circle cx="502" cy="749" r="13.2"/>
<circle cx="500" cy="759" r="13.2"/>
<circle cx="509" cy="751" r="13.2"/>
<circle cx="499" cy="746" r="13.2"/>
<circle cx="502" cy="770" r="13.2"/>
<circle cx="505" cy="769" r="13.2"/>
<circle cx="500" cy="773" r="13.2"/>
<circle cx="503" cy="773" r="13.2"/>
<circle cx="507" cy="771" r="13.2"/>
<circle cx="501" cy="771" r="13.2"/>
<circle cx="506" cy="773" r="13.2"/>
<circle cx="480" cy="783" r="13.2"/>
<circle cx="482" cy="784" r="13.2"/>
<circle cx="484" cy="788" r="13.2"/>
<circle cx="480" cy="784" r="13.2"/>
<circle cx="479" cy="781" r="13.2"/>
<circle cx="484" cy="783" r="13.2"/>
<circle cx="485" cy="784" r="13.2"/>
<circle cx="473" cy="773" r="13.2"/>
<circle cx="469" cy="776" r="13.2"/>
<circle cx="478" cy="777" r="13.2"/>
<circle cx="468" cy="774" r="13.2"/>
<circle cx="380" cy="807" r="13.2"/>
<circle cx="386" cy="812" r="13.2"/>
<circle cx="373" cy="813" r="13.2"/>
<circle cx="379" cy="807" r="13.2"/>
<circle cx="386" cy="809" r="13.2"/>
<circle cx="386" cy="812" r="13.2"/>
<circle cx="381" cy="803" r="13.2"/>
<circle cx="383" cy="813" r="13.2"/>
<circle cx="376" cy="801" r="13.2"/>
<circle cx="375" cy="799" r="13.2"/>
<circle cx="385" cy="801" r="13.2"/>
<circle cx="393" cy="797" r="13.2"/>
<circle cx="390" cy="795" r="13.2"/>
<circle cx="387" cy="799" r="13.2"/>
<circle cx="389" cy="802" r="13.2"/>
<circle cx="395" cy="793" r="13.2"/>
<circle cx="400" cy="794" r="13.2"/>
<circle cx="399" cy="793" r="13.2"/>
<circle cx="388" cy="798" r="13.2"/>
<circle cx="399" cy="795" r="13.2"/>
<circle cx="410" cy="783" r="13.2"/>
<circle cx="405" cy="783" r="13.2"/>
<circle cx="415" cy="780" r="13.2"/>
<circle cx="415" cy="786" r="13.2"/>
<circle cx="405" cy="782" r="13.2"/>
<circle cx="406" cy="785" r="13.2"/>
<circle cx="404" cy="784" r="13.2"/>
<circle cx="387" cy="820" r="13.2"/>
<circle cx="381" cy="825" r="13.2"/>
<circle cx="391" cy="822" r="13.2"/>
<circle cx="384" cy="816" r="13.2"/>
<circle cx="388" cy="818" r="13.2"/>
<circle cx="391" cy="817" r="13.2"/>
<circle cx="385" cy="818" r="13.2"/>
<circle cx="407" cy="807" r="13.2"/>
<circle cx="410" cy="807" r="13.2"/>
<circle cx="401" cy="809" r="13.2"/>
<circle cx="406" cy="803" r="13.2"/>
<circle cx="413" cy="806" r="13.2"/>
<circle cx="409" cy="812" r="13.2"/>
<circle cx="412" cy="801" r="13.2"/>
<circle cx="513" cy="807" r="13.2"/>
<circle cx="508" cy="801" r="13.2"/>
<circle cx="515" cy="803" r="13.2"/>
<circle cx="518" cy="810" r="13.2"/>
<circle cx="515" cy="806" r="13.2"/>
<circle cx="510" cy="811" r="13.2"/>
<circle cx="512" cy="804" r="13.2"/>
<circle cx="530" cy="827" r="13.2"/>
<circle cx="532" cy="830" r="13.2"/>
<circle cx="535" cy="830" r="13.2"/>
<circle cx="535" cy="831" r="13.2"/>
<circle cx="532" cy="821" r="13.2"/>
<circle cx="534" cy="827" r="13.2"/>
<circle cx="531" cy="828" r="13.2"/>
<circle cx="1478" cy="720" r="13.2"/>
<circle cx="1474" cy="718" r="13.2"/>
<circle cx="1473" cy="715" r="13.2"/>
<circle cx="1478" cy="723" r="13.2"/>
<circle cx="1477" cy="721" r="13.2"/>
<circle cx="1481" cy="716" r="13.2"/>
<circle cx="1482" cy="725" r="13.2"/>
<circle cx="1488" cy="735" r="13.2"/>
<circle cx="1485" cy="738" r="13.2"/>
<circle cx="1488" cy="731" r="13.2"/>
<circle cx="1491" cy="735" r="13.2"/>
<circle cx="1484" cy="737" r="13.2"/>
<circle cx="1491" cy="734" r="13.2"/>
<circle cx="1487" cy="732" r="13.2"/>
<circle cx="1463" cy="740" r="13.2"/>
<circle cx="1459" cy="743" r="13.2"/>
<circle cx="1460" cy="741" r="13.2"/>
<circle cx="1460" cy="744" r="13.2"/>
<circle cx="1483" cy="762" r="13.2"/>
<circle cx="1479" cy="760" r="13.2"/>
<circle cx="1478" cy="761" r="13.2"/>
<circle cx="1482" cy="767" r="13.2"/>
<circle cx="1478" cy="767" r="13.2"/>
<circle cx="1481" cy="766" r="13.2"/>
<circle cx="1482" cy="766" r="13.2"/>
<circle cx="1140" cy="727" r="13.2"/>
<circle cx="1139" cy="732" r="13.2"/>
<circle cx="1135" cy="727" r="13.2"/>
<circle cx="1145" cy="727" r="13.2"/>
<circle cx="1138" cy="731" r="13.2"/>
<circle cx="1138" cy="724" r="13.2"/>
<circle cx="1138" cy="731" r="13.2"/>
<circle cx="1130" cy="753" r="13.2"/>
<circle cx="1128" cy="757" r="13.2"/>
<circle cx="1134" cy="754" r="13.2"/>
<circle cx="1131" cy="751" r="13.2"/>
<circle cx="1157" cy="733" r="13.2"/>
<circle cx="1157" cy="736" r="13.2"/>
<circle cx="1155" cy="732" r="13.2"/>
<circle cx="1152" cy="729" r="13.2"/>
<circle cx="1090" cy="807" r="13.2"/>
<circle cx="1096" cy="805" r="13.2"/>
<circle cx="1084" cy="801" r="13.2"/>
<circle cx="1089" cy="809" r="13.2"/>
<circle cx="1086" cy="811" r="13.2"/>
<circle cx="1087" cy="812" r="13.2"/>
<circle cx="1087" cy="806" r="13.2"/>
<circle cx="1110" cy="830" r="13.2"/>
<circle cx="1108" cy="824" r="13.2"/>
<circle cx="1106" cy="830" r="13.2"/>
<circle cx="1108" cy="826" r="13.2"/>
<circle cx="1106" cy="831" r="13.2"/>
<circle cx="1114" cy="833" r="13.2"/>
<circle cx="1115" cy="834" r="13.2"/>
<circle cx="1063" cy="840" r="13.2"/>
<circle cx="1068" cy="840" r="13.2"/>
<circle cx="1065" cy="836" r="13.2"/>
<circle cx="1064" cy="844" r="13.2"/>
<circle cx="1061" cy="844" r="13.2"/>
<circle cx="1066" cy="835" r="13.2"/>
<circle cx="1059" cy="839" r="13.2"/>
<circle cx="1083" cy="853" r="13.2"/>
<circle cx="1081" cy="850" r="13.2"/>
<circle cx="1084" cy="856" r="13.2"/>
<circle cx="1088" cy="858" r="13.2"/>
<circle cx="1130" cy="787" r="13.2"/>
<circle cx="1131" cy="791" r="13.2"/>
<circle cx="1128" cy="790" r="13.2"/>
<circle cx="1126" cy="791" r="13.2"/>
</g>
<g fill="#2ca02c">
<circle cx="313" cy="617" r="13.2"/>
<circle cx="342" cy="588" r="13.2"/>
<circle cx="305" cy="750" r="13.2"/>
<circle cx="302" cy="763" r="13.2"/>
<circle cx="282" cy="792" r="13.2"/>
<circle cx="397" cy="745" r="13.2"/>
<circle cx="383" cy="775" r="13.2"/>
<circle cx="420" cy="713" r="13.2"/>
<circle cx="470" cy="730" r="13.2"/>
<circle cx="490" cy="692" r="13.2"/>
<circle cx="492" cy="693" r="13.2"/>
<circle cx="489" cy="691" r="13.2"/>
<circle cx="487" cy="695" r="13.2"/>
<circle cx="473" cy="820" r="13.2"/>
<circle cx="337" cy="860" r="13.2"/>
<circle cx="368" cy="918" r="13.2"/>
<circle cx="450" cy="925" r="13.2"/>
<circle cx="270" cy="890" r="13.2"/>
<circle cx="500" cy="853" r="13.2"/>
<circle cx="493" cy="893" r="13.2"/>
<circle cx="533" cy="878" r="13.2"/>
<circle cx="457" cy="847" r="13.2"/>
<circle cx="440" cy="867" r="13.2"/>
<circle cx="463" cy="863" r="13.2"/>
<circle cx="527" cy="807" r="13.2"/>
<circle cx="627" cy="797" r="13.2"/>
<circle cx="626" cy="801" r="13.2"/>
<circle cx="625" cy="799" r="13.2"/>
<circle cx="621" cy="793" r="13.2"/>
<circle cx="632" cy="799" r="13.2"/>
<circle cx="629" cy="797" r="13.2"/>
<circle cx="626" cy="793" r="13.2"/>
<circle cx="637" cy="817" r="13.2"/>
<circle cx="633" cy="818" r="13.2"/>
<circle cx="639" cy="814" r="13.2"/>
<circle cx="638" cy="813" r="13.2"/>
<circle cx="687" cy="787" r="13.2"/>
<circle cx="688" cy="783" r="13.2"/>
<circle cx="687" cy="785" r="13.2"/>
<circle cx="687" cy="783" r="13.2"/>
<circle cx="663" cy="823" r="13.2"/>
<circle cx="663" cy="824" r="13.2"/>
<circle cx="660" cy="821" r="13.2"/>
<circle cx="665" cy="824" r="13.2"/>
<circle cx="703" cy="813" r="13.2"/>
<circle cx="713" cy="827" r="13.2"/>
<circle cx="715" cy="829" r="13.2"/>
<circle cx="714" cy="824" r="13.2"/>
<circle cx="713" cy="830" r="13.2"/>
<circle cx="680" cy="853" r="13.2"/>
<circle cx="681" cy="856" r="13.2"/>
<circle cx="678" cy="853" r="13.2"/>
<circle cx="686" cy="857" r="13.2"/>
<circle cx="682" cy="849" r="13.2"/>
<circle cx="681" cy="848" r="13.2"/>
<circle cx="685" cy="859" r="13.2"/>
<circle cx="700" cy="867" r="13.2"/>
<circle cx="703" cy="864" r="13.2"/>
<circle cx="704" cy="863" r="13.2"/>
<circle cx="704" cy="867" r="13.2"/>
<circle cx="694" cy="871" r="13.2"/>
<circle cx="699" cy="871" r="13.2"/>
<circle cx="702" cy="867" r="13.2"/>
<circle cx="723" cy="847" r="13.2"/>
<circle cx="727" cy="844" r="13.2"/>
<circle cx="727" cy="845" r="13.2"/>
<circle cx="719" cy="845" r="13.2"/>
<circle cx="743" cy="833" r="13.2"/>
<circle cx="673" cy="840" r="13.2"/>
<circle cx="563" cy="853" r="13.2"/>
<circle cx="559" cy="849" r="13.2"/>
<circle cx="565" cy="850" r="13.2"/>
<circle cx="560" cy="851" r="13.2"/>
<circle cx="557" cy="867" r="13.2"/>
<circle cx="554" cy="871" r="13.2"/>
<circle cx="561" cy="870" r="13.2"/>
<circle cx="562" cy="866" r="13.2"/>
<circle cx="590" cy="847" r="13.2"/>
<circle cx="592" cy="932" r="13.2"/>
<circle cx="747" cy="740" r="13.2"/>
<circle cx="750" cy="738" r="13.2"/>
<circle cx="751" cy="743" r="13.2"/>
<circle cx="749" cy="737" r="13.2"/>
<circle cx="767" cy="763" r="13.2"/>
<circle cx="803" cy="753" r="13.2"/>
<circle cx="799" cy="758" r="13.2"/>
<circle cx="804" cy="754" r="13.2"/>
<circle cx="807" cy="750" r="13.2"/>
<circle cx="813" cy="773" r="13.2"/>
<circle cx="815" cy="773" r="13.2"/>
<circle cx="816" cy="773" r="13.2"/>
<circle cx="810" cy="778" r="13.2"/>
<circle cx="797" cy="787" r="13.2"/>
<circle cx="415" cy="984" r="13.2"/>
<circle cx="418" cy="1042" r="13.2"/>
<circle cx="498" cy="1082" r="13.2"/>
<circle cx="502" cy="1009" r="13.2"/>
<circle cx="506" cy="1013" r="13.2"/>
<circle cx="499" cy="1010" r="13.2"/>
<circle cx="501" cy="1004" r="13.2"/>
<circle cx="490" cy="966" r="13.2"/>
<circle cx="489" cy="970" r="13.2"/>
<circle cx="488" cy="967" r="13.2"/>
<circle cx="492" cy="961" r="13.2"/>
<circle cx="513" cy="971" r="13.2"/>
<circle cx="518" cy="967" r="13.2"/>
<circle cx="511" cy="973" r="13.2"/>
<circle cx="509" cy="969" r="13.2"/>
<circle cx="547" cy="977" r="13.2"/>
<circle cx="543" cy="977" r="13.2"/>
<circle cx="542" cy="974" r="13.2"/>
<circle cx="544" cy="973" r="13.2"/>
<circle cx="567" cy="974" r="13.2"/>
<circle cx="563" cy="971" r="13.2"/>
<circle cx="567" cy="970" r="13.2"/>
<circle cx="570" cy="973" r="13.2"/>
<circle cx="583" cy="984" r="13.2"/>
<circle cx="581" cy="981" r="13.2"/>
<circle cx="587" cy="979" r="13.2"/>
<circle cx="586" cy="980" r="13.2"/>
<circle cx="593" cy="964" r="13.2"/>
<circle cx="620" cy="981" r="13.2"/>
<circle cx="550" cy="1021" r="13.2"/>
<circle cx="554" cy="1020" r="13.2"/>
<circle cx="551" cy="1024" r="13.2"/>
<circle cx="546" cy="1016" r="13.2"/>
<circle cx="563" cy="1034" r="13.2"/>
<circle cx="588" cy="1031" r="13.2"/>
<circle cx="590" cy="1032" r="13.2"/>
<circle cx="591" cy="1028" r="13.2"/>
<circle cx="588" cy="1028" r="13.2"/>
<circle cx="557" cy="1044" r="13.2"/>
<circle cx="780" cy="408" r="13.2"/>
<circle cx="878" cy="432" r="13.2"/>
<circle cx="877" cy="432" r="13.2"/>
<circle cx="877" cy="433" r="13.2"/>
<circle cx="876" cy="431" r="13.2"/>
<circle cx="936" cy="458" r="13.2"/>
<circle cx="952" cy="479" r="13.2"/>
<circle cx="772" cy="505" r="13.2"/>
<circle cx="798" cy="521" r="13.2"/>
<circle cx="797" cy="520" r="13.2"/>
<circle cx="802" cy="517" r="13.2"/>
<circle cx="793" cy="523" r="13.2"/>
<circle cx="785" cy="515" r="13.2"/>
<circle cx="645" cy="525" r="13.2"/>
<circle cx="810" cy="565" r="13.2"/>
<circle cx="809" cy="564" r="13.2"/>
<circle cx="811" cy="564" r="13.2"/>
<circle cx="807" cy="560" r="13.2"/>
<circle cx="790" cy="580" r="13.2"/>
<circle cx="800" cy="600" r="13.2"/>
<circle cx="885" cy="552" r="13.2"/>
<circle cx="845" cy="592" r="13.2"/>
<circle cx="860" cy="600" r="13.2"/>
<circle cx="864" cy="604" r="13.2"/>
<circle cx="858" cy="600" r="13.2"/>
<circle cx="858" cy="596" r="13.2"/>
<circle cx="675" cy="620" r="13.2"/>
<circle cx="680" cy="624" r="13.2"/>
<circle cx="672" cy="617" r="13.2"/>
<circle cx="677" cy="624" r="13.2"/>
<circle cx="675" cy="619" r="13.2"/>
<circle cx="672" cy="624" r="13.2"/>
<circle cx="679" cy="624" r="13.2"/>
<circle cx="678" cy="635" r="13.2"/>
<circle cx="674" cy="636" r="13.2"/>
<circle cx="682" cy="637" r="13.2"/>
<circle cx="677" cy="631" r="13.2"/>
<circle cx="735" cy="628" r="13.2"/>
<circle cx="730" cy="630" r="13.2"/>
<circle cx="730" cy="631" r="13.2"/>
<circle cx="737" cy="627" r="13.2"/>
<circle cx="740" cy="633" r="13.2"/>
<circle cx="736" cy="623" r="13.2"/>
<circle cx="736" cy="627" r="13.2"/>
<circle cx="740" cy="640" r="13.2"/>
<circle cx="737" cy="644" r="13.2"/>
<circle cx="742" cy="636" r="13.2"/>
<circle cx="737" cy="638" r="13.2"/>
<circle cx="765" cy="650" r="13.2"/>
<circle cx="766" cy="648" r="13.2"/>
<circle cx="764" cy="654" r="13.2"/>
<circle cx="761" cy="653" r="13.2"/>
<circle cx="763" cy="655" r="13.2"/>
<circle cx="770" cy="648" r="13.2"/>
<circle cx="766" cy="645" r="13.2"/>
<circle cx="772" cy="662" r="13.2"/>
<circle cx="771" cy="664" r="13.2"/>
<circle cx="774" cy="661" r="13.2"/>
<circle cx="767" cy="658" r="13.2"/>
<circle cx="773" cy="659" r="13.2"/>
<circle cx="770" cy="664" r="13.2"/>
<circle cx="777" cy="663" r="13.2"/>
<circle cx="788" cy="630" r="13.2"/>
<circle cx="785" cy="631" r="13.2"/>
<circle cx="785" cy="633" r="13.2"/>
<circle cx="784" cy="628" r="13.2"/>
<circle cx="695" cy="658" r="13.2"/>
<circle cx="694" cy="662" r="13.2"/>
<circle cx="691" cy="654" r="13.2"/>
<circle cx="691" cy="654" r="13.2"/>
<circle cx="693" cy="656" r="13.2"/>
<circle cx="698" cy="656" r="13.2"/>
<circle cx="695" cy="656" r="13.2"/>
<circle cx="710" cy="672" r="13.2"/>
<circle cx="713" cy="677" r="13.2"/>
<circle cx="709" cy="678" r="13.2"/>
<circle cx="707" cy="678" r="13.2"/>
<circle cx="710" cy="675" r="13.2"/>
<circle cx="709" cy="670" r="13.2"/>
<circle cx="706" cy="677" r="13.2"/>
<circle cx="720" cy="680" r="13.2"/>
<circle cx="719" cy="682" r="13.2"/>
<circle cx="720" cy="680" r="13.2"/>
<circle cx="717" cy="677" r="13.2"/>
<circle cx="780" cy="672" r="13.2"/>
<circle cx="692" cy="710" r="13.2"/>
<circle cx="750" cy="645" r="13.2"/>
<circle cx="748" cy="647" r="13.2"/>
<circle cx="751" cy="639" r="13.2"/>
<circle cx="753" cy="644" r="13.2"/>
<circle cx="745" cy="642" r="13.2"/>
<circle cx="747" cy="649" r="13.2"/>
<circle cx="751" cy="643" r="13.2"/>
<circle cx="830" cy="642" r="13.2"/>
<circle cx="850" cy="658" r="13.2"/>
<circle cx="847" cy="655" r="13.2"/>
<circle cx="848" cy="656" r="13.2"/>
<circle cx="853" cy="660" r="13.2"/>
<circle cx="958" cy="638" r="13.2"/>
<circle cx="959" cy="641" r="13.2"/>
<circle cx="959" cy="634" r="13.2"/>
<circle cx="953" cy="634" r="13.2"/>
<circle cx="894" cy="690" r="13.2"/>
<circle cx="945" cy="702" r="13.2"/>
<circle cx="855" cy="692" r="13.2"/>
<circle cx="792" cy="710" r="13.2"/>
<circle cx="790" cy="710" r="13.2"/>
<circle cx="796" cy="711" r="13.2"/>
<circle cx="792" cy="707" r="13.2"/>
<circle cx="798" cy="713" r="13.2"/>
<circle cx="791" cy="705" r="13.2"/>
<circle cx="798" cy="707" r="13.2"/>
<circle cx="818" cy="710" r="13.2"/>
<circle cx="822" cy="705" r="13.2"/>
<circle cx="819" cy="708" r="13.2"/>
<circle cx="822" cy="708" r="13.2"/>
<circle cx="813" cy="706" r="13.2"/>
<circle cx="821" cy="716" r="13.2"/>
<circle cx="819" cy="712" r="13.2"/>
<circle cx="825" cy="725" r="13.2"/>
<circle cx="822" cy="722" r="13.2"/>
<circle cx="820" cy="731" r="13.2"/>
<circle cx="820" cy="726" r="13.2"/>
<circle cx="823" cy="721" r="13.2"/>
<circle cx="824" cy="730" r="13.2"/>
<circle cx="822" cy="721" r="13.2"/>
<circle cx="758" cy="725" r="13.2"/>
<circle cx="955" cy="728" r="13.2"/>
<circle cx="956" cy="729" r="13.2"/>
<circle cx="955" cy="724" r="13.2"/>
<circle cx="959" cy="724" r="13.2"/>
<circle cx="885" cy="722" r="13.2"/>
<circle cx="1022" cy="438" r="13.2"/>
<circle cx="1019" cy="435" r="13.2"/>
<circle cx="1023" cy="437" r="13.2"/>
<circle cx="1023" cy="440" r="13.2"/>
<circle cx="1030" cy="455" r="13.2"/>
<circle cx="1034" cy="455" r="13.2"/>
<circle cx="1025" cy="458" r="13.2"/>
<circle cx="1025" cy="453" r="13.2"/>
<circle cx="1062" cy="458" r="13.2"/>
<circle cx="1059" cy="459" r="13.2"/>
<circle cx="1065" cy="454" r="13.2"/>
<circle cx="1060" cy="461" r="13.2"/>
<circle cx="1050" cy="500" r="13.2"/>
<circle cx="1052" cy="496" r="13.2"/>
<circle cx="1052" cy="503" r="13.2"/>
<circle cx="1049" cy="497" r="13.2"/>
<circle cx="1010" cy="440" r="13.2"/>
<circle cx="827" cy="98" r="13.2"/>
<circle cx="718" cy="235" r="13.2"/>
<circle cx="722" cy="236" r="13.2"/>
<circle cx="718" cy="230" r="13.2"/>
<circle cx="721" cy="234" r="13.2"/>
<circle cx="748" cy="233" r="13.2"/>
<circle cx="720" cy="256" r="13.2"/>
<circle cx="717" cy="255" r="13.2"/>
<circle cx="716" cy="260" r="13.2"/>
<circle cx="724" cy="262" r="13.2"/>
<circle cx="722" cy="252" r="13.2"/>
<circle cx="719" cy="262" r="13.2"/>
<circle cx="714" cy="254" r="13.2"/>
<circle cx="710" cy="290" r="13.2"/>
<circle cx="706" cy="286" r="13.2"/>
<circle cx="708" cy="291" r="13.2"/>
<circle cx="706" cy="293" r="13.2"/>
<circle cx="807" cy="238" r="13.2"/>
<circle cx="863" cy="286" r="13.2"/>
<circle cx="717" cy="330" r="13.2"/>
<circle cx="560" cy="518" r="13.2"/>
<circle cx="438" cy="380" r="13.2"/>
<circle cx="1229" cy="350" r="13.2"/>
<circle cx="1235" cy="346" r="13.2"/>
<circle cx="1233" cy="359" r="13.2"/>
<circle cx="1219" cy="361" r="13.2"/>
<circle cx="1223" cy="362" r="13.2"/>
<circle cx="1201" cy="371" r="13.2"/>
<circle cx="1207" cy="370" r="13.2"/>
<circle cx="1218" cy="368" r="13.2"/>
<circle cx="1220" cy="367" r="13.2"/>
<circle cx="1228" cy="366" r="13.2"/>
<circle cx="1189" cy="381" r="13.2"/>
<circle cx="1194" cy="376" r="13.2"/>
<circle cx="1205" cy="376" r="13.2"/>
<circle cx="1208" cy="376" r="13.2"/>
<circle cx="1217" cy="375" r="13.2"/>
<circle cx="1229" cy="375" r="13.2"/>
<circle cx="1236" cy="375" r="13.2"/>
<circle cx="1239" cy="379" r="13.2"/>
<circle cx="1183" cy="386" r="13.2"/>
<circle cx="1193" cy="384" r="13.2"/>
<circle cx="1200" cy="381" r="13.2"/>
<circle cx="1203" cy="386" r="13.2"/>
<circle cx="1211" cy="382" r="13.2"/>
<circle cx="1222" cy="385" r="13.2"/>
<circle cx="1232" cy="386" r="13.2"/>
<circle cx="1242" cy="382" r="13.2"/>
<circle cx="1244" cy="380" r="13.2"/>
<circle cx="1190" cy="388" r="13.2"/>
<circle cx="1197" cy="388" r="13.2"/>
<circle cx="1201" cy="388" r="13.2"/>
<circle cx="1211" cy="389" r="13.2"/>
<circle cx="1219" cy="392" r="13.2"/>
<circle cx="1224" cy="387" r="13.2"/>
<circle cx="1235" cy="390" r="13.2"/>
<circle cx="1242" cy="389" r="13.2"/>
<circle cx="1191" cy="395" r="13.2"/>
<circle cx="1202" cy="398" r="13.2"/>
<circle cx="1206" cy="395" r="13.2"/>
<circle cx="1214" cy="401" r="13.2"/>
<circle cx="1222" cy="400" r="13.2"/>
<circle cx="1227" cy="398" r="13.2"/>
<circle cx="1237" cy="395" r="13.2"/>
<circle cx="1245" cy="397" r="13.2"/>
<circle cx="1204" cy="406" r="13.2"/>
<circle cx="1211" cy="406" r="13.2"/>
<circle cx="1222" cy="406" r="13.2"/>
<circle cx="1230" cy="403" r="13.2"/>
<circle cx="1233" cy="407" r="13.2"/>
<circle cx="1198" cy="411" r="13.2"/>
<circle cx="1203" cy="410" r="13.2"/>
<circle cx="1215" cy="408" r="13.2"/>
<circle cx="1222" cy="414" r="13.2"/>
<circle cx="1204" cy="421" r="13.2"/>
<circle cx="1207" cy="421" r="13.2"/>
<circle cx="1217" cy="417" r="13.2"/>
<circle cx="1214" cy="421" r="13.2"/>
<circle cx="1368" cy="355" r="13.2"/>
<circle cx="1382" cy="350" r="13.2"/>
<circle cx="1386" cy="354" r="13.2"/>
<circle cx="1368" cy="358" r="13.2"/>
<circle cx="1374" cy="361" r="13.2"/>
<circle cx="1385" cy="362" r="13.2"/>
<circle cx="1389" cy="360" r="13.2"/>
<circle cx="1363" cy="366" r="13.2"/>
<circle cx="1369" cy="363" r="13.2"/>
<circle cx="1377" cy="363" r="13.2"/>
<circle cx="1389" cy="364" r="13.2"/>
<circle cx="1359" cy="369" r="13.2"/>
<circle cx="1365" cy="369" r="13.2"/>
<circle cx="1372" cy="373" r="13.2"/>
<circle cx="1382" cy="370" r="13.2"/>
<circle cx="1351" cy="378" r="13.2"/>
<circle cx="1363" cy="380" r="13.2"/>
<circle cx="1368" cy="381" r="13.2"/>
<circle cx="1381" cy="379" r="13.2"/>
<circle cx="1385" cy="381" r="13.2"/>
<circle cx="1362" cy="388" r="13.2"/>
<circle cx="1365" cy="389" r="13.2"/>
<circle cx="1371" cy="382" r="13.2"/>
<circle cx="1379" cy="385" r="13.2"/>
<circle cx="1388" cy="389" r="13.2"/>
<circle cx="1398" cy="389" r="13.2"/>
<circle cx="1357" cy="390" r="13.2"/>
<circle cx="1359" cy="391" r="13.2"/>
<circle cx="1367" cy="395" r="13.2"/>
<circle cx="1380" cy="397" r="13.2"/>
<circle cx="1382" cy="395" r="13.2"/>
<circle cx="1396" cy="390" r="13.2"/>
<circle cx="1399" cy="397" r="13.2"/>
<circle cx="1412" cy="389" r="13.2"/>
<circle cx="1350" cy="400" r="13.2"/>
<circle cx="1361" cy="396" r="13.2"/>
<circle cx="1365" cy="396" r="13.2"/>
<circle cx="1374" cy="397" r="13.2"/>
<circle cx="1381" cy="404" r="13.2"/>
<circle cx="1391" cy="401" r="13.2"/>
<circle cx="1399" cy="397" r="13.2"/>
<circle cx="1354" cy="404" r="13.2"/>
<circle cx="1362" cy="411" r="13.2"/>
<circle cx="1366" cy="406" r="13.2"/>
<circle cx="1376" cy="404" r="13.2"/>
<circle cx="1387" cy="410" r="13.2"/>
<circle cx="1394" cy="407" r="13.2"/>
<circle cx="1355" cy="413" r="13.2"/>
<circle cx="1365" cy="415" r="13.2"/>
<circle cx="1378" cy="413" r="13.2"/>
<circle cx="1383" cy="413" r="13.2"/>
<circle cx="1389" cy="412" r="13.2"/>
<circle cx="1394" cy="412" r="13.2"/>
<circle cx="1381" cy="419" r="13.2"/>
<circle cx="1386" cy="418" r="13.2"/>
<circle cx="1398" cy="418" r="13.2"/>
<circle cx="1393" cy="429" r="13.2"/>
<circle cx="1401" cy="429" r="13.2"/>
<circle cx="1389" cy="435" r="13.2"/>
<circle cx="1397" cy="433" r="13.2"/>
<circle cx="1402" cy="432" r="13.2"/>
<circle cx="1375" cy="443" r="13.2"/>
<circle cx="1383" cy="444" r="13.2"/>
<circle cx="1393" cy="440" r="13.2"/>
<circle cx="1401" cy="440" r="13.2"/>
<circle cx="1407" cy="439" r="13.2"/>
<circle cx="1374" cy="445" r="13.2"/>
<circle cx="1379" cy="449" r="13.2"/>
<circle cx="1383" cy="452" r="13.2"/>
<circle cx="1395" cy="449" r="13.2"/>
<circle cx="1400" cy="446" r="13.2"/>
<circle cx="1409" cy="445" r="13.2"/>
<circle cx="1416" cy="448" r="13.2"/>
<circle cx="1373" cy="458" r="13.2"/>
<circle cx="1380" cy="454" r="13.2"/>
<circle cx="1392" cy="453" r="13.2"/>
<circle cx="1394" cy="459" r="13.2"/>
<circle cx="1409" cy="454" r="13.2"/>
<circle cx="1412" cy="455" r="13.2"/>
<circle cx="1374" cy="465" r="13.2"/>
<circle cx="1377" cy="464" r="13.2"/>
<circle cx="1384" cy="459" r="13.2"/>
<circle cx="1394" cy="459" r="13.2"/>
<circle cx="1402" cy="465" r="13.2"/>
<circle cx="1411" cy="460" r="13.2"/>
<circle cx="1416" cy="463" r="13.2"/>
<circle cx="1386" cy="469" r="13.2"/>
<circle cx="1389" cy="465" r="13.2"/>
<circle cx="1398" cy="468" r="13.2"/>
<circle cx="1403" cy="469" r="13.2"/>
<circle cx="1415" cy="468" r="13.2"/>
<circle cx="1154" cy="396" r="13.2"/>
<circle cx="1254" cy="436" r="13.2"/>
<circle cx="1252" cy="437" r="13.2"/>
<circle cx="1255" cy="433" r="13.2"/>
<circle cx="1258" cy="439" r="13.2"/>
<circle cx="1498" cy="275" r="13.2"/>
<circle cx="1498" cy="461" r="13.2"/>
<circle cx="1520" cy="560" r="13.2"/>
<circle cx="1433" cy="570" r="13.2"/>
<circle cx="1436" cy="565" r="13.2"/>
<circle cx="1430" cy="573" r="13.2"/>
<circle cx="1437" cy="571" r="13.2"/>
<circle cx="1438" cy="569" r="13.2"/>
<circle cx="1430" cy="570" r="13.2"/>
<circle cx="1431" cy="569" r="13.2"/>
<circle cx="1458" cy="572" r="13.2"/>
<circle cx="1461" cy="571" r="13.2"/>
<circle cx="1460" cy="573" r="13.2"/>
<circle cx="1453" cy="573" r="13.2"/>
<circle cx="1240" cy="585" r="13.2"/>
<circle cx="1244" cy="586" r="13.2"/>
<circle cx="1244" cy="586" r="13.2"/>
<circle cx="1245" cy="580" r="13.2"/>
<circle cx="1533" cy="508" r="13.2"/>
<circle cx="1397" cy="282" r="13.2"/>
<circle cx="1486" cy="230" r="13.2"/>
<circle cx="1485" cy="232" r="13.2"/>
<circle cx="1481" cy="232" r="13.2"/>
<circle cx="1485" cy="235" r="13.2"/>
<circle cx="1584" cy="458" r="13.2"/>
<circle cx="1561" cy="533" r="13.2"/>
<circle cx="1431" cy="570" r="13.2"/>
<circle cx="1435" cy="566" r="13.2"/>
<circle cx="1434" cy="565" r="13.2"/>
<circle cx="1429" cy="567" r="13.2"/>
<circle cx="1427" cy="572" r="13.2"/>
<circle cx="1437" cy="570" r="13.2"/>
<circle cx="1436" cy="567" r="13.2"/>
<circle cx="1451" cy="563" r="13.2"/>
<circle cx="1447" cy="561" r="13.2"/>
<circle cx="1454" cy="562" r="13.2"/>
<circle cx="1449" cy="567" r="13.2"/>
<circle cx="1458" cy="583" r="13.2"/>
<circle cx="1459" cy="582" r="13.2"/>
<circle cx="1462" cy="579" r="13.2"/>
<circle cx="1454" cy="585" r="13.2"/>
<circle cx="1458" cy="586" r="13.2"/>
<circle cx="1461" cy="586" r="13.2"/>
<circle cx="1454" cy="586" r="13.2"/>
<circle cx="1448" cy="600" r="13.2"/>
<circle cx="1445" cy="596" r="13.2"/>
<circle cx="1446" cy="599" r="13.2"/>
<circle cx="1448" cy="596" r="13.2"/>
<circle cx="1424" cy="617" r="13.2"/>
<circle cx="1498" cy="617" r="13.2"/>
<circle cx="1499" cy="615" r="13.2"/>
<circle cx="1504" cy="616" r="13.2"/>
<circle cx="1502" cy="620" r="13.2"/>
<circle cx="1499" cy="619" r="13.2"/>
<circle cx="1493" cy="622" r="13.2"/>
<circle cx="1503" cy="622" r="13.2"/>
<circle cx="1488" cy="607" r="13.2"/>
<circle cx="1483" cy="604" r="13.2"/>
<circle cx="1486" cy="603" r="13.2"/>
<circle cx="1485" cy="603" r="13.2"/>
<circle cx="1474" cy="640" r="13.2"/>
<circle cx="1475" cy="644" r="13.2"/>
<circle cx="1473" cy="643" r="13.2"/>
<circle cx="1478" cy="641" r="13.2"/>
<circle cx="1478" cy="660" r="13.2"/>
<circle cx="1551" cy="627" r="13.2"/>
<circle cx="1555" cy="624" r="13.2"/>
<circle cx="1552" cy="628" r="13.2"/>
<circle cx="1545" cy="633" r="13.2"/>
<circle cx="1548" cy="627" r="13.2"/>
<circle cx="1554" cy="626" r="13.2"/>
<circle cx="1547" cy="633" r="13.2"/>
<circle cx="1568" cy="607" r="13.2"/>
<circle cx="1572" cy="607" r="13.2"/>
<circle cx="1566" cy="601" r="13.2"/>
<circle cx="1565" cy="612" r="13.2"/>
<circle cx="1571" cy="602" r="13.2"/>
<circle cx="1569" cy="602" r="13.2"/>
<circle cx="1568" cy="612" r="13.2"/>
<circle cx="1581" cy="620" r="13.2"/>
<circle cx="1576" cy="620" r="13.2"/>
<circle cx="1586" cy="616" r="13.2"/>
<circle cx="1580" cy="623" r="13.2"/>
<circle cx="1561" cy="600" r="13.2"/>
<circle cx="1564" cy="600" r="13.2"/>
<circle cx="1562" cy="600" r="13.2"/>
<circle cx="1563" cy="605" r="13.2"/>
<circle cx="1594" cy="653" r="13.2"/>
<circle cx="1596" cy="650" r="13.2"/>
<circle cx="1591" cy="653" r="13.2"/>
<circle cx="1596" cy="657" r="13.2"/>
<circle cx="1592" cy="650" r="13.2"/>
<circle cx="1589" cy="656" r="13.2"/>
<circle cx="1589" cy="647" r="13.2"/>
<circle cx="1614" cy="667" r="13.2"/>
<circle cx="1614" cy="670" r="13.2"/>
<circle cx="1619" cy="664" r="13.2"/>
<circle cx="1613" cy="663" r="13.2"/>
<circle cx="1638" cy="653" r="13.2"/>
<circle cx="1634" cy="650" r="13.2"/>
<circle cx="1641" cy="655" r="13.2"/>
<circle cx="1640" cy="656" r="13.2"/>
<circle cx="1644" cy="617" r="13.2"/>
<circle cx="1641" cy="622" r="13.2"/>
<circle cx="1645" cy="614" r="13.2"/>
<circle cx="1648" cy="614" r="13.2"/>
<circle cx="1639" cy="620" r="13.2"/>
<circle cx="1640" cy="623" r="13.2"/>
<circle cx="1648" cy="615" r="13.2"/>
<circle cx="1664" cy="632" r="13.2"/>
<circle cx="1669" cy="633" r="13.2"/>
<circle cx="1665" cy="630" r="13.2"/>
<circle cx="1668" cy="633" r="13.2"/>
<circle cx="1634" cy="637" r="13.2"/>
<circle cx="1511" cy="670" r="13.2"/>
<circle cx="1546" cy="702" r="13.2"/>
<circle cx="1536" cy="733" r="13.2"/>
<circle cx="1534" cy="731" r="13.2"/>
<circle cx="1534" cy="732" r="13.2"/>
<circle cx="1540" cy="734" r="13.2"/>
<circle cx="1621" cy="717" r="13.2"/>
<circle cx="1686" cy="718" r="13.2"/>
<circle cx="1744" cy="710" r="13.2"/>
<circle cx="1746" cy="712" r="13.2"/>
<circle cx="1740" cy="711" r="13.2"/>
<circle cx="1747" cy="706" r="13.2"/>
<circle cx="1603" cy="760" r="13.2"/>
<circle cx="1631" cy="768" r="13.2"/>
<circle cx="1608" cy="815" r="13.2"/>
<circle cx="1748" cy="823" r="13.2"/>
<circle cx="1752" cy="823" r="13.2"/>
<circle cx="1743" cy="828" r="13.2"/>
<circle cx="1747" cy="827" r="13.2"/>
<circle cx="1694" cy="848" r="13.2"/>
<circle cx="1699" cy="844" r="13.2"/>
<circle cx="1692" cy="848" r="13.2"/>
<circle cx="1692" cy="850" r="13.2"/>
<circle cx="1698" cy="867" r="13.2"/>
<circle cx="1696" cy="866" r="13.2"/>
<circle cx="1697" cy="869" r="13.2"/>
<circle cx="1698" cy="866" r="13.2"/>
<circle cx="1686" cy="923" r="13.2"/>
<circle cx="1686" cy="953" r="13.2"/>
<circle cx="1761" cy="917" r="13.2"/>
<circle cx="1634" cy="908" r="13.2"/>
<circle cx="1614" cy="913" r="13.2"/>
<circle cx="1588" cy="925" r="13.2"/>
<circle cx="1592" cy="924" r="13.2"/>
<circle cx="1594" cy="921" r="13.2"/>
<circle cx="1583" cy="927" r="13.2"/>
<circle cx="1592" cy="920" r="13.2"/>
<circle cx="1586" cy="928" r="13.2"/>
<circle cx="1590" cy="926" r="13.2"/>
<circle cx="1498" cy="887" r="13.2"/>
<circle cx="1841" cy="697" r="13.2"/>
<circle cx="1844" cy="702" r="13.2"/>
<circle cx="1842" cy="695" r="13.2"/>
<circle cx="1837" cy="694" r="13.2"/>
<circle cx="1845" cy="702" r="13.2"/>
<circle cx="1839" cy="693" r="13.2"/>
<circle cx="1848" cy="690" r="13.2"/>
<circle cx="1839" cy="695" r="13.2"/>
<circle cx="1844" cy="690" r="13.2"/>
<circle cx="1834" cy="717" r="13.2"/>
<circle cx="1837" cy="711" r="13.2"/>
<circle cx="1831" cy="716" r="13.2"/>
<circle cx="1838" cy="713" r="13.2"/>
<circle cx="1836" cy="711" r="13.2"/>
<circle cx="1830" cy="714" r="13.2"/>
<circle cx="1829" cy="720" r="13.2"/>
<circle cx="1848" cy="710" r="13.2"/>
<circle cx="1848" cy="713" r="13.2"/>
<circle cx="1847" cy="711" r="13.2"/>
<circle cx="1843" cy="714" r="13.2"/>
<circle cx="1834" cy="737" r="13.2"/>
<circle cx="1361" cy="867" r="13.2"/>
<circle cx="1359" cy="868" r="13.2"/>
<circle cx="1364" cy="866" r="13.2"/>
<circle cx="1359" cy="869" r="13.2"/>
<circle cx="1378" cy="897" r="13.2"/>
<circle cx="1381" cy="902" r="13.2"/>
<circle cx="1377" cy="895" r="13.2"/>
<circle cx="1378" cy="898" r="13.2"/>
<circle cx="1380" cy="901" r="13.2"/>
<circle cx="1379" cy="894" r="13.2"/>
<circle cx="1381" cy="900" r="13.2"/>
<circle cx="1401" cy="893" r="13.2"/>
<circle cx="1381" cy="930" r="13.2"/>
<circle cx="1383" cy="913" r="13.2"/>
<circle cx="1448" cy="967" r="13.2"/>
<circle cx="1361" cy="970" r="13.2"/>
<circle cx="1314" cy="977" r="13.2"/>
<circle cx="1110" cy="680" r="13.2"/>
<circle cx="957" cy="732" r="13.2"/>
<circle cx="957" cy="731" r="13.2"/>
<circle cx="951" cy="728" r="13.2"/>
<circle cx="960" cy="737" r="13.2"/>
<circle cx="953" cy="731" r="13.2"/>
<circle cx="956" cy="730" r="13.2"/>
<circle cx="957" cy="726" r="13.2"/>
<circle cx="970" cy="733" r="13.2"/>
<circle cx="975" cy="738" r="13.2"/>
<circle cx="971" cy="735" r="13.2"/>
<circle cx="970" cy="730" r="13.2"/>
<circle cx="1240" cy="587" r="13.2"/>
<circle cx="1244" cy="583" r="13.2"/>
<circle cx="1235" cy="591" r="13.2"/>
<circle cx="1243" cy="582" r="13.2"/>
<circle cx="1260" cy="590" r="13.2"/>
<circle cx="1280" cy="607" r="13.2"/>
<circle cx="1283" cy="605" r="13.2"/>
<circle cx="1282" cy="603" r="13.2"/>
<circle cx="1284" cy="606" r="13.2"/>
<circle cx="1293" cy="637" r="13.2"/>
<circle cx="1294" cy="637" r="13.2"/>
<circle cx="1289" cy="637" r="13.2"/>
<circle cx="1294" cy="633" r="13.2"/>
<circle cx="1240" cy="630" r="13.2"/>
<circle cx="1230" cy="670" r="13.2"/>
<circle cx="1231" cy="670" r="13.2"/>
<circle cx="1233" cy="667" r="13.2"/>
<circle cx="1231" cy="669" r="13.2"/>
<circle cx="1263" cy="663" r="13.2"/>
<circle cx="1261" cy="660" r="13.2"/>
<circle cx="1263" cy="660" r="13.2"/>
<circle cx="1260" cy="666" r="13.2"/>
<circle cx="1297" cy="667" r="13.2"/>
<circle cx="1299" cy="671" r="13.2"/>
<circle cx="1300" cy="666" r="13.2"/>
<circle cx="1292" cy="662" r="13.2"/>
<circle cx="1327" cy="667" r="13.2"/>
<circle cx="1329" cy="672" r="13.2"/>
<circle cx="1331" cy="665" r="13.2"/>
<circle cx="1331" cy="670" r="13.2"/>
<circle cx="1328" cy="671" r="13.2"/>
<circle cx="1323" cy="669" r="13.2"/>
<circle cx="1330" cy="667" r="13.2"/>
<circle cx="1333" cy="687" r="13.2"/>
<circle cx="1336" cy="689" r="13.2"/>
<circle cx="1331" cy="688" r="13.2"/>
<circle cx="1336" cy="688" r="13.2"/>
<circle cx="1260" cy="700" r="13.2"/>
<circle cx="1257" cy="695" r="13.2"/>
<circle cx="1259" cy="703" r="13.2"/>
<circle cx="1263" cy="705" r="13.2"/>
<circle cx="1264" cy="700" r="13.2"/>
<circle cx="1258" cy="700" r="13.2"/>
<circle cx="1265" cy="698" r="13.2"/>
<circle cx="1277" cy="700" r="13.2"/>
<circle cx="1274" cy="704" r="13.2"/>
<circle cx="1281" cy="702" r="13.2"/>
<circle cx="1281" cy="703" r="13.2"/>
<circle cx="1313" cy="713" r="13.2"/>
<circle cx="1315" cy="715" r="13.2"/>
<circle cx="1314" cy="718" r="13.2"/>
<circle cx="1311" cy="717" r="13.2"/>
<circle cx="1316" cy="712" r="13.2"/>
<circle cx="1308" cy="708" r="13.2"/>
<circle cx="1318" cy="716" r="13.2"/>
<circle cx="1330" cy="737" r="13.2"/>
<circle cx="1333" cy="760" r="13.2"/>
<circle cx="1337" cy="760" r="13.2"/>
<circle cx="1332" cy="759" r="13.2"/>
<circle cx="1332" cy="757" r="13.2"/>
<circle cx="1240" cy="740" r="13.2"/>
<circle cx="1197" cy="820" r="13.2"/>
<circle cx="1247" cy="803" r="13.2"/>
<circle cx="1277" cy="793" r="13.2"/>
<circle cx="1297" cy="773" r="13.2"/>
<circle cx="1295" cy="772" r="13.2"/>
<circle cx="1293" cy="770" r="13.2"/>
<circle cx="1301" cy="777" r="13.2"/>
<circle cx="1310" cy="777" r="13.2"/>
<circle cx="1330" cy="820" r="13.2"/>
<circle cx="1325" cy="818" r="13.2"/>
<circle cx="1330" cy="819" r="13.2"/>
<circle cx="1333" cy="820" r="13.2"/>
<circle cx="1320" cy="817" r="13.2"/>
<circle cx="1110" cy="770" r="13.2"/>
<circle cx="1087" cy="815" r="13.2"/>
<circle cx="1193" cy="850" r="13.2"/>
<circle cx="1191" cy="851" r="13.2"/>
<circle cx="1195" cy="851" r="13.2"/>
<circle cx="1189" cy="855" r="13.2"/>
<circle cx="1190" cy="897" r="13.2"/>
<circle cx="1189" cy="894" r="13.2"/>
<circle cx="1189" cy="893" r="13.2"/>
<circle cx="1187" cy="901" r="13.2"/>
<circle cx="1223" cy="893" r="13.2"/>
<circle cx="1150" cy="930" r="13.2"/>
<circle cx="1147" cy="934" r="13.2"/>
<circle cx="1153" cy="927" r="13.2"/>
<circle cx="1154" cy="926" r="13.2"/>
<circle cx="1277" cy="920" r="13.2"/>
<circle cx="1276" cy="926" r="13.2"/>
<circle cx="1274" cy="924" r="13.2"/>
<circle cx="1277" cy="922" r="13.2"/>
<circle cx="1282" cy="924" r="13.2"/>
<circle cx="1274" cy="922" r="13.2"/>
<circle cx="1275" cy="921" r="13.2"/>
<circle cx="1280" cy="937" r="13.2"/>
<circle cx="1283" cy="934" r="13.2"/>
<circle cx="1277" cy="933" r="13.2"/>
<circle cx="1276" cy="942" r="13.2"/>
<circle cx="1313" cy="917" r="13.2"/>
<circle cx="1313" cy="973" r="13.2"/>
<circle cx="1360" cy="970" r="13.2"/>
<circle cx="1363" cy="867" r="13.2"/>
<circle cx="1367" cy="863" r="13.2"/>
<circle cx="1359" cy="863" r="13.2"/>
<circle cx="1365" cy="869" r="13.2"/>
<circle cx="1380" cy="880" r="13.2"/>
<circle cx="1380" cy="878" r="13.2"/>
<circle cx="1378" cy="877" r="13.2"/>
<circle cx="1380" cy="875" r="13.2"/>
<circle cx="1377" cy="900" r="13.2"/>
<circle cx="1381" cy="903" r="13.2"/>
<circle cx="1375" cy="905" r="13.2"/>
<circle cx="1381" cy="901" r="13.2"/>
<circle cx="1371" cy="901" r="13.2"/>
<circle cx="1374" cy="904" r="13.2"/>
<circle cx="1378" cy="903" r="13.2"/>
<circle cx="1403" cy="893" r="13.2"/>
<circle cx="1380" cy="930" r="13.2"/>
<circle cx="870" cy="907" r="13.2"/>
<circle cx="867" cy="904" r="13.2"/>
<circle cx="867" cy="905" r="13.2"/>
<circle cx="870" cy="906" r="13.2"/>
<circle cx="910" cy="860" r="13.2"/>
<circle cx="920" cy="877" r="13.2"/>
<circle cx="925" cy="878" r="13.2"/>
<circle cx="921" cy="875" r="13.2"/>
<circle cx="922" cy="872" r="13.2"/>
<circle cx="897" cy="957" r="13.2"/>
<circle cx="940" cy="957" r="13.2"/>
<circle cx="860" cy="807" r="13.2"/>
<circle cx="861" cy="812" r="13.2"/>
<circle cx="856" cy="810" r="13.2"/>
<circle cx="858" cy="805" r="13.2"/>
<circle cx="847" cy="810" r="13.2"/>
<circle cx="890" cy="773" r="13.2"/>
<circle cx="883" cy="727" r="13.2"/>
<circle cx="993" cy="940" r="13.2"/>
<circle cx="992" cy="939" r="13.2"/>
<circle cx="998" cy="940" r="13.2"/>
<circle cx="992" cy="936" r="13.2"/>
<circle cx="990" cy="960" r="13.2"/>
<circle cx="994" cy="960" r="13.2"/>
<circle cx="995" cy="957" r="13.2"/>
<circle cx="988" cy="961" r="13.2"/>
<circle cx="1090" cy="940" r="13.2"/>
<circle cx="1094" cy="943" r="13.2"/>
<circle cx="1093" cy="936" r="13.2"/>
<circle cx="1090" cy="940" r="13.2"/>
<circle cx="1083" cy="917" r="13.2"/>
<circle cx="830" cy="917" r="13.2"/>
<circle cx="850" cy="733" r="13.2"/>
<circle cx="853" cy="729" r="13.2"/>
<circle cx="849" cy="736" r="13.2"/>
<circle cx="844" cy="733" r="13.2"/>
<circle cx="849" cy="738" r="13.2"/>
<circle cx="856" cy="736" r="13.2"/>
<circle cx="851" cy="738" r="13.2"/>
<circle cx="863" cy="737" r="13.2"/>
<circle cx="865" cy="732" r="13.2"/>
<circle cx="863" cy="732" r="13.2"/>
<circle cx="860" cy="739" r="13.2"/>
<circle cx="880" cy="733" r="13.2"/>
<circle cx="884" cy="729" r="13.2"/>
<circle cx="882" cy="736" r="13.2"/>
<circle cx="885" cy="735" r="13.2"/>
<circle cx="940" cy="954" r="13.2"/>
<circle cx="990" cy="954" r="13.2"/>
<circle cx="957" cy="991" r="13.2"/>
<circle cx="997" cy="987" r="13.2"/>
<circle cx="997" cy="1034" r="13.2"/>
<circle cx="937" cy="1044" r="13.2"/>
<circle cx="917" cy="1034" r="13.2"/>
<circle cx="837" cy="1024" r="13.2"/>
<circle cx="833" cy="1022" r="13.2"/>
<circle cx="841" cy="1029" r="13.2"/>
<circle cx="839" cy="1022" r="13.2"/>
<circle cx="1157" cy="1007" r="13.2"/>
<circle cx="1159" cy="1008" r="13.2"/>
<circle cx="1156" cy="1008" r="13.2"/>
<circle cx="1157" cy="1004" r="13.2"/>
<circle cx="1070" cy="1044" r="13.2"/>
<circle cx="1065" cy="1043" r="13.2"/>
<circle cx="1075" cy="1040" r="13.2"/>
<circle cx="1073" cy="1040" r="13.2"/>
<circle cx="1097" cy="1041" r="13.2"/>
<circle cx="1103" cy="1042" r="13.2"/>
<circle cx="1098" cy="1037" r="13.2"/>
<circle cx="1101" cy="1037" r="13.2"/>
<circle cx="1091" cy="1044" r="13.2"/>
<circle cx="1091" cy="1037" r="13.2"/>
<circle cx="1097" cy="1040" r="13.2"/>
<circle cx="1080" cy="1061" r="13.2"/>
<circle cx="1075" cy="1057" r="13.2"/>
<circle cx="1082" cy="1062" r="13.2"/>
<circle cx="1079" cy="1059" r="13.2"/>
<circle cx="1038" cy="1067" r="13.2"/>
<circle cx="1035" cy="1101" r="13.2"/>
<circle cx="1034" cy="1105" r="13.2"/>
<circle cx="1035" cy="1105" r="13.2"/>
<circle cx="1040" cy="1102" r="13.2"/>
<circle cx="1130" cy="1069" r="13.2"/>
<circle cx="1133" cy="1073" r="13.2"/>
<circle cx="1129" cy="1065" r="13.2"/>
<circle cx="1130" cy="1066" r="13.2"/>
<circle cx="1131" cy="1066" r="13.2"/>
<circle cx="1128" cy="1071" r="13.2"/>
<circle cx="1126" cy="1073" r="13.2"/>
<circle cx="1150" cy="1086" r="13.2"/>
<circle cx="1152" cy="1088" r="13.2"/>
<circle cx="1150" cy="1084" r="13.2"/>
<circle cx="1146" cy="1089" r="13.2"/>
<circle cx="1149" cy="1089" r="13.2"/>
<circle cx="1151" cy="1082" r="13.2"/>
<circle cx="1154" cy="1090" r="13.2"/>
<circle cx="1185" cy="1141" r="13.2"/>
<circle cx="1207" cy="1117" r="13.2"/>
<circle cx="1203" cy="1122" r="13.2"/>
<circle cx="1211" cy="1119" r="13.2"/>
<circle cx="1203" cy="1114" r="13.2"/>
<circle cx="1227" cy="1046" r="13.2"/>
<circle cx="1298" cy="1066" r="13.2"/>
<circle cx="1313" cy="976" r="13.2"/>
<circle cx="1360" cy="972" r="13.2"/>
<circle cx="1385" cy="1051" r="13.2"/>
<circle cx="1397" cy="1011" r="13.2"/>
<circle cx="1395" cy="1014" r="13.2"/>
<circle cx="1394" cy="1010" r="13.2"/>
<circle cx="1399" cy="1007" r="13.2"/>
<circle cx="1417" cy="1031" r="13.2"/>
<circle cx="1415" cy="1028" r="13.2"/>
<circle cx="1413" cy="1032" r="13.2"/>
<circle cx="1418" cy="1036" r="13.2"/>
<circle cx="1422" cy="1028" r="13.2"/>
<circle cx="1412" cy="1032" r="13.2"/>
<circle cx="1415" cy="1025" r="13.2"/>
<circle cx="1447" cy="969" r="13.2"/>
<circle cx="1449" cy="968" r="13.2"/>
<circle cx="1450" cy="965" r="13.2"/>
<circle cx="1449" cy="964" r="13.2"/>
<circle cx="1686" cy="954" r="13.2"/>
<circle cx="1674" cy="994" r="13.2"/>
<circle cx="1679" cy="998" r="13.2"/>
<circle cx="1670" cy="991" r="13.2"/>
<circle cx="1674" cy="992" r="13.2"/>
<circle cx="1709" cy="1024" r="13.2"/>
<circle cx="673" cy="827" r="13.2"/>
<circle cx="678" cy="832" r="13.2"/>
<circle cx="674" cy="828" r="13.2"/>
<circle cx="674" cy="826" r="13.2"/>
<circle cx="668" cy="821" r="13.2"/>
<circle cx="677" cy="828" r="13.2"/>
<circle cx="679" cy="823" r="13.2"/>
<circle cx="693" cy="853" r="13.2"/>
<circle cx="697" cy="851" r="13.2"/>
<circle cx="695" cy="851" r="13.2"/>
<circle cx="687" cy="859" r="13.2"/>
<circle cx="696" cy="855" r="13.2"/>
<circle cx="692" cy="848" r="13.2"/>
<circle cx="689" cy="856" r="13.2"/>
<circle cx="690" cy="855" r="13.2"/>
<circle cx="694" cy="847" r="13.2"/>
<circle cx="713" cy="840" r="13.2"/>
<circle cx="718" cy="842" r="13.2"/>
<circle cx="719" cy="846" r="13.2"/>
<circle cx="719" cy="844" r="13.2"/>
<circle cx="716" cy="836" r="13.2"/>
<circle cx="710" cy="838" r="13.2"/>
<circle cx="708" cy="842" r="13.2"/>
<circle cx="627" cy="803" r="13.2"/>
<circle cx="630" cy="803" r="13.2"/>
<circle cx="625" cy="808" r="13.2"/>
<circle cx="626" cy="805" r="13.2"/>
<circle cx="680" cy="867" r="13.2"/>
<circle cx="681" cy="863" r="13.2"/>
<circle cx="685" cy="868" r="13.2"/>
<circle cx="681" cy="864" r="13.2"/>
<circle cx="680" cy="868" r="13.2"/>
<circle cx="675" cy="864" r="13.2"/>
<circle cx="675" cy="866" r="13.2"/>
</g>
<g fill="#d62728">
<circle cx="384" cy="546" r="13.2"/>
<circle cx="403" cy="632" r="13.2"/>
<circle cx="282" cy="840" r="13.2"/>
<circle cx="545" cy="725" r="13.2"/>
<circle cx="538" cy="737" r="13.2"/>
<circle cx="536" cy="740" r="13.2"/>
<circle cx="542" cy="734" r="13.2"/>
<circle cx="541" cy="735" r="13.2"/>
<circle cx="535" cy="733" r="13.2"/>
<circle cx="544" cy="735" r="13.2"/>
<circle cx="538" cy="737" r="13.2"/>
<circle cx="537" cy="753" r="13.2"/>
<circle cx="532" cy="756" r="13.2"/>
<circle cx="539" cy="757" r="13.2"/>
<circle cx="535" cy="750" r="13.2"/>
<circle cx="517" cy="775" r="13.2"/>
<circle cx="515" cy="777" r="13.2"/>
<circle cx="518" cy="774" r="13.2"/>
<circle cx="517" cy="772" r="13.2"/>
<circle cx="533" cy="790" r="13.2"/>
<circle cx="538" cy="790" r="13.2"/>
<circle cx="533" cy="793" r="13.2"/>
<circle cx="530" cy="792" r="13.2"/>
<circle cx="530" cy="813" r="13.2"/>
<circle cx="529" cy="816" r="13.2"/>
<circle cx="526" cy="811" r="13.2"/>
<circle cx="531" cy="813" r="13.2"/>
<circle cx="478" cy="918" r="13.2"/>
<circle cx="538" cy="917" r="13.2"/>
<circle cx="537" cy="918" r="13.2"/>
<circle cx="535" cy="916" r="13.2"/>
<circle cx="532" cy="920" r="13.2"/>
<circle cx="535" cy="921" r="13.2"/>
<circle cx="539" cy="918" r="13.2"/>
<circle cx="540" cy="912" r="13.2"/>
<circle cx="540" cy="933" r="13.2"/>
<circle cx="543" cy="931" r="13.2"/>
<circle cx="544" cy="937" r="13.2"/>
<circle cx="542" cy="937" r="13.2"/>
<circle cx="539" cy="935" r="13.2"/>
<circle cx="545" cy="930" r="13.2"/>
<circle cx="535" cy="932" r="13.2"/>
<circle cx="547" cy="923" r="13.2"/>
<circle cx="547" cy="920" r="13.2"/>
<circle cx="544" cy="927" r="13.2"/>
<circle cx="546" cy="920" r="13.2"/>
<circle cx="667" cy="795" r="13.2"/>
<circle cx="673" cy="803" r="13.2"/>
<circle cx="657" cy="833" r="13.2"/>
<circle cx="682" cy="835" r="13.2"/>
<circle cx="707" cy="832" r="13.2"/>
<circle cx="737" cy="825" r="13.2"/>
<circle cx="642" cy="857" r="13.2"/>
<circle cx="638" cy="857" r="13.2"/>
<circle cx="639" cy="856" r="13.2"/>
<circle cx="642" cy="856" r="13.2"/>
<circle cx="750" cy="750" r="13.2"/>
<circle cx="750" cy="753" r="13.2"/>
<circle cx="745" cy="754" r="13.2"/>
<circle cx="747" cy="745" r="13.2"/>
<circle cx="827" cy="840" r="13.2"/>
<circle cx="360" cy="996" r="13.2"/>
<circle cx="553" cy="991" r="13.2"/>
<circle cx="553" cy="988" r="13.2"/>
<circle cx="554" cy="988" r="13.2"/>
<circle cx="551" cy="992" r="13.2"/>
<circle cx="548" cy="994" r="13.2"/>
<circle cx="553" cy="987" r="13.2"/>
<circle cx="549" cy="991" r="13.2"/>
<circle cx="570" cy="1004" r="13.2"/>
<circle cx="570" cy="1007" r="13.2"/>
<circle cx="568" cy="1003" r="13.2"/>
<circle cx="575" cy="1001" r="13.2"/>
<circle cx="576" cy="1009" r="13.2"/>
<circle cx="576" cy="1009" r="13.2"/>
<circle cx="567" cy="1008" r="13.2"/>
<circle cx="590" cy="1001" r="13.2"/>
<circle cx="591" cy="998" r="13.2"/>
<circle cx="595" cy="1002" r="13.2"/>
<circle cx="593" cy="1001" r="13.2"/>
<circle cx="577" cy="1014" r="13.2"/>
<circle cx="572" cy="1018" r="13.2"/>
<circle cx="573" cy="1012" r="13.2"/>
<circle cx="578" cy="1011" r="13.2"/>
<circle cx="817" cy="992" r="13.2"/>
<circle cx="671" cy="436" r="13.2"/>
<circle cx="661" cy="486" r="13.2"/>
<circle cx="686" cy="502" r="13.2"/>
<circle cx="688" cy="501" r="13.2"/>
<circle cx="683" cy="499" r="13.2"/>
<circle cx="685" cy="499" r="13.2"/>
<circle cx="685" cy="520" r="13.2"/>
<circle cx="684" cy="521" r="13.2"/>
<circle cx="686" cy="519" r="13.2"/>
<circle cx="688" cy="516" r="13.2"/>
<circle cx="678" cy="528" r="13.2"/>
<circle cx="859" cy="502" r="13.2"/>
<circle cx="772" cy="555" r="13.2"/>
<circle cx="770" cy="560" r="13.2"/>
<circle cx="777" cy="560" r="13.2"/>
<circle cx="776" cy="555" r="13.2"/>
<circle cx="776" cy="556" r="13.2"/>
<circle cx="768" cy="552" r="13.2"/>
<circle cx="768" cy="560" r="13.2"/>
<circle cx="835" cy="552" r="13.2"/>
<circle cx="833" cy="552" r="13.2"/>
<circle cx="835" cy="549" r="13.2"/>
<circle cx="837" cy="555" r="13.2"/>
<circle cx="740" cy="575" r="13.2"/>
<circle cx="744" cy="580" r="13.2"/>
<circle cx="738" cy="571" r="13.2"/>
<circle cx="743" cy="577" r="13.2"/>
<circle cx="738" cy="573" r="13.2"/>
<circle cx="736" cy="579" r="13.2"/>
<circle cx="740" cy="579" r="13.2"/>
<circle cx="755" cy="592" r="13.2"/>
<circle cx="753" cy="590" r="13.2"/>
<circle cx="755" cy="596" r="13.2"/>
<circle cx="760" cy="590" r="13.2"/>
<circle cx="758" cy="591" r="13.2"/>
<circle cx="760" cy="596" r="13.2"/>
<circle cx="756" cy="591" r="13.2"/>
<circle cx="752" cy="598" r="13.2"/>
<circle cx="759" cy="590" r="13.2"/>
<circle cx="770" cy="605" r="13.2"/>
<circle cx="764" cy="601" r="13.2"/>
<circle cx="776" cy="599" r="13.2"/>
<circle cx="774" cy="605" r="13.2"/>
<circle cx="771" cy="606" r="13.2"/>
<circle cx="769" cy="606" r="13.2"/>
<circle cx="764" cy="611" r="13.2"/>
<circle cx="764" cy="600" r="13.2"/>
<circle cx="772" cy="607" r="13.2"/>
<circle cx="760" cy="615" r="13.2"/>
<circle cx="763" cy="617" r="13.2"/>
<circle cx="764" cy="611" r="13.2"/>
<circle cx="755" cy="612" r="13.2"/>
<circle cx="775" cy="580" r="13.2"/>
<circle cx="828" cy="578" r="13.2"/>
<circle cx="875" cy="580" r="13.2"/>
<circle cx="640" cy="648" r="13.2"/>
<circle cx="662" cy="652" r="13.2"/>
<circle cx="665" cy="649" r="13.2"/>
<circle cx="663" cy="655" r="13.2"/>
<circle cx="659" cy="653" r="13.2"/>
<circle cx="708" cy="632" r="13.2"/>
<circle cx="749" cy="686" r="13.2"/>
<circle cx="812" cy="645" r="13.2"/>
<circle cx="817" cy="647" r="13.2"/>
<circle cx="811" cy="645" r="13.2"/>
<circle cx="810" cy="650" r="13.2"/>
<circle cx="818" cy="662" r="13.2"/>
<circle cx="820" cy="664" r="13.2"/>
<circle cx="816" cy="665" r="13.2"/>
<circle cx="817" cy="665" r="13.2"/>
<circle cx="810" cy="655" r="13.2"/>
<circle cx="758" cy="715" r="13.2"/>
<circle cx="840" cy="702" r="13.2"/>
<circle cx="865" cy="710" r="13.2"/>
<circle cx="864" cy="714" r="13.2"/>
<circle cx="867" cy="710" r="13.2"/>
<circle cx="866" cy="713" r="13.2"/>
<circle cx="765" cy="98" r="13.2"/>
<circle cx="765" cy="133" r="13.2"/>
<circle cx="720" cy="115" r="13.2"/>
<circle cx="719" cy="111" r="13.2"/>
<circle cx="716" cy="115" r="13.2"/>
<circle cx="718" cy="115" r="13.2"/>
<circle cx="743" cy="360" r="13.2"/>
<circle cx="760" cy="361" r="13.2"/>
<circle cx="756" cy="360" r="13.2"/>
<circle cx="760" cy="357" r="13.2"/>
<circle cx="760" cy="365" r="13.2"/>
<circle cx="436" cy="411" r="13.2"/>
<circle cx="1198" cy="345" r="13.2"/>
<circle cx="1197" cy="342" r="13.2"/>
<circle cx="1201" cy="343" r="13.2"/>
<circle cx="1200" cy="347" r="13.2"/>
<circle cx="1177" cy="392" r="13.2"/>
<circle cx="1224" cy="432" r="13.2"/>
<circle cx="1359" cy="352" r="13.2"/>
<circle cx="1400" cy="408" r="13.2"/>
<circle cx="1368" cy="460" r="13.2"/>
<circle cx="1410" cy="458" r="13.2"/>
<circle cx="1450" cy="272" r="13.2"/>
<circle cx="1446" cy="274" r="13.2"/>
<circle cx="1449" cy="270" r="13.2"/>
<circle cx="1452" cy="274" r="13.2"/>
<circle cx="1397" cy="282" r="13.2"/>
<circle cx="1467" cy="362" r="13.2"/>
<circle cx="1467" cy="350" r="13.2"/>
<circle cx="1118" cy="510" r="13.2"/>
<circle cx="1115" cy="512" r="13.2"/>
<circle cx="1114" cy="506" r="13.2"/>
<circle cx="1122" cy="514" r="13.2"/>
<circle cx="1503" cy="540" r="13.2"/>
<circle cx="1508" cy="546" r="13.2"/>
<circle cx="1506" cy="541" r="13.2"/>
<circle cx="1503" cy="540" r="13.2"/>
<circle cx="1508" cy="546" r="13.2"/>
<circle cx="1502" cy="536" r="13.2"/>
<circle cx="1503" cy="539" r="13.2"/>
<circle cx="1438" cy="536" r="13.2"/>
<circle cx="1423" cy="588" r="13.2"/>
<circle cx="1426" cy="592" r="13.2"/>
<circle cx="1424" cy="583" r="13.2"/>
<circle cx="1423" cy="584" r="13.2"/>
<circle cx="1538" cy="572" r="13.2"/>
<circle cx="1218" cy="588" r="13.2"/>
<circle cx="1491" cy="203" r="13.2"/>
<circle cx="1579" cy="470" r="13.2"/>
<circle cx="1581" cy="465" r="13.2"/>
<circle cx="1579" cy="474" r="13.2"/>
<circle cx="1574" cy="466" r="13.2"/>
<circle cx="1574" cy="474" r="13.2"/>
<circle cx="1581" cy="467" r="13.2"/>
<circle cx="1584" cy="466" r="13.2"/>
<circle cx="1578" cy="486" r="13.2"/>
<circle cx="1578" cy="489" r="13.2"/>
<circle cx="1579" cy="481" r="13.2"/>
<circle cx="1572" cy="483" r="13.2"/>
<circle cx="1583" cy="491" r="13.2"/>
<circle cx="1575" cy="481" r="13.2"/>
<circle cx="1579" cy="483" r="13.2"/>
<circle cx="1608" cy="550" r="13.2"/>
<circle cx="1612" cy="554" r="13.2"/>
<circle cx="1610" cy="552" r="13.2"/>
<circle cx="1610" cy="553" r="13.2"/>
<circle cx="1424" cy="592" r="13.2"/>
<circle cx="1428" cy="587" r="13.2"/>
<circle cx="1423" cy="596" r="13.2"/>
<circle cx="1423" cy="588" r="13.2"/>
<circle cx="1419" cy="594" r="13.2"/>
<circle cx="1419" cy="590" r="13.2"/>
<circle cx="1424" cy="588" r="13.2"/>
<circle cx="1514" cy="593" r="13.2"/>
<circle cx="1404" cy="647" r="13.2"/>
<circle cx="1474" cy="680" r="13.2"/>
<circle cx="1474" cy="682" r="13.2"/>
<circle cx="1470" cy="678" r="13.2"/>
<circle cx="1476" cy="681" r="13.2"/>
<circle cx="1491" cy="677" r="13.2"/>
<circle cx="1492" cy="675" r="13.2"/>
<circle cx="1490" cy="681" r="13.2"/>
<circle cx="1491" cy="675" r="13.2"/>
<circle cx="1539" cy="675" r="13.2"/>
<circle cx="1581" cy="683" r="13.2"/>
<circle cx="1581" cy="679" r="13.2"/>
<circle cx="1582" cy="689" r="13.2"/>
<circle cx="1583" cy="677" r="13.2"/>
<circle cx="1585" cy="680" r="13.2"/>
<circle cx="1575" cy="681" r="13.2"/>
<circle cx="1581" cy="677" r="13.2"/>
<circle cx="1588" cy="700" r="13.2"/>
<circle cx="1593" cy="699" r="13.2"/>
<circle cx="1583" cy="702" r="13.2"/>
<circle cx="1592" cy="695" r="13.2"/>
<circle cx="1451" cy="707" r="13.2"/>
<circle cx="1448" cy="703" r="13.2"/>
<circle cx="1450" cy="705" r="13.2"/>
<circle cx="1446" cy="711" r="13.2"/>
<circle cx="1438" cy="733" r="13.2"/>
<circle cx="1456" cy="743" r="13.2"/>
<circle cx="1460" cy="740" r="13.2"/>
<circle cx="1458" cy="743" r="13.2"/>
<circle cx="1460" cy="740" r="13.2"/>
<circle cx="1462" cy="747" r="13.2"/>
<circle cx="1458" cy="744" r="13.2"/>
<circle cx="1458" cy="737" r="13.2"/>
<circle cx="1461" cy="743" r="13.2"/>
<circle cx="1452" cy="741" r="13.2"/>
<circle cx="1413" cy="800" r="13.2"/>
<circle cx="1354" cy="833" r="13.2"/>
<circle cx="1357" cy="836" r="13.2"/>
<circle cx="1351" cy="832" r="13.2"/>
<circle cx="1359" cy="829" r="13.2"/>
<circle cx="1683" cy="797" r="13.2"/>
<circle cx="1396" cy="870" r="13.2"/>
<circle cx="1848" cy="727" r="13.2"/>
<circle cx="1854" cy="730" r="13.2"/>
<circle cx="1534" cy="983" r="13.2"/>
<circle cx="1533" cy="989" r="13.2"/>
<circle cx="1537" cy="984" r="13.2"/>
<circle cx="1534" cy="978" r="13.2"/>
<circle cx="1537" cy="981" r="13.2"/>
<circle cx="1529" cy="989" r="13.2"/>
<circle cx="1529" cy="983" r="13.2"/>
<circle cx="1217" cy="592" r="13.2"/>
<circle cx="1260" cy="627" r="13.2"/>
<circle cx="1264" cy="628" r="13.2"/>
<circle cx="1267" cy="620" r="13.2"/>
<circle cx="1259" cy="624" r="13.2"/>
<circle cx="1268" cy="634" r="13.2"/>
<circle cx="1257" cy="621" r="13.2"/>
<circle cx="1261" cy="623" r="13.2"/>
<circle cx="1268" cy="630" r="13.2"/>
<circle cx="1264" cy="624" r="13.2"/>
<circle cx="1261" cy="628" r="13.2"/>
<circle cx="1264" cy="627" r="13.2"/>
<circle cx="1250" cy="607" r="13.2"/>
<circle cx="1249" cy="604" r="13.2"/>
<circle cx="1247" cy="609" r="13.2"/>
<circle cx="1252" cy="608" r="13.2"/>
<circle cx="1273" cy="643" r="13.2"/>
<circle cx="1277" cy="640" r="13.2"/>
<circle cx="1277" cy="642" r="13.2"/>
<circle cx="1272" cy="648" r="13.2"/>
<circle cx="1290" cy="712" r="13.2"/>
<circle cx="1289" cy="709" r="13.2"/>
<circle cx="1295" cy="714" r="13.2"/>
<circle cx="1290" cy="713" r="13.2"/>
<circle cx="1227" cy="737" r="13.2"/>
<circle cx="1173" cy="753" r="13.2"/>
<circle cx="1169" cy="751" r="13.2"/>
<circle cx="1174" cy="757" r="13.2"/>
<circle cx="1178" cy="759" r="13.2"/>
<circle cx="1178" cy="758" r="13.2"/>
<circle cx="1175" cy="755" r="13.2"/>
<circle cx="1169" cy="755" r="13.2"/>
<circle cx="1170" cy="783" r="13.2"/>
<circle cx="1174" cy="782" r="13.2"/>
<circle cx="1165" cy="780" r="13.2"/>
<circle cx="1175" cy="788" r="13.2"/>
<circle cx="1167" cy="779" r="13.2"/>
<circle cx="1173" cy="782" r="13.2"/>
<circle cx="1167" cy="788" r="13.2"/>
<circle cx="1177" cy="740" r="13.2"/>
<circle cx="1140" cy="813" r="13.2"/>
<circle cx="1136" cy="815" r="13.2"/>
<circle cx="1145" cy="809" r="13.2"/>
<circle cx="1141" cy="809" r="13.2"/>
<circle cx="1323" cy="800" r="13.2"/>
<circle cx="1325" cy="795" r="13.2"/>
<circle cx="1324" cy="801" r="13.2"/>
<circle cx="1327" cy="799" r="13.2"/>
<circle cx="1319" cy="805" r="13.2"/>
<circle cx="1325" cy="802" r="13.2"/>
<circle cx="1323" cy="805" r="13.2"/>
<circle cx="1337" cy="783" r="13.2"/>
<circle cx="1337" cy="781" r="13.2"/>
<circle cx="1336" cy="786" r="13.2"/>
<circle cx="1336" cy="783" r="13.2"/>
<circle cx="1350" cy="780" r="13.2"/>
<circle cx="1263" cy="867" r="13.2"/>
<circle cx="1261" cy="864" r="13.2"/>
<circle cx="1262" cy="865" r="13.2"/>
<circle cx="1265" cy="868" r="13.2"/>
<circle cx="1193" cy="867" r="13.2"/>
<circle cx="1188" cy="865" r="13.2"/>
<circle cx="1188" cy="869" r="13.2"/>
<circle cx="1191" cy="870" r="13.2"/>
<circle cx="1142" cy="890" r="13.2"/>
<circle cx="1143" cy="892" r="13.2"/>
<circle cx="1145" cy="891" r="13.2"/>
<circle cx="1144" cy="893" r="13.2"/>
<circle cx="1270" cy="960" r="13.2"/>
<circle cx="840" cy="833" r="13.2"/>
<circle cx="836" cy="835" r="13.2"/>
<circle cx="843" cy="831" r="13.2"/>
<circle cx="839" cy="837" r="13.2"/>
<circle cx="910" cy="960" r="13.2"/>
<circle cx="843" cy="767" r="13.2"/>
<circle cx="848" cy="764" r="13.2"/>
<circle cx="843" cy="767" r="13.2"/>
<circle cx="844" cy="764" r="13.2"/>
<circle cx="880" cy="737" r="13.2"/>
<circle cx="879" cy="740" r="13.2"/>
<circle cx="877" cy="740" r="13.2"/>
<circle cx="885" cy="732" r="13.2"/>
<circle cx="912" cy="992" r="13.2"/>
<circle cx="913" cy="994" r="13.2"/>
<circle cx="915" cy="996" r="13.2"/>
<circle cx="922" cy="992" r="13.2"/>
<circle cx="932" cy="996" r="13.2"/>
<circle cx="915" cy="1003" r="13.2"/>
<circle cx="921" cy="998" r="13.2"/>
<circle cx="930" cy="1003" r="13.2"/>
<circle cx="933" cy="999" r="13.2"/>
<circle cx="920" cy="1010" r="13.2"/>
<circle cx="926" cy="1005" r="13.2"/>
<circle cx="933" cy="1007" r="13.2"/>
<circle cx="937" cy="1006" r="13.2"/>
<circle cx="924" cy="1014" r="13.2"/>
<circle cx="925" cy="1016" r="13.2"/>
<circle cx="935" cy="1012" r="13.2"/>
<circle cx="942" cy="1012" r="13.2"/>
<circle cx="932" cy="1019" r="13.2"/>
<circle cx="939" cy="1020" r="13.2"/>
<circle cx="947" cy="1017" r="13.2"/>
<circle cx="1027" cy="1012" r="13.2"/>
<circle cx="1029" cy="1008" r="13.2"/>
<circle cx="1029" cy="1013" r="13.2"/>
<circle cx="1030" cy="1008" r="13.2"/>
<circle cx="1107" cy="987" r="13.2"/>
<circle cx="1043" cy="1082" r="13.2"/>
<circle cx="1270" cy="961" r="13.2"/>
<circle cx="1280" cy="1031" r="13.2"/>
<circle cx="1283" cy="1035" r="13.2"/>
<circle cx="1284" cy="1028" r="13.2"/>
<circle cx="1277" cy="1035" r="13.2"/>
<circle cx="913" cy="957" r="13.2"/>
<circle cx="1678" cy="1012" r="13.2"/>
</g>
</g>
<g>
<rect x="212" y="52" width="486" height="376.5" rx="9" ry="9" fill="#fff" fill-opacity="0.8" stroke="#ccc" stroke-opacity="0.8" stroke-width="3.2"/>
<circle cx="297.8" cy="106.6" r="13.6" fill="#1f77b4"/>
<text x="410.5" y="124.1" fill="#000" font-size="63.5">Nominal</text>
<circle cx="297.8" cy="196.6" r="13.6" fill="#ff7f0e"/>
<text x="410.5" y="214.1" fill="#000" font-size="63.5">Speed</text>
<circle cx="297.8" cy="287.0" r="13.6" fill="#2ca02c"/>
<text x="410.5" y="304.5" fill="#000" font-size="63.5">Path</text>
<circle cx="297.8" cy="377.5" r="13.6" fill="#d62728"/>
<text x="410.5" y="395.0" fill="#000" font-size="63.5">Control</text>
</g>
<g stroke="#262626" stroke-width="3.7" fill="none">
<rect x="180.6" y="19.8" width="1749.6" height="1279"/>
<line x1="246.9" y1="1298.8" x2="246.9" y2="1316"/>
<line x1="443.1" y1="1298.8" x2="443.1" y2="1316"/>
<line x1="639.2" y1="1298.8" x2="639.2" y2="1316"/>
<line x1="835.4" y1="1298.8" x2="835.4" y2="1316"/>
<line x1="1031.5" y1="1298.8" x2="1031.5" y2="1316"/>
<line x1="1227.7" y1="1298.8" x2="1227.7" y2="1316"/>
<line x1="1423.8" y1="1298.8" x2="1423.8" y2="1316"/>
<line x1="1619.9" y1="1298.8" x2="1619.9" y2="1316"/>
<line x1="1816.1" y1="1298.8" x2="1816.1" y2="1316"/>
<line x1="168.5" y1="1244.0" x2="180.6" y2="1244.0"/>
<line x1="168.5" y1="978.3" x2="180.6" y2="978.3"/>
<line x1="168.5" y1="712.6" x2="180.6" y2="712.6"/>
<line x1="168.5" y1="446.9" x2="180.6" y2="446.9"/>
<line x1="168.5" y1="181.2" x2="180.6" y2="181.2"/>
</g>
<g fill="#0d0d0d">
<text x="246.9" y="1370.5" text-anchor="middle">−80</text>
<text x="443.1" y="1370.5" text-anchor="middle">−60</text>
<text x="639.2" y="1370.5" text-anchor="middle">−40</text>
<text x="835.4" y="1370.5" text-anchor="middle">−20</text>
<text x="1031.5" y="1370.5" text-anchor="middle">0</text>
<text x="1227.7" y="1370.5" text-anchor="middle">20</text>
<text x="1423.8" y="1370.5" text-anchor="middle">40</text>
<text x="1619.9" y="1370.5" text-anchor="middle">60</text>
<text x="1816.1" y="1370.5" text-anchor="middle">80</text>
<text x="150.3" y="1266.2" text-anchor="end">−40</text>
<text x="150.3" y="1000.5" text-anchor="end">−20</text>
<text x="150.3" y="734.8" text-anchor="end">0</text>
<text x="150.3" y="469.1" text-anchor="end">20</text>
<text x="150.3" y="203.4" text-anchor="end">40</text>
</g>
</svg>
</body></html>
